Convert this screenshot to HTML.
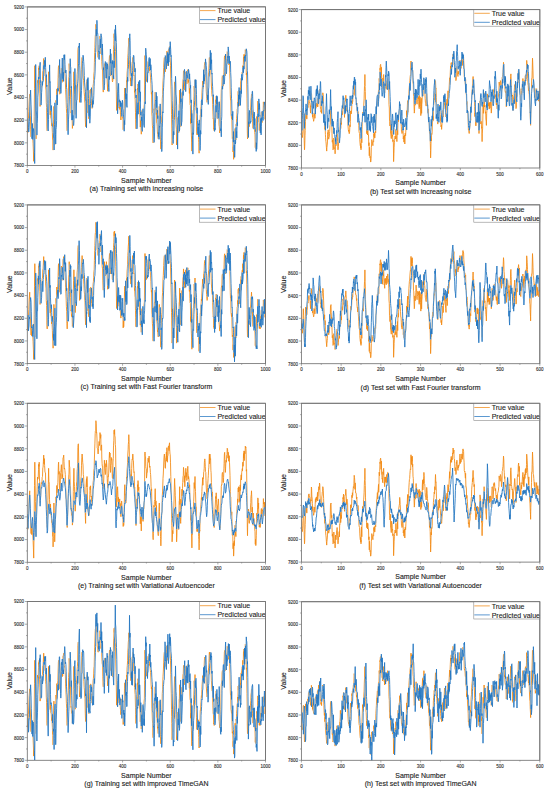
<!DOCTYPE html>
<html><head><meta charset="utf-8"><title>Figure</title>
<style>
html,body{margin:0;padding:0;background:#fff;width:550px;height:794px;overflow:hidden}
svg{display:block}
text{font-family:"Liberation Sans", sans-serif;fill:#222}
.tk{font-size:4.5px;stroke:#3a3a3a;stroke-width:0.1px}
.lb{font-size:7px;stroke:#222;stroke-width:0.12px}
.lg{font-size:7px;stroke:#222;stroke-width:0.1px}
</style></head><body>
<svg width="550" height="794" viewBox="0 0 550 794">
<rect width="550" height="794" fill="#fff"/>
<clipPath id="ca"><rect x="27.3" y="6.9" width="238.2" height="158.6"/></clipPath><g clip-path="url(#ca)">
<path d="M27 118.6 27.3 121.8 27.5 130.1 27.8 132.6 28 130.8 28.4 119.6 28.8 111.3 29.2 101.2 29.7 94.2 30 107.1 30.4 115.3 30.7 129.2 31.1 136.9 31.4 127 31.8 138 32.2 128.9 32.5 126.7 32.8 138.1 33.1 143.5 33.4 151.2 33.7 161.3 34 139.2 34.2 116.8 34.5 88.8 34.8 65.7 35.1 83.4 35.4 105 35.7 117.2 36 138.9 36.3 120.7 36.6 116.1 36.9 99.6 37.2 90.1 37.5 80.4 37.7 82.8 38 82.1 38.2 81.9 38.5 73.1 38.7 67.9 39 69.9 39.2 65.7 39.4 79.4 39.6 85.1 39.9 93.2 40.1 106.4 40.4 102.8 40.7 99 41 89.9 41.3 86 41.6 86.6 41.9 87.1 42.2 80.6 42.5 79.9 42.8 71.3 43.1 70.6 43.4 64.9 43.7 58.5 44 67.2 44.3 62.1 44.6 68.9 45 75.8 45.2 76.1 45.5 76.1 45.7 87 46 90.1 46.3 102.4 46.6 107.5 46.9 126.1 47.2 130.8 47.6 119.3 47.9 103.8 48.3 88.1 48.6 71.8 48.9 85.2 49.2 85.8 49.5 103.2 49.9 110.4 50.2 114.9 50.5 107.5 50.8 117.9 51.1 118.6 51.3 119.6 51.6 125.7 51.8 122.9 52.1 126.7 52.4 132.5 52.6 139.8 52.9 140.8 53.1 150.1 53.3 141.6 53.5 127.8 53.7 119.3 53.9 106.4 54.1 114 54.3 130 54.5 137.8 54.7 145 55.1 133.1 55.4 125.2 55.7 116.4 56 100.3 56.4 104.8 56.8 88.9 57.2 96.1 57.6 90.1 57.9 85.8 58.1 77.5 58.4 67.8 58.6 65.7 58.9 77.8 59.2 74.9 59.5 89.3 59.8 94.2 60.2 93.7 60.5 76.6 60.8 76.2 61.1 71.8 61.4 68.1 61.7 75.8 62 82.4 62.3 77.9 62.7 81.1 63 61.2 63.4 61.1 63.7 58.5 64 65.1 64.3 72.4 64.6 71.7 64.9 73.8 65.3 78 65.6 89.2 65.9 95.1 66.2 102.3 66.4 108.6 66.7 113.6 66.9 125.2 67.2 130.8 67.5 123.4 67.8 113.1 68.1 104 68.4 96.2 68.6 83 68.8 78 69 76.5 69.2 63.6 69.5 69.5 69.8 71.1 70.2 88.8 70.5 90.1 70.7 99.3 71 112.7 71.2 111.7 71.5 118.6 71.8 118.3 72.1 115.9 72.4 128.4 72.7 124.7 73 121.6 73.3 95 73.6 82.4 73.9 71.8 74.2 84.8 74.5 89.8 74.8 102.7 75.2 114.5 75.5 107 75.8 103.1 76.1 100.5 76.4 90.1 76.6 85.6 76.9 84.6 77.1 74.7 77.4 71.8 77.7 67 77.9 51.1 78.2 47.7 78.4 47.3 78.7 64.2 79 72.5 79.3 90.9 79.6 102.3 79.9 99.4 80.3 97.4 80.6 90.2 80.9 81.9 81.2 79.9 81.5 69.3 81.8 60.9 82.1 57.5 82.4 59.7 82.7 65.8 83 68.3 83.3 77.9 83.6 80.3 83.9 86.7 84.2 92.6 84.5 96.2 84.8 102.5 85 103.8 85.3 118.8 85.6 126.7 85.7 118.5 85.8 112.7 85.9 101.5 86 90.1 86.3 85 86.5 82.1 86.8 90.4 87 79.9 87.3 91 87.5 103.5 87.8 112.8 88 112.5 88.3 110.8 88.6 117.1 88.8 118.9 89.1 118.6 89.3 113.7 89.6 106.5 89.8 98 90.1 90.1 90.3 93.3 90.6 89.2 90.8 97.1 91.1 100.3 91.4 99.3 91.6 104.8 91.9 104.5 92.1 108.4 92.4 105.3 92.6 100.5 92.9 92.8 93.1 86 93.4 83.7 93.7 79.3 93.9 73.6 94.2 71.8 94.4 62.5 94.7 52.5 94.9 47.4 95.2 37.2 95.4 34.7 95.7 34.4 95.9 24.3 96.2 27 96.5 36.6 96.7 36.2 97 42.4 97.2 51.4 97.5 52.2 97.7 52.2 98 57.1 98.2 57.5 98.5 52.2 98.8 47.2 99 45 99.3 45.3 99.5 49 99.8 42.4 100 36.1 100.3 39.2 100.5 41.8 100.8 38.1 101 53.9 101.3 49.4 101.6 48.4 101.8 61.5 102.1 66.8 102.3 69.7 102.6 69.6 102.8 82.1 103.1 90.5 103.3 92.1 103.6 86.8 103.9 78.9 104.1 74.5 104.4 63.6 104.6 67.8 104.9 72.1 105.1 73.8 105.4 77.9 105.6 76.8 105.9 67 106.1 70.3 106.4 63.6 106.7 67.2 106.9 70.5 107.2 81.9 107.4 86 107.7 91.2 107.9 86.8 108.2 79.4 108.4 79.9 108.7 76.6 109 65.9 109.2 61.1 109.5 55.5 109.7 60.9 110 56.5 110.2 71.5 110.5 75.8 110.7 68.7 111 67 111.2 60.8 111.5 63.6 111.8 62.2 112 69 112.3 80.6 112.5 81.9 112.8 80.4 113 65.6 113.3 61.8 113.5 49.4 113.8 44.3 114.1 33.7 114.3 37.8 114.6 33.1 114.8 39.4 115.1 40.6 115.3 48 115.6 51.4 115.8 68.4 116.1 77.5 116.3 89.8 116.6 110.4 116.9 104.5 117.1 99.4 117.4 93.8 117.6 90.1 117.9 98.1 118.1 105.1 118.4 100.6 118.6 106.4 118.9 108.1 119.2 108.1 119.4 106.1 119.7 102.3 119.9 109.5 120.2 106.9 120.4 114.4 120.7 114.5 120.9 120 121.2 112.6 121.5 104.4 121.7 104.3 122 110.3 122.2 116.5 122.5 116.5 122.7 118.6 123 118.9 123.2 129.8 123.5 121.3 123.7 128.8 124 120.6 124.3 108.3 124.5 93.5 124.8 88 125 97.5 125.3 98.6 125.5 97.2 125.8 106.4 126 102.6 126.3 92.4 126.6 80.5 126.8 81.9 127.1 73.1 127.3 70.8 127.6 66.1 127.8 57.5 128.1 53.3 128.3 48 128.6 44.9 128.8 38.2 129.1 45.7 129.4 59.6 129.6 64 129.9 71.8 130.1 76.5 130.4 81 130.6 78.3 130.9 86 131.1 78.1 131.4 81.9 131.7 72.1 131.9 65.7 132.2 62.5 132.4 62.9 132.7 57.6 132.9 57.5 133.2 63.2 133.4 64 133.7 72.4 133.9 75.8 134.2 75.2 134.5 92.3 134.7 90.6 135 98.2 135.2 99.6 135.5 112.6 135.7 119.6 136 128.8 136.2 122.7 136.5 111 136.8 110.5 137 102.3 137.3 112.1 137.5 88.1 137.8 89.9 138 84 138.3 87.3 138.5 93.9 138.8 90.5 139 102.3 139.3 101.8 139.6 112.3 139.8 114.4 140.1 118.6 140.3 127.1 140.6 119.9 140.8 125.4 141.1 126.7 141.3 134.2 141.6 115.5 141.9 110.9 142.1 110.4 142.4 113.9 142.6 117.4 142.9 124.5 143.1 124.7 143.4 120.6 143.6 112.5 143.9 111.8 144.1 106.4 144.4 104.1 144.6 86 144.8 57.2 145 55.5 145.3 59 145.5 60.2 145.8 70.2 146 71.8 146.3 72.1 146.5 81.5 146.8 78.5 147 75.8 147.3 75.8 147.6 69.5 147.8 65 148.1 61.6 148.3 62.4 148.6 65.7 148.8 62.2 149.1 59.6 149.3 61.2 149.6 70.7 149.8 69.5 150.1 71.8 150.4 76 150.6 77.8 150.9 83.3 151.1 90.1 151.4 94.2 151.6 92.2 151.9 114 152.1 116.5 152.4 125.4 152.7 128.9 152.9 140.5 153.2 143 153.4 136.6 153.7 128.2 153.9 108.8 154.2 110.4 154.4 104.9 154.7 103.4 154.9 103.1 155.2 92.1 155.5 105 155.7 109 156 104.3 156.2 114.5 156.5 108.8 156.7 122.9 157 123.8 157.2 126.7 157.5 133.6 157.8 132.3 158 136.7 158.3 138.9 158.5 124.8 158.8 124.4 159 112.7 159.3 106.4 159.5 114.9 159.8 122.4 160 127.3 160.3 134.9 160.5 139.7 160.6 141.9 160.8 148.6 160.9 149.1 161.1 143 161.3 130.7 161.5 122.3 161.7 116.5 162 114.8 162.3 98.8 162.6 94.5 163 81.9 163.3 77.4 163.7 67.5 164 60.7 164.4 57.5 164.6 61.6 164.9 65.7 165.1 70.6 165.4 71.8 165.7 62.7 165.9 61.3 166.2 59.2 166.4 55.5 166.7 64.4 166.9 51.2 167.2 64.9 167.4 65.7 167.7 59.4 168 59.2 168.2 51.5 168.5 49.4 168.7 50.1 169 54.1 169.2 48.5 169.5 46.3 169.7 52.9 170 57.5 170.2 57.9 170.5 65.7 170.8 80 171 89.3 171.3 99.1 171.5 114.5 171.7 122 171.8 128.9 172 140.4 172.1 145 172.4 140.3 172.6 133.8 172.9 137.1 173.2 126.7 173.5 119.4 173.9 109.4 174.2 95.5 174.6 81.9 174.8 87.6 175.1 92.5 175.3 99.2 175.6 106.4 175.9 119.8 176.1 126.1 176.4 129.5 176.6 145 176.9 138.3 177.1 126.2 177.4 125.8 177.6 118.6 177.9 117.4 178.2 120.7 178.4 129.7 178.7 132.8 178.9 121.8 179.2 104.9 179.4 103.7 179.7 90.1 179.9 107.8 180.2 102.5 180.5 124.8 180.7 126.7 181 117.9 181.2 112.5 181.5 107.7 181.7 102.3 182 92.5 182.2 99.3 182.5 92 182.7 86 183 80 183.3 78.8 183.5 70.8 183.8 73.8 184 76.5 184.3 85.7 184.5 79.2 184.8 90.1 185 83.8 185.3 81.5 185.6 80.5 185.8 71.8 186.1 80.2 186.3 76.1 186.6 78 186.8 84 187.1 82.2 187.3 75.4 187.6 72.1 187.8 69.7 188.1 77.1 188.4 82.5 188.6 79.9 188.9 81.9 189.1 85.8 189.4 93.4 189.6 88.2 189.9 100.3 190.1 104.8 190.4 105.2 190.7 123.5 190.9 118.6 191.2 129.6 191.4 135.4 191.7 142.2 191.9 151.1 192.2 133 192.4 137.7 192.7 133.2 192.9 118.6 193.2 110.1 193.5 110.1 193.7 104.7 194 96.2 194.2 86 194.5 91.8 194.7 89.3 195 79.9 195.2 88.4 195.5 94.9 195.8 105.9 196 110.4 196.3 110.4 196.5 123 196.8 132.9 197 134.9 197.3 127.9 197.5 134.7 197.8 127.1 198 126.7 198.3 125.1 198.6 139.5 198.8 142.7 199.1 153.2 199.3 146.8 199.6 133.3 199.8 134.4 200.1 122.6 200.3 115.6 200.6 115.9 200.9 108.1 201.1 106.4 201.4 101 201.6 102.9 201.9 95 202.1 90.1 202.4 86.5 202.6 81.1 202.9 88.6 203.1 81.9 203.4 82.3 203.7 75.6 203.9 75.3 204.2 71.8 204.4 65.6 204.6 63.7 204.8 62.4 205 63.6 205.3 70.1 205.5 75 205.8 75.9 206 84 206.3 91.5 206.6 96.2 206.8 98.4 207.1 102.3 207.3 101.3 207.6 91 207.8 86.6 208.1 81.9 208.3 79.2 208.6 72.6 208.8 71.4 209.1 63.6 209.4 57.6 209.6 67.2 209.9 57.5 210.1 59.6 210.4 63 210.6 62.2 210.9 74.1 211.1 75.8 211.4 86 211.7 90.3 211.9 94.4 212.2 96.2 212.4 95.6 212.7 104.3 212.9 111.1 213.2 118.6 213.4 117.9 213.7 129.1 213.9 128.5 214.2 130.8 214.5 125.6 214.7 122.5 215 111.7 215.2 110.4 215.5 103.3 215.7 99.8 216 101.7 216.2 96.2 216.5 103.1 216.8 109.7 217 117.3 217.3 118.6 217.5 109.1 217.8 108.2 218 106.9 218.3 102.3 218.5 103.1 218.8 112.4 219 124.6 219.3 126.7 219.6 132.1 219.8 133 220.1 129.9 220.3 130.8 220.6 119.8 220.8 114.7 221.1 98.8 221.3 90.1 221.6 87.9 221.9 88.2 222.1 77.9 222.4 75.8 222.6 76 222.9 80.9 223.1 85.8 223.4 86 223.6 80.8 223.9 72.4 224.1 66.8 224.4 57.5 224.7 55.8 224.9 63.3 225.2 71.9 225.4 75.8 225.7 69.6 225.9 65.4 226.2 63.4 226.4 65.7 226.7 58.7 227 58.3 227.2 51.7 227.5 52.4 227.7 54.6 228 61.7 228.2 55.7 228.5 57.5 228.7 64.6 229 62.7 229.2 59.2 229.5 65.7 229.8 73.3 230 79.1 230.3 94.7 230.5 100.3 230.8 100.3 231 114.7 231.3 116.3 231.5 118.6 231.8 115.1 232.1 130.8 232.3 138.5 232.6 136.9 232.8 139.4 233.1 152 233.3 146.6 233.6 159.3 233.8 156.2 234.1 144.6 234.3 149 234.6 143 234.9 133.9 235.1 128.5 235.4 138.5 235.6 134.9 235.9 139.9 236.1 124.4 236.4 125.9 236.6 118.6 236.9 114.9 237.2 109.2 237.4 108.8 237.7 102.3 237.9 105.8 238.2 91.3 238.4 95.4 238.7 90.1 238.9 94.5 239.2 90.5 239.5 105.6 239.7 102.3 240 104.9 240.2 88.3 240.5 93.9 240.7 81.9 241 80.6 241.2 78.2 241.5 83.3 241.7 75.8 242 74.2 242.3 72 242.5 74.2 242.8 65.7 243 69.8 243.3 67.2 243.5 57.1 243.8 61.6 244 54.3 244.3 64 244.6 54.9 244.8 57.5 245.1 56.3 245.3 49.7 245.6 51.4 245.8 50.4 246.1 54.2 246.3 74.7 246.6 73.1 246.8 86 247 98.8 247.2 111.7 247.3 130.5 247.5 138.9 247.7 126.7 248 125.6 248.2 118.3 248.5 112.5 248.7 118.1 248.9 121.5 249.1 121.3 249.3 126.7 249.6 123.6 249.9 117.1 250.2 116.4 250.5 110.4 250.8 106 251 99.7 251.3 98.1 251.5 94.2 251.8 101.7 252 115.3 252.3 110.5 252.6 118.6 252.8 121.8 253.1 128.4 253.3 116.4 253.6 126.7 253.9 121.8 254.3 126.1 254.7 132.4 255 134.9 255.3 147.6 255.5 142.5 255.8 148.8 256 147.1 256.3 139.1 256.5 123.1 256.8 116.5 257 118.6 257.3 118.5 257.6 111.2 257.8 101.2 258.1 102.3 258.3 111.8 258.6 106.4 258.8 122.1 259.1 122.6 259.3 130.4 259.6 123.7 259.9 124.4 260.1 130.8 260.4 130.1 260.6 118.3 260.9 122 261.1 114.5 261.4 111.8 261.6 121.8 261.9 121 262.1 122.6 262.4 117.9 262.7 113 262.9 114.4 263.2 110.4 263.4 101.9 263.7 107.3 263.9 105.8 264.2 106.4 264.5 111.1 264.8 105.5 265.1 119.3 265.4 114.5" fill="none" stroke="#f28c18" stroke-width="0.88" stroke-linejoin="round"/>
<path d="M28 118.3 28.2 121.6 28.5 127.7 28.7 132 29 129.8 29.4 121.7 29.8 106.8 30.2 97.2 30.6 90.1 31 104.1 31.3 111 31.7 126 32 138.8 32.4 123.5 32.7 139.5 33.1 132.9 33.5 128.5 33.8 131.9 34.1 145.1 34.4 152.5 34.7 163.5 34.9 133.9 35.2 116.9 35.5 82 35.7 64.5 36 82.8 36.3 110.2 36.6 115 36.9 135.1 37.2 123.4 37.5 118.1 37.8 97.2 38.2 92 38.4 79.9 38.7 76.9 38.9 79 39.2 78.7 39.4 70.4 39.7 65.7 39.9 65.3 40.2 62.3 40.4 79.1 40.6 83.2 40.8 91.2 41 105.1 41.3 101.8 41.6 92.6 41.9 88.9 42.2 81.4 42.5 85.4 42.8 81.4 43.2 81.5 43.5 78.9 43.8 65.4 44.1 69.3 44.4 60.4 44.7 61 45 66.5 45.3 57.3 45.6 67.3 45.9 73.7 46.2 77.3 46.4 74.7 46.7 86.6 46.9 85.1 47.2 103.5 47.5 112.6 47.8 128.1 48.2 131 48.5 119.3 48.9 99.5 49.2 86 49.6 64.9 49.9 82.4 50.2 81.7 50.5 98.9 50.8 110.6 51.1 109.4 51.4 105.6 51.7 112.8 52 122.2 52.3 123.5 52.5 126.5 52.8 126.4 53 126.7 53.3 132.7 53.6 137.6 53.8 137.3 54.1 150 54.3 139 54.5 124.7 54.7 118.9 54.9 102.8 55.1 106.9 55.3 127.9 55.5 134.8 55.7 144 56 129.3 56.3 127.6 56.6 120.5 56.9 94.9 57.3 105 57.7 88.2 58.1 91.3 58.6 88.5 58.8 87.9 59.1 77.6 59.3 69.6 59.6 59.5 59.9 73.7 60.2 73.7 60.5 89.2 60.8 93.4 61.1 91.8 61.4 73.6 61.7 72.6 62 71 62.3 58 62.6 78.6 62.9 79.6 63.3 72.3 63.6 81.4 64 54.8 64.3 59.7 64.7 54.7 65 64.4 65.3 72.5 65.6 73 65.9 70 66.2 74.8 66.5 87.3 66.8 89.3 67.1 102.5 67.4 107.7 67.6 108.8 67.9 128.3 68.1 134.7 68.5 119.2 68.8 113.8 69.1 106.1 69.4 96.8 69.6 77.6 69.8 71.2 70 73.4 70.2 58.7 70.5 66.3 70.8 67.8 71.1 88.2 71.4 86.4 71.7 97.1 71.9 120.1 72.2 110.1 72.4 119.8 72.7 118.2 73 115.4 73.3 125.4 73.7 125.5 74 120.6 74.3 94.8 74.6 85.1 74.9 68.5 75.2 84.1 75.5 84.5 75.8 101.6 76.1 118.3 76.4 106 76.7 100.3 77 100.1 77.3 88 77.6 83.3 77.8 81.9 78.1 78.3 78.3 67.1 78.6 63.3 78.9 46.1 79.1 47.7 79.4 43 79.7 65.4 80 70.9 80.3 89.9 80.6 97.9 80.9 102.5 81.2 98.4 81.5 90.4 81.8 80 82.1 76.9 82.4 63.3 82.7 60.7 83 55.2 83.3 55.8 83.7 61.4 84 66.2 84.3 75.6 84.6 82.9 84.9 87 85.2 89.1 85.5 91.3 85.7 100.3 86 99.8 86.3 118.4 86.5 127.7 86.6 119.6 86.7 112.8 86.8 99.2 87 89.3 87.2 79.6 87.5 78.9 87.7 90.2 88 77.6 88.2 84.9 88.5 98.4 88.7 107 89 116.4 89.2 105 89.5 115.6 89.8 123.2 90 120.7 90.3 116.1 90.5 103.3 90.8 97.9 91 96.1 91.3 90.8 91.5 87.7 91.8 94.1 92.1 98.4 92.3 98.6 92.6 107.5 92.8 100.7 93.1 103.4 93.3 104.3 93.6 99.8 93.8 95.3 94.1 86.3 94.3 80.3 94.6 79.3 94.9 75.1 95.1 71.1 95.4 59.8 95.6 52.4 95.9 44.2 96.1 29.3 96.4 35.9 96.6 28.2 96.9 20.3 97.2 23.3 97.4 33.5 97.7 33.2 97.9 36.4 98.2 51.6 98.4 50.9 98.7 51 98.9 59 99.2 59.5 99.4 54.5 99.7 50.6 100 44.4 100.2 39 100.5 47.9 100.7 40.4 101 33.8 101.2 35.2 101.5 37 101.7 37.8 102 54.9 102.3 44 102.5 47.5 102.8 59.1 103 64 103.3 70 103.5 67.7 103.8 79.4 104 89.9 104.3 85.7 104.6 84 104.8 76 105.1 68.6 105.3 61.5 105.6 66.3 105.8 68.3 106.1 71.5 106.3 78.2 106.6 78.2 106.8 62.6 107.1 69.2 107.4 64 107.6 64.7 107.9 66.1 108.1 78.1 108.4 83.9 108.6 87.4 108.9 91.5 109.1 76.3 109.4 79.5 109.7 75.4 109.9 65.4 110.2 57.4 110.4 49 110.7 63.2 110.9 53.7 111.2 70.2 111.4 75.1 111.7 70.5 111.9 67.2 112.2 61.9 112.5 63.8 112.7 60.4 113 68 113.2 77.6 113.5 75.7 113.7 79.1 114 61.1 114.2 67.7 114.5 51.6 114.8 45.1 115 29.5 115.3 40.8 115.5 25 115.8 33.1 116 35.3 116.3 42.6 116.5 49.1 116.8 67.1 117 81.4 117.3 91.6 117.6 113.8 117.8 104.9 118.1 97.7 118.3 89.9 118.6 83.4 118.8 93.6 119.1 102.3 119.3 100.8 119.6 99.8 119.9 102.6 120.1 106.9 120.4 101.2 120.6 101 120.9 106.5 121.1 102.7 121.4 109 121.6 112.6 121.9 116.5 122.1 109 122.4 100.2 122.7 102.3 122.9 108.5 123.2 109.6 123.4 114.1 123.7 118 123.9 120.3 124.2 131.2 124.4 120.5 124.7 124.7 125 117.1 125.2 109 125.5 88.7 125.7 88 126 98.9 126.2 93.6 126.5 96.6 126.7 105 127 107.4 127.2 93.4 127.5 77.1 127.8 81.4 128 68.5 128.3 68.5 128.5 64.7 128.8 55.6 129 51.7 129.3 42.7 129.5 36.7 129.8 33.8 130.1 40.3 130.3 55.5 130.6 68.1 130.8 73.6 131.1 74.7 131.3 75.9 131.6 73.2 131.8 86.1 132.1 79.7 132.3 79.8 132.6 70.6 132.9 64.2 133.1 63.2 133.4 55.2 133.6 55.4 133.9 55.9 134.1 63.4 134.4 62.7 134.6 67 134.9 72 135.2 68.4 135.4 91.2 135.7 89.1 135.9 97.9 136.2 95 136.4 108.1 136.7 123.1 136.9 128.9 137.2 126.9 137.5 110.8 137.7 104.8 138 102.6 138.2 114.2 138.5 84 138.7 81.7 139 82.9 139.2 84.2 139.5 92.3 139.7 80.2 140 101.6 140.3 91.8 140.5 108.1 140.8 115.2 141 111.9 141.3 120.7 141.5 117 141.8 128.7 142 129.9 142.3 131.4 142.6 116.2 142.8 110.1 143.1 108.7 143.3 112.7 143.6 113.4 143.8 125.4 144.1 126.7 144.3 127.4 144.6 113.9 144.8 103.7 145.1 101.7 145.3 103.9 145.5 84.1 145.7 48.2 146 51.5 146.2 54.8 146.5 57 146.7 67.6 147 72.5 147.2 74.5 147.5 82.3 147.7 74 148 71.9 148.2 72.4 148.5 67.4 148.8 61.6 149 58.2 149.3 57.5 149.5 66.3 149.8 62.3 150 59.8 150.3 58.6 150.5 70.1 150.8 64.7 151.1 66.7 151.3 72.3 151.6 77.2 151.8 80.6 152.1 84.7 152.3 92.2 152.6 90.8 152.8 112.9 153.1 113.1 153.3 124.4 153.6 126.7 153.9 139.2 154.1 142.4 154.4 138 154.6 132.1 154.9 110.8 155.1 110 155.4 101.2 155.6 100 155.9 99.8 156.2 92.3 156.4 94.9 156.7 107.7 156.9 96.2 157.2 112.6 157.4 110.2 157.7 118.6 157.9 115.6 158.2 128.8 158.4 136.7 158.7 132.5 159 139.3 159.2 135.6 159.5 126.2 159.7 127.2 160 111.8 160.2 103.9 160.5 115.7 160.7 123.2 161 123 161.3 137.2 161.4 140.5 161.6 141.3 161.7 151.6 161.9 151.2 162.1 144.3 162.3 127.9 162.5 123.1 162.7 111.7 163 113 163.3 91.9 163.6 87.7 163.9 80.8 164.3 74.7 164.6 65 165 59.4 165.3 55.6 165.6 56.6 165.8 63.9 166.1 68.9 166.4 68.9 166.6 60.4 166.9 58.3 167.1 55.3 167.4 52.3 167.6 63.4 167.9 54.7 168.1 61 168.4 65.8 168.7 53.6 168.9 62.1 169.2 48.4 169.4 47.5 169.7 51.5 169.9 54.8 170.2 41.7 170.4 45.1 170.7 49.6 170.9 56.6 171.2 55.4 171.5 65 171.7 78.5 172 86.8 172.2 100.6 172.5 108.8 172.6 119.6 172.8 125.2 172.9 139.5 173.1 143.5 173.3 139.2 173.6 131.4 173.9 134.9 174.1 120.7 174.5 117.6 174.8 108 175.2 90.8 175.5 76.3 175.8 82.3 176 94.1 176.3 96.9 176.6 105.1 176.8 117.4 177.1 123.5 177.3 125.9 177.6 149.1 177.8 132.5 178.1 125.3 178.3 124 178.6 115.6 178.9 110.7 179.1 115.2 179.4 131.3 179.6 129.8 179.9 122.7 180.1 104.2 180.4 102.8 180.6 88.9 180.9 102.1 181.1 98.7 181.4 125.7 181.7 122.4 181.9 121.5 182.2 109.6 182.4 106 182.7 97.6 182.9 91.3 183.2 95.5 183.4 89.4 183.7 80.6 184 81 184.2 71.8 184.5 69.4 184.7 72 185 75.5 185.2 81.1 185.5 80.2 185.7 91.6 186 82.6 186.2 80.6 186.5 78.2 186.8 71.2 187 76 187.3 75.6 187.5 77.2 187.8 78.4 188 73 188.3 73 188.5 69.3 188.8 70.7 189.1 75 189.3 79.1 189.6 73.8 189.8 79.4 190.1 81.9 190.3 88.3 190.6 85.3 190.8 101.2 191.1 102.9 191.3 99.9 191.6 123 191.9 113.5 192.1 123.7 192.4 135.7 192.6 139.9 192.9 154.1 193.1 132.6 193.4 134.4 193.6 132.7 193.9 120.4 194.2 107.4 194.4 105.1 194.7 100.6 194.9 91.4 195.2 79.6 195.4 85.6 195.7 87.9 195.9 79.8 196.2 84.6 196.5 94.7 196.7 106.5 197 113.4 197.2 107.9 197.5 120.6 197.7 133.2 198 134 198.2 127 198.5 136.8 198.7 123.7 199 125.1 199.3 119.9 199.5 137.5 199.8 139.5 200 150.5 200.3 145.4 200.5 130.5 200.8 134.2 201 123 201.3 109.2 201.6 116.8 201.8 99.5 202.1 105 202.3 100.9 202.6 99.3 202.8 92.3 203.1 85.7 203.3 86.9 203.6 69.7 203.8 84.1 204.1 74.5 204.4 81.1 204.6 77.3 204.9 76.8 205.1 71.6 205.3 63.9 205.5 58.9 205.8 63.2 206 62.7 206.2 65.3 206.5 69.1 206.7 71.9 207 85.3 207.2 93.7 207.5 99.7 207.8 95.1 208 100.4 208.3 104.4 208.5 90.1 208.8 87.1 209 76.3 209.3 76.3 209.5 70.4 209.8 68.3 210.1 60 210.3 50.3 210.6 69.8 210.8 55.2 211.1 52.8 211.3 63.6 211.6 59.8 211.8 74.2 212.1 73.2 212.3 82 212.6 86.4 212.9 93.7 213.1 96.5 213.4 94.8 213.6 104.2 213.9 112.9 214.1 118 214.4 119.3 214.6 131.4 214.9 128.4 215.2 129.7 215.4 123.2 215.7 117.8 215.9 105.4 216.2 112.2 216.4 100.8 216.7 95.7 216.9 103.9 217.2 96.4 217.4 101.2 217.7 110.9 218 115.6 218.2 118.5 218.5 112.5 218.7 109.3 219 104 219.2 101.7 219.5 103.8 219.7 110 220 122.1 220.3 130.9 220.5 130.5 220.8 128.7 221 129.7 221.3 136.8 221.5 120.5 221.8 116.2 222 90.6 222.3 86.2 222.6 89.1 222.8 85.1 223.1 79.3 223.3 75 223.6 75.1 223.8 84.3 224.1 83.4 224.3 83.8 224.6 80 224.8 71.4 225.1 60.2 225.4 58.7 225.6 54 225.9 60.9 226.1 72.4 226.4 73.8 226.6 71.9 226.9 64.3 227.1 64.1 227.4 61.9 227.7 56.2 227.9 57.7 228.2 46.9 228.4 48.6 228.7 52.6 228.9 63.4 229.2 56 229.4 58.2 229.7 63.9 229.9 63.4 230.2 61.2 230.5 63.9 230.7 72.5 231 78.8 231.2 87.7 231.5 98.7 231.7 99.9 232 115.8 232.2 114.1 232.5 119.9 232.8 111.3 233 128.9 233.3 142.1 233.5 131.6 233.8 137.7 234 150.8 234.3 145.1 234.5 157.3 234.8 157.3 235 140 235.3 144 235.6 142.9 235.8 128.5 236.1 127.4 236.3 137.1 236.6 131.5 236.8 138 237.1 122.4 237.3 125.8 237.6 115.1 237.9 112.7 238.1 103.2 238.4 106.3 238.6 94.8 238.9 103.9 239.1 87.5 239.4 99.3 239.6 91.4 239.9 92.2 240.1 91.2 240.4 105.4 240.7 97.9 240.9 97.1 241.2 89.7 241.4 93.6 241.7 74.3 241.9 80.4 242.2 78.8 242.4 79.7 242.7 76.2 243 67.4 243.2 69.6 243.5 72.7 243.7 65.9 244 69.2 244.2 66.1 244.5 56.4 244.7 57.9 245 56.4 245.2 61.5 245.5 55 245.8 55.6 246 53.5 246.3 48.8 246.5 50 246.8 51.2 247 54.1 247.3 70.8 247.5 71.9 247.8 84.3 248 95 248.1 107.6 248.3 131 248.4 137.5 248.7 121.8 248.9 124.1 249.2 117 249.4 110.4 249.6 112.7 249.8 118 250 123.5 250.2 123.3 250.6 121.4 250.9 122.1 251.2 115.8 251.5 107.1 251.7 98.2 252 98 252.2 91.4 252.5 91.2 252.7 96.7 253 108.9 253.3 113.2 253.5 116.6 253.8 122.9 254 129.2 254.3 112.1 254.5 125.1 254.9 118.5 255.2 126.7 255.6 131.8 256 132.2 256.2 151.4 256.5 142.8 256.7 149.3 257 144.1 257.2 139 257.5 116.8 257.7 115.5 258 113.7 258.3 117 258.5 107.9 258.8 98.9 259 100.5 259.3 109.4 259.5 103.6 259.8 116.1 260 115.6 260.3 132.9 260.6 123.8 260.8 118.5 261.1 134.9 261.3 126.6 261.6 117.6 261.8 121.3 262.1 112.5 262.3 111.2 262.6 116.2 262.8 119.2 263.1 120.4 263.4 116.5 263.6 110.3 263.9 110.8 264.1 106.3 264.4 101.9 264.6 102.7 264.9 104.6 265.1 105.2 265.4 108.9 265.8 104.4 266.1 119.4 266.4 111.3" fill="none" stroke="#fff" stroke-width="1.0" stroke-linejoin="round"/>
<path d="M28 118.3 28.2 121.6 28.5 127.7 28.7 132 29 129.8 29.4 121.7 29.8 106.8 30.2 97.2 30.6 90.1 31 104.1 31.3 111 31.7 126 32 138.8 32.4 123.5 32.7 139.5 33.1 132.9 33.5 128.5 33.8 131.9 34.1 145.1 34.4 152.5 34.7 163.5 34.9 133.9 35.2 116.9 35.5 82 35.7 64.5 36 82.8 36.3 110.2 36.6 115 36.9 135.1 37.2 123.4 37.5 118.1 37.8 97.2 38.2 92 38.4 79.9 38.7 76.9 38.9 79 39.2 78.7 39.4 70.4 39.7 65.7 39.9 65.3 40.2 62.3 40.4 79.1 40.6 83.2 40.8 91.2 41 105.1 41.3 101.8 41.6 92.6 41.9 88.9 42.2 81.4 42.5 85.4 42.8 81.4 43.2 81.5 43.5 78.9 43.8 65.4 44.1 69.3 44.4 60.4 44.7 61 45 66.5 45.3 57.3 45.6 67.3 45.9 73.7 46.2 77.3 46.4 74.7 46.7 86.6 46.9 85.1 47.2 103.5 47.5 112.6 47.8 128.1 48.2 131 48.5 119.3 48.9 99.5 49.2 86 49.6 64.9 49.9 82.4 50.2 81.7 50.5 98.9 50.8 110.6 51.1 109.4 51.4 105.6 51.7 112.8 52 122.2 52.3 123.5 52.5 126.5 52.8 126.4 53 126.7 53.3 132.7 53.6 137.6 53.8 137.3 54.1 150 54.3 139 54.5 124.7 54.7 118.9 54.9 102.8 55.1 106.9 55.3 127.9 55.5 134.8 55.7 144 56 129.3 56.3 127.6 56.6 120.5 56.9 94.9 57.3 105 57.7 88.2 58.1 91.3 58.6 88.5 58.8 87.9 59.1 77.6 59.3 69.6 59.6 59.5 59.9 73.7 60.2 73.7 60.5 89.2 60.8 93.4 61.1 91.8 61.4 73.6 61.7 72.6 62 71 62.3 58 62.6 78.6 62.9 79.6 63.3 72.3 63.6 81.4 64 54.8 64.3 59.7 64.7 54.7 65 64.4 65.3 72.5 65.6 73 65.9 70 66.2 74.8 66.5 87.3 66.8 89.3 67.1 102.5 67.4 107.7 67.6 108.8 67.9 128.3 68.1 134.7 68.5 119.2 68.8 113.8 69.1 106.1 69.4 96.8 69.6 77.6 69.8 71.2 70 73.4 70.2 58.7 70.5 66.3 70.8 67.8 71.1 88.2 71.4 86.4 71.7 97.1 71.9 120.1 72.2 110.1 72.4 119.8 72.7 118.2 73 115.4 73.3 125.4 73.7 125.5 74 120.6 74.3 94.8 74.6 85.1 74.9 68.5 75.2 84.1 75.5 84.5 75.8 101.6 76.1 118.3 76.4 106 76.7 100.3 77 100.1 77.3 88 77.6 83.3 77.8 81.9 78.1 78.3 78.3 67.1 78.6 63.3 78.9 46.1 79.1 47.7 79.4 43 79.7 65.4 80 70.9 80.3 89.9 80.6 97.9 80.9 102.5 81.2 98.4 81.5 90.4 81.8 80 82.1 76.9 82.4 63.3 82.7 60.7 83 55.2 83.3 55.8 83.7 61.4 84 66.2 84.3 75.6 84.6 82.9 84.9 87 85.2 89.1 85.5 91.3 85.7 100.3 86 99.8 86.3 118.4 86.5 127.7 86.6 119.6 86.7 112.8 86.8 99.2 87 89.3 87.2 79.6 87.5 78.9 87.7 90.2 88 77.6 88.2 84.9 88.5 98.4 88.7 107 89 116.4 89.2 105 89.5 115.6 89.8 123.2 90 120.7 90.3 116.1 90.5 103.3 90.8 97.9 91 96.1 91.3 90.8 91.5 87.7 91.8 94.1 92.1 98.4 92.3 98.6 92.6 107.5 92.8 100.7 93.1 103.4 93.3 104.3 93.6 99.8 93.8 95.3 94.1 86.3 94.3 80.3 94.6 79.3 94.9 75.1 95.1 71.1 95.4 59.8 95.6 52.4 95.9 44.2 96.1 29.3 96.4 35.9 96.6 28.2 96.9 20.3 97.2 23.3 97.4 33.5 97.7 33.2 97.9 36.4 98.2 51.6 98.4 50.9 98.7 51 98.9 59 99.2 59.5 99.4 54.5 99.7 50.6 100 44.4 100.2 39 100.5 47.9 100.7 40.4 101 33.8 101.2 35.2 101.5 37 101.7 37.8 102 54.9 102.3 44 102.5 47.5 102.8 59.1 103 64 103.3 70 103.5 67.7 103.8 79.4 104 89.9 104.3 85.7 104.6 84 104.8 76 105.1 68.6 105.3 61.5 105.6 66.3 105.8 68.3 106.1 71.5 106.3 78.2 106.6 78.2 106.8 62.6 107.1 69.2 107.4 64 107.6 64.7 107.9 66.1 108.1 78.1 108.4 83.9 108.6 87.4 108.9 91.5 109.1 76.3 109.4 79.5 109.7 75.4 109.9 65.4 110.2 57.4 110.4 49 110.7 63.2 110.9 53.7 111.2 70.2 111.4 75.1 111.7 70.5 111.9 67.2 112.2 61.9 112.5 63.8 112.7 60.4 113 68 113.2 77.6 113.5 75.7 113.7 79.1 114 61.1 114.2 67.7 114.5 51.6 114.8 45.1 115 29.5 115.3 40.8 115.5 25 115.8 33.1 116 35.3 116.3 42.6 116.5 49.1 116.8 67.1 117 81.4 117.3 91.6 117.6 113.8 117.8 104.9 118.1 97.7 118.3 89.9 118.6 83.4 118.8 93.6 119.1 102.3 119.3 100.8 119.6 99.8 119.9 102.6 120.1 106.9 120.4 101.2 120.6 101 120.9 106.5 121.1 102.7 121.4 109 121.6 112.6 121.9 116.5 122.1 109 122.4 100.2 122.7 102.3 122.9 108.5 123.2 109.6 123.4 114.1 123.7 118 123.9 120.3 124.2 131.2 124.4 120.5 124.7 124.7 125 117.1 125.2 109 125.5 88.7 125.7 88 126 98.9 126.2 93.6 126.5 96.6 126.7 105 127 107.4 127.2 93.4 127.5 77.1 127.8 81.4 128 68.5 128.3 68.5 128.5 64.7 128.8 55.6 129 51.7 129.3 42.7 129.5 36.7 129.8 33.8 130.1 40.3 130.3 55.5 130.6 68.1 130.8 73.6 131.1 74.7 131.3 75.9 131.6 73.2 131.8 86.1 132.1 79.7 132.3 79.8 132.6 70.6 132.9 64.2 133.1 63.2 133.4 55.2 133.6 55.4 133.9 55.9 134.1 63.4 134.4 62.7 134.6 67 134.9 72 135.2 68.4 135.4 91.2 135.7 89.1 135.9 97.9 136.2 95 136.4 108.1 136.7 123.1 136.9 128.9 137.2 126.9 137.5 110.8 137.7 104.8 138 102.6 138.2 114.2 138.5 84 138.7 81.7 139 82.9 139.2 84.2 139.5 92.3 139.7 80.2 140 101.6 140.3 91.8 140.5 108.1 140.8 115.2 141 111.9 141.3 120.7 141.5 117 141.8 128.7 142 129.9 142.3 131.4 142.6 116.2 142.8 110.1 143.1 108.7 143.3 112.7 143.6 113.4 143.8 125.4 144.1 126.7 144.3 127.4 144.6 113.9 144.8 103.7 145.1 101.7 145.3 103.9 145.5 84.1 145.7 48.2 146 51.5 146.2 54.8 146.5 57 146.7 67.6 147 72.5 147.2 74.5 147.5 82.3 147.7 74 148 71.9 148.2 72.4 148.5 67.4 148.8 61.6 149 58.2 149.3 57.5 149.5 66.3 149.8 62.3 150 59.8 150.3 58.6 150.5 70.1 150.8 64.7 151.1 66.7 151.3 72.3 151.6 77.2 151.8 80.6 152.1 84.7 152.3 92.2 152.6 90.8 152.8 112.9 153.1 113.1 153.3 124.4 153.6 126.7 153.9 139.2 154.1 142.4 154.4 138 154.6 132.1 154.9 110.8 155.1 110 155.4 101.2 155.6 100 155.9 99.8 156.2 92.3 156.4 94.9 156.7 107.7 156.9 96.2 157.2 112.6 157.4 110.2 157.7 118.6 157.9 115.6 158.2 128.8 158.4 136.7 158.7 132.5 159 139.3 159.2 135.6 159.5 126.2 159.7 127.2 160 111.8 160.2 103.9 160.5 115.7 160.7 123.2 161 123 161.3 137.2 161.4 140.5 161.6 141.3 161.7 151.6 161.9 151.2 162.1 144.3 162.3 127.9 162.5 123.1 162.7 111.7 163 113 163.3 91.9 163.6 87.7 163.9 80.8 164.3 74.7 164.6 65 165 59.4 165.3 55.6 165.6 56.6 165.8 63.9 166.1 68.9 166.4 68.9 166.6 60.4 166.9 58.3 167.1 55.3 167.4 52.3 167.6 63.4 167.9 54.7 168.1 61 168.4 65.8 168.7 53.6 168.9 62.1 169.2 48.4 169.4 47.5 169.7 51.5 169.9 54.8 170.2 41.7 170.4 45.1 170.7 49.6 170.9 56.6 171.2 55.4 171.5 65 171.7 78.5 172 86.8 172.2 100.6 172.5 108.8 172.6 119.6 172.8 125.2 172.9 139.5 173.1 143.5 173.3 139.2 173.6 131.4 173.9 134.9 174.1 120.7 174.5 117.6 174.8 108 175.2 90.8 175.5 76.3 175.8 82.3 176 94.1 176.3 96.9 176.6 105.1 176.8 117.4 177.1 123.5 177.3 125.9 177.6 149.1 177.8 132.5 178.1 125.3 178.3 124 178.6 115.6 178.9 110.7 179.1 115.2 179.4 131.3 179.6 129.8 179.9 122.7 180.1 104.2 180.4 102.8 180.6 88.9 180.9 102.1 181.1 98.7 181.4 125.7 181.7 122.4 181.9 121.5 182.2 109.6 182.4 106 182.7 97.6 182.9 91.3 183.2 95.5 183.4 89.4 183.7 80.6 184 81 184.2 71.8 184.5 69.4 184.7 72 185 75.5 185.2 81.1 185.5 80.2 185.7 91.6 186 82.6 186.2 80.6 186.5 78.2 186.8 71.2 187 76 187.3 75.6 187.5 77.2 187.8 78.4 188 73 188.3 73 188.5 69.3 188.8 70.7 189.1 75 189.3 79.1 189.6 73.8 189.8 79.4 190.1 81.9 190.3 88.3 190.6 85.3 190.8 101.2 191.1 102.9 191.3 99.9 191.6 123 191.9 113.5 192.1 123.7 192.4 135.7 192.6 139.9 192.9 154.1 193.1 132.6 193.4 134.4 193.6 132.7 193.9 120.4 194.2 107.4 194.4 105.1 194.7 100.6 194.9 91.4 195.2 79.6 195.4 85.6 195.7 87.9 195.9 79.8 196.2 84.6 196.5 94.7 196.7 106.5 197 113.4 197.2 107.9 197.5 120.6 197.7 133.2 198 134 198.2 127 198.5 136.8 198.7 123.7 199 125.1 199.3 119.9 199.5 137.5 199.8 139.5 200 150.5 200.3 145.4 200.5 130.5 200.8 134.2 201 123 201.3 109.2 201.6 116.8 201.8 99.5 202.1 105 202.3 100.9 202.6 99.3 202.8 92.3 203.1 85.7 203.3 86.9 203.6 69.7 203.8 84.1 204.1 74.5 204.4 81.1 204.6 77.3 204.9 76.8 205.1 71.6 205.3 63.9 205.5 58.9 205.8 63.2 206 62.7 206.2 65.3 206.5 69.1 206.7 71.9 207 85.3 207.2 93.7 207.5 99.7 207.8 95.1 208 100.4 208.3 104.4 208.5 90.1 208.8 87.1 209 76.3 209.3 76.3 209.5 70.4 209.8 68.3 210.1 60 210.3 50.3 210.6 69.8 210.8 55.2 211.1 52.8 211.3 63.6 211.6 59.8 211.8 74.2 212.1 73.2 212.3 82 212.6 86.4 212.9 93.7 213.1 96.5 213.4 94.8 213.6 104.2 213.9 112.9 214.1 118 214.4 119.3 214.6 131.4 214.9 128.4 215.2 129.7 215.4 123.2 215.7 117.8 215.9 105.4 216.2 112.2 216.4 100.8 216.7 95.7 216.9 103.9 217.2 96.4 217.4 101.2 217.7 110.9 218 115.6 218.2 118.5 218.5 112.5 218.7 109.3 219 104 219.2 101.7 219.5 103.8 219.7 110 220 122.1 220.3 130.9 220.5 130.5 220.8 128.7 221 129.7 221.3 136.8 221.5 120.5 221.8 116.2 222 90.6 222.3 86.2 222.6 89.1 222.8 85.1 223.1 79.3 223.3 75 223.6 75.1 223.8 84.3 224.1 83.4 224.3 83.8 224.6 80 224.8 71.4 225.1 60.2 225.4 58.7 225.6 54 225.9 60.9 226.1 72.4 226.4 73.8 226.6 71.9 226.9 64.3 227.1 64.1 227.4 61.9 227.7 56.2 227.9 57.7 228.2 46.9 228.4 48.6 228.7 52.6 228.9 63.4 229.2 56 229.4 58.2 229.7 63.9 229.9 63.4 230.2 61.2 230.5 63.9 230.7 72.5 231 78.8 231.2 87.7 231.5 98.7 231.7 99.9 232 115.8 232.2 114.1 232.5 119.9 232.8 111.3 233 128.9 233.3 142.1 233.5 131.6 233.8 137.7 234 150.8 234.3 145.1 234.5 157.3 234.8 157.3 235 140 235.3 144 235.6 142.9 235.8 128.5 236.1 127.4 236.3 137.1 236.6 131.5 236.8 138 237.1 122.4 237.3 125.8 237.6 115.1 237.9 112.7 238.1 103.2 238.4 106.3 238.6 94.8 238.9 103.9 239.1 87.5 239.4 99.3 239.6 91.4 239.9 92.2 240.1 91.2 240.4 105.4 240.7 97.9 240.9 97.1 241.2 89.7 241.4 93.6 241.7 74.3 241.9 80.4 242.2 78.8 242.4 79.7 242.7 76.2 243 67.4 243.2 69.6 243.5 72.7 243.7 65.9 244 69.2 244.2 66.1 244.5 56.4 244.7 57.9 245 56.4 245.2 61.5 245.5 55 245.8 55.6 246 53.5 246.3 48.8 246.5 50 246.8 51.2 247 54.1 247.3 70.8 247.5 71.9 247.8 84.3 248 95 248.1 107.6 248.3 131 248.4 137.5 248.7 121.8 248.9 124.1 249.2 117 249.4 110.4 249.6 112.7 249.8 118 250 123.5 250.2 123.3 250.6 121.4 250.9 122.1 251.2 115.8 251.5 107.1 251.7 98.2 252 98 252.2 91.4 252.5 91.2 252.7 96.7 253 108.9 253.3 113.2 253.5 116.6 253.8 122.9 254 129.2 254.3 112.1 254.5 125.1 254.9 118.5 255.2 126.7 255.6 131.8 256 132.2 256.2 151.4 256.5 142.8 256.7 149.3 257 144.1 257.2 139 257.5 116.8 257.7 115.5 258 113.7 258.3 117 258.5 107.9 258.8 98.9 259 100.5 259.3 109.4 259.5 103.6 259.8 116.1 260 115.6 260.3 132.9 260.6 123.8 260.8 118.5 261.1 134.9 261.3 126.6 261.6 117.6 261.8 121.3 262.1 112.5 262.3 111.2 262.6 116.2 262.8 119.2 263.1 120.4 263.4 116.5 263.6 110.3 263.9 110.8 264.1 106.3 264.4 101.9 264.6 102.7 264.9 104.6 265.1 105.2 265.4 108.9 265.8 104.4 266.1 119.4 266.4 111.3" fill="none" stroke="#2677c2" stroke-width="0.88" stroke-linejoin="round"/>
</g>
<rect x="27.3" y="6.9" width="238.2" height="158.6" fill="none" stroke="#737373" stroke-width="0.85"/>
<line x1="24.9" y1="165.5" x2="27.3" y2="165.5" stroke="#737373" stroke-width="0.6"/>
<text x="24" y="167.4" text-anchor="end" class="tk">7800</text>
<line x1="26" y1="154.17" x2="27.3" y2="154.17" stroke="#737373" stroke-width="0.6"/>
<line x1="24.9" y1="142.84" x2="27.3" y2="142.84" stroke="#737373" stroke-width="0.6"/>
<text x="24" y="144.74" text-anchor="end" class="tk">8000</text>
<line x1="26" y1="131.51" x2="27.3" y2="131.51" stroke="#737373" stroke-width="0.6"/>
<line x1="24.9" y1="120.19" x2="27.3" y2="120.19" stroke="#737373" stroke-width="0.6"/>
<text x="24" y="122.09" text-anchor="end" class="tk">8200</text>
<line x1="26" y1="108.86" x2="27.3" y2="108.86" stroke="#737373" stroke-width="0.6"/>
<line x1="24.9" y1="97.53" x2="27.3" y2="97.53" stroke="#737373" stroke-width="0.6"/>
<text x="24" y="99.43" text-anchor="end" class="tk">8400</text>
<line x1="26" y1="86.2" x2="27.3" y2="86.2" stroke="#737373" stroke-width="0.6"/>
<line x1="24.9" y1="74.87" x2="27.3" y2="74.87" stroke="#737373" stroke-width="0.6"/>
<text x="24" y="76.77" text-anchor="end" class="tk">8600</text>
<line x1="26" y1="63.54" x2="27.3" y2="63.54" stroke="#737373" stroke-width="0.6"/>
<line x1="24.9" y1="52.21" x2="27.3" y2="52.21" stroke="#737373" stroke-width="0.6"/>
<text x="24" y="54.11" text-anchor="end" class="tk">8800</text>
<line x1="26" y1="40.89" x2="27.3" y2="40.89" stroke="#737373" stroke-width="0.6"/>
<line x1="24.9" y1="29.56" x2="27.3" y2="29.56" stroke="#737373" stroke-width="0.6"/>
<text x="24" y="31.46" text-anchor="end" class="tk">9000</text>
<line x1="26" y1="18.23" x2="27.3" y2="18.23" stroke="#737373" stroke-width="0.6"/>
<line x1="24.9" y1="6.9" x2="27.3" y2="6.9" stroke="#737373" stroke-width="0.6"/>
<text x="24" y="8.8" text-anchor="end" class="tk">9200</text>
<line x1="27.3" y1="165.5" x2="27.3" y2="167.7" stroke="#737373" stroke-width="0.6"/>
<text x="27.3" y="173" text-anchor="middle" class="tk">0</text>
<line x1="51.12" y1="165.5" x2="51.12" y2="166.7" stroke="#737373" stroke-width="0.6"/>
<line x1="74.94" y1="165.5" x2="74.94" y2="167.7" stroke="#737373" stroke-width="0.6"/>
<text x="74.94" y="173" text-anchor="middle" class="tk">200</text>
<line x1="98.76" y1="165.5" x2="98.76" y2="166.7" stroke="#737373" stroke-width="0.6"/>
<line x1="122.58" y1="165.5" x2="122.58" y2="167.7" stroke="#737373" stroke-width="0.6"/>
<text x="122.58" y="173" text-anchor="middle" class="tk">400</text>
<line x1="146.4" y1="165.5" x2="146.4" y2="166.7" stroke="#737373" stroke-width="0.6"/>
<line x1="170.22" y1="165.5" x2="170.22" y2="167.7" stroke="#737373" stroke-width="0.6"/>
<text x="170.22" y="173" text-anchor="middle" class="tk">600</text>
<line x1="194.04" y1="165.5" x2="194.04" y2="166.7" stroke="#737373" stroke-width="0.6"/>
<line x1="217.86" y1="165.5" x2="217.86" y2="167.7" stroke="#737373" stroke-width="0.6"/>
<text x="217.86" y="173" text-anchor="middle" class="tk">800</text>
<line x1="241.68" y1="165.5" x2="241.68" y2="166.7" stroke="#737373" stroke-width="0.6"/>
<line x1="265.5" y1="165.5" x2="265.5" y2="167.7" stroke="#737373" stroke-width="0.6"/>
<text x="265.5" y="173" text-anchor="middle" class="tk">1000</text>
<text x="146.4" y="182.8" text-anchor="middle" class="lb">Sample Number</text>
<text x="146.4" y="191.3" text-anchor="middle" class="lb">(a) Training set with increasing noise</text>
<text x="11.9" y="86.2" text-anchor="middle" class="lb" transform="rotate(-90 11.9 86.2)">Value</text>
<rect x="199.5" y="6.9" width="66" height="16.8" fill="#fff" stroke="#8a8a8a" stroke-width="0.6"/>
<line x1="200" y1="10.6" x2="215.5" y2="10.6" stroke="#f28c18" stroke-width="1" opacity="0.75"/>
<line x1="200" y1="19.6" x2="215.5" y2="19.6" stroke="#2677c2" stroke-width="1" opacity="0.75"/>
<text x="217.4" y="13.3" class="lg">True value</text>
<text x="217.4" y="22.3" class="lg">Predicted value</text>
<path d="M27.3 6.9H265.5V165.5" fill="none" stroke="#737373" stroke-width="0.85"/>
<clipPath id="cb"><rect x="301.4" y="9.6" width="238.4" height="158.4"/></clipPath><g clip-path="url(#cb)">
<path d="M301.4 125.3 301.7 128.4 301.9 135.6 302.2 137.4 302.4 137.6 302.7 134.3 302.9 131.8 303.2 114.5 303.4 113.1 303.7 119.8 304 126.2 304.2 140.2 304.5 149.8 304.7 146.6 305 135.4 305.2 130.4 305.5 121.3 305.7 111.7 306 117.8 306.3 111.6 306.5 113.1 306.8 119.1 307 114.6 307.3 113.8 307.5 109.1 307.8 106.8 308 107.4 308.3 105.6 308.5 100.9 308.8 100.1 309.1 100 309.3 102 309.6 103 309.8 103.1 310.1 105.7 310.3 109.5 310.6 113.1 310.8 105.7 311.1 107 311.4 93.1 311.6 94.8 311.9 103.7 312.1 103.5 312.4 109.4 312.6 117.2 312.9 112.9 313.1 118.7 313.4 119.3 313.6 121.3 313.9 120 314.2 115.1 314.4 115.5 314.7 113.1 314.9 118.3 315.2 110.7 315.4 104.8 315.7 105 315.9 108.3 316.2 103.5 316.5 105.8 316.7 103 317 106.4 317.2 103.4 317.5 98.4 317.7 107 318 102.1 318.2 102.1 318.5 94.8 318.8 92.8 319 94 319.3 95.6 319.5 89.1 319.8 90.7 320 100.2 320.3 106.3 320.5 108.8 320.8 109.1 321 112.2 321.3 110.4 321.6 113.4 321.8 103 322.1 101.2 322.3 97.9 322.6 97.7 322.8 92.8 323.1 94.3 323.3 96.8 323.6 104.6 323.9 113.1 324.1 118.7 324.4 123.1 324.6 119.3 324.9 129.4 325.1 125 325.4 134.3 325.6 137.8 325.9 141.6 326.1 143 326.4 147.3 326.7 151.1 326.9 147.7 327.2 145.1 327.4 143 327.7 132.7 327.9 133.5 328.2 129.8 328.4 136.5 328.7 139.2 329 137.6 329.2 137.4 329.5 133.8 329.7 131.5 330 125.3 330.2 124.5 330.5 110.3 330.7 110.2 331 109.1 331.2 117 331.5 123.6 331.8 121.4 332 133.5 332.3 142.2 332.5 139.9 332.8 144.8 333 149.8 333.3 148.8 333.5 148.7 333.8 138 334.1 141.6 334.3 148.6 334.6 148 334.8 147.7 335.1 153.8 335.3 150.7 335.6 141.1 335.8 145.2 336.1 145.7 336.3 143.4 336.6 136.8 336.9 135.2 337.1 133.5 337.4 137 337.6 141.8 337.9 149.7 338.1 149.8 338.4 146.6 338.6 142.6 338.9 142.7 339.2 137.6 339.4 142.7 339.7 130.1 339.9 130.4 340.2 125.3 340.4 118.1 340.7 128.6 340.9 124.9 341.2 121.3 341.4 124.5 341.7 117 342 111 342.2 113.1 342.5 114.6 342.7 112 343 103.6 343.2 105 343.5 100.2 343.7 108.8 344 107.4 344.3 109.1 344.5 117.4 344.8 102.6 345 100.9 345.3 100.9 345.5 101 345.8 95.3 346 98.9 346.3 103 346.5 111 346.8 105.5 347.1 105.1 347.3 109.1 347.6 109.1 347.8 121.5 348.1 126.9 348.3 129.4 348.6 131.4 348.8 129.9 349.1 133.7 349.4 133.5 349.6 131.9 349.9 124.7 350.1 126.8 350.4 121.3 350.6 110.9 350.9 112.1 351.1 114 351.4 113.1 351.7 109.1 351.9 101.4 352.2 103.8 352.4 98.9 352.7 101.5 352.9 97.6 353.2 95.2 353.4 92.8 353.7 93.8 353.9 89.8 354.2 81.4 354.5 83.6 354.7 86.1 355 95.4 355.2 89 355.5 96.9 355.7 99.1 356 99.4 356.2 99.4 356.5 105 356.8 103 357 109.5 357.3 112.3 357.5 113.1 357.8 116.4 358 111.5 358.3 118.1 358.5 121.3 358.8 125.7 359 131.1 359.3 133.1 359.6 133.5 359.8 139.8 360.1 143.9 360.3 145.9 360.6 145.7 360.7 143.5 360.8 148 360.9 145.9 361 149.8 361.3 135.2 361.5 132.9 361.8 142.8 362 129.4 362.3 120.9 362.6 112.4 362.8 114.9 363.1 113.1 363.3 115.6 363.6 105.8 363.8 104.1 364.1 98.9 364.3 91.7 364.5 86.3 364.7 85.6 364.9 74.5 365.1 86.3 365.3 91.4 365.5 103.9 365.7 109.1 366 119.4 366.2 120.4 366.5 128.4 366.7 133.5 367 133.5 367.2 128.8 367.5 135 367.8 129.4 368 132.8 368.3 135.1 368.5 135 368.8 145.7 369 142.7 369.3 155.8 369.5 147.3 369.8 153.8 370 157.6 370.3 156.5 370.6 162 370.8 162 371.1 158.8 371.3 147.7 371.6 144 371.8 139.6 372.1 141.5 372.3 143.1 372.6 144.1 372.9 145.7 373.1 141.4 373.4 142.1 373.6 141.8 373.9 133.5 374.1 136.6 374.4 132.6 374.6 138.1 374.9 137.6 375.1 133.7 375.4 131.2 375.7 132.7 375.9 121.3 376.2 116.4 376.4 113.1 376.7 105.6 376.9 105 377.2 101.8 377.4 98.7 377.7 105.2 378 96.9 378.2 96 378.5 90.5 378.7 98.4 379 88.7 379.2 78.4 379.5 81.9 379.7 77.5 380 68.4 380.1 69.6 380.3 65.3 380.5 64.8 380.6 64.3 380.9 67 381.1 75.5 381.4 67.3 381.6 80.6 381.9 80.6 382.1 85.2 382.4 84.4 382.6 88.7 382.9 78 383.2 80.6 383.4 75 383.7 74.5 383.9 82.2 384.2 89.2 384.4 88.5 384.7 92.8 384.9 83.1 385.2 87.9 385.5 83 385.7 84.6 386 86.3 386.2 89.3 386.5 82.8 386.7 80.6 387 88.1 387.2 85.6 387.5 81.8 387.7 78.5 388 78.7 388.3 86.5 388.5 83.9 388.8 92.8 389 104.5 389.3 108 389.5 120.1 389.8 121.3 390 126 390.3 120.2 390.6 133.6 390.8 133.5 391.1 136.7 391.3 138.6 391.6 127.2 391.8 129.4 392.1 129.4 392.3 136.4 392.6 135 392.8 141.6 393.1 139.8 393.4 144 393.6 161.6 393.9 153.8 394.1 147.8 394.4 142.2 394.6 140.3 394.9 137.6 395.1 136 395.4 139 395.7 135.6 395.9 129.4 396.2 136 396.4 136.1 396.7 139.6 396.9 141.6 397.2 134.4 397.4 125.9 397.7 134.8 397.9 121.3 398.2 117.8 398.5 121.6 398.7 114.3 399 113.1 399.2 111.6 399.5 109.9 399.7 103.5 400 107 400.2 110.7 400.5 116 400.8 121.4 401 121.3 401.3 126.7 401.5 131.8 401.8 132 402 133.5 402.3 132.8 402.5 124 402.8 128.7 403.1 129.4 403.3 139 403.6 136.3 403.8 142.1 404.1 141.6 404.3 139.1 404.6 135.2 404.8 144 405.1 133.5 405.3 133.2 405.6 135.7 405.9 129.8 406.1 125.3 406.4 121.5 406.6 110.7 406.9 116.9 407.1 113.1 407.4 105.2 407.6 100.6 407.9 112.3 408.2 105 408.4 104.1 408.7 99.7 408.9 93.3 409.2 88.7 409.4 85.8 409.7 84.6 409.9 80.5 410.2 76.5 410.4 75.1 410.7 75.7 411 61 411.2 68.4 411.5 70.7 411.7 63.1 412 67.5 412.2 62.3 412.5 72.8 412.7 70.4 413 82.5 413.3 84.6 413.5 95.1 413.8 96.3 414 104.1 414.3 113.1 414.5 111.7 414.8 100.3 415 105.3 415.3 105 415.5 102.8 415.8 97.2 416.1 89.6 416.3 92.8 416.6 93.3 416.8 102.9 417.1 104.2 417.3 100.9 417.6 99.5 417.8 95.7 418.1 97.8 418.4 96.9 418.5 99 418.7 98.3 418.8 101.7 419 105 419.1 107.5 419.2 108.7 419.3 95.3 419.4 105 419.5 106.9 419.7 101.5 419.9 103.5 420 96.9 420.3 100.9 420.5 106.8 420.8 115.6 421 113.1 421.3 98.3 421.6 113.3 421.8 104.7 422.1 100.9 422.3 91.7 422.6 86.3 422.8 96.1 423.1 92.8 423.3 85.2 423.5 89.6 423.7 83 423.9 78.5 424.2 81.6 424.4 89.6 424.7 90 424.9 92.8 425.2 98.8 425.4 102.2 425.7 103.2 425.9 105 426.2 106.1 426.4 104.1 426.7 93.5 427 96.9 427.2 99.8 427.5 104.5 427.7 107.6 428 113.1 428.2 108.9 428.5 115 428.7 120.6 429 121.3 429.3 125.1 429.5 133.4 429.8 128 430 133.5 430.2 137.9 430.3 143.4 430.5 150.6 430.6 157.9 430.9 149.4 431.1 138.3 431.4 141 431.6 133.5 431.9 134.4 432.2 131.8 432.4 120 432.7 121.3 432.9 116.4 433.2 120.5 433.4 108.6 433.7 105 433.9 103.3 434.2 98.3 434.5 99.8 434.7 92.8 434.9 93.6 435.1 95.9 435.3 85.6 435.5 80.6 435.8 88.5 436 88 436.3 97.3 436.5 105 436.8 106.3 437.1 111.8 437.3 112 437.6 121.3 437.8 124.1 438.1 113 438.3 116.3 438.6 113.1 438.8 106.1 439.1 110.4 439.4 113.6 439.6 105 439.9 105.8 440.1 114.6 440.4 116.9 440.6 121.3 440.9 124.4 441.1 127 441.4 124.9 441.6 129.4 441.9 125.7 442.2 121 442.4 117 442.7 117.2 442.9 110.3 443.2 117 443.4 108.2 443.7 109.1 443.9 108.6 444.2 105.2 444.5 96 444.7 96.9 445 105.1 445.2 101.6 445.5 111.6 445.7 113.1 446 116.9 446.2 106.2 446.5 103.4 446.7 105 447 99.2 447.3 110 447.5 97.4 447.8 96.9 448 90.8 448.3 98 448.5 93.1 448.8 92.8 449 90.6 449.3 84.7 449.6 77.8 449.8 84.6 450.1 77.7 450.3 72.3 450.6 66 450.8 68.4 451.1 63 451.3 62.5 451.6 68.5 451.8 64.3 452.1 66 452.4 64.3 452.6 59.1 452.9 60.2 453.1 54.2 453.4 59.3 453.6 58.9 453.9 56.1 454.1 64.7 454.4 65.2 454.7 69.3 454.9 74.5 455.2 77.2 455.4 73.8 455.7 75.8 455.9 80.6 456.2 79.5 456.4 68.4 456.7 69.5 456.9 66.3 457.2 71.9 457.5 72.3 457.7 75.6 458 76.5 458.2 71.1 458.5 73.9 458.7 72.4 459 72.4 459.2 71.8 459.5 68 459.8 63.4 460 60.2 460.3 69.8 460.5 66.5 460.8 65.2 461 68.4 461.3 63.9 461.5 64.2 461.8 60 462.1 60.2 462.3 65.5 462.6 60 462.8 55.2 463.1 55.1 463.3 55.9 463.6 57.6 463.8 64 464.1 68.4 464.3 76.7 464.6 77.9 464.9 77.4 465.1 80.6 465.4 84.3 465.6 79.4 465.9 92.8 466.1 92.8 466.4 95.1 466.6 104.4 466.9 101.4 467.2 105 467.4 107.3 467.7 114.1 467.9 114.8 468.2 121.3 468.4 129.8 468.7 128.7 468.9 132 469.2 133.5 469.4 131.9 469.7 126.1 470 126.4 470.2 121.3 470.5 118.1 470.7 120.3 471 109.5 471.2 105 471.5 102.6 471.7 95.3 472 91.5 472.3 88.7 472.5 84.7 472.7 88 472.9 80.2 473.1 76.5 473.3 84.7 473.6 83.9 473.8 87.6 474.1 92.8 474.3 90.6 474.6 106.6 474.9 116.6 475.1 113.1 475.4 115.6 475.6 125.3 475.9 126 476.1 125.3 476.4 120 476.6 122.6 476.9 113 477.1 113.1 477.4 112.3 477.6 118.4 477.8 114.2 478 113.1 478.3 114 478.5 129.3 478.8 124.4 479 133.5 479.3 125.1 479.5 116.2 479.8 108.8 480 100.9 480.3 103 480.6 105 480.8 123.9 481.1 121.3 481.3 123 481.6 128.3 481.8 127.3 482.1 141.6 482.3 133.2 482.6 128.8 482.8 120.1 483.1 105 483.4 113.3 483.6 105.2 483.9 97.9 484.1 92.8 484.4 97.4 484.6 107 484.9 105.3 485.1 109.1 485.4 113.3 485.7 111.8 485.9 119 486.2 121.3 486.4 125.4 486.7 113.3 486.9 111.1 487.2 105 487.4 93.9 487.7 106.7 487.9 100.8 488.2 96.9 488.5 105.9 488.7 104.3 489 103 489.2 109.1 489.5 102.5 489.7 108.3 490 104.7 490.2 103 490.5 101.9 490.8 108.1 491 108.3 491.3 113.1 491.5 111.1 491.8 101.5 492 93.2 492.3 92.8 492.5 94.6 492.8 94.8 493 104.8 493.3 100.9 493.6 96.1 493.8 89.6 494.1 91.6 494.3 88.7 494.6 89.7 494.8 93.8 495.1 95.6 495.3 96.9 495.6 94.7 495.9 100.6 496.1 102.4 496.4 105 496.6 101.1 496.9 104.6 497.1 108.7 497.4 109.1 497.6 99.5 497.9 98.5 498.1 97.8 498.4 96.9 498.7 93.2 498.9 92.5 499.2 82 499.4 84.6 499.7 84.5 499.9 84.8 500.2 87.4 500.4 80.6 500.7 81.6 501 82.7 501.2 83.3 501.5 92.8 501.7 90.6 502 89.4 502.2 77.5 502.5 76.5 502.7 74.4 503 72.5 503.2 69.3 503.5 62.3 503.8 66 504 75.8 504.3 78.7 504.5 84.6 504.8 82.8 505 89.7 505.3 92.1 505.5 92.8 505.8 91 506.1 98.6 506.3 106.8 506.6 100.9 506.8 91 507.1 95.6 507.3 92.4 507.6 84.6 507.8 87 508.1 90.1 508.3 89.8 508.6 92.8 508.9 101.3 509.1 95.2 509.4 101.4 509.6 105 509.9 90.2 510.1 92 510.4 85.1 510.6 76.5 510.9 73.9 511.2 81.1 511.4 90.5 511.7 92.8 511.9 94.8 512.2 96 512.4 95 512.7 109.1 512.9 107.2 513.2 110.5 513.5 97.9 513.7 96.9 514 95.3 514.2 92.2 514.5 87.2 514.7 84.6 515 88.9 515.2 93 515.5 93.2 515.7 100.9 516 108.6 516.3 107.4 516.5 95.8 516.8 92.8 517 96.6 517.3 83.2 517.5 82.5 517.8 80.6 518 82.8 518.3 71.7 518.6 69.1 518.8 72.4 519.1 77.7 519.3 72.5 519.6 91.3 519.8 88.7 520.1 94.6 520.3 95.6 520.6 100.4 520.8 100.9 521.1 94.2 521.4 91 521.6 95 521.9 88.7 522.1 89.8 522.4 84.1 522.6 80.8 522.9 78.5 523.1 79.9 523.4 91.1 523.7 83.3 523.9 92.8 524.2 87.3 524.4 86.6 524.7 80.6 524.9 84.6 525.2 76.8 525.4 75.5 525.7 81 525.9 74.5 526.2 79.1 526.5 70.8 526.7 60.4 527 64.3 527.2 67 527.5 73.9 527.7 78.5 528 84.6 528.2 85.2 528.5 90.8 528.8 83.1 529 92.8 529.3 94.6 529.5 101.8 529.8 107.8 530 109.1 530.2 114.3 530.3 117.3 530.5 120.8 530.6 125.3 530.8 113.6 531 107.4 531.3 97.1 531.5 88.7 531.7 78.4 532 78.3 532.2 70.6 532.5 58.2 532.7 62.4 533 71.9 533.2 79.8 533.5 80.6 533.8 84.8 534 87.3 534.3 91.8 534.5 92.8 534.8 88.4 535 91.4 535.3 101.1 535.5 100.9 535.8 99.1 536 100.4 536.3 90 536.6 88.7 536.8 94.3 537.1 95.1 537.3 99.8 537.6 92.8 537.8 91.8 538.1 95.6 538.3 100.2 538.6 100.9 538.8 101.2 539 95.1 539.2 95.8 539.4 96.9" fill="none" stroke="#f28c18" stroke-width="0.88" stroke-linejoin="round"/>
<path d="M301 114.1 301.3 112.5 301.5 118.5 301.8 127.9 302 130.4 302.3 119.7 302.5 115.2 302.8 107.6 303 95.7 303.3 96.6 303.6 113 303.8 113.3 304.1 122.3 304.3 128.5 304.6 121.1 304.8 114 305.1 114.1 305.3 112.3 305.6 109.8 305.8 107.7 306.1 103.9 306.4 110.9 306.6 109.1 306.9 115.1 307.1 110 307.4 110 307.6 104.2 307.9 96.3 308.1 99.8 308.4 90.3 308.7 94 308.9 92.6 309.2 86.6 309.4 95.6 309.7 90.8 309.9 96.8 310.2 99.8 310.4 95.1 310.7 95.1 310.9 86.2 311.2 93.7 311.5 101.7 311.7 101 312 108.7 312.2 114.1 312.5 113.3 312.7 110.3 313 101.2 313.2 103.9 313.5 108.4 313.8 103.8 314 101.3 314.3 97.8 314.5 99.2 314.8 99.6 315 103.6 315.3 114.1 315.5 107.1 315.8 102.5 316 92.9 316.3 89.6 316.6 95.8 316.8 88.8 317.1 90.5 317.3 85.5 317.6 93.7 317.8 90.5 318.1 103.2 318.3 103.9 318.6 103.1 318.9 93.8 319.1 99.1 319.4 93.7 319.6 94.9 319.9 91.4 320.1 88.7 320.4 81.5 320.6 82 320.9 92.7 321.1 97.7 321.4 105.9 321.7 103.6 321.9 101.3 322.2 102.7 322.4 95.7 322.7 103.3 322.9 101.6 323.2 113.1 323.4 114.1 323.7 122.6 324 119.4 324.2 114.3 324.5 122.3 324.7 121.7 325 125.6 325.2 121.9 325.5 130.4 325.7 120.7 326 107 326.2 106 326.5 93.7 326.8 105.1 327 110.7 327.3 114.7 327.5 128.4 327.8 127 328 120.8 328.3 118 328.5 118.2 328.8 121.6 329.1 113.1 329.3 109.7 329.6 114.1 329.8 111.1 330.1 108.9 330.3 102.1 330.6 89.6 330.8 98.8 331.1 110.1 331.3 106.6 331.6 114.1 331.9 124.8 332.1 126.5 332.4 118.9 332.6 122.3 332.9 125.9 333.1 121.2 333.4 124.3 333.6 130.4 333.9 133.7 334.2 127.9 334.4 134.3 334.7 134.5 334.9 137.4 335.2 137.1 335.4 141.4 335.7 138.6 335.9 144.3 336.2 135.3 336.5 136.5 336.7 130.4 337 133.4 337.2 122.6 337.5 118.7 337.7 118.2 338 111.7 338.2 126.1 338.5 131.6 338.7 130.4 339 134.3 339.3 142.9 339.5 142.7 339.8 138.6 340 137.8 340.3 130.4 340.5 123 340.8 122.3 341 119.7 341.3 118.2 341.6 112.9 341.8 110 342.1 107.4 342.3 105.5 342.6 108.3 342.8 103.9 343.1 95.7 343.3 99.7 343.6 99.7 343.8 97.8 344.1 104.7 344.4 108.8 344.6 109.2 344.9 114.1 345.1 109.9 345.4 105.5 345.6 112.7 345.9 105.9 346.1 106.8 346.4 103.8 346.7 98.6 346.9 99.8 347.2 99 347.4 111.7 347.7 110.6 347.9 114.1 348.2 118.1 348.4 125.4 348.7 114.3 348.9 122.3 349.2 113.2 349.5 111.6 349.7 106.5 350 97.8 350.2 95.8 350.5 101.7 350.7 101.6 351 105.9 351.2 101.2 351.5 102.5 351.8 99.2 352 95.7 352.3 99 352.5 95.2 352.8 97.2 353 89.6 353.3 85.5 353.5 89.3 353.8 81 354 85.5 354.3 77.5 354.6 77 354.8 83.8 355.1 79.4 355.3 84.8 355.6 82.1 355.8 98.4 356.1 97.8 356.3 104.7 356.6 103.2 356.9 106 357.1 110 357.4 111 357.6 107.2 357.9 122.4 358.1 114.1 358.4 114.3 358.6 117.4 358.9 118.9 359.1 122.3 359.4 121.6 359.7 122.7 359.9 129.7 360.2 130.4 360.4 127.5 360.6 130.3 360.8 133.3 361 138.6 361.3 137.7 361.5 126.4 361.8 122.4 362 122.3 362.3 121.5 362.6 113.6 362.8 114.8 363.1 114.1 363.3 115.6 363.6 111.6 363.8 108.1 364.1 105.9 364.3 116 364.6 112.4 364.8 115.7 365.1 122.3 365.4 109.6 365.6 111.1 365.9 107.9 366.1 99.8 366.4 104.8 366.6 122.5 366.9 126.8 367.1 130.4 367.4 130 367.7 117.4 367.9 119.3 368.2 114.1 368.4 119.6 368.7 114.1 368.9 126.2 369.2 130.4 369.4 128.4 369.7 121.4 369.9 129.3 370.2 126.3 370.5 131.4 370.7 123.1 371 113.7 371.2 114.1 371.5 115.1 371.7 122.6 372 116.9 372.2 122.3 372.5 125.7 372.8 126.4 373 129.1 373.3 130.4 373.5 132.9 373.8 116.2 374 122.8 374.3 114.1 374.5 119.2 374.8 121.9 375 119.7 375.3 130.4 375.6 127.5 375.8 120.6 376.1 106.5 376.3 114.1 376.6 104 376.8 100.1 377.1 96.3 377.3 95.7 377.6 94.8 377.9 95.4 378.1 106.5 378.4 101.9 378.6 101.5 378.9 92.3 379.1 93.6 379.4 83.5 379.6 89.9 379.9 81.3 380.1 72.1 380.4 75.3 380.7 79.4 380.9 86.1 381.2 79 381.4 85.5 381.7 87.5 381.9 93.3 382.2 96.3 382.4 93.7 382.7 94 383 89 383.2 83.9 383.5 81.5 383.7 83.3 384 93.6 384.2 97.4 384.5 97.8 384.7 90.2 385 83.8 385.2 85.9 385.5 75.3 385.8 76.7 386 67.2 386.3 61.1 386.5 65.1 386.8 71.7 387 80.6 387.3 87.3 387.5 89.6 387.8 88.3 388.1 74.3 388.3 76 388.6 71.2 388.8 72.3 389.1 73.4 389.3 89.3 389.6 81.5 389.8 88.6 390.1 96.7 390.3 101.7 390.6 110 390.9 117.8 391.1 124.8 391.4 124.2 391.6 130.4 391.9 126.2 392.1 120.5 392.4 114.1 392.6 114.1 392.9 118.4 393.2 125.6 393.4 129.4 393.7 134.5 393.9 130.4 394.2 120.9 394.4 126.6 394.7 122.3 394.9 120.8 395.2 124.2 395.5 113.5 395.7 114.1 396 112.6 396.2 114.5 396.5 123.7 396.7 130.4 397 127 397.2 125.2 397.5 114.9 397.7 118.2 398 114.8 398.3 120 398.5 115.3 398.8 114.1 399 110.6 399.3 108.4 399.5 101.6 399.8 105.9 400 104.3 400.3 111.9 400.6 122.9 400.8 122.3 401.1 123.7 401.3 115.4 401.6 115.4 401.8 110 402.1 116.7 402.3 124.7 402.6 122.4 402.8 130.4 403.1 129.3 403.4 130 403.6 119.2 403.9 122.3 404.1 122.9 404.4 125.2 404.6 126.9 404.9 126.3 405.1 126.3 405.4 124.5 405.7 124.1 405.9 118.2 406.2 124.7 406.4 121.7 406.7 129.9 406.9 122.3 407.2 117.3 407.4 115.3 407.7 114.3 407.9 110 408.2 103.8 408.5 98 408.7 95.6 409 97.8 409.2 99.3 409.5 89.1 409.7 83.3 410 85.5 410.2 90.5 410.5 81.9 410.8 78.6 411 75.3 411.3 68.2 411.5 69.8 411.8 63.3 412 62.1 412.3 66.8 412.5 69.6 412.8 72.6 413 77.4 413.3 82.2 413.6 81.9 413.8 87.9 414.1 93.7 414.3 93 414.6 100.3 414.8 104.1 415.1 103.9 415.3 103.4 415.6 89 415.9 99.9 416.1 89.6 416.4 90.7 416.6 93.1 416.9 95.5 417.1 97.8 417.4 92.9 417.6 93.5 417.9 84.4 418.1 79.4 418.4 84.1 418.6 90.2 418.8 95.3 419 93.7 419.3 87.6 419.5 84.7 419.8 79.9 420 85.5 420.3 73.9 420.5 78.5 420.8 73.6 421 69.2 421.3 75.2 421.6 82.7 421.8 88.7 422.1 93.7 422.3 96.4 422.6 96.3 422.8 84.4 423.1 85.5 423.3 89.9 423.6 86.7 423.8 77.8 424.1 79.4 424.4 83.7 424.6 84.9 424.9 83.5 425.1 93.7 425.4 89.8 425.6 79.2 425.9 81.7 426.1 77.4 426.4 79.4 426.7 88.4 426.9 99 427.2 101.9 427.4 105.4 427.7 104.9 427.9 112 428.2 114.1 428.4 118.9 428.7 122.1 428.9 117 429.2 122.3 429.5 130.9 429.7 129.8 430 132.4 430.2 138.6 430.4 141.2 430.5 137 430.7 135.2 430.8 130.4 431 129 431.2 119.3 431.4 126.2 431.6 122.3 431.9 121.5 432.2 115.8 432.4 119.8 432.7 110 432.9 107.6 433.2 110.7 433.4 105.6 433.7 97.8 433.9 90.6 434.2 85.5 434.5 82.9 434.7 79.4 435 85 435.2 93.5 435.5 94 435.7 101.9 436 101.9 436.2 118.6 436.5 114.4 436.8 118.2 437 117.5 437.3 121.2 437.5 112.7 437.8 110 438 104.1 438.3 118.3 438.5 117 438.8 122.3 439 122.3 439.3 107.2 439.6 111 439.8 105.9 440.1 108.3 440.3 109.7 440.6 107 440.8 101.9 441.1 110.9 441.3 112.3 441.6 117.3 441.9 122.3 442.1 116.5 442.4 122.3 442.6 122.5 442.9 114.1 443.1 112.7 443.4 102.8 443.6 96.6 443.9 97.8 444.1 95 444.4 102.2 444.7 95.7 444.9 93.7 445.2 95.3 445.4 102.8 445.7 112.5 445.9 114.1 446.2 113.8 446.4 116.6 446.7 118.4 447 122.3 447.2 114.4 447.5 121 447.7 105.6 448 103.9 448.2 103.7 448.5 105.8 448.7 99.2 449 97.8 449.2 93.4 449.5 91.3 449.8 88.9 450 85.5 450.3 80.9 450.5 75.9 450.8 72.1 451 69.2 451.3 68.9 451.5 74.4 451.8 64.8 452.1 65.1 452.3 67.1 452.6 61.6 452.8 57.1 453.1 59 453.3 53.8 453.6 58.6 453.8 51.1 454.1 54.9 454.3 62.1 454.6 64.1 454.9 77.2 455.1 75.3 455.4 68 455.6 72.8 455.9 70.4 456.1 61 456.4 60.5 456.6 51.1 456.9 50.5 457.2 44.7 457.4 51.7 457.7 56.7 457.9 67 458.2 69.2 458.4 67.2 458.7 66.4 458.9 67.7 459.2 61 459.4 64.6 459.7 67.1 460 72.9 460.2 75.3 460.5 71.2 460.7 61.5 461 66 461.2 65.1 461.5 62.8 461.7 56.8 462 52 462.3 57 462.5 58.6 462.8 53.7 463 58.3 463.3 54.9 463.5 60.6 463.8 68.4 464 68.3 464.3 69.2 464.5 76.2 464.8 81.1 465.1 77.4 465.3 81.5 465.6 89.2 465.8 92.6 466.1 83.9 466.3 93.7 466.6 93.9 466.8 102.8 467.1 113 467.4 110 467.6 112.1 467.9 111.4 468.1 113.3 468.4 122.3 468.6 125.8 468.9 127.5 469.1 126.1 469.4 130.4 469.7 127.8 469.9 121 470.2 122.9 470.4 114.1 470.7 106.8 470.9 108.4 471.2 112.6 471.4 105.9 471.7 99.6 471.9 94.6 472.2 92.7 472.5 89.6 472.7 94.5 473 85.8 473.2 87.7 473.5 79.4 473.7 79.5 474 85.9 474.2 93 474.5 93.7 474.8 99.9 475 102 475.3 100.4 475.5 114.1 475.8 118.4 476 121.3 476.3 122.2 476.5 122.3 476.8 113.7 477 112.7 477.3 113.9 477.6 114.1 477.7 112.2 477.8 122.4 477.9 116 478 122.3 478.1 116.9 478.3 109.8 478.4 103.2 478.6 105.9 478.7 116 478.8 118.8 478.9 121.5 479 130.4 479.3 125.4 479.5 111.7 479.8 121.3 480 110 480.3 101.9 480.6 94.3 480.8 93.6 481.1 93.7 481.3 97.6 481.6 99.8 481.8 105.5 482.1 105.9 482.3 106.6 482.6 102 482.8 103.9 483.1 97.8 483.4 89.6 483.6 97.6 483.9 96.6 484.1 93.7 484.4 97.1 484.6 97.1 484.9 97.7 485.1 101.9 485.4 97.4 485.7 91.1 485.9 93.7 486.2 93.7 486.4 102 486.7 107.5 486.9 104 487.2 110 487.4 104.8 487.7 101.9 487.9 100.2 488.2 97.8 488.5 95.7 488.7 95.5 489 97.2 489.2 89.6 489.5 80.6 489.7 83.3 490 84.6 490.2 85.5 490.5 88.3 490.8 93.2 491 101.7 491.3 97.8 491.5 92 491.8 96.2 492 91.3 492.3 89.6 492.5 93.9 492.8 99 493 105.2 493.3 105.9 493.6 103.4 493.8 95.5 494.1 98.6 494.3 93.7 494.6 90 494.8 76.4 495.1 78.6 495.3 71.2 495.6 76.6 495.9 81.8 496.1 88.4 496.4 93.7 496.6 102.6 496.9 91.2 497.1 100.5 497.4 101.9 497.6 98.6 497.9 110.1 498.1 117.7 498.4 118.2 498.7 104.9 498.9 110.4 499.2 101.7 499.4 93.7 499.7 91.2 499.9 88.9 500.2 87.6 500.4 85.5 500.7 88.9 501 91.6 501.2 98.9 501.5 97.8 501.7 96.4 502 85.2 502.2 88.4 502.5 79.4 502.7 83.2 503 78.9 503.2 70.1 503.5 65.1 503.8 64.3 504 73.6 504.3 80.2 504.5 85.5 504.8 83.5 505 76 505.3 82.1 505.5 77.4 505.8 88.4 506.1 86.7 506.3 96.2 506.6 105.9 506.8 99.3 507.1 100.4 507.3 101.7 507.6 93.7 507.8 83.9 508.1 96.3 508.3 91.9 508.6 85.5 508.9 86 509.1 102.7 509.4 106 509.6 105.9 509.9 102 510.1 94.5 510.4 83 510.6 79.4 510.9 86.5 511.2 85.9 511.4 94 511.7 97.8 511.9 105.5 512.2 103 512.4 105 512.7 110 512.9 110.6 513.2 110.3 513.5 108.4 513.7 101.9 514 99.5 514.2 103.8 514.5 102.8 514.7 93.7 515 90.9 515.2 92.5 515.5 81.1 515.7 85.5 516 89.5 516.3 90.1 516.5 98.8 516.8 101.9 517 94.3 517.3 81.9 517.5 87.9 517.8 79.4 518 73.3 518.3 79.5 518.6 78 518.8 69.2 519.1 78.1 519.3 81.6 519.6 89 519.8 93.7 520.1 95.2 520.3 107.8 520.6 117.9 520.8 120.2 521.1 116.8 521.4 103.3 521.6 106.8 521.9 93.7 522.1 93.1 522.4 84.3 522.6 86.7 522.9 81.5 523.1 81.2 523.4 86.1 523.7 91.2 523.9 93.7 524.2 99.4 524.4 99.9 524.7 82 524.9 85.5 525.2 83.1 525.4 80.2 525.7 80.8 525.9 75.3 526.2 75.6 526.5 70.2 526.7 72.3 527 69.2 527.2 65.9 527.5 64.2 527.7 68.6 528 65.1 528.2 71.2 528.5 73.2 528.8 83.2 529 85.5 529.3 89.3 529.5 92.9 529.8 100.6 530 105.9 530.2 112.6 530.3 111.9 530.5 124.1 530.6 122.3 530.8 114.4 531 109.3 531.3 104.1 531.5 93.7 531.7 91.8 532 87.3 532.2 86.9 532.5 85.5 532.7 87.9 533 87.6 533.2 83.6 533.5 79.4 533.8 82.4 534 85 534.3 91.1 534.5 97.8 534.8 98.2 535 103 535.3 104 535.5 105.9 535.8 99 536 100.7 536.3 91.1 536.6 89.6 536.8 92.2 537.1 91 537.3 100.1 537.6 97.8 537.8 98.6 538.1 96.7 538.3 99.3 538.6 93.7 538.8 98.7 539 90.9 539.2 97.8 539.4 97.8" fill="none" stroke="#fff" stroke-width="1.0" stroke-linejoin="round"/>
<path d="M301 114.1 301.3 112.5 301.5 118.5 301.8 127.9 302 130.4 302.3 119.7 302.5 115.2 302.8 107.6 303 95.7 303.3 96.6 303.6 113 303.8 113.3 304.1 122.3 304.3 128.5 304.6 121.1 304.8 114 305.1 114.1 305.3 112.3 305.6 109.8 305.8 107.7 306.1 103.9 306.4 110.9 306.6 109.1 306.9 115.1 307.1 110 307.4 110 307.6 104.2 307.9 96.3 308.1 99.8 308.4 90.3 308.7 94 308.9 92.6 309.2 86.6 309.4 95.6 309.7 90.8 309.9 96.8 310.2 99.8 310.4 95.1 310.7 95.1 310.9 86.2 311.2 93.7 311.5 101.7 311.7 101 312 108.7 312.2 114.1 312.5 113.3 312.7 110.3 313 101.2 313.2 103.9 313.5 108.4 313.8 103.8 314 101.3 314.3 97.8 314.5 99.2 314.8 99.6 315 103.6 315.3 114.1 315.5 107.1 315.8 102.5 316 92.9 316.3 89.6 316.6 95.8 316.8 88.8 317.1 90.5 317.3 85.5 317.6 93.7 317.8 90.5 318.1 103.2 318.3 103.9 318.6 103.1 318.9 93.8 319.1 99.1 319.4 93.7 319.6 94.9 319.9 91.4 320.1 88.7 320.4 81.5 320.6 82 320.9 92.7 321.1 97.7 321.4 105.9 321.7 103.6 321.9 101.3 322.2 102.7 322.4 95.7 322.7 103.3 322.9 101.6 323.2 113.1 323.4 114.1 323.7 122.6 324 119.4 324.2 114.3 324.5 122.3 324.7 121.7 325 125.6 325.2 121.9 325.5 130.4 325.7 120.7 326 107 326.2 106 326.5 93.7 326.8 105.1 327 110.7 327.3 114.7 327.5 128.4 327.8 127 328 120.8 328.3 118 328.5 118.2 328.8 121.6 329.1 113.1 329.3 109.7 329.6 114.1 329.8 111.1 330.1 108.9 330.3 102.1 330.6 89.6 330.8 98.8 331.1 110.1 331.3 106.6 331.6 114.1 331.9 124.8 332.1 126.5 332.4 118.9 332.6 122.3 332.9 125.9 333.1 121.2 333.4 124.3 333.6 130.4 333.9 133.7 334.2 127.9 334.4 134.3 334.7 134.5 334.9 137.4 335.2 137.1 335.4 141.4 335.7 138.6 335.9 144.3 336.2 135.3 336.5 136.5 336.7 130.4 337 133.4 337.2 122.6 337.5 118.7 337.7 118.2 338 111.7 338.2 126.1 338.5 131.6 338.7 130.4 339 134.3 339.3 142.9 339.5 142.7 339.8 138.6 340 137.8 340.3 130.4 340.5 123 340.8 122.3 341 119.7 341.3 118.2 341.6 112.9 341.8 110 342.1 107.4 342.3 105.5 342.6 108.3 342.8 103.9 343.1 95.7 343.3 99.7 343.6 99.7 343.8 97.8 344.1 104.7 344.4 108.8 344.6 109.2 344.9 114.1 345.1 109.9 345.4 105.5 345.6 112.7 345.9 105.9 346.1 106.8 346.4 103.8 346.7 98.6 346.9 99.8 347.2 99 347.4 111.7 347.7 110.6 347.9 114.1 348.2 118.1 348.4 125.4 348.7 114.3 348.9 122.3 349.2 113.2 349.5 111.6 349.7 106.5 350 97.8 350.2 95.8 350.5 101.7 350.7 101.6 351 105.9 351.2 101.2 351.5 102.5 351.8 99.2 352 95.7 352.3 99 352.5 95.2 352.8 97.2 353 89.6 353.3 85.5 353.5 89.3 353.8 81 354 85.5 354.3 77.5 354.6 77 354.8 83.8 355.1 79.4 355.3 84.8 355.6 82.1 355.8 98.4 356.1 97.8 356.3 104.7 356.6 103.2 356.9 106 357.1 110 357.4 111 357.6 107.2 357.9 122.4 358.1 114.1 358.4 114.3 358.6 117.4 358.9 118.9 359.1 122.3 359.4 121.6 359.7 122.7 359.9 129.7 360.2 130.4 360.4 127.5 360.6 130.3 360.8 133.3 361 138.6 361.3 137.7 361.5 126.4 361.8 122.4 362 122.3 362.3 121.5 362.6 113.6 362.8 114.8 363.1 114.1 363.3 115.6 363.6 111.6 363.8 108.1 364.1 105.9 364.3 116 364.6 112.4 364.8 115.7 365.1 122.3 365.4 109.6 365.6 111.1 365.9 107.9 366.1 99.8 366.4 104.8 366.6 122.5 366.9 126.8 367.1 130.4 367.4 130 367.7 117.4 367.9 119.3 368.2 114.1 368.4 119.6 368.7 114.1 368.9 126.2 369.2 130.4 369.4 128.4 369.7 121.4 369.9 129.3 370.2 126.3 370.5 131.4 370.7 123.1 371 113.7 371.2 114.1 371.5 115.1 371.7 122.6 372 116.9 372.2 122.3 372.5 125.7 372.8 126.4 373 129.1 373.3 130.4 373.5 132.9 373.8 116.2 374 122.8 374.3 114.1 374.5 119.2 374.8 121.9 375 119.7 375.3 130.4 375.6 127.5 375.8 120.6 376.1 106.5 376.3 114.1 376.6 104 376.8 100.1 377.1 96.3 377.3 95.7 377.6 94.8 377.9 95.4 378.1 106.5 378.4 101.9 378.6 101.5 378.9 92.3 379.1 93.6 379.4 83.5 379.6 89.9 379.9 81.3 380.1 72.1 380.4 75.3 380.7 79.4 380.9 86.1 381.2 79 381.4 85.5 381.7 87.5 381.9 93.3 382.2 96.3 382.4 93.7 382.7 94 383 89 383.2 83.9 383.5 81.5 383.7 83.3 384 93.6 384.2 97.4 384.5 97.8 384.7 90.2 385 83.8 385.2 85.9 385.5 75.3 385.8 76.7 386 67.2 386.3 61.1 386.5 65.1 386.8 71.7 387 80.6 387.3 87.3 387.5 89.6 387.8 88.3 388.1 74.3 388.3 76 388.6 71.2 388.8 72.3 389.1 73.4 389.3 89.3 389.6 81.5 389.8 88.6 390.1 96.7 390.3 101.7 390.6 110 390.9 117.8 391.1 124.8 391.4 124.2 391.6 130.4 391.9 126.2 392.1 120.5 392.4 114.1 392.6 114.1 392.9 118.4 393.2 125.6 393.4 129.4 393.7 134.5 393.9 130.4 394.2 120.9 394.4 126.6 394.7 122.3 394.9 120.8 395.2 124.2 395.5 113.5 395.7 114.1 396 112.6 396.2 114.5 396.5 123.7 396.7 130.4 397 127 397.2 125.2 397.5 114.9 397.7 118.2 398 114.8 398.3 120 398.5 115.3 398.8 114.1 399 110.6 399.3 108.4 399.5 101.6 399.8 105.9 400 104.3 400.3 111.9 400.6 122.9 400.8 122.3 401.1 123.7 401.3 115.4 401.6 115.4 401.8 110 402.1 116.7 402.3 124.7 402.6 122.4 402.8 130.4 403.1 129.3 403.4 130 403.6 119.2 403.9 122.3 404.1 122.9 404.4 125.2 404.6 126.9 404.9 126.3 405.1 126.3 405.4 124.5 405.7 124.1 405.9 118.2 406.2 124.7 406.4 121.7 406.7 129.9 406.9 122.3 407.2 117.3 407.4 115.3 407.7 114.3 407.9 110 408.2 103.8 408.5 98 408.7 95.6 409 97.8 409.2 99.3 409.5 89.1 409.7 83.3 410 85.5 410.2 90.5 410.5 81.9 410.8 78.6 411 75.3 411.3 68.2 411.5 69.8 411.8 63.3 412 62.1 412.3 66.8 412.5 69.6 412.8 72.6 413 77.4 413.3 82.2 413.6 81.9 413.8 87.9 414.1 93.7 414.3 93 414.6 100.3 414.8 104.1 415.1 103.9 415.3 103.4 415.6 89 415.9 99.9 416.1 89.6 416.4 90.7 416.6 93.1 416.9 95.5 417.1 97.8 417.4 92.9 417.6 93.5 417.9 84.4 418.1 79.4 418.4 84.1 418.6 90.2 418.8 95.3 419 93.7 419.3 87.6 419.5 84.7 419.8 79.9 420 85.5 420.3 73.9 420.5 78.5 420.8 73.6 421 69.2 421.3 75.2 421.6 82.7 421.8 88.7 422.1 93.7 422.3 96.4 422.6 96.3 422.8 84.4 423.1 85.5 423.3 89.9 423.6 86.7 423.8 77.8 424.1 79.4 424.4 83.7 424.6 84.9 424.9 83.5 425.1 93.7 425.4 89.8 425.6 79.2 425.9 81.7 426.1 77.4 426.4 79.4 426.7 88.4 426.9 99 427.2 101.9 427.4 105.4 427.7 104.9 427.9 112 428.2 114.1 428.4 118.9 428.7 122.1 428.9 117 429.2 122.3 429.5 130.9 429.7 129.8 430 132.4 430.2 138.6 430.4 141.2 430.5 137 430.7 135.2 430.8 130.4 431 129 431.2 119.3 431.4 126.2 431.6 122.3 431.9 121.5 432.2 115.8 432.4 119.8 432.7 110 432.9 107.6 433.2 110.7 433.4 105.6 433.7 97.8 433.9 90.6 434.2 85.5 434.5 82.9 434.7 79.4 435 85 435.2 93.5 435.5 94 435.7 101.9 436 101.9 436.2 118.6 436.5 114.4 436.8 118.2 437 117.5 437.3 121.2 437.5 112.7 437.8 110 438 104.1 438.3 118.3 438.5 117 438.8 122.3 439 122.3 439.3 107.2 439.6 111 439.8 105.9 440.1 108.3 440.3 109.7 440.6 107 440.8 101.9 441.1 110.9 441.3 112.3 441.6 117.3 441.9 122.3 442.1 116.5 442.4 122.3 442.6 122.5 442.9 114.1 443.1 112.7 443.4 102.8 443.6 96.6 443.9 97.8 444.1 95 444.4 102.2 444.7 95.7 444.9 93.7 445.2 95.3 445.4 102.8 445.7 112.5 445.9 114.1 446.2 113.8 446.4 116.6 446.7 118.4 447 122.3 447.2 114.4 447.5 121 447.7 105.6 448 103.9 448.2 103.7 448.5 105.8 448.7 99.2 449 97.8 449.2 93.4 449.5 91.3 449.8 88.9 450 85.5 450.3 80.9 450.5 75.9 450.8 72.1 451 69.2 451.3 68.9 451.5 74.4 451.8 64.8 452.1 65.1 452.3 67.1 452.6 61.6 452.8 57.1 453.1 59 453.3 53.8 453.6 58.6 453.8 51.1 454.1 54.9 454.3 62.1 454.6 64.1 454.9 77.2 455.1 75.3 455.4 68 455.6 72.8 455.9 70.4 456.1 61 456.4 60.5 456.6 51.1 456.9 50.5 457.2 44.7 457.4 51.7 457.7 56.7 457.9 67 458.2 69.2 458.4 67.2 458.7 66.4 458.9 67.7 459.2 61 459.4 64.6 459.7 67.1 460 72.9 460.2 75.3 460.5 71.2 460.7 61.5 461 66 461.2 65.1 461.5 62.8 461.7 56.8 462 52 462.3 57 462.5 58.6 462.8 53.7 463 58.3 463.3 54.9 463.5 60.6 463.8 68.4 464 68.3 464.3 69.2 464.5 76.2 464.8 81.1 465.1 77.4 465.3 81.5 465.6 89.2 465.8 92.6 466.1 83.9 466.3 93.7 466.6 93.9 466.8 102.8 467.1 113 467.4 110 467.6 112.1 467.9 111.4 468.1 113.3 468.4 122.3 468.6 125.8 468.9 127.5 469.1 126.1 469.4 130.4 469.7 127.8 469.9 121 470.2 122.9 470.4 114.1 470.7 106.8 470.9 108.4 471.2 112.6 471.4 105.9 471.7 99.6 471.9 94.6 472.2 92.7 472.5 89.6 472.7 94.5 473 85.8 473.2 87.7 473.5 79.4 473.7 79.5 474 85.9 474.2 93 474.5 93.7 474.8 99.9 475 102 475.3 100.4 475.5 114.1 475.8 118.4 476 121.3 476.3 122.2 476.5 122.3 476.8 113.7 477 112.7 477.3 113.9 477.6 114.1 477.7 112.2 477.8 122.4 477.9 116 478 122.3 478.1 116.9 478.3 109.8 478.4 103.2 478.6 105.9 478.7 116 478.8 118.8 478.9 121.5 479 130.4 479.3 125.4 479.5 111.7 479.8 121.3 480 110 480.3 101.9 480.6 94.3 480.8 93.6 481.1 93.7 481.3 97.6 481.6 99.8 481.8 105.5 482.1 105.9 482.3 106.6 482.6 102 482.8 103.9 483.1 97.8 483.4 89.6 483.6 97.6 483.9 96.6 484.1 93.7 484.4 97.1 484.6 97.1 484.9 97.7 485.1 101.9 485.4 97.4 485.7 91.1 485.9 93.7 486.2 93.7 486.4 102 486.7 107.5 486.9 104 487.2 110 487.4 104.8 487.7 101.9 487.9 100.2 488.2 97.8 488.5 95.7 488.7 95.5 489 97.2 489.2 89.6 489.5 80.6 489.7 83.3 490 84.6 490.2 85.5 490.5 88.3 490.8 93.2 491 101.7 491.3 97.8 491.5 92 491.8 96.2 492 91.3 492.3 89.6 492.5 93.9 492.8 99 493 105.2 493.3 105.9 493.6 103.4 493.8 95.5 494.1 98.6 494.3 93.7 494.6 90 494.8 76.4 495.1 78.6 495.3 71.2 495.6 76.6 495.9 81.8 496.1 88.4 496.4 93.7 496.6 102.6 496.9 91.2 497.1 100.5 497.4 101.9 497.6 98.6 497.9 110.1 498.1 117.7 498.4 118.2 498.7 104.9 498.9 110.4 499.2 101.7 499.4 93.7 499.7 91.2 499.9 88.9 500.2 87.6 500.4 85.5 500.7 88.9 501 91.6 501.2 98.9 501.5 97.8 501.7 96.4 502 85.2 502.2 88.4 502.5 79.4 502.7 83.2 503 78.9 503.2 70.1 503.5 65.1 503.8 64.3 504 73.6 504.3 80.2 504.5 85.5 504.8 83.5 505 76 505.3 82.1 505.5 77.4 505.8 88.4 506.1 86.7 506.3 96.2 506.6 105.9 506.8 99.3 507.1 100.4 507.3 101.7 507.6 93.7 507.8 83.9 508.1 96.3 508.3 91.9 508.6 85.5 508.9 86 509.1 102.7 509.4 106 509.6 105.9 509.9 102 510.1 94.5 510.4 83 510.6 79.4 510.9 86.5 511.2 85.9 511.4 94 511.7 97.8 511.9 105.5 512.2 103 512.4 105 512.7 110 512.9 110.6 513.2 110.3 513.5 108.4 513.7 101.9 514 99.5 514.2 103.8 514.5 102.8 514.7 93.7 515 90.9 515.2 92.5 515.5 81.1 515.7 85.5 516 89.5 516.3 90.1 516.5 98.8 516.8 101.9 517 94.3 517.3 81.9 517.5 87.9 517.8 79.4 518 73.3 518.3 79.5 518.6 78 518.8 69.2 519.1 78.1 519.3 81.6 519.6 89 519.8 93.7 520.1 95.2 520.3 107.8 520.6 117.9 520.8 120.2 521.1 116.8 521.4 103.3 521.6 106.8 521.9 93.7 522.1 93.1 522.4 84.3 522.6 86.7 522.9 81.5 523.1 81.2 523.4 86.1 523.7 91.2 523.9 93.7 524.2 99.4 524.4 99.9 524.7 82 524.9 85.5 525.2 83.1 525.4 80.2 525.7 80.8 525.9 75.3 526.2 75.6 526.5 70.2 526.7 72.3 527 69.2 527.2 65.9 527.5 64.2 527.7 68.6 528 65.1 528.2 71.2 528.5 73.2 528.8 83.2 529 85.5 529.3 89.3 529.5 92.9 529.8 100.6 530 105.9 530.2 112.6 530.3 111.9 530.5 124.1 530.6 122.3 530.8 114.4 531 109.3 531.3 104.1 531.5 93.7 531.7 91.8 532 87.3 532.2 86.9 532.5 85.5 532.7 87.9 533 87.6 533.2 83.6 533.5 79.4 533.8 82.4 534 85 534.3 91.1 534.5 97.8 534.8 98.2 535 103 535.3 104 535.5 105.9 535.8 99 536 100.7 536.3 91.1 536.6 89.6 536.8 92.2 537.1 91 537.3 100.1 537.6 97.8 537.8 98.6 538.1 96.7 538.3 99.3 538.6 93.7 538.8 98.7 539 90.9 539.2 97.8 539.4 97.8" fill="none" stroke="#2677c2" stroke-width="0.88" stroke-linejoin="round"/>
</g>
<rect x="301.4" y="9.6" width="238.4" height="158.4" fill="none" stroke="#737373" stroke-width="0.85"/>
<line x1="299" y1="168" x2="301.4" y2="168" stroke="#737373" stroke-width="0.6"/>
<text x="298.1" y="169.9" text-anchor="end" class="tk">7800</text>
<line x1="300.1" y1="156.69" x2="301.4" y2="156.69" stroke="#737373" stroke-width="0.6"/>
<line x1="299" y1="145.37" x2="301.4" y2="145.37" stroke="#737373" stroke-width="0.6"/>
<text x="298.1" y="147.27" text-anchor="end" class="tk">8000</text>
<line x1="300.1" y1="134.06" x2="301.4" y2="134.06" stroke="#737373" stroke-width="0.6"/>
<line x1="299" y1="122.74" x2="301.4" y2="122.74" stroke="#737373" stroke-width="0.6"/>
<text x="298.1" y="124.64" text-anchor="end" class="tk">8200</text>
<line x1="300.1" y1="111.43" x2="301.4" y2="111.43" stroke="#737373" stroke-width="0.6"/>
<line x1="299" y1="100.11" x2="301.4" y2="100.11" stroke="#737373" stroke-width="0.6"/>
<text x="298.1" y="102.01" text-anchor="end" class="tk">8400</text>
<line x1="300.1" y1="88.8" x2="301.4" y2="88.8" stroke="#737373" stroke-width="0.6"/>
<line x1="299" y1="77.49" x2="301.4" y2="77.49" stroke="#737373" stroke-width="0.6"/>
<text x="298.1" y="79.39" text-anchor="end" class="tk">8600</text>
<line x1="300.1" y1="66.17" x2="301.4" y2="66.17" stroke="#737373" stroke-width="0.6"/>
<line x1="299" y1="54.86" x2="301.4" y2="54.86" stroke="#737373" stroke-width="0.6"/>
<text x="298.1" y="56.76" text-anchor="end" class="tk">8800</text>
<line x1="300.1" y1="43.54" x2="301.4" y2="43.54" stroke="#737373" stroke-width="0.6"/>
<line x1="299" y1="32.23" x2="301.4" y2="32.23" stroke="#737373" stroke-width="0.6"/>
<text x="298.1" y="34.13" text-anchor="end" class="tk">9000</text>
<line x1="300.1" y1="20.91" x2="301.4" y2="20.91" stroke="#737373" stroke-width="0.6"/>
<line x1="299" y1="9.6" x2="301.4" y2="9.6" stroke="#737373" stroke-width="0.6"/>
<text x="298.1" y="11.5" text-anchor="end" class="tk">9200</text>
<line x1="301.4" y1="168" x2="301.4" y2="170.2" stroke="#737373" stroke-width="0.6"/>
<text x="301.4" y="175.5" text-anchor="middle" class="tk">0</text>
<line x1="321.27" y1="168" x2="321.27" y2="169.2" stroke="#737373" stroke-width="0.6"/>
<line x1="341.13" y1="168" x2="341.13" y2="170.2" stroke="#737373" stroke-width="0.6"/>
<text x="341.13" y="175.5" text-anchor="middle" class="tk">100</text>
<line x1="361" y1="168" x2="361" y2="169.2" stroke="#737373" stroke-width="0.6"/>
<line x1="380.87" y1="168" x2="380.87" y2="170.2" stroke="#737373" stroke-width="0.6"/>
<text x="380.87" y="175.5" text-anchor="middle" class="tk">200</text>
<line x1="400.73" y1="168" x2="400.73" y2="169.2" stroke="#737373" stroke-width="0.6"/>
<line x1="420.6" y1="168" x2="420.6" y2="170.2" stroke="#737373" stroke-width="0.6"/>
<text x="420.6" y="175.5" text-anchor="middle" class="tk">300</text>
<line x1="440.47" y1="168" x2="440.47" y2="169.2" stroke="#737373" stroke-width="0.6"/>
<line x1="460.33" y1="168" x2="460.33" y2="170.2" stroke="#737373" stroke-width="0.6"/>
<text x="460.33" y="175.5" text-anchor="middle" class="tk">400</text>
<line x1="480.2" y1="168" x2="480.2" y2="169.2" stroke="#737373" stroke-width="0.6"/>
<line x1="500.07" y1="168" x2="500.07" y2="170.2" stroke="#737373" stroke-width="0.6"/>
<text x="500.07" y="175.5" text-anchor="middle" class="tk">500</text>
<line x1="519.93" y1="168" x2="519.93" y2="169.2" stroke="#737373" stroke-width="0.6"/>
<line x1="539.8" y1="168" x2="539.8" y2="170.2" stroke="#737373" stroke-width="0.6"/>
<text x="539.8" y="175.5" text-anchor="middle" class="tk">600</text>
<text x="420.6" y="185.3" text-anchor="middle" class="lb">Sample Number</text>
<text x="420.6" y="193.8" text-anchor="middle" class="lb">(b) Test set with increasing noise</text>
<text x="286" y="88.8" text-anchor="middle" class="lb" transform="rotate(-90 286 88.8)">Value</text>
<rect x="473.8" y="9.6" width="66" height="16.6" fill="#fff" stroke="#8a8a8a" stroke-width="0.6"/>
<line x1="474.3" y1="13.3" x2="489.8" y2="13.3" stroke="#f28c18" stroke-width="1" opacity="0.75"/>
<line x1="474.3" y1="22.3" x2="489.8" y2="22.3" stroke="#2677c2" stroke-width="1" opacity="0.75"/>
<text x="491.7" y="16" class="lg">True value</text>
<text x="491.7" y="25" class="lg">Predicted value</text>
<path d="M301.4 9.6H539.8V168" fill="none" stroke="#737373" stroke-width="0.85"/>
<clipPath id="cc"><rect x="27.3" y="204.9" width="238.2" height="158.7"/></clipPath><g clip-path="url(#cc)">
<path d="M27 316.6 27.3 319.8 27.5 328.1 27.8 330.7 28 328.9 28.4 317.7 28.8 309.4 29.2 299.3 29.7 292.2 30 305.2 30.4 313.4 30.7 327.2 31.1 335 31.4 325.1 31.8 336.1 32.2 327 32.5 324.8 32.8 336.1 33.1 341.6 33.4 349.3 33.7 359.4 34 337.3 34.2 314.8 34.5 286.8 34.8 263.7 35.1 281.4 35.4 303.1 35.7 315.2 36 337 36.3 318.8 36.6 314.1 36.9 297.7 37.2 288.1 37.5 278.5 37.7 280.8 38 280.2 38.2 280 38.5 271.2 38.7 265.9 39 267.9 39.2 263.7 39.4 277.4 39.6 283.1 39.9 291.3 40.1 304.4 40.4 300.9 40.7 297.1 41 288 41.3 284.1 41.6 284.7 41.9 285.1 42.2 278.7 42.5 278 42.8 269.4 43.1 268.6 43.4 262.9 43.7 256.6 44 265.3 44.3 260.1 44.6 266.9 45 273.9 45.2 274.1 45.5 274.1 45.7 285.1 46 288.1 46.3 300.4 46.6 305.6 46.9 324.2 47.2 328.9 47.6 317.4 47.9 301.8 48.3 286.2 48.6 269.8 48.9 283.3 49.2 283.9 49.5 301.3 49.9 308.5 50.2 312.9 50.5 305.6 50.8 316 51.1 316.6 51.3 317.7 51.6 323.8 51.8 321 52.1 324.8 52.4 330.6 52.6 337.9 52.9 338.9 53.1 348.2 53.3 339.6 53.5 325.9 53.7 317.3 53.9 304.4 54.1 312 54.3 328.1 54.5 335.8 54.7 343.1 55.1 331.2 55.4 323.2 55.7 314.5 56 298.3 56.4 302.9 56.8 287 57.2 294.2 57.6 288.1 57.9 283.9 58.1 275.5 58.4 265.8 58.6 263.7 58.9 275.8 59.2 272.9 59.5 287.3 59.8 292.2 60.2 291.8 60.5 274.7 60.8 274.2 61.1 269.8 61.4 266.1 61.7 273.8 62 280.4 62.3 275.9 62.7 279.1 63 259.2 63.4 259.1 63.7 256.6 64 263.2 64.3 270.5 64.6 269.7 64.9 271.8 65.3 276 65.6 287.3 65.9 293.2 66.2 300.4 66.4 306.7 66.7 311.7 66.9 323.3 67.2 328.9 67.5 321.4 67.8 311.2 68.1 302 68.4 294.2 68.6 281 68.8 276 69 274.6 69.2 261.7 69.5 267.5 69.8 269.2 70.2 286.8 70.5 288.1 70.7 297.4 71 310.8 71.2 309.8 71.5 316.6 71.8 316.3 72.1 314 72.4 326.5 72.7 322.8 73 319.7 73.3 293 73.6 280.5 73.9 269.8 74.2 282.9 74.5 287.9 74.8 300.8 75.2 312.6 75.5 305.1 75.8 301.1 76.1 298.6 76.4 288.1 76.6 283.6 76.9 282.6 77.1 272.7 77.4 269.8 77.7 265 77.9 249.1 78.2 245.7 78.4 245.4 78.7 262.3 79 270.5 79.3 288.9 79.6 300.4 79.9 297.4 80.3 295.4 80.6 288.3 80.9 280 81.2 277.9 81.5 267.3 81.8 258.9 82.1 255.6 82.4 257.7 82.7 263.8 83 266.3 83.3 275.9 83.6 278.3 83.9 284.7 84.2 290.7 84.5 294.2 84.8 300.5 85 301.9 85.3 316.9 85.6 324.8 85.7 316.5 85.8 310.8 85.9 299.6 86 288.1 86.3 283 86.5 280.2 86.8 288.5 87 278 87.3 289.1 87.5 301.5 87.8 310.8 88 310.5 88.3 308.8 88.6 315.1 88.8 316.9 89.1 316.6 89.3 311.7 89.6 304.5 89.8 296.1 90.1 288.1 90.3 291.4 90.6 287.3 90.8 295.1 91.1 298.3 91.4 297.4 91.6 302.9 91.9 302.6 92.1 306.5 92.4 303.3 92.6 298.5 92.9 290.9 93.1 284.1 93.4 281.8 93.7 277.3 93.9 271.6 94.2 269.8 94.4 260.5 94.7 250.5 94.9 245.4 95.2 235.2 95.4 232.7 95.7 232.4 95.9 222.3 96.2 225 96.5 234.6 96.7 234.2 97 240.4 97.2 249.4 97.5 250.2 97.7 250.3 98 255.2 98.2 255.6 98.5 250.2 98.8 245.2 99 243 99.3 243.3 99.5 247 99.8 240.5 100 234.1 100.3 237.2 100.5 239.8 100.8 236.1 101 252 101.3 247.4 101.6 246.4 101.8 259.5 102.1 264.8 102.3 267.8 102.6 267.6 102.8 280.2 103.1 288.5 103.3 290.2 103.6 284.9 103.9 277 104.1 272.6 104.4 261.7 104.6 265.9 104.9 270.1 105.1 271.9 105.4 275.9 105.6 274.9 105.9 265.1 106.1 268.4 106.4 261.7 106.7 265.3 106.9 268.5 107.2 279.9 107.4 284.1 107.7 289.3 107.9 284.8 108.2 277.4 108.4 278 108.7 274.6 109 263.9 109.2 259.1 109.5 253.5 109.7 259 110 254.5 110.2 269.5 110.5 273.9 110.7 266.7 111 265 111.2 258.9 111.5 261.7 111.8 260.2 112 267.1 112.3 278.7 112.5 280 112.8 278.5 113 263.6 113.3 259.9 113.5 247.4 113.8 242.3 114.1 231.7 114.3 235.8 114.6 231.1 114.8 237.5 115.1 238.6 115.3 246.1 115.6 249.4 115.8 266.5 116.1 275.5 116.3 287.9 116.6 308.5 116.9 302.5 117.1 297.5 117.4 291.8 117.6 288.1 117.9 296.1 118.1 303.1 118.4 298.7 118.6 304.4 118.9 306.2 119.2 306.1 119.4 304.2 119.7 300.4 119.9 307.6 120.2 304.9 120.4 312.5 120.7 312.6 120.9 318.1 121.2 310.7 121.5 302.5 121.7 302.4 122 308.4 122.2 314.5 122.5 314.5 122.7 316.6 123 317 123.2 327.9 123.5 319.3 123.7 326.8 124 318.6 124.3 306.4 124.5 291.5 124.8 286.1 125 295.5 125.3 296.6 125.5 295.2 125.8 304.4 126 300.7 126.3 290.5 126.6 278.5 126.8 280 127.1 271.1 127.3 268.8 127.6 264.2 127.8 255.6 128.1 251.4 128.3 246.1 128.6 242.9 128.8 236.2 129.1 243.8 129.4 257.7 129.6 262 129.9 269.8 130.1 274.5 130.4 279.1 130.6 276.3 130.9 284.1 131.1 276.2 131.4 279.9 131.7 270.1 131.9 263.7 132.2 260.5 132.4 261 132.7 255.7 132.9 255.6 133.2 261.2 133.4 262.1 133.7 270.4 133.9 273.9 134.2 273.2 134.5 290.4 134.7 288.6 135 296.3 135.2 297.6 135.5 310.7 135.7 317.7 136 326.8 136.2 320.8 136.5 309 136.8 308.5 137 300.4 137.3 310.1 137.5 286.1 137.8 287.9 138 282 138.3 285.4 138.5 292 138.8 288.6 139 300.4 139.3 299.9 139.6 310.3 139.8 312.4 140.1 316.6 140.3 325.2 140.6 317.9 140.8 323.4 141.1 324.8 141.3 332.3 141.6 313.6 141.9 309 142.1 308.5 142.4 311.9 142.6 315.5 142.9 322.5 143.1 322.8 143.4 318.7 143.6 310.6 143.9 309.8 144.1 304.4 144.4 302.2 144.6 284 144.8 255.2 145 253.5 145.3 257 145.5 258.2 145.8 268.2 146 269.8 146.3 270.1 146.5 279.5 146.8 276.6 147 273.9 147.3 273.8 147.6 267.5 147.8 263 148.1 259.6 148.3 260.5 148.6 263.7 148.8 260.2 149.1 257.6 149.3 259.3 149.6 268.8 149.8 267.5 150.1 269.8 150.4 274.1 150.6 275.8 150.9 281.3 151.1 288.1 151.4 292.2 151.6 290.3 151.9 312 152.1 314.6 152.4 323.5 152.7 327 152.9 338.6 153.2 341.1 153.4 334.7 153.7 326.3 153.9 306.8 154.2 308.5 154.4 303 154.7 301.4 154.9 301.1 155.2 290.2 155.5 303.1 155.7 307 156 302.4 156.2 312.6 156.5 306.9 156.7 320.9 157 321.8 157.2 324.8 157.5 331.7 157.8 330.4 158 334.8 158.3 337 158.5 322.9 158.8 322.5 159 310.8 159.3 304.4 159.5 312.9 159.8 320.5 160 325.3 160.3 332.9 160.5 337.8 160.6 340 160.8 346.6 160.9 347.2 161.1 341 161.3 328.7 161.5 320.4 161.7 314.6 162 312.9 162.3 296.9 162.6 292.6 163 280 163.3 275.4 163.7 265.5 164 258.7 164.4 255.6 164.6 259.6 164.9 263.7 165.1 268.7 165.4 269.8 165.7 260.7 165.9 259.3 166.2 257.2 166.4 253.5 166.7 262.4 166.9 249.2 167.2 262.9 167.4 263.7 167.7 257.5 168 257.3 168.2 249.5 168.5 247.4 168.7 248.1 169 252.1 169.2 246.5 169.5 244.4 169.7 250.9 170 255.5 170.2 255.9 170.5 263.7 170.8 278.1 171 287.3 171.3 297.1 171.5 312.6 171.7 320.1 171.8 326.9 172 338.5 172.1 343.1 172.4 338.4 172.6 331.9 172.9 335.2 173.2 324.8 173.5 317.5 173.9 307.4 174.2 293.6 174.6 280 174.8 285.7 175.1 290.5 175.3 297.2 175.6 304.4 175.9 317.9 176.1 324.2 176.4 327.6 176.6 343.1 176.9 336.3 177.1 324.3 177.4 323.9 177.6 316.6 177.9 315.4 178.2 318.8 178.4 327.8 178.7 330.9 178.9 319.9 179.2 302.9 179.4 301.8 179.7 288.1 179.9 305.9 180.2 300.6 180.5 322.8 180.7 324.8 181 316 181.2 310.6 181.5 305.8 181.7 300.4 182 290.5 182.2 297.4 182.5 290.1 182.7 284.1 183 278 183.3 276.9 183.5 268.9 183.8 271.8 184 274.5 184.3 283.7 184.5 277.3 184.8 288.1 185 281.8 185.3 279.6 185.6 278.5 185.8 269.8 186.1 278.2 186.3 274.1 186.6 276 186.8 282 187.1 280.2 187.3 273.5 187.6 270.1 187.8 267.8 188.1 275.1 188.4 280.6 188.6 278 188.9 280 189.1 283.8 189.4 291.4 189.6 286.2 189.9 298.3 190.1 302.8 190.4 303.3 190.7 321.5 190.9 316.6 191.2 327.6 191.4 333.5 191.7 340.3 191.9 349.2 192.2 331.1 192.4 335.8 192.7 331.3 192.9 316.6 193.2 308.2 193.5 308.2 193.7 302.7 194 294.2 194.2 284 194.5 289.8 194.7 287.4 195 278 195.2 286.5 195.5 293 195.8 304 196 308.5 196.3 308.5 196.5 321.1 196.8 331 197 332.9 197.3 326 197.5 332.8 197.8 325.2 198 324.8 198.3 323.2 198.6 337.6 198.8 340.8 199.1 351.3 199.3 344.9 199.6 331.3 199.8 332.5 200.1 320.7 200.3 313.7 200.6 314 200.9 306.1 201.1 304.4 201.4 299.1 201.6 301 201.9 293.1 202.1 288.1 202.4 284.5 202.6 279.1 202.9 286.6 203.1 280 203.4 280.4 203.7 273.6 203.9 273.3 204.2 269.8 204.4 263.7 204.6 261.7 204.8 260.4 205 261.7 205.3 268.2 205.5 273 205.8 274 206 282 206.3 289.5 206.6 294.3 206.8 296.5 207.1 300.4 207.3 299.4 207.6 289 207.8 284.6 208.1 280 208.3 277.3 208.6 270.7 208.8 269.4 209.1 261.7 209.4 255.7 209.6 265.3 209.9 255.5 210.1 257.6 210.4 261 210.6 260.3 210.9 272.2 211.1 273.9 211.4 284 211.7 288.3 211.9 292.5 212.2 294.2 212.4 293.7 212.7 302.3 212.9 309.2 213.2 316.6 213.4 316 213.7 327.2 213.9 326.5 214.2 328.9 214.5 323.7 214.7 320.6 215 309.8 215.2 308.5 215.5 301.3 215.7 297.9 216 299.8 216.2 294.2 216.5 301.2 216.8 307.7 217 315.3 217.3 316.6 217.5 307.2 217.8 306.3 218 305 218.3 300.4 218.5 301.1 218.8 310.5 219 322.7 219.3 324.8 219.6 330.2 219.8 331.1 220.1 328 220.3 328.9 220.6 317.8 220.8 312.8 221.1 296.8 221.3 288.1 221.6 285.9 221.9 286.3 222.1 276 222.4 273.9 222.6 274 222.9 278.9 223.1 283.9 223.4 284.1 223.6 278.8 223.9 270.4 224.1 264.9 224.4 255.6 224.7 253.8 224.9 261.3 225.2 269.9 225.4 273.9 225.7 267.7 225.9 263.5 226.2 261.5 226.4 263.7 226.7 256.7 227 256.4 227.2 249.7 227.5 250.5 227.7 252.7 228 259.7 228.2 253.7 228.5 255.6 228.7 262.6 229 260.8 229.2 257.2 229.5 263.7 229.8 271.3 230 277.1 230.3 292.7 230.5 298.3 230.8 298.3 231 312.7 231.3 314.4 231.5 316.6 231.8 313.2 232.1 328.9 232.3 336.6 232.6 335 232.8 337.4 233.1 350.1 233.3 344.6 233.6 357.4 233.8 354.3 234.1 342.6 234.3 347.1 234.6 341.1 234.9 332 235.1 326.6 235.4 336.5 235.6 332.9 235.9 337.9 236.1 322.4 236.4 324 236.6 316.6 236.9 313 237.2 307.2 237.4 306.9 237.7 300.4 237.9 303.8 238.2 289.3 238.4 293.4 238.7 288.1 238.9 292.6 239.2 288.6 239.5 303.7 239.7 300.4 240 303 240.2 286.4 240.5 292 240.7 280 241 278.7 241.2 276.3 241.5 281.4 241.7 273.9 242 272.2 242.3 270.1 242.5 272.3 242.8 263.7 243 267.8 243.3 265.2 243.5 255.1 243.8 259.6 244 252.4 244.3 262.1 244.6 252.9 244.8 255.6 245.1 254.4 245.3 247.7 245.6 249.5 245.8 248.4 246.1 252.3 246.3 272.7 246.6 271.1 246.8 284.1 247 296.8 247.2 309.8 247.3 328.6 247.5 337 247.7 324.8 248 323.6 248.2 316.3 248.5 310.5 248.7 316.2 248.9 319.5 249.1 319.4 249.3 324.8 249.6 321.7 249.9 315.2 250.2 314.4 250.5 308.5 250.8 304 251 297.8 251.3 296.2 251.5 292.2 251.8 299.8 252 313.4 252.3 308.6 252.6 316.6 252.8 319.9 253.1 326.5 253.3 314.5 253.6 324.8 253.9 319.9 254.3 324.1 254.7 330.4 255 332.9 255.3 345.7 255.5 340.6 255.8 346.9 256 345.2 256.3 337.1 256.5 321.1 256.8 314.6 257 316.6 257.3 316.6 257.6 309.2 257.8 299.3 258.1 300.4 258.3 309.9 258.6 304.4 258.8 320.1 259.1 320.7 259.3 328.5 259.6 321.8 259.9 322.4 260.1 328.9 260.4 328.1 260.6 316.4 260.9 320.1 261.1 312.6 261.4 309.9 261.6 319.8 261.9 319.1 262.1 320.7 262.4 315.9 262.7 311.1 262.9 312.5 263.2 308.5 263.4 300 263.7 305.4 263.9 303.9 264.2 304.4 264.5 309.2 264.8 303.5 265.1 317.3 265.4 312.6" fill="none" stroke="#f28c18" stroke-width="0.88" stroke-linejoin="round"/>
<path d="M28 316.7 28.2 315.2 28.5 330.8 28.7 328.5 29 326.1 29.4 317 29.8 318.9 30.2 302.5 30.6 297.5 31 301.1 31.3 311.2 31.7 328 32 326.5 32.4 330.6 32.7 336.6 33.1 327 33.5 324.2 33.8 334.4 34.1 338.2 34.4 353 34.7 359.5 34.9 341.3 35.2 313.9 35.5 285.4 35.7 273 36 278.7 36.3 301 36.6 317.4 36.9 338.8 37.2 311.8 37.5 311.5 37.8 297.4 38.2 287.8 38.4 275.8 38.7 284.2 38.9 278.5 39.2 279.3 39.4 262.7 39.7 266.6 39.9 260.9 40.2 267.9 40.4 279.8 40.6 281 40.8 291.4 41 303.3 41.3 299 41.6 297.6 41.9 287.1 42.2 282 42.5 281.2 42.8 291.7 43.2 279.4 43.5 277.7 43.8 272.7 44.1 267.3 44.4 262 44.7 260.4 45 270 45.3 263.8 45.6 261.4 45.9 274.4 46.2 274.6 46.4 276.8 46.7 281.6 46.9 283.9 47.2 299.2 47.5 300.9 47.8 317.6 48.2 326.2 48.5 319.7 48.9 302.2 49.2 291.8 49.6 268 49.9 287.6 50.2 285.3 50.5 297.9 50.8 306.5 51.1 308.8 51.4 304.7 51.7 312.5 52 321.6 52.3 316.3 52.5 317.9 52.8 320.4 53 326.4 53.3 328.8 53.6 340.4 53.8 334.2 54.1 343.2 54.3 345.5 54.5 326.1 54.7 320.3 54.9 308.1 55.1 315.4 55.3 328 55.5 334 55.7 345.7 56 328 56.3 322.8 56.6 316.8 56.9 297.2 57.3 296.6 57.7 289.7 58.1 298.6 58.6 289.3 58.8 277.3 59.1 278.9 59.3 275 59.6 258.7 59.9 265.1 60.2 272.3 60.5 286.9 60.8 294.3 61.1 294 61.4 275.1 61.7 276.5 62 271.6 62.3 267.2 62.6 273.6 62.9 279.2 63.3 278.4 63.6 280.1 64 258.2 64.3 264.3 64.7 254.7 65 263 65.3 271.4 65.6 262.6 65.9 271 66.2 280.1 66.5 290.7 66.8 288.3 67.1 296.7 67.4 301.7 67.6 309.8 67.9 321.3 68.1 320.4 68.5 321.1 68.8 310.5 69.1 301.3 69.4 291.5 69.6 281.1 69.8 270 70 276.7 70.2 264.5 70.5 268.7 70.8 265.9 71.1 292.2 71.4 293 71.7 289.7 71.9 311.6 72.2 309.7 72.4 305.2 72.7 317.4 73 315.8 73.3 327.7 73.7 322 74 316 74.3 291.7 74.6 284.1 74.9 276.8 75.2 282.1 75.5 287.5 75.8 303.2 76.1 302.5 76.4 305.7 76.7 299.2 77 288.8 77.3 290.9 77.6 279.8 77.8 285.5 78.1 278.6 78.3 265.2 78.6 260.9 78.9 250.9 79.1 240.7 79.4 250.4 79.7 263.9 80 274.7 80.3 280.5 80.6 299.3 80.9 297.6 81.2 286.7 81.5 290.9 81.8 274.2 82.1 278.6 82.4 262.8 82.7 263.4 83 263.9 83.3 259.3 83.7 264.9 84 272.4 84.3 274.5 84.6 278.9 84.9 288.2 85.2 292.4 85.5 300.6 85.7 305.1 86 309.3 86.3 315.6 86.5 327.6 86.6 312.1 86.7 313.7 86.8 306.8 87 298.7 87.2 279.5 87.5 281.2 87.7 292.5 88 276.3 88.2 292.4 88.5 303.9 88.7 308.5 89 308.1 89.2 304.9 89.5 315.8 89.8 321.4 90 317.2 90.3 322.7 90.5 298.9 90.8 294.6 91 292.2 91.3 287.9 91.5 290 91.8 299.1 92.1 299.4 92.3 296.8 92.6 306.5 92.8 304 93.1 308.8 93.3 305.1 93.6 295.5 93.8 286.5 94.1 282.8 94.3 282.6 94.6 276.7 94.9 275.6 95.1 270.8 95.4 264.7 95.6 251.6 95.9 243.2 96.1 239.8 96.4 236 96.6 230.1 96.9 222.4 97.2 237.8 97.4 221.7 97.7 239.6 97.9 241 98.2 248.9 98.4 248.7 98.7 248 98.9 264.3 99.2 253.3 99.4 248.9 99.7 248.7 100 245 100.2 243 100.5 245.9 100.7 235.6 101 239.5 101.2 233.7 101.5 230.6 101.7 241.5 102 255.1 102.3 249.4 102.5 245.2 102.8 264.5 103 260.4 103.3 258.8 103.5 268.3 103.8 282.8 104 289.9 104.3 297.5 104.6 287.6 104.8 276 105.1 272 105.3 266.3 105.6 266.3 105.8 269.9 106.1 264.7 106.3 274.4 106.6 269.4 106.8 266.6 107.1 269.3 107.4 265.5 107.6 273.3 107.9 268.3 108.1 285.5 108.4 278.7 108.6 288.7 108.9 287.9 109.1 285 109.4 273 109.7 273.4 109.9 265.1 110.2 259.6 110.4 250.7 110.7 252.9 110.9 250.3 111.2 268.9 111.4 267.8 111.7 274 111.9 270.2 112.2 251.6 112.5 260 112.7 266.1 113 273 113.2 282.2 113.5 272.8 113.7 275.5 114 268.4 114.2 260 114.5 246 114.8 245.1 115 237.3 115.3 237.6 115.5 233.7 115.8 243.2 116 237.6 116.3 243.3 116.5 253.6 116.8 261.6 117 277.3 117.3 284 117.6 310 117.8 296.4 118.1 301.6 118.3 293.1 118.6 287.5 118.8 292.8 119.1 302.3 119.3 295.1 119.6 299.3 119.9 310.4 120.1 308.5 120.4 309.4 120.6 295.2 120.9 299.5 121.1 298.5 121.4 314.8 121.6 315.6 121.9 309.8 122.1 314.9 122.4 301.3 122.7 298.2 122.9 308.5 123.2 316.9 123.4 313.7 123.7 315.7 123.9 313.1 124.2 320.7 124.4 317.1 124.7 318.9 125 320.4 125.2 303 125.5 298 125.7 280.8 126 301.7 126.2 293 126.5 291.4 126.7 304.6 127 303.4 127.2 289.7 127.5 277.1 127.8 287.9 128 273.3 128.3 263.8 128.5 263.2 128.8 263.1 129 253.4 129.3 250.4 129.5 252.5 129.8 235.4 130.1 246.5 130.3 255.2 130.6 262 130.8 271.6 131.1 268.3 131.3 278.7 131.6 276.2 131.8 287.3 132.1 273.2 132.3 273.9 132.6 271.6 132.9 259.4 133.1 261.8 133.4 263.8 133.6 253 133.9 256 134.1 257.6 134.4 251 134.6 264.6 134.9 265.5 135.2 273.9 135.4 285.6 135.7 288.1 135.9 295.9 136.2 301.9 136.4 308.4 136.7 314.8 136.9 327.1 137.2 326.1 137.5 308.2 137.7 309.5 138 299.6 138.2 306.6 138.5 280.7 138.7 288.4 139 282.1 139.2 285.3 139.5 300.7 139.7 288 140 301.8 140.3 298.6 140.5 314.9 140.8 310.9 141 323.8 141.3 323.1 141.5 320.7 141.8 327 142 323.2 142.3 334.8 142.6 314.2 142.8 306.5 143.1 306.3 143.3 313.6 143.6 322.8 143.8 319.8 144.1 323.9 144.3 314.2 144.6 310.8 144.8 303.4 145.1 300.3 145.3 301.3 145.5 281.1 145.7 256.1 146 259.6 146.2 258 146.5 256.4 146.7 263.4 147 267.6 147.2 274.7 147.5 278.2 147.7 275.2 148 276.3 148.2 276.8 148.5 271.6 148.8 261.8 149 256.3 149.3 254 149.5 261.1 149.8 259.1 150 261.2 150.3 261.1 150.5 266.4 150.8 271.4 151.1 264.9 151.3 270 151.6 271.4 151.8 277.1 152.1 287.3 152.3 289.1 152.6 287.9 152.8 317.1 153.1 308.1 153.3 318.3 153.6 325 153.9 338.7 154.1 341.2 154.4 332.1 154.6 323.9 154.9 306.3 155.1 311.9 155.4 299.9 155.6 292.4 155.9 302.6 156.2 286.7 156.4 303.2 156.7 312.9 156.9 303.3 157.2 320.1 157.4 300.9 157.7 321.6 157.9 323.1 158.2 327.8 158.4 327.8 158.7 330.3 159 334.3 159.2 336.3 159.5 317.3 159.7 315.5 160 314.1 160.2 307.4 160.5 314.2 160.7 323.7 161 330 161.3 327.8 161.4 340.2 161.6 345.2 161.7 349.4 161.9 348.1 162.1 342.7 162.3 322.2 162.5 318.1 162.7 318.6 163 318.5 163.3 299.1 163.6 290.9 163.9 280.1 164.3 279.7 164.6 275 165 263.3 165.3 254.7 165.6 262.9 165.8 265.8 166.1 278.3 166.4 271.8 166.6 261 166.9 259.2 167.1 252.5 167.4 249.8 167.6 260.4 167.9 246.7 168.1 263.4 168.4 263.7 168.7 261.3 168.9 263.4 169.2 250.6 169.4 247.2 169.7 241 169.9 254.1 170.2 250.2 170.4 242.4 170.7 250.3 170.9 253.6 171.2 261.6 171.5 267.5 171.7 283.8 172 282.8 172.2 308.2 172.5 308.5 172.6 315.1 172.8 326.8 172.9 334.7 173.1 348.9 173.3 335.3 173.6 328.1 173.9 338 174.1 329.3 174.5 314 174.8 306 175.2 293.6 175.5 281.7 175.8 294.7 176 297.4 176.3 302.7 176.6 310.3 176.8 317.6 177.1 327.1 177.3 326.4 177.6 338.3 177.8 342.2 178.1 316.9 178.3 323.9 178.6 314.7 178.9 309 179.1 317.3 179.4 327.4 179.6 331.8 179.9 316.2 180.1 306.9 180.4 303.9 180.6 293.2 180.9 298.4 181.1 299.4 181.4 319.3 181.7 325.8 181.9 312 182.2 307.8 182.4 300.6 182.7 295.3 182.9 287.1 183.2 301.1 183.4 285.8 183.7 274.3 184 279.8 184.2 275.5 184.5 272.1 184.7 274.7 185 273.6 185.2 281.6 185.5 274.9 185.7 287.3 186 278.2 186.2 280.2 186.5 284.1 186.8 267.6 187 275.5 187.3 271.6 187.5 278.6 187.8 284.3 188 285.8 188.3 276.6 188.5 271.1 188.8 270.4 189.1 270 189.3 282.9 189.6 279.1 189.8 289 190.1 289.8 190.3 288.1 190.6 284.6 190.8 302.1 191.1 294.5 191.3 299.9 191.6 322.5 191.9 319.3 192.1 327.8 192.4 337.3 192.6 337.9 192.9 347.7 193.1 329.6 193.4 330.2 193.6 330.5 193.9 314.3 194.2 308.8 194.4 297.5 194.7 303.4 194.9 292.6 195.2 282.7 195.4 290.7 195.7 286.3 195.9 283.3 196.2 292.7 196.5 297.3 196.7 308 197 309.9 197.2 308.7 197.5 315.2 197.7 328.4 198 337 198.2 329 198.5 330.4 198.7 325.9 199 329.6 199.3 323.1 199.5 343.9 199.8 336.9 200 352.9 200.3 346.5 200.5 331.6 200.8 333.1 201 323 201.3 304.7 201.6 316 201.8 311.2 202.1 306.2 202.3 304 202.6 296 202.8 292.9 203.1 289.8 203.3 283.8 203.6 284.5 203.8 288.4 204.1 277.9 204.4 283.5 204.6 277.1 204.9 271.6 205.1 272.6 205.3 265.9 205.5 264 205.8 256.2 206 267.9 206.2 271.4 206.5 273.3 206.7 275.8 207 283.3 207.2 287.7 207.5 291.1 207.8 295.9 208 296.7 208.3 296.2 208.5 283.7 208.8 283.3 209 284.1 209.3 278.2 209.5 271.2 209.8 268.3 210.1 260.5 210.3 250.4 210.6 272.3 210.8 253.5 211.1 252.3 211.3 263.3 211.6 262.2 211.8 270.2 212.1 268.1 212.3 278.2 212.6 294.6 212.9 291.8 213.1 291.6 213.4 301.7 213.6 300.2 213.9 305.2 214.1 318.3 214.4 317.1 214.6 332.5 214.9 319.1 215.2 328.9 215.4 315.9 215.7 321.9 215.9 307.3 216.2 306.8 216.4 299 216.7 302.2 216.9 307.1 217.2 294.8 217.4 300.5 217.7 305.5 218 316.7 218.2 311.6 218.5 321.8 218.7 305.5 219 312.5 219.2 301.9 219.5 296.5 219.7 304.4 220 320.5 220.3 321.1 220.5 328 220.8 325 221 336.5 221.3 336.3 221.5 309.6 221.8 314.2 222 302.1 222.3 287.5 222.6 285.7 222.8 291.2 223.1 279.1 223.3 269.6 223.6 279.5 223.8 276.7 224.1 290.8 224.3 279.3 224.6 268.8 224.8 270.8 225.1 270.2 225.4 258.6 225.6 255.4 225.9 257.8 226.1 273.3 226.4 265.3 226.6 270.4 226.9 258.1 227.1 258.7 227.4 257.8 227.7 253 227.9 262.6 228.2 245.3 228.4 251.6 228.7 249.5 228.9 263.7 229.2 248.2 229.4 255.8 229.7 266.3 229.9 270.4 230.2 253 230.5 260.6 230.7 271.5 231 283.5 231.2 287.9 231.5 301.2 231.7 295.5 232 307.5 232.2 307.1 232.5 316.8 232.8 317.6 233 328 233.3 326.9 233.5 332.2 233.8 341 234 352.5 234.3 345 234.5 361.9 234.8 347.7 235 337 235.3 356.2 235.6 343.4 235.8 331.2 236.1 324.8 236.3 325.2 236.6 335.9 236.8 328.1 237.1 313.9 237.3 323.2 237.6 322.6 237.9 311 238.1 308.7 238.4 304.8 238.6 302.1 238.9 296.5 239.1 298.7 239.4 289.5 239.6 290.8 239.9 283.9 240.1 296.1 240.4 304.4 240.7 307.8 240.9 298.9 241.2 290.5 241.4 290.5 241.7 279.8 241.9 284.1 242.2 272.6 242.4 284 242.7 281.9 243 279.4 243.2 274.3 243.5 273.2 243.7 259.6 244 273.4 244.2 262 244.5 260.4 244.7 258.1 245 252.6 245.2 261.5 245.5 255.6 245.8 253.7 246 255.2 246.3 246.3 246.5 252.6 246.8 250.9 247 255.5 247.3 269.4 247.5 273.2 247.8 284.3 248 298.7 248.1 308.9 248.3 322.3 248.4 337.7 248.7 320.7 248.9 323.9 249.2 307.4 249.4 313 249.6 319 249.8 315.4 250 321.5 250.2 322.3 250.6 326.6 250.9 317.4 251.2 308.7 251.5 307.5 251.7 296.8 252 297.1 252.2 299.3 252.5 296.7 252.7 299.8 253 312 253.3 309.2 253.5 313.6 253.8 320.7 254 330.4 254.3 315.6 254.5 328.2 254.9 317 255.2 322.3 255.6 331.7 256 341 256.2 348.6 256.5 346.8 256.7 345.7 257 349 257.2 329.2 257.5 323.5 257.7 306.3 258 322.1 258.3 318.8 258.5 314.8 258.8 302.2 259 299.4 259.3 307.2 259.5 306 259.8 326.1 260 323 260.3 325.4 260.6 319 260.8 319.1 261.1 327.3 261.3 327.2 261.6 314.6 261.8 320.1 262.1 306.5 262.3 317 262.6 320.7 262.8 325.2 263.1 321.5 263.4 314.9 263.6 311.5 263.9 313.3 264.1 305.9 264.4 299.2 264.6 313.8 264.9 308.3 265.1 302.7 265.4 311.4 265.8 300.5 266.1 322.7 266.4 308.2" fill="none" stroke="#fff" stroke-width="1.0" stroke-linejoin="round"/>
<path d="M28 316.7 28.2 315.2 28.5 330.8 28.7 328.5 29 326.1 29.4 317 29.8 318.9 30.2 302.5 30.6 297.5 31 301.1 31.3 311.2 31.7 328 32 326.5 32.4 330.6 32.7 336.6 33.1 327 33.5 324.2 33.8 334.4 34.1 338.2 34.4 353 34.7 359.5 34.9 341.3 35.2 313.9 35.5 285.4 35.7 273 36 278.7 36.3 301 36.6 317.4 36.9 338.8 37.2 311.8 37.5 311.5 37.8 297.4 38.2 287.8 38.4 275.8 38.7 284.2 38.9 278.5 39.2 279.3 39.4 262.7 39.7 266.6 39.9 260.9 40.2 267.9 40.4 279.8 40.6 281 40.8 291.4 41 303.3 41.3 299 41.6 297.6 41.9 287.1 42.2 282 42.5 281.2 42.8 291.7 43.2 279.4 43.5 277.7 43.8 272.7 44.1 267.3 44.4 262 44.7 260.4 45 270 45.3 263.8 45.6 261.4 45.9 274.4 46.2 274.6 46.4 276.8 46.7 281.6 46.9 283.9 47.2 299.2 47.5 300.9 47.8 317.6 48.2 326.2 48.5 319.7 48.9 302.2 49.2 291.8 49.6 268 49.9 287.6 50.2 285.3 50.5 297.9 50.8 306.5 51.1 308.8 51.4 304.7 51.7 312.5 52 321.6 52.3 316.3 52.5 317.9 52.8 320.4 53 326.4 53.3 328.8 53.6 340.4 53.8 334.2 54.1 343.2 54.3 345.5 54.5 326.1 54.7 320.3 54.9 308.1 55.1 315.4 55.3 328 55.5 334 55.7 345.7 56 328 56.3 322.8 56.6 316.8 56.9 297.2 57.3 296.6 57.7 289.7 58.1 298.6 58.6 289.3 58.8 277.3 59.1 278.9 59.3 275 59.6 258.7 59.9 265.1 60.2 272.3 60.5 286.9 60.8 294.3 61.1 294 61.4 275.1 61.7 276.5 62 271.6 62.3 267.2 62.6 273.6 62.9 279.2 63.3 278.4 63.6 280.1 64 258.2 64.3 264.3 64.7 254.7 65 263 65.3 271.4 65.6 262.6 65.9 271 66.2 280.1 66.5 290.7 66.8 288.3 67.1 296.7 67.4 301.7 67.6 309.8 67.9 321.3 68.1 320.4 68.5 321.1 68.8 310.5 69.1 301.3 69.4 291.5 69.6 281.1 69.8 270 70 276.7 70.2 264.5 70.5 268.7 70.8 265.9 71.1 292.2 71.4 293 71.7 289.7 71.9 311.6 72.2 309.7 72.4 305.2 72.7 317.4 73 315.8 73.3 327.7 73.7 322 74 316 74.3 291.7 74.6 284.1 74.9 276.8 75.2 282.1 75.5 287.5 75.8 303.2 76.1 302.5 76.4 305.7 76.7 299.2 77 288.8 77.3 290.9 77.6 279.8 77.8 285.5 78.1 278.6 78.3 265.2 78.6 260.9 78.9 250.9 79.1 240.7 79.4 250.4 79.7 263.9 80 274.7 80.3 280.5 80.6 299.3 80.9 297.6 81.2 286.7 81.5 290.9 81.8 274.2 82.1 278.6 82.4 262.8 82.7 263.4 83 263.9 83.3 259.3 83.7 264.9 84 272.4 84.3 274.5 84.6 278.9 84.9 288.2 85.2 292.4 85.5 300.6 85.7 305.1 86 309.3 86.3 315.6 86.5 327.6 86.6 312.1 86.7 313.7 86.8 306.8 87 298.7 87.2 279.5 87.5 281.2 87.7 292.5 88 276.3 88.2 292.4 88.5 303.9 88.7 308.5 89 308.1 89.2 304.9 89.5 315.8 89.8 321.4 90 317.2 90.3 322.7 90.5 298.9 90.8 294.6 91 292.2 91.3 287.9 91.5 290 91.8 299.1 92.1 299.4 92.3 296.8 92.6 306.5 92.8 304 93.1 308.8 93.3 305.1 93.6 295.5 93.8 286.5 94.1 282.8 94.3 282.6 94.6 276.7 94.9 275.6 95.1 270.8 95.4 264.7 95.6 251.6 95.9 243.2 96.1 239.8 96.4 236 96.6 230.1 96.9 222.4 97.2 237.8 97.4 221.7 97.7 239.6 97.9 241 98.2 248.9 98.4 248.7 98.7 248 98.9 264.3 99.2 253.3 99.4 248.9 99.7 248.7 100 245 100.2 243 100.5 245.9 100.7 235.6 101 239.5 101.2 233.7 101.5 230.6 101.7 241.5 102 255.1 102.3 249.4 102.5 245.2 102.8 264.5 103 260.4 103.3 258.8 103.5 268.3 103.8 282.8 104 289.9 104.3 297.5 104.6 287.6 104.8 276 105.1 272 105.3 266.3 105.6 266.3 105.8 269.9 106.1 264.7 106.3 274.4 106.6 269.4 106.8 266.6 107.1 269.3 107.4 265.5 107.6 273.3 107.9 268.3 108.1 285.5 108.4 278.7 108.6 288.7 108.9 287.9 109.1 285 109.4 273 109.7 273.4 109.9 265.1 110.2 259.6 110.4 250.7 110.7 252.9 110.9 250.3 111.2 268.9 111.4 267.8 111.7 274 111.9 270.2 112.2 251.6 112.5 260 112.7 266.1 113 273 113.2 282.2 113.5 272.8 113.7 275.5 114 268.4 114.2 260 114.5 246 114.8 245.1 115 237.3 115.3 237.6 115.5 233.7 115.8 243.2 116 237.6 116.3 243.3 116.5 253.6 116.8 261.6 117 277.3 117.3 284 117.6 310 117.8 296.4 118.1 301.6 118.3 293.1 118.6 287.5 118.8 292.8 119.1 302.3 119.3 295.1 119.6 299.3 119.9 310.4 120.1 308.5 120.4 309.4 120.6 295.2 120.9 299.5 121.1 298.5 121.4 314.8 121.6 315.6 121.9 309.8 122.1 314.9 122.4 301.3 122.7 298.2 122.9 308.5 123.2 316.9 123.4 313.7 123.7 315.7 123.9 313.1 124.2 320.7 124.4 317.1 124.7 318.9 125 320.4 125.2 303 125.5 298 125.7 280.8 126 301.7 126.2 293 126.5 291.4 126.7 304.6 127 303.4 127.2 289.7 127.5 277.1 127.8 287.9 128 273.3 128.3 263.8 128.5 263.2 128.8 263.1 129 253.4 129.3 250.4 129.5 252.5 129.8 235.4 130.1 246.5 130.3 255.2 130.6 262 130.8 271.6 131.1 268.3 131.3 278.7 131.6 276.2 131.8 287.3 132.1 273.2 132.3 273.9 132.6 271.6 132.9 259.4 133.1 261.8 133.4 263.8 133.6 253 133.9 256 134.1 257.6 134.4 251 134.6 264.6 134.9 265.5 135.2 273.9 135.4 285.6 135.7 288.1 135.9 295.9 136.2 301.9 136.4 308.4 136.7 314.8 136.9 327.1 137.2 326.1 137.5 308.2 137.7 309.5 138 299.6 138.2 306.6 138.5 280.7 138.7 288.4 139 282.1 139.2 285.3 139.5 300.7 139.7 288 140 301.8 140.3 298.6 140.5 314.9 140.8 310.9 141 323.8 141.3 323.1 141.5 320.7 141.8 327 142 323.2 142.3 334.8 142.6 314.2 142.8 306.5 143.1 306.3 143.3 313.6 143.6 322.8 143.8 319.8 144.1 323.9 144.3 314.2 144.6 310.8 144.8 303.4 145.1 300.3 145.3 301.3 145.5 281.1 145.7 256.1 146 259.6 146.2 258 146.5 256.4 146.7 263.4 147 267.6 147.2 274.7 147.5 278.2 147.7 275.2 148 276.3 148.2 276.8 148.5 271.6 148.8 261.8 149 256.3 149.3 254 149.5 261.1 149.8 259.1 150 261.2 150.3 261.1 150.5 266.4 150.8 271.4 151.1 264.9 151.3 270 151.6 271.4 151.8 277.1 152.1 287.3 152.3 289.1 152.6 287.9 152.8 317.1 153.1 308.1 153.3 318.3 153.6 325 153.9 338.7 154.1 341.2 154.4 332.1 154.6 323.9 154.9 306.3 155.1 311.9 155.4 299.9 155.6 292.4 155.9 302.6 156.2 286.7 156.4 303.2 156.7 312.9 156.9 303.3 157.2 320.1 157.4 300.9 157.7 321.6 157.9 323.1 158.2 327.8 158.4 327.8 158.7 330.3 159 334.3 159.2 336.3 159.5 317.3 159.7 315.5 160 314.1 160.2 307.4 160.5 314.2 160.7 323.7 161 330 161.3 327.8 161.4 340.2 161.6 345.2 161.7 349.4 161.9 348.1 162.1 342.7 162.3 322.2 162.5 318.1 162.7 318.6 163 318.5 163.3 299.1 163.6 290.9 163.9 280.1 164.3 279.7 164.6 275 165 263.3 165.3 254.7 165.6 262.9 165.8 265.8 166.1 278.3 166.4 271.8 166.6 261 166.9 259.2 167.1 252.5 167.4 249.8 167.6 260.4 167.9 246.7 168.1 263.4 168.4 263.7 168.7 261.3 168.9 263.4 169.2 250.6 169.4 247.2 169.7 241 169.9 254.1 170.2 250.2 170.4 242.4 170.7 250.3 170.9 253.6 171.2 261.6 171.5 267.5 171.7 283.8 172 282.8 172.2 308.2 172.5 308.5 172.6 315.1 172.8 326.8 172.9 334.7 173.1 348.9 173.3 335.3 173.6 328.1 173.9 338 174.1 329.3 174.5 314 174.8 306 175.2 293.6 175.5 281.7 175.8 294.7 176 297.4 176.3 302.7 176.6 310.3 176.8 317.6 177.1 327.1 177.3 326.4 177.6 338.3 177.8 342.2 178.1 316.9 178.3 323.9 178.6 314.7 178.9 309 179.1 317.3 179.4 327.4 179.6 331.8 179.9 316.2 180.1 306.9 180.4 303.9 180.6 293.2 180.9 298.4 181.1 299.4 181.4 319.3 181.7 325.8 181.9 312 182.2 307.8 182.4 300.6 182.7 295.3 182.9 287.1 183.2 301.1 183.4 285.8 183.7 274.3 184 279.8 184.2 275.5 184.5 272.1 184.7 274.7 185 273.6 185.2 281.6 185.5 274.9 185.7 287.3 186 278.2 186.2 280.2 186.5 284.1 186.8 267.6 187 275.5 187.3 271.6 187.5 278.6 187.8 284.3 188 285.8 188.3 276.6 188.5 271.1 188.8 270.4 189.1 270 189.3 282.9 189.6 279.1 189.8 289 190.1 289.8 190.3 288.1 190.6 284.6 190.8 302.1 191.1 294.5 191.3 299.9 191.6 322.5 191.9 319.3 192.1 327.8 192.4 337.3 192.6 337.9 192.9 347.7 193.1 329.6 193.4 330.2 193.6 330.5 193.9 314.3 194.2 308.8 194.4 297.5 194.7 303.4 194.9 292.6 195.2 282.7 195.4 290.7 195.7 286.3 195.9 283.3 196.2 292.7 196.5 297.3 196.7 308 197 309.9 197.2 308.7 197.5 315.2 197.7 328.4 198 337 198.2 329 198.5 330.4 198.7 325.9 199 329.6 199.3 323.1 199.5 343.9 199.8 336.9 200 352.9 200.3 346.5 200.5 331.6 200.8 333.1 201 323 201.3 304.7 201.6 316 201.8 311.2 202.1 306.2 202.3 304 202.6 296 202.8 292.9 203.1 289.8 203.3 283.8 203.6 284.5 203.8 288.4 204.1 277.9 204.4 283.5 204.6 277.1 204.9 271.6 205.1 272.6 205.3 265.9 205.5 264 205.8 256.2 206 267.9 206.2 271.4 206.5 273.3 206.7 275.8 207 283.3 207.2 287.7 207.5 291.1 207.8 295.9 208 296.7 208.3 296.2 208.5 283.7 208.8 283.3 209 284.1 209.3 278.2 209.5 271.2 209.8 268.3 210.1 260.5 210.3 250.4 210.6 272.3 210.8 253.5 211.1 252.3 211.3 263.3 211.6 262.2 211.8 270.2 212.1 268.1 212.3 278.2 212.6 294.6 212.9 291.8 213.1 291.6 213.4 301.7 213.6 300.2 213.9 305.2 214.1 318.3 214.4 317.1 214.6 332.5 214.9 319.1 215.2 328.9 215.4 315.9 215.7 321.9 215.9 307.3 216.2 306.8 216.4 299 216.7 302.2 216.9 307.1 217.2 294.8 217.4 300.5 217.7 305.5 218 316.7 218.2 311.6 218.5 321.8 218.7 305.5 219 312.5 219.2 301.9 219.5 296.5 219.7 304.4 220 320.5 220.3 321.1 220.5 328 220.8 325 221 336.5 221.3 336.3 221.5 309.6 221.8 314.2 222 302.1 222.3 287.5 222.6 285.7 222.8 291.2 223.1 279.1 223.3 269.6 223.6 279.5 223.8 276.7 224.1 290.8 224.3 279.3 224.6 268.8 224.8 270.8 225.1 270.2 225.4 258.6 225.6 255.4 225.9 257.8 226.1 273.3 226.4 265.3 226.6 270.4 226.9 258.1 227.1 258.7 227.4 257.8 227.7 253 227.9 262.6 228.2 245.3 228.4 251.6 228.7 249.5 228.9 263.7 229.2 248.2 229.4 255.8 229.7 266.3 229.9 270.4 230.2 253 230.5 260.6 230.7 271.5 231 283.5 231.2 287.9 231.5 301.2 231.7 295.5 232 307.5 232.2 307.1 232.5 316.8 232.8 317.6 233 328 233.3 326.9 233.5 332.2 233.8 341 234 352.5 234.3 345 234.5 361.9 234.8 347.7 235 337 235.3 356.2 235.6 343.4 235.8 331.2 236.1 324.8 236.3 325.2 236.6 335.9 236.8 328.1 237.1 313.9 237.3 323.2 237.6 322.6 237.9 311 238.1 308.7 238.4 304.8 238.6 302.1 238.9 296.5 239.1 298.7 239.4 289.5 239.6 290.8 239.9 283.9 240.1 296.1 240.4 304.4 240.7 307.8 240.9 298.9 241.2 290.5 241.4 290.5 241.7 279.8 241.9 284.1 242.2 272.6 242.4 284 242.7 281.9 243 279.4 243.2 274.3 243.5 273.2 243.7 259.6 244 273.4 244.2 262 244.5 260.4 244.7 258.1 245 252.6 245.2 261.5 245.5 255.6 245.8 253.7 246 255.2 246.3 246.3 246.5 252.6 246.8 250.9 247 255.5 247.3 269.4 247.5 273.2 247.8 284.3 248 298.7 248.1 308.9 248.3 322.3 248.4 337.7 248.7 320.7 248.9 323.9 249.2 307.4 249.4 313 249.6 319 249.8 315.4 250 321.5 250.2 322.3 250.6 326.6 250.9 317.4 251.2 308.7 251.5 307.5 251.7 296.8 252 297.1 252.2 299.3 252.5 296.7 252.7 299.8 253 312 253.3 309.2 253.5 313.6 253.8 320.7 254 330.4 254.3 315.6 254.5 328.2 254.9 317 255.2 322.3 255.6 331.7 256 341 256.2 348.6 256.5 346.8 256.7 345.7 257 349 257.2 329.2 257.5 323.5 257.7 306.3 258 322.1 258.3 318.8 258.5 314.8 258.8 302.2 259 299.4 259.3 307.2 259.5 306 259.8 326.1 260 323 260.3 325.4 260.6 319 260.8 319.1 261.1 327.3 261.3 327.2 261.6 314.6 261.8 320.1 262.1 306.5 262.3 317 262.6 320.7 262.8 325.2 263.1 321.5 263.4 314.9 263.6 311.5 263.9 313.3 264.1 305.9 264.4 299.2 264.6 313.8 264.9 308.3 265.1 302.7 265.4 311.4 265.8 300.5 266.1 322.7 266.4 308.2" fill="none" stroke="#2677c2" stroke-width="0.88" stroke-linejoin="round"/>
</g>
<rect x="27.3" y="204.9" width="238.2" height="158.7" fill="none" stroke="#737373" stroke-width="0.85"/>
<line x1="24.9" y1="363.6" x2="27.3" y2="363.6" stroke="#737373" stroke-width="0.6"/>
<text x="24" y="365.5" text-anchor="end" class="tk">7800</text>
<line x1="26" y1="352.26" x2="27.3" y2="352.26" stroke="#737373" stroke-width="0.6"/>
<line x1="24.9" y1="340.93" x2="27.3" y2="340.93" stroke="#737373" stroke-width="0.6"/>
<text x="24" y="342.83" text-anchor="end" class="tk">8000</text>
<line x1="26" y1="329.59" x2="27.3" y2="329.59" stroke="#737373" stroke-width="0.6"/>
<line x1="24.9" y1="318.26" x2="27.3" y2="318.26" stroke="#737373" stroke-width="0.6"/>
<text x="24" y="320.16" text-anchor="end" class="tk">8200</text>
<line x1="26" y1="306.92" x2="27.3" y2="306.92" stroke="#737373" stroke-width="0.6"/>
<line x1="24.9" y1="295.59" x2="27.3" y2="295.59" stroke="#737373" stroke-width="0.6"/>
<text x="24" y="297.49" text-anchor="end" class="tk">8400</text>
<line x1="26" y1="284.25" x2="27.3" y2="284.25" stroke="#737373" stroke-width="0.6"/>
<line x1="24.9" y1="272.91" x2="27.3" y2="272.91" stroke="#737373" stroke-width="0.6"/>
<text x="24" y="274.81" text-anchor="end" class="tk">8600</text>
<line x1="26" y1="261.58" x2="27.3" y2="261.58" stroke="#737373" stroke-width="0.6"/>
<line x1="24.9" y1="250.24" x2="27.3" y2="250.24" stroke="#737373" stroke-width="0.6"/>
<text x="24" y="252.14" text-anchor="end" class="tk">8800</text>
<line x1="26" y1="238.91" x2="27.3" y2="238.91" stroke="#737373" stroke-width="0.6"/>
<line x1="24.9" y1="227.57" x2="27.3" y2="227.57" stroke="#737373" stroke-width="0.6"/>
<text x="24" y="229.47" text-anchor="end" class="tk">9000</text>
<line x1="26" y1="216.24" x2="27.3" y2="216.24" stroke="#737373" stroke-width="0.6"/>
<line x1="24.9" y1="204.9" x2="27.3" y2="204.9" stroke="#737373" stroke-width="0.6"/>
<text x="24" y="206.8" text-anchor="end" class="tk">9200</text>
<line x1="27.3" y1="363.6" x2="27.3" y2="365.8" stroke="#737373" stroke-width="0.6"/>
<text x="27.3" y="371.1" text-anchor="middle" class="tk">0</text>
<line x1="51.12" y1="363.6" x2="51.12" y2="364.8" stroke="#737373" stroke-width="0.6"/>
<line x1="74.94" y1="363.6" x2="74.94" y2="365.8" stroke="#737373" stroke-width="0.6"/>
<text x="74.94" y="371.1" text-anchor="middle" class="tk">200</text>
<line x1="98.76" y1="363.6" x2="98.76" y2="364.8" stroke="#737373" stroke-width="0.6"/>
<line x1="122.58" y1="363.6" x2="122.58" y2="365.8" stroke="#737373" stroke-width="0.6"/>
<text x="122.58" y="371.1" text-anchor="middle" class="tk">400</text>
<line x1="146.4" y1="363.6" x2="146.4" y2="364.8" stroke="#737373" stroke-width="0.6"/>
<line x1="170.22" y1="363.6" x2="170.22" y2="365.8" stroke="#737373" stroke-width="0.6"/>
<text x="170.22" y="371.1" text-anchor="middle" class="tk">600</text>
<line x1="194.04" y1="363.6" x2="194.04" y2="364.8" stroke="#737373" stroke-width="0.6"/>
<line x1="217.86" y1="363.6" x2="217.86" y2="365.8" stroke="#737373" stroke-width="0.6"/>
<text x="217.86" y="371.1" text-anchor="middle" class="tk">800</text>
<line x1="241.68" y1="363.6" x2="241.68" y2="364.8" stroke="#737373" stroke-width="0.6"/>
<line x1="265.5" y1="363.6" x2="265.5" y2="365.8" stroke="#737373" stroke-width="0.6"/>
<text x="265.5" y="371.1" text-anchor="middle" class="tk">1000</text>
<text x="146.4" y="380.9" text-anchor="middle" class="lb">Sample Number</text>
<text x="146.4" y="389.4" text-anchor="middle" class="lb">(c) Training set with Fast Fourier transform</text>
<text x="11.9" y="284.25" text-anchor="middle" class="lb" transform="rotate(-90 11.9 284.25)">Value</text>
<rect x="199.5" y="204.9" width="66" height="17.3" fill="#fff" stroke="#8a8a8a" stroke-width="0.6"/>
<line x1="200" y1="209.1" x2="215.5" y2="209.1" stroke="#f28c18" stroke-width="1" opacity="0.75"/>
<line x1="200" y1="218.1" x2="215.5" y2="218.1" stroke="#2677c2" stroke-width="1" opacity="0.75"/>
<text x="217.4" y="211.8" class="lg">True value</text>
<text x="217.4" y="220.8" class="lg">Predicted value</text>
<path d="M27.3 204.9H265.5V363.6" fill="none" stroke="#737373" stroke-width="0.85"/>
<clipPath id="cd"><rect x="301.4" y="204.9" width="238.4" height="158.8"/></clipPath><g clip-path="url(#cd)">
<path d="M301.4 320.9 301.7 324 301.9 331.2 302.2 333.1 302.4 333.2 302.7 329.9 302.9 327.4 303.2 310 303.4 308.7 303.7 315.4 304 321.8 304.2 335.8 304.5 345.4 304.7 342.2 305 331.1 305.2 326 305.5 316.9 305.7 307.2 306 313.4 306.3 307.1 306.5 308.7 306.8 314.7 307 310.2 307.3 309.4 307.5 304.6 307.8 302.3 308 303 308.3 301.1 308.5 296.5 308.8 295.6 309.1 295.5 309.3 297.5 309.6 298.5 309.8 298.6 310.1 301.2 310.3 305 310.6 308.7 310.8 301.2 311.1 302.6 311.4 288.6 311.6 290.3 311.9 299.2 312.1 299.1 312.4 305 312.6 312.8 312.9 308.4 313.1 314.2 313.4 314.9 313.6 316.9 313.9 315.6 314.2 310.7 314.4 311.1 314.7 308.7 314.9 313.9 315.2 306.2 315.4 300.3 315.7 300.5 315.9 303.8 316.2 299 316.5 301.4 316.7 298.5 317 301.9 317.2 299 317.5 293.9 317.7 302.6 318 297.6 318.2 297.6 318.5 290.4 318.8 288.3 319 289.5 319.3 291.2 319.5 284.6 319.8 286.3 320 295.7 320.3 301.9 320.5 304.3 320.8 304.6 321 307.7 321.3 305.9 321.6 309 321.8 298.5 322.1 296.7 322.3 293.4 322.6 293.2 322.8 288.3 323.1 289.8 323.3 292.3 323.6 300.1 323.9 308.7 324.1 314.3 324.4 318.7 324.6 314.8 324.9 325 325.1 320.6 325.4 329.9 325.6 333.5 325.9 337.3 326.1 338.6 326.4 343 326.7 346.7 326.9 343.4 327.2 340.7 327.4 338.7 327.7 328.3 327.9 329.1 328.2 325.4 328.4 332.1 328.7 334.8 329 333.2 329.2 333 329.5 329.4 329.7 327.1 330 320.9 330.2 320.1 330.5 305.8 330.7 305.8 331 304.6 331.2 312.5 331.5 319.2 331.8 317 332 329.1 332.3 337.8 332.5 335.5 332.8 340.4 333 345.4 333.3 344.5 333.5 344.3 333.8 333.6 334.1 337.3 334.3 344.3 334.6 343.7 334.8 343.4 335.1 349.5 335.3 346.4 335.6 336.7 335.8 340.8 336.1 341.3 336.3 339 336.6 332.4 336.9 330.9 337.1 329.1 337.4 332.6 337.6 337.5 337.9 345.4 338.1 345.4 338.4 342.3 338.6 338.3 338.9 338.4 339.2 333.2 339.4 338.4 339.7 325.7 339.9 326 340.2 320.9 340.4 313.7 340.7 324.2 340.9 320.5 341.2 316.9 341.4 320.1 341.7 312.5 342 306.6 342.2 308.7 342.5 310.2 342.7 307.6 343 299.1 343.2 300.5 343.5 295.7 343.7 304.4 344 302.9 344.3 304.6 344.5 312.9 344.8 298.1 345 296.4 345.3 296.5 345.5 296.5 345.8 290.9 346 294.5 346.3 298.5 346.5 306.6 346.8 301 347.1 300.7 347.3 304.6 347.6 304.7 347.8 317.1 348.1 322.5 348.3 325 348.6 327.1 348.8 325.5 349.1 329.3 349.4 329.1 349.6 327.6 349.9 320.3 350.1 322.4 350.4 316.9 350.6 306.4 350.9 307.7 351.1 309.5 351.4 308.7 351.7 304.7 351.9 296.9 352.2 299.3 352.4 294.4 352.7 297.1 352.9 293.1 353.2 290.7 353.4 288.3 353.7 289.3 353.9 285.3 354.2 276.9 354.5 279.1 354.7 281.6 355 290.9 355.2 284.5 355.5 292.4 355.7 294.7 356 294.9 356.2 294.9 356.5 300.5 356.8 298.6 357 305 357.3 307.9 357.5 308.7 357.8 312 358 307 358.3 313.7 358.5 316.9 358.8 321.3 359 326.7 359.3 328.7 359.6 329.1 359.8 335.5 360.1 339.6 360.3 341.6 360.6 341.3 360.7 339.1 360.8 343.6 360.9 341.6 361 345.4 361.3 330.9 361.5 328.5 361.8 338.4 362 325 362.3 316.5 362.6 308 362.8 310.5 363.1 308.7 363.3 311.2 363.6 301.4 363.8 299.6 364.1 294.4 364.3 287.2 364.5 281.8 364.7 281.1 364.9 269.9 365.1 281.8 365.3 286.9 365.5 299.5 365.7 304.6 366 315 366.2 316 366.5 324 366.7 329.1 367 329.1 367.2 324.4 367.5 330.6 367.8 325 368 328.4 368.3 330.7 368.5 330.6 368.8 341.3 369 338.4 369.3 351.5 369.5 342.9 369.8 349.5 370 353.2 370.3 352.1 370.6 357.7 370.8 357.7 371.1 354.4 371.3 343.4 371.6 339.7 371.8 335.2 372.1 337.1 372.3 338.7 372.6 339.7 372.9 341.3 373.1 337 373.4 337.7 373.6 337.4 373.9 329.1 374.1 332.3 374.4 328.2 374.6 333.7 374.9 333.2 375.1 329.3 375.4 326.9 375.7 328.3 375.9 316.9 376.2 311.9 376.4 308.7 376.7 301.1 376.9 300.5 377.2 297.3 377.4 294.2 377.7 300.8 378 292.4 378.2 291.5 378.5 286 378.7 293.9 379 284.2 379.2 273.8 379.5 277.4 379.7 272.9 380 263.8 380.1 265.1 380.3 260.7 380.5 260.2 380.6 259.7 380.9 262.4 381.1 271 381.4 262.7 381.6 276.1 381.9 276.1 382.1 280.7 382.4 279.9 382.6 284.2 382.9 273.4 383.2 276.1 383.4 270.5 383.7 269.9 383.9 277.7 384.2 284.7 384.4 284 384.7 288.3 384.9 278.6 385.2 283.4 385.5 278.5 385.7 280.1 386 281.8 386.2 284.8 386.5 278.3 386.7 276.1 387 283.6 387.2 281 387.5 277.3 387.7 274 388 274.2 388.3 282 388.5 279.4 388.8 288.3 389 300 389.3 303.5 389.5 315.7 389.8 316.9 390 321.6 390.3 315.8 390.6 329.2 390.8 329.1 391.1 332.3 391.3 334.2 391.6 322.8 391.8 325 392.1 325 392.3 332 392.6 330.6 392.8 337.3 393.1 335.4 393.4 339.6 393.6 357.3 393.9 349.5 394.1 343.4 394.4 337.8 394.6 335.9 394.9 333.2 395.1 331.6 395.4 334.6 395.7 331.2 395.9 325 396.2 331.6 396.4 331.7 396.7 335.2 396.9 337.3 397.2 330 397.4 321.5 397.7 330.5 397.9 316.9 398.2 313.4 398.5 317.2 398.7 309.9 399 308.7 399.2 307.2 399.5 305.4 399.7 299 400 302.6 400.2 306.2 400.5 311.6 400.8 316.9 401 316.9 401.3 322.2 401.5 327.4 401.8 327.6 402 329.1 402.3 328.4 402.5 319.6 402.8 324.3 403.1 325 403.3 334.6 403.6 332 403.8 337.7 404.1 337.3 404.3 334.7 404.6 330.8 404.8 339.6 405.1 329.1 405.3 328.8 405.6 331.3 405.9 325.4 406.1 320.9 406.4 317 406.6 306.2 406.9 312.4 407.1 308.7 407.4 300.8 407.6 296.1 407.9 307.8 408.2 300.5 408.4 299.6 408.7 295.2 408.9 288.8 409.2 284.2 409.4 281.3 409.7 280.1 409.9 276 410.2 272 410.4 270.5 410.7 271.1 411 256.4 411.2 263.8 411.5 266.1 411.7 258.5 412 262.9 412.2 257.7 412.5 268.3 412.7 265.8 413 277.9 413.3 280.1 413.5 290.6 413.8 291.8 414 299.6 414.3 308.7 414.5 307.2 414.8 295.9 415 300.9 415.3 300.5 415.5 298.3 415.8 292.7 416.1 285.1 416.3 288.3 416.6 288.8 416.8 298.4 417.1 299.7 417.3 296.5 417.6 295 417.8 291.2 418.1 293.4 418.4 292.4 418.5 294.5 418.7 293.8 418.8 297.2 419 300.5 419.1 303 419.2 304.3 419.3 290.9 419.4 300.5 419.5 302.4 419.7 297 419.9 299 420 292.4 420.3 296.4 420.5 302.3 420.8 311.1 421 308.7 421.3 293.9 421.6 308.9 421.8 300.3 422.1 296.5 422.3 287.2 422.6 281.8 422.8 291.6 423.1 288.3 423.3 280.7 423.5 285.2 423.7 278.4 423.9 274 424.2 277.1 424.4 285.1 424.7 285.5 424.9 288.3 425.2 294.3 425.4 297.7 425.7 298.8 425.9 300.5 426.2 301.6 426.4 299.6 426.7 289 427 292.4 427.2 295.4 427.5 300.1 427.7 303.1 428 308.7 428.2 304.4 428.5 310.5 428.7 316.2 429 316.9 429.3 320.7 429.5 329 429.8 323.6 430 329.1 430.2 333.5 430.3 339.1 430.5 346.2 430.6 353.6 430.9 345.1 431.1 333.9 431.4 336.6 431.6 329.1 431.9 330 432.2 327.4 432.4 315.6 432.7 316.9 432.9 312 433.2 316 433.4 304.2 433.7 300.5 433.9 298.9 434.2 293.8 434.5 295.4 434.7 288.3 434.9 289.1 435.1 291.4 435.3 281.1 435.5 276.1 435.8 284 436 283.5 436.3 292.8 436.5 300.5 436.8 301.8 437.1 307.4 437.3 307.6 437.6 316.9 437.8 319.6 438.1 308.6 438.3 311.8 438.6 308.7 438.8 301.7 439.1 306 439.4 309.2 439.6 300.5 439.9 301.4 440.1 310.1 440.4 312.5 440.6 316.9 440.9 320 441.1 322.6 441.4 320.5 441.6 325 441.9 321.2 442.2 316.6 442.4 312.6 442.7 312.8 442.9 305.9 443.2 312.5 443.4 303.7 443.7 304.6 443.9 304.2 444.2 300.7 444.5 291.5 444.7 292.4 445 300.6 445.2 297.1 445.5 307.1 445.7 308.7 446 312.4 446.2 301.8 446.5 298.9 446.7 300.5 447 294.8 447.3 305.6 447.5 292.9 447.8 292.4 448 286.3 448.3 293.6 448.5 288.6 448.8 288.3 449 286.1 449.3 280.2 449.6 273.3 449.8 280.1 450.1 273.1 450.3 267.8 450.6 261.4 450.8 263.8 451.1 258.4 451.3 258 451.6 263.9 451.8 259.7 452.1 261.5 452.4 259.7 452.6 254.5 452.9 255.6 453.1 249.6 453.4 254.7 453.6 254.4 453.9 251.6 454.1 260.1 454.4 260.6 454.7 264.8 454.9 269.9 455.2 272.6 455.4 269.3 455.7 271.3 455.9 276.1 456.2 275 456.4 263.9 456.7 265 456.9 261.8 457.2 267.4 457.5 267.8 457.7 271.1 458 272 458.2 266.5 458.5 269.4 458.7 267.8 459 267.9 459.2 267.2 459.5 263.4 459.8 258.8 460 255.6 460.3 265.2 460.5 261.9 460.8 260.7 461 263.8 461.3 259.4 461.5 259.6 461.8 255.5 462.1 255.6 462.3 260.9 462.6 255.4 462.8 250.7 463.1 250.5 463.3 251.3 463.6 253 463.8 259.5 464.1 263.8 464.3 272.2 464.6 273.4 464.9 272.9 465.1 276.1 465.4 279.8 465.6 274.9 465.9 288.4 466.1 288.3 466.4 290.6 466.6 300 466.9 296.9 467.2 300.5 467.4 302.8 467.7 309.7 467.9 310.4 468.2 316.9 468.4 325.4 468.7 324.3 468.9 327.6 469.2 329.1 469.4 327.5 469.7 321.7 470 322 470.2 316.9 470.5 313.6 470.7 315.8 471 305 471.2 300.5 471.5 298.1 471.7 290.8 472 287 472.3 284.2 472.5 280.2 472.7 283.5 472.9 275.6 473.1 272 473.3 280.2 473.6 279.4 473.8 283.1 474.1 288.3 474.3 286.1 474.6 302.1 474.9 312.1 475.1 308.7 475.4 311.2 475.6 320.9 475.9 321.6 476.1 320.9 476.4 315.5 476.6 318.2 476.9 308.6 477.1 308.7 477.4 307.9 477.6 313.9 477.8 309.7 478 308.7 478.3 309.5 478.5 324.9 478.8 320 479 329.1 479.3 320.7 479.5 311.8 479.8 304.4 480 296.5 480.3 298.6 480.6 300.6 480.8 319.5 481.1 316.9 481.3 318.6 481.6 323.9 481.8 322.9 482.1 337.3 482.3 328.8 482.6 324.4 482.8 315.7 483.1 300.5 483.4 308.8 483.6 300.8 483.9 293.4 484.1 288.3 484.4 292.9 484.6 302.6 484.9 300.8 485.1 304.6 485.4 308.9 485.7 307.4 485.9 314.6 486.2 316.9 486.4 321 486.7 308.8 486.9 306.6 487.2 300.5 487.4 289.4 487.7 302.2 487.9 296.3 488.2 292.4 488.5 301.4 488.7 299.8 489 298.6 489.2 304.6 489.5 298 489.7 303.9 490 300.2 490.2 298.5 490.5 297.5 490.8 303.6 491 303.9 491.3 308.7 491.5 306.7 491.8 297.1 492 288.7 492.3 288.3 492.5 290.1 492.8 290.3 493 300.4 493.3 296.5 493.6 291.6 493.8 285.1 494.1 287.1 494.3 284.2 494.6 285.2 494.8 289.3 495.1 291.1 495.3 292.4 495.6 290.2 495.9 296.1 496.1 298 496.4 300.5 496.6 296.7 496.9 300.2 497.1 304.2 497.4 304.6 497.6 295.1 497.9 294 498.1 293.4 498.4 292.4 498.7 288.7 498.9 288 499.2 277.5 499.4 280.1 499.7 280 499.9 280.3 500.2 282.9 500.4 276.1 500.7 277.1 501 278.2 501.2 278.8 501.5 288.3 501.7 286.1 502 284.9 502.2 273 502.5 272 502.7 269.8 503 268 503.2 264.8 503.5 257.7 503.8 261.5 504 271.3 504.3 274.2 504.5 280.1 504.8 278.3 505 285.2 505.3 287.6 505.5 288.3 505.8 286.5 506.1 294.1 506.3 302.4 506.6 296.5 506.8 286.5 507.1 291.1 507.3 287.9 507.6 280.1 507.8 282.4 508.1 285.6 508.3 285.3 508.6 288.3 508.9 296.8 509.1 290.7 509.4 297 509.6 300.5 509.9 285.7 510.1 287.5 510.4 280.6 510.6 272 510.9 269.4 511.2 276.6 511.4 286 511.7 288.3 511.9 290.3 512.2 291.5 512.4 290.5 512.7 304.6 512.9 302.8 513.2 306 513.5 293.4 513.7 292.4 514 290.8 514.2 287.7 514.5 282.7 514.7 280.1 515 284.4 515.2 288.5 515.5 288.7 515.7 296.5 516 304.1 516.3 303 516.5 291.4 516.8 288.3 517 292.1 517.3 278.7 517.5 278 517.8 276.1 518 278.3 518.3 267.2 518.6 264.6 518.8 267.9 519.1 273.1 519.3 268 519.6 286.8 519.8 284.2 520.1 290.1 520.3 291.2 520.6 295.9 520.8 296.5 521.1 289.7 521.4 286.5 521.6 290.5 521.9 284.2 522.1 285.3 522.4 279.6 522.6 276.3 522.9 274 523.1 275.4 523.4 286.7 523.7 278.8 523.9 288.3 524.2 282.8 524.4 282.1 524.7 276.1 524.9 280.1 525.2 272.3 525.4 270.9 525.7 276.5 525.9 269.9 526.2 274.5 526.5 266.2 526.7 255.8 527 259.7 527.2 262.4 527.5 269.4 527.7 274 528 280.1 528.2 280.7 528.5 286.3 528.8 278.5 529 288.3 529.3 290.1 529.5 297.3 529.8 303.4 530 304.6 530.2 309.9 530.3 312.9 530.5 316.3 530.6 320.9 530.8 309.2 531 303 531.3 292.7 531.5 284.2 531.7 273.8 532 273.8 532.2 266.1 532.5 253.6 532.7 257.9 533 267.4 533.2 275.3 533.5 276.1 533.8 280.3 534 282.8 534.3 287.4 534.5 288.3 534.8 283.9 535 286.9 535.3 296.7 535.5 296.5 535.8 294.7 536 295.9 536.3 285.5 536.6 284.2 536.8 289.8 537.1 290.6 537.3 295.3 537.6 288.3 537.8 287.3 538.1 291.2 538.3 295.7 538.6 296.5 538.8 296.7 539 290.7 539.2 291.3 539.4 292.4" fill="none" stroke="#f28c18" stroke-width="0.88" stroke-linejoin="round"/>
<path d="M301.4 323.3 301.7 328.4 301.9 323.6 302.2 328.7 302.4 328.1 302.7 326.4 302.9 322.8 303.2 319.1 303.4 320.5 303.7 327.7 304 330.6 304.2 335 304.5 342.4 304.7 346.8 305 344.4 305.2 346.9 305.5 337.7 305.7 328.8 306 321.6 306.3 316.6 306.5 307.5 306.8 307.1 307 303.1 307.3 300.7 307.5 292.4 307.8 289.3 308 293.3 308.3 288.2 308.5 289.4 308.8 285.5 309.1 283.5 309.3 284.8 309.6 288.9 309.8 288.1 310.1 293.7 310.3 293.2 310.6 296.3 310.8 293.8 311.1 300 311.4 294.9 311.6 296.9 311.9 311 312.1 305.9 312.4 303.7 312.6 298.6 312.9 289.4 313.1 277.9 313.4 279.9 313.6 284.8 313.9 286.4 314.2 295.5 314.4 299.2 314.7 296.4 314.9 301.1 315.2 295.3 315.4 293.9 315.7 299.7 315.9 305.8 316.2 302.5 316.5 307.2 316.7 309.9 317 312.1 317.2 313.6 317.5 311 317.7 304.3 318 302.3 318.2 291.5 318.5 290.2 318.8 285.2 319 281.2 319.3 277.1 319.5 275.7 319.8 277.5 320 285.2 320.3 287 320.5 292.6 320.8 291 321 296.6 321.3 299.2 321.6 307.9 321.8 299.5 322.1 304.5 322.3 310.8 322.6 309.2 322.8 307.8 323.1 313.6 323.3 314 323.6 320.6 323.9 320.9 324.1 327.1 324.4 331.1 324.6 331.3 324.9 331.7 325.1 336.1 325.4 335 325.6 334.2 325.9 334.2 326.1 334.8 326.4 333.8 326.7 336.1 326.9 333.6 327.2 332.3 327.4 330.6 327.7 332.4 327.9 325 328.2 325.8 328.4 332.5 328.7 330 329 322.1 329.2 323.2 329.5 319.3 329.7 314.3 330 322.3 330.2 325.8 330.5 321.3 330.7 318.7 331 320.8 331.2 321.7 331.5 326.9 331.8 319.5 332 323.8 332.3 322.2 332.5 319.5 332.8 318.5 333 320.3 333.3 312.2 333.5 310.9 333.8 313 334.1 316.6 334.3 326.6 334.6 328.6 334.8 330.7 335.1 339.4 335.3 340.3 335.6 338.5 335.8 340.2 336.1 349.1 336.3 345.8 336.6 347 336.9 343.2 337.1 340.6 337.4 334.3 337.6 331.4 337.9 331 338.1 326.4 338.4 323 338.6 321.2 338.9 322.4 339.2 321.5 339.4 335.3 339.7 324.8 339.9 326.3 340.2 326.6 340.4 311 340.7 315.5 340.9 309.5 341.2 302.7 341.4 300.1 341.7 294.2 342 293.4 342.2 295.2 342.5 289.6 342.7 292.9 343 289 343.2 296.5 343.5 295.4 343.7 299.4 344 300.6 344.3 304.3 344.5 314.4 344.8 313.7 345 306.9 345.3 306.5 345.5 306.3 345.8 299.6 346 303 346.3 307.1 346.5 312.3 346.8 309.6 347.1 314.2 347.3 319.9 347.6 318.9 347.8 329.2 348.1 332 348.3 332.6 348.6 341 348.8 336.8 349.1 343.1 349.4 341.3 349.6 331.7 349.9 325.6 350.1 327.3 350.4 323.6 350.6 313 350.9 310.5 351.1 310.2 351.4 305.1 351.7 296.3 351.9 292.3 352.2 292.8 352.4 287 352.7 292.4 352.9 287.8 353.2 289 353.4 281.6 353.7 283.1 353.9 278.9 354.2 281.7 354.5 283.7 354.7 286.5 355 290.6 355.2 283.7 355.5 284.2 355.7 276.7 356 278 356.2 275.3 356.5 278.5 356.8 275 357 284 357.3 283.8 357.5 282.5 357.8 291 358 289.3 358.3 293.9 358.5 301.9 358.8 306.9 359 310.6 359.3 315.8 359.6 322 359.8 326.4 360.1 330 360.3 328.5 360.6 330.2 360.7 331 360.8 334.9 360.9 331.8 361 334.8 361.3 329.2 361.5 323 361.8 325.7 362 316.4 362.3 310 362.6 310 362.8 307.1 363.1 300.3 363.3 297.3 363.6 298 363.8 295.9 364.1 292.3 364.3 292.3 364.5 288.6 364.7 293.3 364.9 294.6 365.1 299.2 365.3 304 365.5 307.2 365.7 309.3 366 317.7 366.2 315.8 366.5 319.4 366.7 322.6 367 322.1 367.2 322.3 367.5 325.4 367.8 315.4 368 318.6 368.3 318.9 368.5 324.4 368.8 326.7 369 332 369.3 339.6 369.5 336.4 369.8 337.2 370 342.8 370.3 338.8 370.6 341 370.8 339.8 371.1 330 371.3 322.5 371.6 315.1 371.8 304.4 372.1 301.4 372.3 295.4 372.6 303.8 372.9 308.5 373.1 319.9 373.4 325.2 373.6 334.5 373.9 336.8 374.1 340.6 374.4 342.1 374.6 339.5 374.9 337.8 375.1 327.4 375.4 324.8 375.7 323.2 375.9 315.4 376.2 313 376.4 309.1 376.7 300.9 376.9 302.7 377.2 305.4 377.4 295.7 377.7 302.7 378 297.2 378.2 288.4 378.5 286.9 378.7 286.5 379 286.2 379.2 276.6 379.5 278.3 379.7 278.6 380 273.7 380.1 274.8 380.3 274.9 380.5 273.4 380.6 271.7 380.9 277.2 381.1 283.9 381.4 273 381.6 275.3 381.9 272.7 382.1 275.7 382.4 272.5 382.6 274.3 382.9 264.1 383.2 267.5 383.4 264.2 383.7 266.8 383.9 266 384.2 261.4 384.4 266.2 384.7 270.4 384.9 268.1 385.2 262.6 385.5 269.4 385.7 270.2 386 269.6 386.2 267.8 386.5 258.9 386.7 261.6 387 267.5 387.2 269.8 387.5 269.2 387.7 263 388 262.3 388.3 257 388.5 250.4 388.8 258.1 389 268.6 389.3 271.1 389.5 284.2 389.8 287.5 390 290.2 390.3 294.5 390.6 303.5 390.8 305.7 391.1 308.5 391.3 319.7 391.6 316.3 391.8 314.5 392.1 324.4 392.3 329.1 392.6 327.3 392.8 331 393.1 330.7 393.4 325.2 393.6 332.7 393.9 331.7 394.1 325.9 394.4 327 394.6 329.6 394.9 330.2 395.1 329.3 395.4 324.7 395.7 318.9 395.9 317.3 396.2 317.2 396.4 316.9 396.7 314.4 396.9 314.2 397.2 309 397.4 304.8 397.7 307.2 397.9 299.3 398.2 303.2 398.5 308.8 398.7 299.3 399 291.8 399.2 295.8 399.5 297.4 399.7 286.7 400 289.7 400.2 289.6 400.5 288.2 400.8 288.1 401 292.6 401.3 293.3 401.5 298.2 401.8 304.9 402 303.6 402.3 305.2 402.5 311.2 402.8 320.3 403.1 319.3 403.3 325.6 403.6 322.2 403.8 328 404.1 337.8 404.3 339.3 404.6 340.7 404.8 347.1 405.1 337.6 405.3 333.2 405.6 330.9 405.9 328.4 406.1 321.6 406.4 319.1 406.6 315.2 406.9 317.2 407.1 314.5 407.4 310.3 407.6 307 407.9 308.1 408.2 310.9 408.4 312.4 408.7 314.7 408.9 316.9 409.2 311 409.4 310.6 409.7 303.3 409.9 298.3 410.2 293.4 410.4 289.8 410.7 289.2 411 278.6 411.2 279.9 411.5 275.6 411.7 268.2 412 267.5 412.2 266.6 412.5 266.5 412.7 267 413 270.1 413.3 271 413.5 273.3 413.8 275.9 414 277.3 414.3 282.3 414.5 275.5 414.8 269.7 415 273.9 415.3 278.1 415.5 276.1 415.8 267 416.1 265.3 416.3 271.4 416.6 264.9 416.8 272.1 417.1 277.2 417.3 275 417.6 271.7 417.8 277.6 418.1 278.6 418.4 279.7 418.5 277.1 418.7 280.2 418.8 285.9 419 286.2 419.1 287.7 419.2 284.7 419.3 281.3 419.4 281.8 419.5 284.7 419.7 279.2 419.9 276.2 420 277.5 420.3 274.6 420.5 280.9 420.8 290.3 421 287.2 421.3 280 421.6 294.1 421.8 292.2 422.1 292.9 422.3 289.8 422.6 290.4 422.8 288.5 423.1 291.8 423.3 282.3 423.5 284.6 423.7 275.4 423.9 274.7 424.2 279.1 424.4 280.3 424.7 272.6 424.9 272.1 425.2 273.4 425.4 271.6 425.7 269.8 425.9 273.2 426.2 278.1 426.4 282.2 426.7 281.6 427 282.5 427.2 289.2 427.5 292.9 427.7 298 428 305.9 428.2 306.5 428.5 307.1 428.7 311.4 429 312.2 429.3 316 429.5 321.2 429.8 319.5 430 321.6 430.2 322 430.3 322.7 430.5 328.9 430.6 339.4 430.9 333 431.1 331.4 431.4 333.9 431.6 328.7 431.9 334.1 432.2 327.2 432.4 318.8 432.7 317.1 432.9 317.4 433.2 315 433.4 306.3 433.7 300.2 433.9 294.2 434.2 290.7 434.5 283 434.7 285.1 434.9 271 435.1 273.7 435.3 268.8 435.5 273.8 435.8 283.5 436 290.4 436.3 299.9 436.5 306.9 436.8 311.4 437.1 316 437.3 318.5 437.6 318.9 437.8 316.7 438.1 302.9 438.3 302.2 438.6 305.4 438.8 301.5 439.1 309.3 439.4 310.3 439.6 308.9 439.9 311.3 440.1 316.3 440.4 318.2 440.6 318.4 440.9 311.8 441.1 307.9 441.4 305.7 441.6 302.7 441.9 304.2 442.2 304.5 442.4 300.5 442.7 301 442.9 296.4 443.2 300.4 443.4 293.2 443.7 293.8 443.9 288.3 444.2 295.4 444.5 295.1 444.7 293.2 445 293.7 445.2 292.7 445.5 289.9 445.7 293.1 446 299.3 446.2 293.8 446.5 297.4 446.7 297.7 447 291.3 447.3 297.4 447.5 291.4 447.8 288.6 448 289.4 448.3 288.7 448.5 283.4 448.8 280 449 281.4 449.3 281.2 449.6 273.3 449.8 279.1 450.1 274.7 450.3 268.6 450.6 264.5 450.8 268.7 451.1 259.1 451.3 262.4 451.6 259.3 451.8 258.3 452.1 252.5 452.4 249.1 452.6 246.1 452.9 245 453.1 249 453.4 255.1 453.6 260.5 453.9 264.3 454.1 272.6 454.4 277.2 454.7 281.9 454.9 290 455.2 291.9 455.4 293.5 455.7 297.7 455.9 291.9 456.2 284.7 456.4 275.7 456.7 268.9 456.9 268.3 457.2 260.1 457.5 264.3 457.7 266 458 264 458.2 263.4 458.5 263.9 458.7 263.9 459 266.2 459.2 261.2 459.5 257.8 459.8 261.7 460 260.5 460.3 266.6 460.5 265.9 460.8 266.7 461 265.2 461.3 264.3 461.5 263.1 461.8 256.3 462.1 259.6 462.3 265.2 462.6 261.4 462.8 264.9 463.1 263.8 463.3 268 463.6 270.6 463.8 266.2 464.1 268.5 464.3 277.3 464.6 276.4 464.9 278.3 465.1 284.9 465.4 282.6 465.6 284.3 465.9 289.5 466.1 290.3 466.4 296 466.6 303.1 466.9 306.1 467.2 307.5 467.4 312 467.7 315.6 467.9 311.3 468.2 317.8 468.4 322.4 468.7 324.9 468.9 323 469.2 324.1 469.4 318.1 469.7 308.8 470 310.4 470.2 308 470.5 303.1 470.7 306.9 471 299.5 471.2 296.8 471.5 294 471.7 290.7 472 289.8 472.3 286.7 472.5 281.5 472.7 285.6 472.9 281.8 473.1 280.1 473.3 286.7 473.6 283.7 473.8 291.2 474.1 289.2 474.3 290.2 474.6 298.3 474.9 309.6 475.1 305.5 475.4 306.9 475.6 311.8 475.9 318.9 476.1 317.4 476.4 319.7 476.6 325.9 476.9 321.1 477.1 325.3 477.4 319.8 477.6 328.9 477.8 321.3 478 324.1 478.3 327.7 478.5 338 478.8 342.8 479 339.8 479.3 330.3 479.5 311.9 479.8 299.7 480 282.4 480.3 288.4 480.6 292.8 480.8 305.7 481.1 310.5 481.3 311.3 481.6 325 481.8 326 482.1 341.7 482.3 327.7 482.6 325 482.8 315.2 483.1 306.2 483.4 310.5 483.6 300.9 483.9 295.4 484.1 289.8 484.4 291.9 484.6 286 484.9 284.5 485.1 280.4 485.4 270.9 485.7 263 485.9 263 486.2 271.5 486.4 272 486.7 275.5 486.9 277.7 487.2 283.4 487.4 277.4 487.7 290.8 487.9 292 488.2 288.5 488.5 293.9 488.7 296 489 293.5 489.2 291.4 489.5 284.5 489.7 287.9 490 286.8 490.2 290.7 490.5 292.6 490.8 291.6 491 299.5 491.3 304.2 491.5 306.8 491.8 305.1 492 301.5 492.3 301.1 492.5 297.9 492.8 290.1 493 296.5 493.3 285.9 493.6 287.8 493.8 285.4 494.1 290.1 494.3 286.5 494.6 294 494.8 295.2 495.1 289.9 495.3 282.5 495.6 281.6 495.9 277.8 496.1 273.5 496.4 272.7 496.6 274.2 496.9 266 497.1 275.3 497.4 281.1 497.6 282.9 497.9 283 498.1 288.4 498.4 297.1 498.7 299.5 498.9 304 499.2 291.2 499.4 292.8 499.7 292.7 499.9 288.4 500.2 285 500.4 282.7 500.7 276.5 501 276.9 501.2 277.3 501.5 279 501.7 274.7 502 274.6 502.2 266.8 502.5 271.6 502.7 278.1 503 283.8 503.2 282 503.5 278.1 503.8 282.3 504 293.9 504.3 296.1 504.5 294.3 504.8 298 505 303.6 505.3 301.2 505.5 292.3 505.8 287.4 506.1 289.5 506.3 288.5 506.6 282.3 506.8 278.6 507.1 288.6 507.3 292.7 507.6 292 507.8 294.4 508.1 298.1 508.3 301.5 508.6 307.8 508.9 316.3 509.1 311 509.4 321.8 509.6 325.1 509.9 310.8 510.1 312.1 510.4 301.8 510.6 291.6 510.9 285.4 511.2 293.6 511.4 288.2 511.7 289.4 511.9 287.9 512.2 291.8 512.4 296.5 512.7 301.9 512.9 303.1 513.2 308.9 513.5 305.7 513.7 311.2 514 303 514.2 306.4 514.5 298.5 514.7 291.8 515 295.7 515.2 294.2 515.5 288.6 515.7 290.6 516 287 516.3 283.6 516.5 278.7 516.8 281.7 517 281.7 517.3 272.2 517.5 268.3 517.8 268.3 518 275.6 518.3 269 518.6 270 518.8 277.2 519.1 282.4 519.3 280.8 519.6 295.1 519.8 293.2 520.1 288.5 520.3 283.1 520.6 291 520.8 286.4 521.1 281.7 521.4 279 521.6 281.7 521.9 276.3 522.1 281.4 522.4 282.1 522.6 283.7 522.9 287.1 523.1 288.4 523.4 298.7 523.7 298.7 523.9 305 524.2 299.9 524.4 294.9 524.7 291.5 524.9 293 525.2 284.8 525.4 281.1 525.7 279 525.9 270.9 526.2 278.3 526.5 273.6 526.7 273.6 527 280.3 527.2 279.5 527.5 275 527.7 273.1 528 276.1 528.2 278.5 528.5 283.4 528.8 280.9 529 286.6 529.3 290 529.5 293.8 529.8 297.2 530 298.4 530.2 294.9 530.3 294.9 530.5 290 530.6 292.1 530.8 284.4 531 276.8 531.3 279.1 531.5 281.9 531.7 284.1 532 290.4 532.2 293.5 532.5 286.9 532.7 290.1 533 297.5 533.2 294.1 533.5 291.3 533.8 286.5 534 285.9 534.3 285 534.5 286.5 534.8 289.4 535 289.1 535.3 295.8 535.5 287 535.8 283.3 536 281.7 536.3 278.8 536.6 275.5 536.8 283.7 537.1 283.3 537.3 282.7 537.6 275.9 537.8 275 538.1 275.9 538.3 279 538.6 277.8 538.8 283.7 539 283.9 539.2 291.2 539.4 289.8" fill="none" stroke="#fff" stroke-width="1.0" stroke-linejoin="round"/>
<path d="M301.4 323.3 301.7 328.4 301.9 323.6 302.2 328.7 302.4 328.1 302.7 326.4 302.9 322.8 303.2 319.1 303.4 320.5 303.7 327.7 304 330.6 304.2 335 304.5 342.4 304.7 346.8 305 344.4 305.2 346.9 305.5 337.7 305.7 328.8 306 321.6 306.3 316.6 306.5 307.5 306.8 307.1 307 303.1 307.3 300.7 307.5 292.4 307.8 289.3 308 293.3 308.3 288.2 308.5 289.4 308.8 285.5 309.1 283.5 309.3 284.8 309.6 288.9 309.8 288.1 310.1 293.7 310.3 293.2 310.6 296.3 310.8 293.8 311.1 300 311.4 294.9 311.6 296.9 311.9 311 312.1 305.9 312.4 303.7 312.6 298.6 312.9 289.4 313.1 277.9 313.4 279.9 313.6 284.8 313.9 286.4 314.2 295.5 314.4 299.2 314.7 296.4 314.9 301.1 315.2 295.3 315.4 293.9 315.7 299.7 315.9 305.8 316.2 302.5 316.5 307.2 316.7 309.9 317 312.1 317.2 313.6 317.5 311 317.7 304.3 318 302.3 318.2 291.5 318.5 290.2 318.8 285.2 319 281.2 319.3 277.1 319.5 275.7 319.8 277.5 320 285.2 320.3 287 320.5 292.6 320.8 291 321 296.6 321.3 299.2 321.6 307.9 321.8 299.5 322.1 304.5 322.3 310.8 322.6 309.2 322.8 307.8 323.1 313.6 323.3 314 323.6 320.6 323.9 320.9 324.1 327.1 324.4 331.1 324.6 331.3 324.9 331.7 325.1 336.1 325.4 335 325.6 334.2 325.9 334.2 326.1 334.8 326.4 333.8 326.7 336.1 326.9 333.6 327.2 332.3 327.4 330.6 327.7 332.4 327.9 325 328.2 325.8 328.4 332.5 328.7 330 329 322.1 329.2 323.2 329.5 319.3 329.7 314.3 330 322.3 330.2 325.8 330.5 321.3 330.7 318.7 331 320.8 331.2 321.7 331.5 326.9 331.8 319.5 332 323.8 332.3 322.2 332.5 319.5 332.8 318.5 333 320.3 333.3 312.2 333.5 310.9 333.8 313 334.1 316.6 334.3 326.6 334.6 328.6 334.8 330.7 335.1 339.4 335.3 340.3 335.6 338.5 335.8 340.2 336.1 349.1 336.3 345.8 336.6 347 336.9 343.2 337.1 340.6 337.4 334.3 337.6 331.4 337.9 331 338.1 326.4 338.4 323 338.6 321.2 338.9 322.4 339.2 321.5 339.4 335.3 339.7 324.8 339.9 326.3 340.2 326.6 340.4 311 340.7 315.5 340.9 309.5 341.2 302.7 341.4 300.1 341.7 294.2 342 293.4 342.2 295.2 342.5 289.6 342.7 292.9 343 289 343.2 296.5 343.5 295.4 343.7 299.4 344 300.6 344.3 304.3 344.5 314.4 344.8 313.7 345 306.9 345.3 306.5 345.5 306.3 345.8 299.6 346 303 346.3 307.1 346.5 312.3 346.8 309.6 347.1 314.2 347.3 319.9 347.6 318.9 347.8 329.2 348.1 332 348.3 332.6 348.6 341 348.8 336.8 349.1 343.1 349.4 341.3 349.6 331.7 349.9 325.6 350.1 327.3 350.4 323.6 350.6 313 350.9 310.5 351.1 310.2 351.4 305.1 351.7 296.3 351.9 292.3 352.2 292.8 352.4 287 352.7 292.4 352.9 287.8 353.2 289 353.4 281.6 353.7 283.1 353.9 278.9 354.2 281.7 354.5 283.7 354.7 286.5 355 290.6 355.2 283.7 355.5 284.2 355.7 276.7 356 278 356.2 275.3 356.5 278.5 356.8 275 357 284 357.3 283.8 357.5 282.5 357.8 291 358 289.3 358.3 293.9 358.5 301.9 358.8 306.9 359 310.6 359.3 315.8 359.6 322 359.8 326.4 360.1 330 360.3 328.5 360.6 330.2 360.7 331 360.8 334.9 360.9 331.8 361 334.8 361.3 329.2 361.5 323 361.8 325.7 362 316.4 362.3 310 362.6 310 362.8 307.1 363.1 300.3 363.3 297.3 363.6 298 363.8 295.9 364.1 292.3 364.3 292.3 364.5 288.6 364.7 293.3 364.9 294.6 365.1 299.2 365.3 304 365.5 307.2 365.7 309.3 366 317.7 366.2 315.8 366.5 319.4 366.7 322.6 367 322.1 367.2 322.3 367.5 325.4 367.8 315.4 368 318.6 368.3 318.9 368.5 324.4 368.8 326.7 369 332 369.3 339.6 369.5 336.4 369.8 337.2 370 342.8 370.3 338.8 370.6 341 370.8 339.8 371.1 330 371.3 322.5 371.6 315.1 371.8 304.4 372.1 301.4 372.3 295.4 372.6 303.8 372.9 308.5 373.1 319.9 373.4 325.2 373.6 334.5 373.9 336.8 374.1 340.6 374.4 342.1 374.6 339.5 374.9 337.8 375.1 327.4 375.4 324.8 375.7 323.2 375.9 315.4 376.2 313 376.4 309.1 376.7 300.9 376.9 302.7 377.2 305.4 377.4 295.7 377.7 302.7 378 297.2 378.2 288.4 378.5 286.9 378.7 286.5 379 286.2 379.2 276.6 379.5 278.3 379.7 278.6 380 273.7 380.1 274.8 380.3 274.9 380.5 273.4 380.6 271.7 380.9 277.2 381.1 283.9 381.4 273 381.6 275.3 381.9 272.7 382.1 275.7 382.4 272.5 382.6 274.3 382.9 264.1 383.2 267.5 383.4 264.2 383.7 266.8 383.9 266 384.2 261.4 384.4 266.2 384.7 270.4 384.9 268.1 385.2 262.6 385.5 269.4 385.7 270.2 386 269.6 386.2 267.8 386.5 258.9 386.7 261.6 387 267.5 387.2 269.8 387.5 269.2 387.7 263 388 262.3 388.3 257 388.5 250.4 388.8 258.1 389 268.6 389.3 271.1 389.5 284.2 389.8 287.5 390 290.2 390.3 294.5 390.6 303.5 390.8 305.7 391.1 308.5 391.3 319.7 391.6 316.3 391.8 314.5 392.1 324.4 392.3 329.1 392.6 327.3 392.8 331 393.1 330.7 393.4 325.2 393.6 332.7 393.9 331.7 394.1 325.9 394.4 327 394.6 329.6 394.9 330.2 395.1 329.3 395.4 324.7 395.7 318.9 395.9 317.3 396.2 317.2 396.4 316.9 396.7 314.4 396.9 314.2 397.2 309 397.4 304.8 397.7 307.2 397.9 299.3 398.2 303.2 398.5 308.8 398.7 299.3 399 291.8 399.2 295.8 399.5 297.4 399.7 286.7 400 289.7 400.2 289.6 400.5 288.2 400.8 288.1 401 292.6 401.3 293.3 401.5 298.2 401.8 304.9 402 303.6 402.3 305.2 402.5 311.2 402.8 320.3 403.1 319.3 403.3 325.6 403.6 322.2 403.8 328 404.1 337.8 404.3 339.3 404.6 340.7 404.8 347.1 405.1 337.6 405.3 333.2 405.6 330.9 405.9 328.4 406.1 321.6 406.4 319.1 406.6 315.2 406.9 317.2 407.1 314.5 407.4 310.3 407.6 307 407.9 308.1 408.2 310.9 408.4 312.4 408.7 314.7 408.9 316.9 409.2 311 409.4 310.6 409.7 303.3 409.9 298.3 410.2 293.4 410.4 289.8 410.7 289.2 411 278.6 411.2 279.9 411.5 275.6 411.7 268.2 412 267.5 412.2 266.6 412.5 266.5 412.7 267 413 270.1 413.3 271 413.5 273.3 413.8 275.9 414 277.3 414.3 282.3 414.5 275.5 414.8 269.7 415 273.9 415.3 278.1 415.5 276.1 415.8 267 416.1 265.3 416.3 271.4 416.6 264.9 416.8 272.1 417.1 277.2 417.3 275 417.6 271.7 417.8 277.6 418.1 278.6 418.4 279.7 418.5 277.1 418.7 280.2 418.8 285.9 419 286.2 419.1 287.7 419.2 284.7 419.3 281.3 419.4 281.8 419.5 284.7 419.7 279.2 419.9 276.2 420 277.5 420.3 274.6 420.5 280.9 420.8 290.3 421 287.2 421.3 280 421.6 294.1 421.8 292.2 422.1 292.9 422.3 289.8 422.6 290.4 422.8 288.5 423.1 291.8 423.3 282.3 423.5 284.6 423.7 275.4 423.9 274.7 424.2 279.1 424.4 280.3 424.7 272.6 424.9 272.1 425.2 273.4 425.4 271.6 425.7 269.8 425.9 273.2 426.2 278.1 426.4 282.2 426.7 281.6 427 282.5 427.2 289.2 427.5 292.9 427.7 298 428 305.9 428.2 306.5 428.5 307.1 428.7 311.4 429 312.2 429.3 316 429.5 321.2 429.8 319.5 430 321.6 430.2 322 430.3 322.7 430.5 328.9 430.6 339.4 430.9 333 431.1 331.4 431.4 333.9 431.6 328.7 431.9 334.1 432.2 327.2 432.4 318.8 432.7 317.1 432.9 317.4 433.2 315 433.4 306.3 433.7 300.2 433.9 294.2 434.2 290.7 434.5 283 434.7 285.1 434.9 271 435.1 273.7 435.3 268.8 435.5 273.8 435.8 283.5 436 290.4 436.3 299.9 436.5 306.9 436.8 311.4 437.1 316 437.3 318.5 437.6 318.9 437.8 316.7 438.1 302.9 438.3 302.2 438.6 305.4 438.8 301.5 439.1 309.3 439.4 310.3 439.6 308.9 439.9 311.3 440.1 316.3 440.4 318.2 440.6 318.4 440.9 311.8 441.1 307.9 441.4 305.7 441.6 302.7 441.9 304.2 442.2 304.5 442.4 300.5 442.7 301 442.9 296.4 443.2 300.4 443.4 293.2 443.7 293.8 443.9 288.3 444.2 295.4 444.5 295.1 444.7 293.2 445 293.7 445.2 292.7 445.5 289.9 445.7 293.1 446 299.3 446.2 293.8 446.5 297.4 446.7 297.7 447 291.3 447.3 297.4 447.5 291.4 447.8 288.6 448 289.4 448.3 288.7 448.5 283.4 448.8 280 449 281.4 449.3 281.2 449.6 273.3 449.8 279.1 450.1 274.7 450.3 268.6 450.6 264.5 450.8 268.7 451.1 259.1 451.3 262.4 451.6 259.3 451.8 258.3 452.1 252.5 452.4 249.1 452.6 246.1 452.9 245 453.1 249 453.4 255.1 453.6 260.5 453.9 264.3 454.1 272.6 454.4 277.2 454.7 281.9 454.9 290 455.2 291.9 455.4 293.5 455.7 297.7 455.9 291.9 456.2 284.7 456.4 275.7 456.7 268.9 456.9 268.3 457.2 260.1 457.5 264.3 457.7 266 458 264 458.2 263.4 458.5 263.9 458.7 263.9 459 266.2 459.2 261.2 459.5 257.8 459.8 261.7 460 260.5 460.3 266.6 460.5 265.9 460.8 266.7 461 265.2 461.3 264.3 461.5 263.1 461.8 256.3 462.1 259.6 462.3 265.2 462.6 261.4 462.8 264.9 463.1 263.8 463.3 268 463.6 270.6 463.8 266.2 464.1 268.5 464.3 277.3 464.6 276.4 464.9 278.3 465.1 284.9 465.4 282.6 465.6 284.3 465.9 289.5 466.1 290.3 466.4 296 466.6 303.1 466.9 306.1 467.2 307.5 467.4 312 467.7 315.6 467.9 311.3 468.2 317.8 468.4 322.4 468.7 324.9 468.9 323 469.2 324.1 469.4 318.1 469.7 308.8 470 310.4 470.2 308 470.5 303.1 470.7 306.9 471 299.5 471.2 296.8 471.5 294 471.7 290.7 472 289.8 472.3 286.7 472.5 281.5 472.7 285.6 472.9 281.8 473.1 280.1 473.3 286.7 473.6 283.7 473.8 291.2 474.1 289.2 474.3 290.2 474.6 298.3 474.9 309.6 475.1 305.5 475.4 306.9 475.6 311.8 475.9 318.9 476.1 317.4 476.4 319.7 476.6 325.9 476.9 321.1 477.1 325.3 477.4 319.8 477.6 328.9 477.8 321.3 478 324.1 478.3 327.7 478.5 338 478.8 342.8 479 339.8 479.3 330.3 479.5 311.9 479.8 299.7 480 282.4 480.3 288.4 480.6 292.8 480.8 305.7 481.1 310.5 481.3 311.3 481.6 325 481.8 326 482.1 341.7 482.3 327.7 482.6 325 482.8 315.2 483.1 306.2 483.4 310.5 483.6 300.9 483.9 295.4 484.1 289.8 484.4 291.9 484.6 286 484.9 284.5 485.1 280.4 485.4 270.9 485.7 263 485.9 263 486.2 271.5 486.4 272 486.7 275.5 486.9 277.7 487.2 283.4 487.4 277.4 487.7 290.8 487.9 292 488.2 288.5 488.5 293.9 488.7 296 489 293.5 489.2 291.4 489.5 284.5 489.7 287.9 490 286.8 490.2 290.7 490.5 292.6 490.8 291.6 491 299.5 491.3 304.2 491.5 306.8 491.8 305.1 492 301.5 492.3 301.1 492.5 297.9 492.8 290.1 493 296.5 493.3 285.9 493.6 287.8 493.8 285.4 494.1 290.1 494.3 286.5 494.6 294 494.8 295.2 495.1 289.9 495.3 282.5 495.6 281.6 495.9 277.8 496.1 273.5 496.4 272.7 496.6 274.2 496.9 266 497.1 275.3 497.4 281.1 497.6 282.9 497.9 283 498.1 288.4 498.4 297.1 498.7 299.5 498.9 304 499.2 291.2 499.4 292.8 499.7 292.7 499.9 288.4 500.2 285 500.4 282.7 500.7 276.5 501 276.9 501.2 277.3 501.5 279 501.7 274.7 502 274.6 502.2 266.8 502.5 271.6 502.7 278.1 503 283.8 503.2 282 503.5 278.1 503.8 282.3 504 293.9 504.3 296.1 504.5 294.3 504.8 298 505 303.6 505.3 301.2 505.5 292.3 505.8 287.4 506.1 289.5 506.3 288.5 506.6 282.3 506.8 278.6 507.1 288.6 507.3 292.7 507.6 292 507.8 294.4 508.1 298.1 508.3 301.5 508.6 307.8 508.9 316.3 509.1 311 509.4 321.8 509.6 325.1 509.9 310.8 510.1 312.1 510.4 301.8 510.6 291.6 510.9 285.4 511.2 293.6 511.4 288.2 511.7 289.4 511.9 287.9 512.2 291.8 512.4 296.5 512.7 301.9 512.9 303.1 513.2 308.9 513.5 305.7 513.7 311.2 514 303 514.2 306.4 514.5 298.5 514.7 291.8 515 295.7 515.2 294.2 515.5 288.6 515.7 290.6 516 287 516.3 283.6 516.5 278.7 516.8 281.7 517 281.7 517.3 272.2 517.5 268.3 517.8 268.3 518 275.6 518.3 269 518.6 270 518.8 277.2 519.1 282.4 519.3 280.8 519.6 295.1 519.8 293.2 520.1 288.5 520.3 283.1 520.6 291 520.8 286.4 521.1 281.7 521.4 279 521.6 281.7 521.9 276.3 522.1 281.4 522.4 282.1 522.6 283.7 522.9 287.1 523.1 288.4 523.4 298.7 523.7 298.7 523.9 305 524.2 299.9 524.4 294.9 524.7 291.5 524.9 293 525.2 284.8 525.4 281.1 525.7 279 525.9 270.9 526.2 278.3 526.5 273.6 526.7 273.6 527 280.3 527.2 279.5 527.5 275 527.7 273.1 528 276.1 528.2 278.5 528.5 283.4 528.8 280.9 529 286.6 529.3 290 529.5 293.8 529.8 297.2 530 298.4 530.2 294.9 530.3 294.9 530.5 290 530.6 292.1 530.8 284.4 531 276.8 531.3 279.1 531.5 281.9 531.7 284.1 532 290.4 532.2 293.5 532.5 286.9 532.7 290.1 533 297.5 533.2 294.1 533.5 291.3 533.8 286.5 534 285.9 534.3 285 534.5 286.5 534.8 289.4 535 289.1 535.3 295.8 535.5 287 535.8 283.3 536 281.7 536.3 278.8 536.6 275.5 536.8 283.7 537.1 283.3 537.3 282.7 537.6 275.9 537.8 275 538.1 275.9 538.3 279 538.6 277.8 538.8 283.7 539 283.9 539.2 291.2 539.4 289.8" fill="none" stroke="#2677c2" stroke-width="0.88" stroke-linejoin="round"/>
</g>
<rect x="301.4" y="204.9" width="238.4" height="158.8" fill="none" stroke="#737373" stroke-width="0.85"/>
<line x1="299" y1="363.7" x2="301.4" y2="363.7" stroke="#737373" stroke-width="0.6"/>
<text x="298.1" y="365.6" text-anchor="end" class="tk">7800</text>
<line x1="300.1" y1="352.36" x2="301.4" y2="352.36" stroke="#737373" stroke-width="0.6"/>
<line x1="299" y1="341.01" x2="301.4" y2="341.01" stroke="#737373" stroke-width="0.6"/>
<text x="298.1" y="342.91" text-anchor="end" class="tk">8000</text>
<line x1="300.1" y1="329.67" x2="301.4" y2="329.67" stroke="#737373" stroke-width="0.6"/>
<line x1="299" y1="318.33" x2="301.4" y2="318.33" stroke="#737373" stroke-width="0.6"/>
<text x="298.1" y="320.23" text-anchor="end" class="tk">8200</text>
<line x1="300.1" y1="306.99" x2="301.4" y2="306.99" stroke="#737373" stroke-width="0.6"/>
<line x1="299" y1="295.64" x2="301.4" y2="295.64" stroke="#737373" stroke-width="0.6"/>
<text x="298.1" y="297.54" text-anchor="end" class="tk">8400</text>
<line x1="300.1" y1="284.3" x2="301.4" y2="284.3" stroke="#737373" stroke-width="0.6"/>
<line x1="299" y1="272.96" x2="301.4" y2="272.96" stroke="#737373" stroke-width="0.6"/>
<text x="298.1" y="274.86" text-anchor="end" class="tk">8600</text>
<line x1="300.1" y1="261.61" x2="301.4" y2="261.61" stroke="#737373" stroke-width="0.6"/>
<line x1="299" y1="250.27" x2="301.4" y2="250.27" stroke="#737373" stroke-width="0.6"/>
<text x="298.1" y="252.17" text-anchor="end" class="tk">8800</text>
<line x1="300.1" y1="238.93" x2="301.4" y2="238.93" stroke="#737373" stroke-width="0.6"/>
<line x1="299" y1="227.59" x2="301.4" y2="227.59" stroke="#737373" stroke-width="0.6"/>
<text x="298.1" y="229.49" text-anchor="end" class="tk">9000</text>
<line x1="300.1" y1="216.24" x2="301.4" y2="216.24" stroke="#737373" stroke-width="0.6"/>
<line x1="299" y1="204.9" x2="301.4" y2="204.9" stroke="#737373" stroke-width="0.6"/>
<text x="298.1" y="206.8" text-anchor="end" class="tk">9200</text>
<line x1="301.4" y1="363.7" x2="301.4" y2="365.9" stroke="#737373" stroke-width="0.6"/>
<text x="301.4" y="371.2" text-anchor="middle" class="tk">0</text>
<line x1="321.27" y1="363.7" x2="321.27" y2="364.9" stroke="#737373" stroke-width="0.6"/>
<line x1="341.13" y1="363.7" x2="341.13" y2="365.9" stroke="#737373" stroke-width="0.6"/>
<text x="341.13" y="371.2" text-anchor="middle" class="tk">100</text>
<line x1="361" y1="363.7" x2="361" y2="364.9" stroke="#737373" stroke-width="0.6"/>
<line x1="380.87" y1="363.7" x2="380.87" y2="365.9" stroke="#737373" stroke-width="0.6"/>
<text x="380.87" y="371.2" text-anchor="middle" class="tk">200</text>
<line x1="400.73" y1="363.7" x2="400.73" y2="364.9" stroke="#737373" stroke-width="0.6"/>
<line x1="420.6" y1="363.7" x2="420.6" y2="365.9" stroke="#737373" stroke-width="0.6"/>
<text x="420.6" y="371.2" text-anchor="middle" class="tk">300</text>
<line x1="440.47" y1="363.7" x2="440.47" y2="364.9" stroke="#737373" stroke-width="0.6"/>
<line x1="460.33" y1="363.7" x2="460.33" y2="365.9" stroke="#737373" stroke-width="0.6"/>
<text x="460.33" y="371.2" text-anchor="middle" class="tk">400</text>
<line x1="480.2" y1="363.7" x2="480.2" y2="364.9" stroke="#737373" stroke-width="0.6"/>
<line x1="500.07" y1="363.7" x2="500.07" y2="365.9" stroke="#737373" stroke-width="0.6"/>
<text x="500.07" y="371.2" text-anchor="middle" class="tk">500</text>
<line x1="519.93" y1="363.7" x2="519.93" y2="364.9" stroke="#737373" stroke-width="0.6"/>
<line x1="539.8" y1="363.7" x2="539.8" y2="365.9" stroke="#737373" stroke-width="0.6"/>
<text x="539.8" y="371.2" text-anchor="middle" class="tk">600</text>
<text x="420.6" y="381" text-anchor="middle" class="lb">Sample Number</text>
<text x="420.6" y="389.5" text-anchor="middle" class="lb">(d) Test set with Fast Fourier transform</text>
<text x="286" y="284.3" text-anchor="middle" class="lb" transform="rotate(-90 286 284.3)">Value</text>
<rect x="473.8" y="204.9" width="66" height="17.3" fill="#fff" stroke="#8a8a8a" stroke-width="0.6"/>
<line x1="474.3" y1="209.1" x2="489.8" y2="209.1" stroke="#f28c18" stroke-width="1" opacity="0.75"/>
<line x1="474.3" y1="218.1" x2="489.8" y2="218.1" stroke="#2677c2" stroke-width="1" opacity="0.75"/>
<text x="491.7" y="211.8" class="lg">True value</text>
<text x="491.7" y="220.8" class="lg">Predicted value</text>
<path d="M301.4 204.9H539.8V363.7" fill="none" stroke="#737373" stroke-width="0.85"/>
<clipPath id="ce"><rect x="27.3" y="403.3" width="238.2" height="159"/></clipPath><g clip-path="url(#ce)">
<path d="M27 515.3 27.3 518.5 27.5 526.8 27.8 529.3 28 527.5 28.4 516.3 28.8 508 29.2 497.9 29.7 490.8 30 503.7 30.4 512 30.7 525.9 31.1 533.6 31.4 523.7 31.8 534.7 32.2 525.6 32.5 523.4 32.8 534.8 33.1 540.2 33.4 547.9 33.7 558.1 34 536 34.2 513.4 34.5 485.4 34.8 462.2 35.1 480 35.4 501.7 35.7 513.8 36 535.7 36.3 517.4 36.6 512.7 36.9 496.3 37.2 486.7 37.5 477 37.7 479.4 38 478.7 38.2 478.5 38.5 469.7 38.7 464.4 39 466.4 39.2 462.2 39.4 476 39.6 481.7 39.9 489.9 40.1 503 40.4 499.4 40.7 495.7 41 486.5 41.3 482.6 41.6 483.2 41.9 483.7 42.2 477.2 42.5 476.5 42.8 467.9 43.1 467.2 43.4 461.4 43.7 455.1 44 463.8 44.3 458.6 44.6 465.4 45 472.4 45.2 472.6 45.5 472.7 45.7 483.6 46 486.7 46.3 499 46.6 504.2 46.9 522.8 47.2 527.5 47.6 516 47.9 500.4 48.3 484.7 48.6 468.3 48.9 481.8 49.2 482.4 49.5 499.8 49.9 507.1 50.2 511.5 50.5 504.1 50.8 514.6 51.1 515.3 51.3 516.3 51.6 522.4 51.8 519.6 52.1 523.4 52.4 529.2 52.6 536.5 52.9 537.5 53.1 546.9 53.3 538.3 53.5 524.5 53.7 515.9 53.9 503 54.1 510.6 54.3 526.7 54.5 534.5 54.7 541.8 55.1 529.9 55.4 521.8 55.7 513.1 56 496.9 56.4 501.5 56.8 485.5 57.2 492.8 57.6 486.7 57.9 482.4 58.1 474.1 58.4 464.3 58.6 462.2 58.9 474.3 59.2 471.5 59.5 485.9 59.8 490.8 60.2 490.3 60.5 473.2 60.8 472.7 61.1 468.3 61.4 464.7 61.7 472.4 62 478.9 62.3 474.5 62.7 477.6 63 457.7 63.4 457.6 63.7 455.1 64 461.7 64.3 469 64.6 468.2 64.9 470.4 65.3 474.5 65.6 485.8 65.9 491.7 66.2 498.9 66.4 505.3 66.7 510.3 66.9 521.9 67.2 527.5 67.5 520.1 67.8 509.8 68.1 500.6 68.4 492.8 68.6 479.5 68.8 474.6 69 473.1 69.2 460.2 69.5 466 69.8 467.7 70.2 485.4 70.5 486.7 70.7 495.9 71 509.4 71.2 508.4 71.5 515.3 71.8 515 72.1 512.6 72.4 525.1 72.7 521.4 73 518.3 73.3 491.6 73.6 479 73.9 468.3 74.2 481.4 74.5 486.5 74.8 499.4 75.2 511.2 75.5 503.7 75.8 499.7 76.1 497.2 76.4 486.7 76.6 482.2 76.9 481.2 77.1 471.3 77.4 468.3 77.7 463.5 77.9 447.6 78.2 444.2 78.4 443.8 78.7 460.8 79 469 79.3 487.5 79.6 498.9 79.9 496 80.3 494 80.6 486.9 80.9 478.5 81.2 476.5 81.5 465.8 81.8 457.4 82.1 454 82.4 456.2 82.7 462.3 83 464.9 83.3 474.5 83.6 476.9 83.9 483.3 84.2 489.2 84.5 492.8 84.8 499.1 85 500.5 85.3 515.5 85.6 523.4 85.7 515.1 85.8 509.4 85.9 498.2 86 486.7 86.3 481.6 86.5 478.7 86.8 487 87 476.5 87.3 487.7 87.5 500.1 87.8 509.4 88 509.1 88.3 507.4 88.6 513.7 88.8 515.5 89.1 515.3 89.3 510.3 89.6 503.1 89.8 494.6 90.1 486.7 90.3 489.9 90.6 485.8 90.8 493.7 91.1 496.9 91.4 496 91.6 501.5 91.9 501.2 92.1 505.1 92.4 501.9 92.6 497.1 92.9 489.4 93.1 482.6 93.4 480.3 93.7 475.8 93.9 470.1 94.2 468.3 94.4 459 94.7 449 94.9 443.9 95.2 433.6 95.4 431.2 95.7 430.9 95.9 420.7 96.2 423.4 96.5 433.1 96.7 432.7 97 438.9 97.2 447.9 97.5 448.7 97.7 448.7 98 453.7 98.2 454 98.5 448.7 98.8 443.7 99 441.5 99.3 441.8 99.5 445.5 99.8 438.9 100 432.6 100.3 435.7 100.5 438.3 100.8 434.6 101 450.4 101.3 445.9 101.6 444.9 101.8 458 102.1 463.3 102.3 466.3 102.6 466.1 102.8 478.7 103.1 487.1 103.3 488.7 103.6 483.5 103.9 475.5 104.1 471.1 104.4 460.2 104.6 464.4 104.9 468.6 105.1 470.4 105.4 474.5 105.6 473.4 105.9 463.6 106.1 466.9 106.4 460.2 106.7 463.8 106.9 467.1 107.2 478.5 107.4 482.6 107.7 487.8 107.9 483.4 108.2 476 108.4 476.5 108.7 473.1 109 462.4 109.2 457.6 109.5 452 109.7 457.5 110 453 110.2 468.1 110.5 472.4 110.7 465.3 111 463.5 111.2 457.4 111.5 460.2 111.8 458.7 112 465.6 112.3 477.2 112.5 478.5 112.8 477 113 462.1 113.3 458.4 113.5 445.9 113.8 440.8 114.1 430.1 114.3 434.2 114.6 429.6 114.8 435.9 115.1 437 115.3 444.5 115.6 447.9 115.8 465 116.1 474.1 116.3 486.4 116.6 507.1 116.9 501.1 117.1 496.1 117.4 490.4 117.6 486.7 117.9 494.7 118.1 501.7 118.4 497.3 118.6 503 118.9 504.8 119.2 504.7 119.4 502.8 119.7 498.9 119.9 506.2 120.2 503.5 120.4 511.1 120.7 511.2 120.9 516.7 121.2 509.3 121.5 501.1 121.7 501 122 507 122.2 513.1 122.5 513.2 122.7 515.3 123 515.6 123.2 526.5 123.5 517.9 123.7 525.5 124 517.3 124.3 505 124.5 490.1 124.8 484.7 125 494.1 125.3 495.2 125.5 493.8 125.8 503 126 499.3 126.3 489.1 126.6 477.1 126.8 478.5 127.1 469.7 127.3 467.3 127.6 462.7 127.8 454 128.1 449.9 128.3 444.5 128.6 441.4 128.8 434.7 129.1 442.2 129.4 456.2 129.6 460.5 129.9 468.3 130.1 473.1 130.4 477.6 130.6 474.8 130.9 482.6 131.1 474.7 131.4 478.5 131.7 468.6 131.9 462.2 132.2 459 132.4 459.5 132.7 454.2 132.9 454 133.2 459.7 133.4 460.6 133.7 468.9 133.9 472.4 134.2 471.8 134.5 488.9 134.7 487.2 135 494.9 135.2 496.2 135.5 509.3 135.7 516.3 136 525.5 136.2 519.4 136.5 507.6 136.8 507.1 137 498.9 137.3 508.7 137.5 484.7 137.8 486.5 138 480.6 138.3 483.9 138.5 490.5 138.8 487.1 139 498.9 139.3 498.4 139.6 508.9 139.8 511 140.1 515.3 140.3 523.8 140.6 516.5 140.8 522.1 141.1 523.4 141.3 530.9 141.6 512.2 141.9 507.6 142.1 507.1 142.4 510.5 142.6 514.1 142.9 521.2 143.1 521.4 143.4 517.3 143.6 509.2 143.9 508.4 144.1 503 144.4 500.8 144.6 482.6 144.8 453.7 145 452 145.3 455.5 145.5 456.7 145.8 466.7 146 468.3 146.3 468.7 146.5 478.1 146.8 475.1 147 472.4 147.3 472.4 147.6 466 147.8 461.5 148.1 458.1 148.3 459 148.6 462.3 148.8 458.7 149.1 456.1 149.3 457.8 149.6 467.3 149.8 466 150.1 468.3 150.4 472.6 150.6 474.4 150.9 479.9 151.1 486.7 151.4 490.8 151.6 488.9 151.9 510.6 152.1 513.2 152.4 522.1 152.7 525.6 152.9 537.3 153.2 539.7 153.4 533.3 153.7 524.9 153.9 505.4 154.2 507.1 154.4 501.6 154.7 500 154.9 499.7 155.2 488.7 155.5 501.7 155.7 505.6 156 500.9 156.2 511.2 156.5 505.5 156.7 519.6 157 520.5 157.2 523.4 157.5 530.3 157.8 529 158 533.5 158.3 535.7 158.5 521.5 158.8 521.1 159 509.4 159.3 503 159.5 511.5 159.8 519.1 160 524 160.3 531.6 160.5 536.4 160.6 538.7 160.8 545.3 160.9 545.9 161.1 539.7 161.3 527.4 161.5 519 161.7 513.2 162 511.5 162.3 495.5 162.6 491.1 163 478.5 163.3 474 163.7 464 164 457.2 164.4 454 164.6 458.1 164.9 462.2 165.1 467.2 165.4 468.3 165.7 459.2 165.9 457.8 166.2 455.7 166.4 452 166.7 460.9 166.9 447.7 167.2 461.4 167.4 462.2 167.7 456 168 455.8 168.2 448 168.5 445.9 168.7 446.6 169 450.6 169.2 445 169.5 442.8 169.7 449.4 170 454 170.2 454.4 170.5 462.2 170.8 476.6 171 485.9 171.3 495.7 171.5 511.2 171.7 518.7 171.8 525.6 172 537.1 172.1 541.8 172.4 537 172.6 530.5 172.9 533.8 173.2 523.4 173.5 516.1 173.9 506 174.2 492.2 174.6 478.5 174.8 484.2 175.1 489.1 175.3 495.8 175.6 503 175.9 516.5 176.1 522.8 176.4 526.2 176.6 541.8 176.9 535 177.1 522.9 177.4 522.5 177.6 515.3 177.9 514 178.2 517.4 178.4 526.4 178.7 529.5 178.9 518.5 179.2 501.5 179.4 500.4 179.7 486.7 179.9 504.5 180.2 499.2 180.5 521.5 180.7 523.4 181 514.6 181.2 509.2 181.5 504.3 181.7 498.9 182 489.1 182.2 495.9 182.5 488.7 182.7 482.6 183 476.6 183.3 475.4 183.5 467.4 183.8 470.4 184 473.1 184.3 482.3 184.5 475.8 184.8 486.7 185 480.4 185.3 478.1 185.6 477.1 185.8 468.3 186.1 476.8 186.3 472.6 186.6 474.6 186.8 480.6 187.1 478.8 187.3 472 187.6 468.6 187.8 466.3 188.1 473.6 188.4 479.1 188.6 476.5 188.9 478.5 189.1 482.4 189.4 490 189.6 484.8 189.9 496.9 190.1 501.4 190.4 501.9 190.7 520.2 190.9 515.3 191.2 526.3 191.4 532.1 191.7 539 191.9 547.9 192.2 529.7 192.4 534.4 192.7 529.9 192.9 515.3 193.2 506.7 193.5 506.8 193.7 501.3 194 492.8 194.2 482.6 194.5 488.4 194.7 486 195 476.5 195.2 485.1 195.5 491.5 195.8 502.6 196 507.1 196.3 507.1 196.5 519.7 196.8 529.6 197 531.6 197.3 524.6 197.5 531.4 197.8 523.8 198 523.4 198.3 521.8 198.6 536.3 198.8 539.4 199.1 549.9 199.3 543.6 199.6 530 199.8 531.2 200.1 519.3 200.3 512.3 200.6 512.6 200.9 504.7 201.1 503 201.4 497.7 201.6 499.6 201.9 491.6 202.1 486.7 202.4 483.1 202.6 477.6 202.9 485.2 203.1 478.5 203.4 478.9 203.7 472.1 203.9 471.8 204.2 468.3 204.4 462.2 204.6 460.2 204.8 458.9 205 460.2 205.3 466.7 205.5 471.5 205.8 472.5 206 480.6 206.3 488.1 206.6 492.9 206.8 495 207.1 498.9 207.3 498 207.6 487.6 207.8 483.2 208.1 478.5 208.3 475.8 208.6 469.2 208.8 467.9 209.1 460.2 209.4 454.2 209.6 463.8 209.9 454 210.1 456.1 210.4 459.5 210.6 458.8 210.9 470.7 211.1 472.4 211.4 482.6 211.7 486.9 211.9 491 212.2 492.8 212.4 492.2 212.7 500.9 212.9 507.8 213.2 515.3 213.4 514.6 213.7 525.8 213.9 525.2 214.2 527.5 214.5 522.3 214.7 519.2 215 508.4 215.2 507.1 215.5 499.9 215.7 496.5 216 498.4 216.2 492.8 216.5 499.8 216.8 506.3 217 513.9 217.3 515.3 217.5 505.8 217.8 504.9 218 503.6 218.3 498.9 218.5 499.7 218.8 509.1 219 521.3 219.3 523.4 219.6 528.8 219.8 529.7 220.1 526.6 220.3 527.5 220.6 516.5 220.8 511.4 221.1 495.4 221.3 486.7 221.6 484.5 221.9 484.8 222.1 474.5 222.4 472.4 222.6 472.5 222.9 477.5 223.1 482.4 223.4 482.6 223.6 477.4 223.9 468.9 224.1 463.4 224.4 454 224.7 452.3 224.9 459.8 225.2 468.5 225.4 472.4 225.7 466.2 225.9 462 226.2 460 226.4 462.2 226.7 455.2 227 454.9 227.2 448.2 227.5 448.9 227.7 451.2 228 458.2 228.2 452.2 228.5 454 228.7 461.2 229 459.3 229.2 455.7 229.5 462.2 229.8 469.9 230 475.6 230.3 491.3 230.5 496.9 230.8 496.9 231 511.3 231.3 513 231.5 515.3 231.8 511.8 232.1 527.6 232.3 535.2 232.6 533.6 232.8 536.1 233.1 548.8 233.3 543.3 233.6 556.1 233.8 553 234.1 541.3 234.3 545.7 234.6 539.7 234.9 530.6 235.1 525.2 235.4 535.2 235.6 531.6 235.9 536.6 236.1 521.1 236.4 522.6 236.6 515.3 236.9 511.6 237.2 505.8 237.4 505.5 237.7 498.9 237.9 502.4 238.2 487.9 238.4 492 238.7 486.7 238.9 491.1 239.2 487.2 239.5 502.3 239.7 498.9 240 501.6 240.2 484.9 240.5 490.5 240.7 478.5 241 477.2 241.2 474.8 241.5 479.9 241.7 472.4 242 470.8 242.3 468.6 242.5 470.8 242.8 462.2 243 466.3 243.3 463.7 243.5 453.6 243.8 458.1 244 450.9 244.3 460.6 244.6 451.4 244.8 454 245.1 452.9 245.3 446.2 245.6 448 245.8 446.9 246.1 450.8 246.3 471.2 246.6 469.6 246.8 482.6 247 495.4 247.2 508.4 247.3 527.2 247.5 535.7 247.7 523.4 248 522.3 248.2 514.9 248.5 509.1 248.7 514.8 248.9 518.2 249.1 518 249.3 523.4 249.6 520.3 249.9 513.8 250.2 513 250.5 507.1 250.8 502.6 251 496.3 251.3 494.7 251.5 490.8 251.8 498.3 252 512 252.3 507.2 252.6 515.3 252.8 518.5 253.1 525.2 253.3 513.1 253.6 523.4 253.9 518.5 254.3 522.8 254.7 529.1 255 531.6 255.3 544.3 255.5 539.3 255.8 545.6 256 543.8 256.3 535.8 256.5 519.7 256.8 513.2 257 515.3 257.3 515.2 257.6 507.8 257.8 497.9 258.1 498.9 258.3 508.5 258.6 503 258.8 518.7 259.1 519.3 259.3 527.1 259.6 520.4 259.9 521.1 260.1 527.5 260.4 526.8 260.6 515 260.9 518.7 261.1 511.2 261.4 508.5 261.6 518.5 261.9 517.7 262.1 519.3 262.4 514.6 262.7 509.7 262.9 511.1 263.2 507.1 263.4 498.6 263.7 504 263.9 502.5 264.2 503 264.5 507.8 264.8 502.1 265.1 515.9 265.4 511.2" fill="none" stroke="#f28c18" stroke-width="0.88" stroke-linejoin="round"/>
<path d="M27 515.3 27.3 514.4 27.5 522.4 27.8 525.1 28 528.4 28.4 519.8 28.8 513.7 29.2 503.8 29.7 495 30 499.9 30.4 508.7 30.7 518.6 31.1 525.5 31.4 527.2 31.8 528.2 32.2 521.1 32.5 517.4 32.8 521.4 33.1 528 33.4 532.3 33.7 540.3 34 535.7 34.2 532.5 34.5 522.8 34.8 511.5 35.1 514.5 35.4 520.4 35.7 529.4 36 536.8 36.3 524.6 36.6 516.2 36.9 505 37.2 499 37.5 494.7 37.7 494.9 38 495.4 38.2 494.5 38.5 489.6 38.7 486.4 39 487.6 39.2 483.2 39.4 490.4 39.6 494.2 39.9 500.1 40.1 506.2 40.4 500.7 40.7 495.4 41 489 41.3 487.7 41.6 488.2 41.9 486.7 42.2 484.9 42.5 483.6 42.8 481.8 43.1 481.4 43.4 480.7 43.7 480.8 44 486.9 44.3 483.3 44.6 483.3 45 482.8 45.2 486.9 45.5 489 45.7 494.6 46 500 46.3 509.5 46.6 516.5 46.9 524.5 47.2 533.1 47.6 530.6 47.9 520.2 48.3 510.4 48.6 504.2 48.9 504 49.2 504.2 49.5 511.7 49.9 513.9 50.2 512.9 50.5 507.9 50.8 510.6 51.1 512.6 51.3 512.3 51.6 515.7 51.8 518.4 52.1 520.8 52.4 523 52.6 525.8 52.9 528.3 53.1 532.1 53.3 528.6 53.5 524.1 53.7 518.3 53.9 513.1 54.1 516.9 54.3 524.8 54.5 530.3 54.7 533 55.1 525.7 55.4 519.7 55.7 514 56 507.1 56.4 503.6 56.8 495.9 57.2 497.9 57.6 496.3 57.9 495.1 58.1 495.3 58.4 489.3 58.6 489.1 58.9 491.9 59.2 494.1 59.5 499.6 59.8 500.2 60.2 498.3 60.5 492.7 60.8 488.4 61.1 485.3 61.4 483 61.7 489.1 62 491.1 62.3 488.5 62.7 487.5 63 481.5 63.4 478.7 63.7 478 64 480.5 64.3 482.8 64.6 482.4 64.9 485 65.3 487.6 65.6 491 65.9 497.9 66.2 499.8 66.4 507.1 66.7 514.8 66.9 525 67.2 525.4 67.5 516.8 67.8 509.2 68.1 499.3 68.4 493.5 68.6 488.3 68.8 485.2 69 484.9 69.2 479.4 69.5 481.9 69.8 485.9 70.2 493.9 70.5 497 70.7 502.4 71 508.5 71.2 508.1 71.5 511.1 71.8 511.5 72.1 511.4 72.4 518.3 72.7 522.4 73 519.5 73.3 510.3 73.6 507.3 73.9 500.7 74.2 502.1 74.5 502.1 74.8 503.1 75.2 504.7 75.5 499.5 75.8 492.7 76.1 493.8 76.4 492.2 76.6 495.5 76.9 497.1 77.1 492.7 77.4 490.1 77.7 486 77.9 474.9 78.2 469 78.4 462.8 78.7 476.9 79 489.6 79.3 500 79.6 504.3 79.9 505.4 80.3 501.2 80.6 493.6 80.9 486.9 81.2 488.2 81.5 483.3 81.8 480.2 82.1 477.9 82.4 478.4 82.7 482.4 83 483.5 83.3 486.3 83.6 488.4 83.9 492.6 84.2 494 84.5 497.4 84.8 502.8 85 507.5 85.3 512.4 85.6 510.1 85.7 505.4 85.8 502.1 85.9 498.3 86 494.2 86.3 498 86.5 502.4 86.8 508.9 87 506.3 87.3 503.1 87.5 505.2 87.8 507.1 88 511.3 88.3 512.7 88.6 515.8 88.8 514.2 89.1 512 89.3 509.5 89.6 504.9 89.8 503.6 90.1 499.6 90.3 502.7 90.6 503.8 90.8 506.9 91.1 509.2 91.4 504 91.6 505.4 91.9 505.7 92.1 504.6 92.4 501.9 92.6 499.5 92.9 494.6 93.1 489.1 93.4 488 93.7 485.5 93.9 482.1 94.2 480.2 94.4 476.2 94.7 470.5 94.9 469.1 95.2 463.6 95.4 464.6 95.7 464.9 95.9 460.7 96.2 462 96.5 467.3 96.7 469.3 97 474.1 97.2 477.9 97.5 476.3 97.7 475.2 98 475.3 98.2 475.2 98.5 470.7 98.8 470.9 99 469.1 99.3 470.8 99.5 472.7 99.8 470.8 100 469.2 100.3 469.2 100.5 468.4 100.8 469.2 101 476.3 101.3 474.8 101.6 474.9 101.8 478.7 102.1 484.1 102.3 482.9 102.6 486.5 102.8 492.1 103.1 497.4 103.3 500 103.6 497 103.9 493.7 104.1 489.3 104.4 483.7 104.6 487.6 104.9 490.7 105.1 492.3 105.4 494.4 105.6 498.6 105.9 498.6 106.1 502 106.4 504.2 106.7 500.6 106.9 497.3 107.2 494.8 107.4 492.4 107.7 492.4 107.9 489.5 108.2 485.1 108.4 483.9 108.7 485.2 109 484.4 109.2 485.1 109.5 483.5 109.7 483.2 110 481.5 110.2 482.7 110.5 484 110.7 485.3 111 488.9 111.2 490.8 111.5 495 111.8 489.7 112 489.1 112.3 488.9 112.5 486.7 112.8 485.6 113 479.6 113.3 479.3 113.5 476.1 113.8 473.2 114.1 470.6 114.3 469.1 114.6 467.3 114.8 479.1 115.1 485.5 115.3 497.5 115.6 507.3 115.8 523.1 116.1 527.9 116.3 521.4 116.6 519.8 116.9 508.9 117.1 510.2 117.4 508.6 117.6 509 117.9 506.5 118.1 508.6 118.4 504.4 118.6 502 118.9 505 119.2 506.7 119.4 508 119.7 507.4 119.9 509.6 120.2 510.4 120.4 513.4 120.7 514.1 120.9 513.6 121.2 510.6 121.5 506.3 121.7 505.9 122 507.8 122.2 513 122.5 513.8 122.7 516.3 123 514.7 123.2 518.6 123.5 517.7 123.7 522.4 124 517.5 124.3 512.4 124.5 506.1 124.8 503 125 503.5 125.3 501.7 125.5 500.4 125.8 500.7 126 498.4 126.3 491.6 126.6 486.2 126.8 484.6 127.1 481.3 127.3 478.6 127.6 475.1 127.8 468.8 128.1 466 128.3 463.7 128.6 460.8 128.8 456.7 129.1 459.8 129.4 468.4 129.6 471.6 129.9 477.2 130.1 479.9 130.4 483.1 130.6 482.7 130.9 486.8 131.1 483.6 131.4 484.9 131.7 482.1 131.9 476.2 132.2 478 132.4 479.5 132.7 480.5 132.9 480.8 133.2 484.6 133.4 483.4 133.7 487.3 133.9 488.1 134.2 489.1 134.5 496.4 134.7 496.3 135 502.4 135.2 503.9 135.5 509.6 135.7 515.5 136 523.8 136.2 517.2 136.5 512.5 136.8 510.4 137 507 137.3 508.4 137.5 498.9 137.8 497.3 138 492.3 138.3 494.2 138.5 495.8 138.8 493 139 495.3 139.3 495.9 139.6 503.7 139.8 504.2 140.1 506.9 140.3 510.3 140.6 509.5 140.8 513.5 141.1 513 141.3 516.7 141.6 509.5 141.9 507.3 142.1 507.1 142.4 509.7 142.6 511.9 142.9 516.1 143.1 519.4 143.4 513.9 143.6 507.9 143.9 505 144.1 502.3 144.4 500.3 144.6 493.1 144.8 482.4 145 481.4 145.3 485.5 145.5 489.3 145.8 493.3 146 496.7 146.3 493.7 146.5 496.4 146.8 493.8 147 491.4 147.3 489.8 147.6 487.3 147.8 484.9 148.1 484 148.3 483.9 148.6 485 148.8 485.6 149.1 486.6 149.3 487.4 149.6 489 149.8 489.3 150.1 490.6 150.4 493 150.6 495.9 150.9 499.1 151.1 502 151.4 505.9 151.6 507.7 151.9 516.8 152.1 518.5 152.4 522.7 152.7 523.8 152.9 528.9 153.2 531.6 153.4 531.1 153.7 524 153.9 516 154.2 514.7 154.4 512.4 154.7 512.1 154.9 512 155.2 507.6 155.5 513.2 155.7 516 156 511.9 156.2 517.6 156.5 517.1 156.7 521.1 157 522.1 157.2 524.7 157.5 526.4 157.8 527.8 158 529 158.3 531.5 158.5 525.6 158.8 524.1 159 521 159.3 518.5 159.5 522.2 159.8 524.7 160 528.4 160.3 530.6 160.5 529.2 160.6 527.2 160.8 529.6 160.9 528.4 161.1 524.3 161.3 519.6 161.5 515.7 161.7 514.1 162 511.9 162.3 502.5 162.6 500.8 163 495.6 163.3 496.9 163.7 490.2 164 488.5 164.4 485.9 164.6 489.9 164.9 491.5 165.1 494.2 165.4 497.7 165.7 493.9 165.9 493.4 166.2 489.5 166.4 488.5 166.7 490.7 166.9 485 167.2 489.3 167.4 489.7 167.7 486.3 168 484.4 168.2 482.6 168.5 482 168.7 481.8 169 482.8 169.2 478.7 169.5 478.8 169.7 481.3 170 482.2 170.2 482.6 170.5 483.7 170.8 490.1 171 492.2 171.3 494.9 171.5 500.6 171.7 502.8 171.8 505.9 172 509 172.1 512.1 172.4 515.4 172.6 518.8 172.9 522.1 173.2 522 173.5 526.5 173.9 521.8 174.2 514.4 174.6 508.7 174.8 508.6 175.1 508.6 175.3 508.6 175.6 507 175.9 513 176.1 516.7 176.4 521.1 176.6 529.1 176.9 526.8 177.1 520.5 177.4 519.3 177.6 517.6 177.9 518.3 178.2 520.6 178.4 525.6 178.7 528.7 178.9 524.8 179.2 519.7 179.4 517.8 179.7 512.4 179.9 515.9 180.2 511.6 180.5 517.2 180.7 517 181 512.6 181.2 509.5 181.5 507.7 181.7 505.9 182 503.4 182.2 506 182.5 503 182.7 499.8 183 497 183.3 494.6 183.5 490.5 183.8 490.9 184 494 184.3 500.3 184.5 500.3 184.8 505.5 185 502.2 185.3 501.4 185.6 496.3 185.8 493.1 186.1 493.9 186.3 490.9 186.6 489.7 186.8 491 187.1 489.4 187.3 486.7 187.6 484.5 187.8 482.3 188.1 484.7 188.4 487.8 188.6 487 188.9 487.2 189.1 491.3 189.4 493.9 189.6 493.1 189.9 499 190.1 499.7 190.4 502.3 190.7 509.1 190.9 507.4 191.2 514.7 191.4 521.5 191.7 526.6 191.9 533.6 192.2 525.1 192.4 523.2 192.7 520.1 192.9 514.1 193.2 513 193.5 513.4 193.7 511.6 194 511.8 194.2 506.6 194.5 508.9 194.7 507.8 195 502.9 195.2 506.6 195.5 509.9 195.8 515.4 196 516.2 196.3 516.9 196.5 522.9 196.8 527.3 197 528.9 197.3 527 197.5 527.6 197.8 523.8 198 521 198.3 520 198.6 527.3 198.8 528.2 199.1 533.2 199.3 530 199.6 523.5 199.8 522.6 200.1 517.7 200.3 515.5 200.6 515.4 200.9 511.9 201.1 511.4 201.4 507.2 201.6 507.6 201.9 504.9 202.1 501.7 202.4 500 202.6 497.2 202.9 500.3 203.1 498.3 203.4 496.6 203.7 496.6 203.9 494.5 204.2 495.1 204.4 491.9 204.6 493.6 204.8 492.8 205 493 205.3 498.2 205.5 501.2 205.8 502.9 206 506.4 206.3 512.3 206.6 516.7 206.8 515.4 207.1 512.2 207.3 505.8 207.6 498.6 207.8 496.4 208.1 492.4 208.3 492.3 208.6 488.4 208.8 488.9 209.1 487.3 209.4 485.1 209.6 488 209.9 484.1 210.1 484 210.4 483.7 210.6 484 210.9 488.7 211.1 487.7 211.4 492.9 211.7 497.2 211.9 501.2 212.2 506.2 212.4 509.6 212.7 514.6 212.9 519 213.2 522.2 213.4 523.7 213.7 526.1 213.9 524.3 214.2 524.3 214.5 521.5 214.7 520.2 215 514.6 215.2 514.6 215.5 511.3 215.7 509.5 216 511.8 216.2 510.3 216.5 513.4 216.8 516.3 217 518.4 217.3 520.8 217.5 519.4 217.8 517.1 218 517 218.3 513.2 218.5 512.2 218.8 515.2 219 521.3 219.3 525.1 219.6 528 219.8 529.9 220.1 525.1 220.3 523.8 220.6 518.9 220.8 514.7 221.1 508.3 221.3 505.4 221.6 504 221.9 503.1 222.1 498.5 222.4 498.4 222.6 495.8 222.9 495.8 223.1 497.9 223.4 497.2 223.6 493 223.9 490.8 224.1 486.3 224.4 483.3 224.7 483.6 224.9 485.5 225.2 490 225.4 493.2 225.7 492.2 225.9 491.9 226.2 489.3 226.4 486.9 226.7 483.9 227 482.5 227.2 479.8 227.5 479.7 227.7 479.1 228 480.6 228.2 481.5 228.5 481.8 228.7 486 229 488.3 229.2 489.8 229.5 492.2 229.8 493.9 230 500.4 230.3 506.7 230.5 509.9 230.8 513.1 231 519 231.3 519.2 231.5 521.5 231.8 524 232.1 526.6 232.3 531.2 232.6 530.1 232.8 531.1 233.1 534.9 233.3 531.9 233.6 535.2 233.8 533.3 234.1 529.8 234.3 532.5 234.6 530.8 234.9 528.5 235.1 528.3 235.4 529.2 235.6 528.4 235.9 531.4 236.1 524.4 236.4 522.4 236.6 518.5 236.9 514.9 237.2 513.4 237.4 512.1 237.7 509.9 237.9 509.8 238.2 505.3 238.4 506.2 238.7 508.5 238.9 510 239.2 508.8 239.5 510.9 239.7 509 240 508.7 240.2 501.9 240.5 500.9 240.7 496.6 241 494.8 241.2 496 241.5 498 241.7 496.5 242 495.1 242.3 494.7 242.5 493.7 242.8 491.9 243 492.4 243.3 490.5 243.5 486.2 243.8 489.3 244 483.7 244.3 488.6 244.6 484.2 244.8 485.3 245.1 483.3 245.3 481.8 245.6 483.3 245.8 483.3 246.1 485.6 246.3 492.3 246.6 495.7 246.8 502.4 247 506.2 247.2 510.5 247.3 517.9 247.5 517.8 247.7 515.4 248 514.9 248.2 513 248.5 511.6 248.7 511.7 248.9 513 249.1 512.8 249.3 512.7 249.6 515.1 249.9 516.9 250.2 520.2 250.5 517.8 250.8 517.8 251 514.2 251.3 513.2 251.5 512.9 251.8 517.9 252 522.1 252.3 522.9 252.6 524 252.8 523.3 253.1 522.1 253.3 518.3 253.6 521.4 253.9 523 254.3 525 254.7 525.8 255 524.5 255.3 526.7 255.5 525.3 255.8 528.1 256 529 256.3 529.1 256.5 526.1 256.8 523.8 257 522.8 257.3 520.9 257.6 518.5 257.8 514.7 258.1 515.9 258.3 516.2 258.6 513.7 258.8 518.7 259.1 521 259.3 524.3 259.6 523.6 259.9 523.5 260.1 522.9 260.4 520.5 260.6 517.7 260.9 516.7 261.1 515.5 261.4 514.3 261.6 517.4 261.9 517.9 262.1 521.9 262.4 524 262.7 520.9 262.9 519.2 263.2 516.1 263.4 511 263.7 510.5 263.9 509 264.2 508.1 264.5 507.5 264.8 507.4 265.1 514.7 265.4 514.9" fill="none" stroke="#fff" stroke-width="1.0" stroke-linejoin="round"/>
<path d="M27 515.3 27.3 514.4 27.5 522.4 27.8 525.1 28 528.4 28.4 519.8 28.8 513.7 29.2 503.8 29.7 495 30 499.9 30.4 508.7 30.7 518.6 31.1 525.5 31.4 527.2 31.8 528.2 32.2 521.1 32.5 517.4 32.8 521.4 33.1 528 33.4 532.3 33.7 540.3 34 535.7 34.2 532.5 34.5 522.8 34.8 511.5 35.1 514.5 35.4 520.4 35.7 529.4 36 536.8 36.3 524.6 36.6 516.2 36.9 505 37.2 499 37.5 494.7 37.7 494.9 38 495.4 38.2 494.5 38.5 489.6 38.7 486.4 39 487.6 39.2 483.2 39.4 490.4 39.6 494.2 39.9 500.1 40.1 506.2 40.4 500.7 40.7 495.4 41 489 41.3 487.7 41.6 488.2 41.9 486.7 42.2 484.9 42.5 483.6 42.8 481.8 43.1 481.4 43.4 480.7 43.7 480.8 44 486.9 44.3 483.3 44.6 483.3 45 482.8 45.2 486.9 45.5 489 45.7 494.6 46 500 46.3 509.5 46.6 516.5 46.9 524.5 47.2 533.1 47.6 530.6 47.9 520.2 48.3 510.4 48.6 504.2 48.9 504 49.2 504.2 49.5 511.7 49.9 513.9 50.2 512.9 50.5 507.9 50.8 510.6 51.1 512.6 51.3 512.3 51.6 515.7 51.8 518.4 52.1 520.8 52.4 523 52.6 525.8 52.9 528.3 53.1 532.1 53.3 528.6 53.5 524.1 53.7 518.3 53.9 513.1 54.1 516.9 54.3 524.8 54.5 530.3 54.7 533 55.1 525.7 55.4 519.7 55.7 514 56 507.1 56.4 503.6 56.8 495.9 57.2 497.9 57.6 496.3 57.9 495.1 58.1 495.3 58.4 489.3 58.6 489.1 58.9 491.9 59.2 494.1 59.5 499.6 59.8 500.2 60.2 498.3 60.5 492.7 60.8 488.4 61.1 485.3 61.4 483 61.7 489.1 62 491.1 62.3 488.5 62.7 487.5 63 481.5 63.4 478.7 63.7 478 64 480.5 64.3 482.8 64.6 482.4 64.9 485 65.3 487.6 65.6 491 65.9 497.9 66.2 499.8 66.4 507.1 66.7 514.8 66.9 525 67.2 525.4 67.5 516.8 67.8 509.2 68.1 499.3 68.4 493.5 68.6 488.3 68.8 485.2 69 484.9 69.2 479.4 69.5 481.9 69.8 485.9 70.2 493.9 70.5 497 70.7 502.4 71 508.5 71.2 508.1 71.5 511.1 71.8 511.5 72.1 511.4 72.4 518.3 72.7 522.4 73 519.5 73.3 510.3 73.6 507.3 73.9 500.7 74.2 502.1 74.5 502.1 74.8 503.1 75.2 504.7 75.5 499.5 75.8 492.7 76.1 493.8 76.4 492.2 76.6 495.5 76.9 497.1 77.1 492.7 77.4 490.1 77.7 486 77.9 474.9 78.2 469 78.4 462.8 78.7 476.9 79 489.6 79.3 500 79.6 504.3 79.9 505.4 80.3 501.2 80.6 493.6 80.9 486.9 81.2 488.2 81.5 483.3 81.8 480.2 82.1 477.9 82.4 478.4 82.7 482.4 83 483.5 83.3 486.3 83.6 488.4 83.9 492.6 84.2 494 84.5 497.4 84.8 502.8 85 507.5 85.3 512.4 85.6 510.1 85.7 505.4 85.8 502.1 85.9 498.3 86 494.2 86.3 498 86.5 502.4 86.8 508.9 87 506.3 87.3 503.1 87.5 505.2 87.8 507.1 88 511.3 88.3 512.7 88.6 515.8 88.8 514.2 89.1 512 89.3 509.5 89.6 504.9 89.8 503.6 90.1 499.6 90.3 502.7 90.6 503.8 90.8 506.9 91.1 509.2 91.4 504 91.6 505.4 91.9 505.7 92.1 504.6 92.4 501.9 92.6 499.5 92.9 494.6 93.1 489.1 93.4 488 93.7 485.5 93.9 482.1 94.2 480.2 94.4 476.2 94.7 470.5 94.9 469.1 95.2 463.6 95.4 464.6 95.7 464.9 95.9 460.7 96.2 462 96.5 467.3 96.7 469.3 97 474.1 97.2 477.9 97.5 476.3 97.7 475.2 98 475.3 98.2 475.2 98.5 470.7 98.8 470.9 99 469.1 99.3 470.8 99.5 472.7 99.8 470.8 100 469.2 100.3 469.2 100.5 468.4 100.8 469.2 101 476.3 101.3 474.8 101.6 474.9 101.8 478.7 102.1 484.1 102.3 482.9 102.6 486.5 102.8 492.1 103.1 497.4 103.3 500 103.6 497 103.9 493.7 104.1 489.3 104.4 483.7 104.6 487.6 104.9 490.7 105.1 492.3 105.4 494.4 105.6 498.6 105.9 498.6 106.1 502 106.4 504.2 106.7 500.6 106.9 497.3 107.2 494.8 107.4 492.4 107.7 492.4 107.9 489.5 108.2 485.1 108.4 483.9 108.7 485.2 109 484.4 109.2 485.1 109.5 483.5 109.7 483.2 110 481.5 110.2 482.7 110.5 484 110.7 485.3 111 488.9 111.2 490.8 111.5 495 111.8 489.7 112 489.1 112.3 488.9 112.5 486.7 112.8 485.6 113 479.6 113.3 479.3 113.5 476.1 113.8 473.2 114.1 470.6 114.3 469.1 114.6 467.3 114.8 479.1 115.1 485.5 115.3 497.5 115.6 507.3 115.8 523.1 116.1 527.9 116.3 521.4 116.6 519.8 116.9 508.9 117.1 510.2 117.4 508.6 117.6 509 117.9 506.5 118.1 508.6 118.4 504.4 118.6 502 118.9 505 119.2 506.7 119.4 508 119.7 507.4 119.9 509.6 120.2 510.4 120.4 513.4 120.7 514.1 120.9 513.6 121.2 510.6 121.5 506.3 121.7 505.9 122 507.8 122.2 513 122.5 513.8 122.7 516.3 123 514.7 123.2 518.6 123.5 517.7 123.7 522.4 124 517.5 124.3 512.4 124.5 506.1 124.8 503 125 503.5 125.3 501.7 125.5 500.4 125.8 500.7 126 498.4 126.3 491.6 126.6 486.2 126.8 484.6 127.1 481.3 127.3 478.6 127.6 475.1 127.8 468.8 128.1 466 128.3 463.7 128.6 460.8 128.8 456.7 129.1 459.8 129.4 468.4 129.6 471.6 129.9 477.2 130.1 479.9 130.4 483.1 130.6 482.7 130.9 486.8 131.1 483.6 131.4 484.9 131.7 482.1 131.9 476.2 132.2 478 132.4 479.5 132.7 480.5 132.9 480.8 133.2 484.6 133.4 483.4 133.7 487.3 133.9 488.1 134.2 489.1 134.5 496.4 134.7 496.3 135 502.4 135.2 503.9 135.5 509.6 135.7 515.5 136 523.8 136.2 517.2 136.5 512.5 136.8 510.4 137 507 137.3 508.4 137.5 498.9 137.8 497.3 138 492.3 138.3 494.2 138.5 495.8 138.8 493 139 495.3 139.3 495.9 139.6 503.7 139.8 504.2 140.1 506.9 140.3 510.3 140.6 509.5 140.8 513.5 141.1 513 141.3 516.7 141.6 509.5 141.9 507.3 142.1 507.1 142.4 509.7 142.6 511.9 142.9 516.1 143.1 519.4 143.4 513.9 143.6 507.9 143.9 505 144.1 502.3 144.4 500.3 144.6 493.1 144.8 482.4 145 481.4 145.3 485.5 145.5 489.3 145.8 493.3 146 496.7 146.3 493.7 146.5 496.4 146.8 493.8 147 491.4 147.3 489.8 147.6 487.3 147.8 484.9 148.1 484 148.3 483.9 148.6 485 148.8 485.6 149.1 486.6 149.3 487.4 149.6 489 149.8 489.3 150.1 490.6 150.4 493 150.6 495.9 150.9 499.1 151.1 502 151.4 505.9 151.6 507.7 151.9 516.8 152.1 518.5 152.4 522.7 152.7 523.8 152.9 528.9 153.2 531.6 153.4 531.1 153.7 524 153.9 516 154.2 514.7 154.4 512.4 154.7 512.1 154.9 512 155.2 507.6 155.5 513.2 155.7 516 156 511.9 156.2 517.6 156.5 517.1 156.7 521.1 157 522.1 157.2 524.7 157.5 526.4 157.8 527.8 158 529 158.3 531.5 158.5 525.6 158.8 524.1 159 521 159.3 518.5 159.5 522.2 159.8 524.7 160 528.4 160.3 530.6 160.5 529.2 160.6 527.2 160.8 529.6 160.9 528.4 161.1 524.3 161.3 519.6 161.5 515.7 161.7 514.1 162 511.9 162.3 502.5 162.6 500.8 163 495.6 163.3 496.9 163.7 490.2 164 488.5 164.4 485.9 164.6 489.9 164.9 491.5 165.1 494.2 165.4 497.7 165.7 493.9 165.9 493.4 166.2 489.5 166.4 488.5 166.7 490.7 166.9 485 167.2 489.3 167.4 489.7 167.7 486.3 168 484.4 168.2 482.6 168.5 482 168.7 481.8 169 482.8 169.2 478.7 169.5 478.8 169.7 481.3 170 482.2 170.2 482.6 170.5 483.7 170.8 490.1 171 492.2 171.3 494.9 171.5 500.6 171.7 502.8 171.8 505.9 172 509 172.1 512.1 172.4 515.4 172.6 518.8 172.9 522.1 173.2 522 173.5 526.5 173.9 521.8 174.2 514.4 174.6 508.7 174.8 508.6 175.1 508.6 175.3 508.6 175.6 507 175.9 513 176.1 516.7 176.4 521.1 176.6 529.1 176.9 526.8 177.1 520.5 177.4 519.3 177.6 517.6 177.9 518.3 178.2 520.6 178.4 525.6 178.7 528.7 178.9 524.8 179.2 519.7 179.4 517.8 179.7 512.4 179.9 515.9 180.2 511.6 180.5 517.2 180.7 517 181 512.6 181.2 509.5 181.5 507.7 181.7 505.9 182 503.4 182.2 506 182.5 503 182.7 499.8 183 497 183.3 494.6 183.5 490.5 183.8 490.9 184 494 184.3 500.3 184.5 500.3 184.8 505.5 185 502.2 185.3 501.4 185.6 496.3 185.8 493.1 186.1 493.9 186.3 490.9 186.6 489.7 186.8 491 187.1 489.4 187.3 486.7 187.6 484.5 187.8 482.3 188.1 484.7 188.4 487.8 188.6 487 188.9 487.2 189.1 491.3 189.4 493.9 189.6 493.1 189.9 499 190.1 499.7 190.4 502.3 190.7 509.1 190.9 507.4 191.2 514.7 191.4 521.5 191.7 526.6 191.9 533.6 192.2 525.1 192.4 523.2 192.7 520.1 192.9 514.1 193.2 513 193.5 513.4 193.7 511.6 194 511.8 194.2 506.6 194.5 508.9 194.7 507.8 195 502.9 195.2 506.6 195.5 509.9 195.8 515.4 196 516.2 196.3 516.9 196.5 522.9 196.8 527.3 197 528.9 197.3 527 197.5 527.6 197.8 523.8 198 521 198.3 520 198.6 527.3 198.8 528.2 199.1 533.2 199.3 530 199.6 523.5 199.8 522.6 200.1 517.7 200.3 515.5 200.6 515.4 200.9 511.9 201.1 511.4 201.4 507.2 201.6 507.6 201.9 504.9 202.1 501.7 202.4 500 202.6 497.2 202.9 500.3 203.1 498.3 203.4 496.6 203.7 496.6 203.9 494.5 204.2 495.1 204.4 491.9 204.6 493.6 204.8 492.8 205 493 205.3 498.2 205.5 501.2 205.8 502.9 206 506.4 206.3 512.3 206.6 516.7 206.8 515.4 207.1 512.2 207.3 505.8 207.6 498.6 207.8 496.4 208.1 492.4 208.3 492.3 208.6 488.4 208.8 488.9 209.1 487.3 209.4 485.1 209.6 488 209.9 484.1 210.1 484 210.4 483.7 210.6 484 210.9 488.7 211.1 487.7 211.4 492.9 211.7 497.2 211.9 501.2 212.2 506.2 212.4 509.6 212.7 514.6 212.9 519 213.2 522.2 213.4 523.7 213.7 526.1 213.9 524.3 214.2 524.3 214.5 521.5 214.7 520.2 215 514.6 215.2 514.6 215.5 511.3 215.7 509.5 216 511.8 216.2 510.3 216.5 513.4 216.8 516.3 217 518.4 217.3 520.8 217.5 519.4 217.8 517.1 218 517 218.3 513.2 218.5 512.2 218.8 515.2 219 521.3 219.3 525.1 219.6 528 219.8 529.9 220.1 525.1 220.3 523.8 220.6 518.9 220.8 514.7 221.1 508.3 221.3 505.4 221.6 504 221.9 503.1 222.1 498.5 222.4 498.4 222.6 495.8 222.9 495.8 223.1 497.9 223.4 497.2 223.6 493 223.9 490.8 224.1 486.3 224.4 483.3 224.7 483.6 224.9 485.5 225.2 490 225.4 493.2 225.7 492.2 225.9 491.9 226.2 489.3 226.4 486.9 226.7 483.9 227 482.5 227.2 479.8 227.5 479.7 227.7 479.1 228 480.6 228.2 481.5 228.5 481.8 228.7 486 229 488.3 229.2 489.8 229.5 492.2 229.8 493.9 230 500.4 230.3 506.7 230.5 509.9 230.8 513.1 231 519 231.3 519.2 231.5 521.5 231.8 524 232.1 526.6 232.3 531.2 232.6 530.1 232.8 531.1 233.1 534.9 233.3 531.9 233.6 535.2 233.8 533.3 234.1 529.8 234.3 532.5 234.6 530.8 234.9 528.5 235.1 528.3 235.4 529.2 235.6 528.4 235.9 531.4 236.1 524.4 236.4 522.4 236.6 518.5 236.9 514.9 237.2 513.4 237.4 512.1 237.7 509.9 237.9 509.8 238.2 505.3 238.4 506.2 238.7 508.5 238.9 510 239.2 508.8 239.5 510.9 239.7 509 240 508.7 240.2 501.9 240.5 500.9 240.7 496.6 241 494.8 241.2 496 241.5 498 241.7 496.5 242 495.1 242.3 494.7 242.5 493.7 242.8 491.9 243 492.4 243.3 490.5 243.5 486.2 243.8 489.3 244 483.7 244.3 488.6 244.6 484.2 244.8 485.3 245.1 483.3 245.3 481.8 245.6 483.3 245.8 483.3 246.1 485.6 246.3 492.3 246.6 495.7 246.8 502.4 247 506.2 247.2 510.5 247.3 517.9 247.5 517.8 247.7 515.4 248 514.9 248.2 513 248.5 511.6 248.7 511.7 248.9 513 249.1 512.8 249.3 512.7 249.6 515.1 249.9 516.9 250.2 520.2 250.5 517.8 250.8 517.8 251 514.2 251.3 513.2 251.5 512.9 251.8 517.9 252 522.1 252.3 522.9 252.6 524 252.8 523.3 253.1 522.1 253.3 518.3 253.6 521.4 253.9 523 254.3 525 254.7 525.8 255 524.5 255.3 526.7 255.5 525.3 255.8 528.1 256 529 256.3 529.1 256.5 526.1 256.8 523.8 257 522.8 257.3 520.9 257.6 518.5 257.8 514.7 258.1 515.9 258.3 516.2 258.6 513.7 258.8 518.7 259.1 521 259.3 524.3 259.6 523.6 259.9 523.5 260.1 522.9 260.4 520.5 260.6 517.7 260.9 516.7 261.1 515.5 261.4 514.3 261.6 517.4 261.9 517.9 262.1 521.9 262.4 524 262.7 520.9 262.9 519.2 263.2 516.1 263.4 511 263.7 510.5 263.9 509 264.2 508.1 264.5 507.5 264.8 507.4 265.1 514.7 265.4 514.9" fill="none" stroke="#2677c2" stroke-width="0.88" stroke-linejoin="round"/>
</g>
<rect x="27.3" y="403.3" width="238.2" height="159" fill="none" stroke="#737373" stroke-width="0.85"/>
<line x1="24.9" y1="562.3" x2="27.3" y2="562.3" stroke="#737373" stroke-width="0.6"/>
<text x="24" y="564.2" text-anchor="end" class="tk">7800</text>
<line x1="26" y1="550.94" x2="27.3" y2="550.94" stroke="#737373" stroke-width="0.6"/>
<line x1="24.9" y1="539.59" x2="27.3" y2="539.59" stroke="#737373" stroke-width="0.6"/>
<text x="24" y="541.49" text-anchor="end" class="tk">8000</text>
<line x1="26" y1="528.23" x2="27.3" y2="528.23" stroke="#737373" stroke-width="0.6"/>
<line x1="24.9" y1="516.87" x2="27.3" y2="516.87" stroke="#737373" stroke-width="0.6"/>
<text x="24" y="518.77" text-anchor="end" class="tk">8200</text>
<line x1="26" y1="505.51" x2="27.3" y2="505.51" stroke="#737373" stroke-width="0.6"/>
<line x1="24.9" y1="494.16" x2="27.3" y2="494.16" stroke="#737373" stroke-width="0.6"/>
<text x="24" y="496.06" text-anchor="end" class="tk">8400</text>
<line x1="26" y1="482.8" x2="27.3" y2="482.8" stroke="#737373" stroke-width="0.6"/>
<line x1="24.9" y1="471.44" x2="27.3" y2="471.44" stroke="#737373" stroke-width="0.6"/>
<text x="24" y="473.34" text-anchor="end" class="tk">8600</text>
<line x1="26" y1="460.09" x2="27.3" y2="460.09" stroke="#737373" stroke-width="0.6"/>
<line x1="24.9" y1="448.73" x2="27.3" y2="448.73" stroke="#737373" stroke-width="0.6"/>
<text x="24" y="450.63" text-anchor="end" class="tk">8800</text>
<line x1="26" y1="437.37" x2="27.3" y2="437.37" stroke="#737373" stroke-width="0.6"/>
<line x1="24.9" y1="426.01" x2="27.3" y2="426.01" stroke="#737373" stroke-width="0.6"/>
<text x="24" y="427.91" text-anchor="end" class="tk">9000</text>
<line x1="26" y1="414.66" x2="27.3" y2="414.66" stroke="#737373" stroke-width="0.6"/>
<line x1="24.9" y1="403.3" x2="27.3" y2="403.3" stroke="#737373" stroke-width="0.6"/>
<text x="24" y="405.2" text-anchor="end" class="tk">9200</text>
<line x1="27.3" y1="562.3" x2="27.3" y2="564.5" stroke="#737373" stroke-width="0.6"/>
<text x="27.3" y="569.8" text-anchor="middle" class="tk">0</text>
<line x1="51.12" y1="562.3" x2="51.12" y2="563.5" stroke="#737373" stroke-width="0.6"/>
<line x1="74.94" y1="562.3" x2="74.94" y2="564.5" stroke="#737373" stroke-width="0.6"/>
<text x="74.94" y="569.8" text-anchor="middle" class="tk">200</text>
<line x1="98.76" y1="562.3" x2="98.76" y2="563.5" stroke="#737373" stroke-width="0.6"/>
<line x1="122.58" y1="562.3" x2="122.58" y2="564.5" stroke="#737373" stroke-width="0.6"/>
<text x="122.58" y="569.8" text-anchor="middle" class="tk">400</text>
<line x1="146.4" y1="562.3" x2="146.4" y2="563.5" stroke="#737373" stroke-width="0.6"/>
<line x1="170.22" y1="562.3" x2="170.22" y2="564.5" stroke="#737373" stroke-width="0.6"/>
<text x="170.22" y="569.8" text-anchor="middle" class="tk">600</text>
<line x1="194.04" y1="562.3" x2="194.04" y2="563.5" stroke="#737373" stroke-width="0.6"/>
<line x1="217.86" y1="562.3" x2="217.86" y2="564.5" stroke="#737373" stroke-width="0.6"/>
<text x="217.86" y="569.8" text-anchor="middle" class="tk">800</text>
<line x1="241.68" y1="562.3" x2="241.68" y2="563.5" stroke="#737373" stroke-width="0.6"/>
<line x1="265.5" y1="562.3" x2="265.5" y2="564.5" stroke="#737373" stroke-width="0.6"/>
<text x="265.5" y="569.8" text-anchor="middle" class="tk">1000</text>
<text x="146.4" y="579.6" text-anchor="middle" class="lb">Sample Number</text>
<text x="146.4" y="588.1" text-anchor="middle" class="lb">(e) Training set with Variational Autoencoder</text>
<text x="11.9" y="482.8" text-anchor="middle" class="lb" transform="rotate(-90 11.9 482.8)">Value</text>
<rect x="199.5" y="403.3" width="66" height="17.3" fill="#fff" stroke="#8a8a8a" stroke-width="0.6"/>
<line x1="200" y1="407.5" x2="215.5" y2="407.5" stroke="#f28c18" stroke-width="1" opacity="0.75"/>
<line x1="200" y1="416.5" x2="215.5" y2="416.5" stroke="#2677c2" stroke-width="1" opacity="0.75"/>
<text x="217.4" y="410.2" class="lg">True value</text>
<text x="217.4" y="419.2" class="lg">Predicted value</text>
<path d="M27.3 403.3H265.5V562.3" fill="none" stroke="#737373" stroke-width="0.85"/>
<clipPath id="cf"><rect x="301.4" y="403.3" width="238.4" height="158.8"/></clipPath><g clip-path="url(#cf)">
<path d="M301.4 519.3 301.7 522.4 301.9 529.6 302.2 531.5 302.4 531.6 302.7 528.3 302.9 525.8 303.2 508.4 303.4 507.1 303.7 513.8 304 520.2 304.2 534.2 304.5 543.8 304.7 540.6 305 529.5 305.2 524.4 305.5 515.3 305.7 505.6 306 511.8 306.3 505.5 306.5 507.1 306.8 513.1 307 508.6 307.3 507.8 307.5 503 307.8 500.7 308 501.4 308.3 499.5 308.5 494.9 308.8 494 309.1 493.9 309.3 495.9 309.6 496.9 309.8 497 310.1 499.6 310.3 503.4 310.6 507.1 310.8 499.6 311.1 501 311.4 487 311.6 488.7 311.9 497.6 312.1 497.5 312.4 503.4 312.6 511.2 312.9 506.8 313.1 512.6 313.4 513.3 313.6 515.3 313.9 514 314.2 509.1 314.4 509.5 314.7 507.1 314.9 512.3 315.2 504.6 315.4 498.7 315.7 498.9 315.9 502.2 316.2 497.4 316.5 499.8 316.7 496.9 317 500.3 317.2 497.4 317.5 492.3 317.7 501 318 496 318.2 496 318.5 488.8 318.8 486.7 319 487.9 319.3 489.6 319.5 483 319.8 484.7 320 494.1 320.3 500.3 320.5 502.7 320.8 503 321 506.1 321.3 504.3 321.6 507.4 321.8 496.9 322.1 495.1 322.3 491.8 322.6 491.6 322.8 486.7 323.1 488.2 323.3 490.7 323.6 498.5 323.9 507.1 324.1 512.7 324.4 517.1 324.6 513.2 324.9 523.4 325.1 519 325.4 528.3 325.6 531.9 325.9 535.7 326.1 537 326.4 541.4 326.7 545.1 326.9 541.8 327.2 539.1 327.4 537.1 327.7 526.7 327.9 527.5 328.2 523.8 328.4 530.5 328.7 533.2 329 531.6 329.2 531.4 329.5 527.8 329.7 525.5 330 519.3 330.2 518.5 330.5 504.2 330.7 504.2 331 503 331.2 510.9 331.5 517.6 331.8 515.4 332 527.5 332.3 536.2 332.5 533.9 332.8 538.8 333 543.8 333.3 542.9 333.5 542.7 333.8 532 334.1 535.7 334.3 542.7 334.6 542.1 334.8 541.8 335.1 547.9 335.3 544.8 335.6 535.1 335.8 539.2 336.1 539.7 336.3 537.4 336.6 530.8 336.9 529.3 337.1 527.5 337.4 531 337.6 535.9 337.9 543.8 338.1 543.8 338.4 540.7 338.6 536.7 338.9 536.8 339.2 531.6 339.4 536.8 339.7 524.1 339.9 524.4 340.2 519.3 340.4 512.1 340.7 522.6 340.9 518.9 341.2 515.3 341.4 518.5 341.7 510.9 342 505 342.2 507.1 342.5 508.6 342.7 506 343 497.5 343.2 498.9 343.5 494.1 343.7 502.8 344 501.3 344.3 503 344.5 511.3 344.8 496.5 345 494.8 345.3 494.9 345.5 494.9 345.8 489.3 346 492.9 346.3 496.9 346.5 505 346.8 499.4 347.1 499.1 347.3 503 347.6 503.1 347.8 515.5 348.1 520.9 348.3 523.4 348.6 525.5 348.8 523.9 349.1 527.7 349.4 527.5 349.6 526 349.9 518.7 350.1 520.8 350.4 515.3 350.6 504.8 350.9 506.1 351.1 507.9 351.4 507.1 351.7 503.1 351.9 495.3 352.2 497.7 352.4 492.8 352.7 495.5 352.9 491.5 353.2 489.1 353.4 486.7 353.7 487.7 353.9 483.7 354.2 475.3 354.5 477.5 354.7 480 355 489.3 355.2 482.9 355.5 490.8 355.7 493.1 356 493.3 356.2 493.3 356.5 498.9 356.8 497 357 503.4 357.3 506.3 357.5 507.1 357.8 510.4 358 505.4 358.3 512.1 358.5 515.3 358.8 519.7 359 525.1 359.3 527.1 359.6 527.5 359.8 533.9 360.1 538 360.3 540 360.6 539.7 360.7 537.5 360.8 542 360.9 540 361 543.8 361.3 529.3 361.5 526.9 361.8 536.8 362 523.4 362.3 514.9 362.6 506.4 362.8 508.9 363.1 507.1 363.3 509.6 363.6 499.8 363.8 498 364.1 492.8 364.3 485.6 364.5 480.2 364.7 479.5 364.9 468.3 365.1 480.2 365.3 485.3 365.5 497.9 365.7 503 366 513.4 366.2 514.4 366.5 522.4 366.7 527.5 367 527.5 367.2 522.8 367.5 529 367.8 523.4 368 526.8 368.3 529.1 368.5 529 368.8 539.7 369 536.8 369.3 549.9 369.5 541.3 369.8 547.9 370 551.6 370.3 550.5 370.6 556.1 370.8 556.1 371.1 552.8 371.3 541.8 371.6 538.1 371.8 533.6 372.1 535.5 372.3 537.1 372.6 538.1 372.9 539.7 373.1 535.4 373.4 536.1 373.6 535.8 373.9 527.5 374.1 530.7 374.4 526.6 374.6 532.1 374.9 531.6 375.1 527.7 375.4 525.3 375.7 526.7 375.9 515.3 376.2 510.3 376.4 507.1 376.7 499.5 376.9 498.9 377.2 495.7 377.4 492.6 377.7 499.2 378 490.8 378.2 489.9 378.5 484.4 378.7 492.3 379 482.6 379.2 472.2 379.5 475.8 379.7 471.3 380 462.2 380.1 463.5 380.3 459.1 380.5 458.6 380.6 458.1 380.9 460.8 381.1 469.4 381.4 461.1 381.6 474.5 381.9 474.5 382.1 479.1 382.4 478.3 382.6 482.6 382.9 471.8 383.2 474.5 383.4 468.9 383.7 468.3 383.9 476.1 384.2 483.1 384.4 482.4 384.7 486.7 384.9 477 385.2 481.8 385.5 476.9 385.7 478.5 386 480.2 386.2 483.2 386.5 476.7 386.7 474.5 387 482 387.2 479.4 387.5 475.7 387.7 472.4 388 472.6 388.3 480.4 388.5 477.8 388.8 486.7 389 498.4 389.3 501.9 389.5 514.1 389.8 515.3 390 520 390.3 514.2 390.6 527.6 390.8 527.5 391.1 530.7 391.3 532.6 391.6 521.2 391.8 523.4 392.1 523.4 392.3 530.4 392.6 529 392.8 535.7 393.1 533.8 393.4 538 393.6 555.7 393.9 547.9 394.1 541.8 394.4 536.2 394.6 534.3 394.9 531.6 395.1 530 395.4 533 395.7 529.6 395.9 523.4 396.2 530 396.4 530.1 396.7 533.6 396.9 535.7 397.2 528.4 397.4 519.9 397.7 528.9 397.9 515.3 398.2 511.8 398.5 515.6 398.7 508.3 399 507.1 399.2 505.6 399.5 503.8 399.7 497.4 400 501 400.2 504.6 400.5 510 400.8 515.3 401 515.3 401.3 520.6 401.5 525.8 401.8 526 402 527.5 402.3 526.8 402.5 518 402.8 522.7 403.1 523.4 403.3 533 403.6 530.4 403.8 536.1 404.1 535.7 404.3 533.1 404.6 529.2 404.8 538 405.1 527.5 405.3 527.2 405.6 529.7 405.9 523.8 406.1 519.3 406.4 515.4 406.6 504.6 406.9 510.8 407.1 507.1 407.4 499.2 407.6 494.5 407.9 506.2 408.2 498.9 408.4 498 408.7 493.6 408.9 487.2 409.2 482.6 409.4 479.7 409.7 478.5 409.9 474.4 410.2 470.4 410.4 468.9 410.7 469.5 411 454.8 411.2 462.2 411.5 464.5 411.7 456.9 412 461.3 412.2 456.1 412.5 466.7 412.7 464.2 413 476.3 413.3 478.5 413.5 489 413.8 490.2 414 498 414.3 507.1 414.5 505.6 414.8 494.3 415 499.3 415.3 498.9 415.5 496.7 415.8 491.1 416.1 483.5 416.3 486.7 416.6 487.2 416.8 496.8 417.1 498.1 417.3 494.9 417.6 493.4 417.8 489.6 418.1 491.8 418.4 490.8 418.5 492.9 418.7 492.2 418.8 495.6 419 498.9 419.1 501.4 419.2 502.7 419.3 489.3 419.4 498.9 419.5 500.8 419.7 495.4 419.9 497.4 420 490.8 420.3 494.8 420.5 500.7 420.8 509.5 421 507.1 421.3 492.3 421.6 507.3 421.8 498.7 422.1 494.9 422.3 485.6 422.6 480.2 422.8 490 423.1 486.7 423.3 479.1 423.5 483.6 423.7 476.8 423.9 472.4 424.2 475.5 424.4 483.5 424.7 483.9 424.9 486.7 425.2 492.7 425.4 496.1 425.7 497.2 425.9 498.9 426.2 500 426.4 498 426.7 487.4 427 490.8 427.2 493.8 427.5 498.5 427.7 501.5 428 507.1 428.2 502.8 428.5 508.9 428.7 514.6 429 515.3 429.3 519.1 429.5 527.4 429.8 522 430 527.5 430.2 531.9 430.3 537.5 430.5 544.6 430.6 552 430.9 543.5 431.1 532.3 431.4 535 431.6 527.5 431.9 528.4 432.2 525.8 432.4 514 432.7 515.3 432.9 510.4 433.2 514.4 433.4 502.6 433.7 498.9 433.9 497.3 434.2 492.2 434.5 493.8 434.7 486.7 434.9 487.5 435.1 489.8 435.3 479.5 435.5 474.5 435.8 482.4 436 481.9 436.3 491.2 436.5 498.9 436.8 500.2 437.1 505.8 437.3 506 437.6 515.3 437.8 518 438.1 507 438.3 510.2 438.6 507.1 438.8 500.1 439.1 504.4 439.4 507.6 439.6 498.9 439.9 499.8 440.1 508.5 440.4 510.9 440.6 515.3 440.9 518.4 441.1 521 441.4 518.9 441.6 523.4 441.9 519.6 442.2 515 442.4 511 442.7 511.2 442.9 504.3 443.2 510.9 443.4 502.1 443.7 503 443.9 502.6 444.2 499.1 444.5 489.9 444.7 490.8 445 499 445.2 495.5 445.5 505.5 445.7 507.1 446 510.8 446.2 500.2 446.5 497.3 446.7 498.9 447 493.2 447.3 504 447.5 491.3 447.8 490.8 448 484.7 448.3 492 448.5 487 448.8 486.7 449 484.5 449.3 478.6 449.6 471.7 449.8 478.5 450.1 471.5 450.3 466.2 450.6 459.8 450.8 462.2 451.1 456.8 451.3 456.4 451.6 462.3 451.8 458.1 452.1 459.9 452.4 458.1 452.6 452.9 452.9 454 453.1 448 453.4 453.1 453.6 452.8 453.9 450 454.1 458.5 454.4 459 454.7 463.2 454.9 468.3 455.2 471 455.4 467.7 455.7 469.7 455.9 474.5 456.2 473.4 456.4 462.3 456.7 463.4 456.9 460.2 457.2 465.8 457.5 466.2 457.7 469.5 458 470.4 458.2 464.9 458.5 467.8 458.7 466.2 459 466.3 459.2 465.6 459.5 461.8 459.8 457.2 460 454 460.3 463.6 460.5 460.3 460.8 459.1 461 462.2 461.3 457.8 461.5 458 461.8 453.9 462.1 454 462.3 459.3 462.6 453.8 462.8 449.1 463.1 448.9 463.3 449.7 463.6 451.4 463.8 457.9 464.1 462.2 464.3 470.6 464.6 471.8 464.9 471.3 465.1 474.5 465.4 478.2 465.6 473.3 465.9 486.8 466.1 486.7 466.4 489 466.6 498.4 466.9 495.3 467.2 498.9 467.4 501.2 467.7 508.1 467.9 508.8 468.2 515.3 468.4 523.8 468.7 522.7 468.9 526 469.2 527.5 469.4 525.9 469.7 520.1 470 520.4 470.2 515.3 470.5 512 470.7 514.2 471 503.4 471.2 498.9 471.5 496.5 471.7 489.2 472 485.4 472.3 482.6 472.5 478.6 472.7 481.9 472.9 474 473.1 470.4 473.3 478.6 473.6 477.8 473.8 481.5 474.1 486.7 474.3 484.5 474.6 500.5 474.9 510.5 475.1 507.1 475.4 509.6 475.6 519.3 475.9 520 476.1 519.3 476.4 513.9 476.6 516.6 476.9 507 477.1 507.1 477.4 506.3 477.6 512.3 477.8 508.1 478 507.1 478.3 507.9 478.5 523.3 478.8 518.4 479 527.5 479.3 519.1 479.5 510.2 479.8 502.8 480 494.9 480.3 497 480.6 499 480.8 517.9 481.1 515.3 481.3 517 481.6 522.3 481.8 521.3 482.1 535.7 482.3 527.2 482.6 522.8 482.8 514.1 483.1 498.9 483.4 507.2 483.6 499.2 483.9 491.8 484.1 486.7 484.4 491.3 484.6 501 484.9 499.2 485.1 503 485.4 507.3 485.7 505.8 485.9 513 486.2 515.3 486.4 519.4 486.7 507.2 486.9 505 487.2 498.9 487.4 487.8 487.7 500.6 487.9 494.7 488.2 490.8 488.5 499.8 488.7 498.2 489 497 489.2 503 489.5 496.4 489.7 502.3 490 498.6 490.2 496.9 490.5 495.9 490.8 502 491 502.3 491.3 507.1 491.5 505.1 491.8 495.5 492 487.1 492.3 486.7 492.5 488.5 492.8 488.7 493 498.8 493.3 494.9 493.6 490 493.8 483.5 494.1 485.5 494.3 482.6 494.6 483.6 494.8 487.7 495.1 489.5 495.3 490.8 495.6 488.6 495.9 494.5 496.1 496.4 496.4 498.9 496.6 495.1 496.9 498.6 497.1 502.6 497.4 503 497.6 493.5 497.9 492.4 498.1 491.8 498.4 490.8 498.7 487.1 498.9 486.4 499.2 475.9 499.4 478.5 499.7 478.4 499.9 478.7 500.2 481.3 500.4 474.5 500.7 475.5 501 476.6 501.2 477.2 501.5 486.7 501.7 484.5 502 483.3 502.2 471.4 502.5 470.4 502.7 468.2 503 466.4 503.2 463.2 503.5 456.1 503.8 459.9 504 469.7 504.3 472.6 504.5 478.5 504.8 476.7 505 483.6 505.3 486 505.5 486.7 505.8 484.9 506.1 492.5 506.3 500.8 506.6 494.9 506.8 484.9 507.1 489.5 507.3 486.3 507.6 478.5 507.8 480.8 508.1 484 508.3 483.7 508.6 486.7 508.9 495.2 509.1 489.1 509.4 495.4 509.6 498.9 509.9 484.1 510.1 485.9 510.4 479 510.6 470.4 510.9 467.8 511.2 475 511.4 484.4 511.7 486.7 511.9 488.7 512.2 489.9 512.4 488.9 512.7 503 512.9 501.2 513.2 504.4 513.5 491.8 513.7 490.8 514 489.2 514.2 486.1 514.5 481.1 514.7 478.5 515 482.8 515.2 486.9 515.5 487.1 515.7 494.9 516 502.5 516.3 501.4 516.5 489.8 516.8 486.7 517 490.5 517.3 477.1 517.5 476.4 517.8 474.5 518 476.7 518.3 465.6 518.6 463 518.8 466.3 519.1 471.5 519.3 466.4 519.6 485.2 519.8 482.6 520.1 488.5 520.3 489.6 520.6 494.3 520.8 494.9 521.1 488.1 521.4 484.9 521.6 488.9 521.9 482.6 522.1 483.7 522.4 478 522.6 474.7 522.9 472.4 523.1 473.8 523.4 485.1 523.7 477.2 523.9 486.7 524.2 481.2 524.4 480.5 524.7 474.5 524.9 478.5 525.2 470.7 525.4 469.3 525.7 474.9 525.9 468.3 526.2 472.9 526.5 464.6 526.7 454.2 527 458.1 527.2 460.8 527.5 467.8 527.7 472.4 528 478.5 528.2 479.1 528.5 484.7 528.8 476.9 529 486.7 529.3 488.5 529.5 495.7 529.8 501.8 530 503 530.2 508.3 530.3 511.3 530.5 514.7 530.6 519.3 530.8 507.6 531 501.4 531.3 491.1 531.5 482.6 531.7 472.2 532 472.2 532.2 464.5 532.5 452 532.7 456.3 533 465.8 533.2 473.7 533.5 474.5 533.8 478.7 534 481.2 534.3 485.8 534.5 486.7 534.8 482.3 535 485.3 535.3 495.1 535.5 494.9 535.8 493.1 536 494.3 536.3 483.9 536.6 482.6 536.8 488.2 537.1 489 537.3 493.7 537.6 486.7 537.8 485.7 538.1 489.6 538.3 494.1 538.6 494.9 538.8 495.1 539 489.1 539.2 489.7 539.4 490.8" fill="none" stroke="#f28c18" stroke-width="0.88" stroke-linejoin="round"/>
<path d="M301.4 517.5 301.7 516.8 301.9 517.8 302.2 517.6 302.4 516.8 302.7 516.8 302.9 514.3 303.2 506.4 303.4 505.1 303.7 506.8 304 506.4 304.2 514.4 304.5 514.4 304.7 516.1 305 509.7 305.2 506.8 305.5 505.7 305.7 501.6 306 505.7 306.3 503.2 306.5 505.4 306.8 508 307 504.1 307.3 504.3 307.5 503.4 307.8 502.1 308 500.9 308.3 504.4 308.5 498.6 308.8 498.3 309.1 498.7 309.3 501.6 309.6 503.8 309.8 502.8 310.1 504.4 310.3 507.8 310.6 510 310.8 508.5 311.1 508.8 311.4 506.5 311.6 509.4 311.9 512.8 312.1 516.9 312.4 521.6 312.6 526.4 312.9 524.7 313.1 528.6 313.4 529.7 313.6 531.8 313.9 529.9 314.2 528.1 314.4 530.7 314.7 528.5 314.9 531.1 315.2 529.5 315.4 526.2 315.7 524.8 315.9 521.8 316.2 517.1 316.5 517.1 316.7 513.8 317 510.5 317.2 507.7 317.5 505.5 317.7 509.1 318 507.1 318.2 506.9 318.5 503.8 318.8 502.8 319 505.3 319.3 503.2 319.5 502.2 319.8 499.5 320 506.1 320.3 503 320.5 506.5 320.8 503.9 321 505.8 321.3 505.6 321.6 507 321.8 506.6 322.1 504.8 322.3 503.2 322.6 505.6 322.8 504 323.1 502.5 323.3 504.5 323.6 507.3 323.9 511.8 324.1 514.1 324.4 515.2 324.6 513.1 324.9 518.5 325.1 516.5 325.4 518.9 325.6 521.7 325.9 523.7 326.1 525.5 326.4 530.6 326.7 530.3 326.9 529.9 327.2 530.5 327.4 528.9 327.7 525 327.9 526.8 328.2 524.7 328.4 527.9 328.7 530 329 529.4 329.2 528.7 329.5 527.6 329.7 528.9 330 529.2 330.2 528.2 330.5 524.5 330.7 523.7 331 521.4 331.2 520.6 331.5 524.3 331.8 520.4 332 521.2 332.3 523.9 332.5 520 332.8 520.7 333 519.8 333.3 518.5 333.5 516.5 333.8 513.6 334.1 514.8 334.3 517.1 334.6 519.8 334.8 520.7 335.1 523.5 335.3 522.1 335.6 522.1 335.8 522.6 336.1 525 336.3 522 336.6 519.7 336.9 518 337.1 516.6 337.4 519.6 337.6 517.9 337.9 522.6 338.1 520.4 338.4 516.8 338.6 516.7 338.9 516.2 339.2 514.6 339.4 515.3 339.7 512.1 339.9 511.4 340.2 509.9 340.4 506.9 340.7 511.8 340.9 511.9 341.2 509.4 341.4 508.4 341.7 507.9 342 505.1 342.2 506.5 342.5 505.8 342.7 507.3 343 503.1 343.2 504.8 343.5 501.9 343.7 505.9 344 504.3 344.3 503.4 344.5 509.2 344.8 502.6 345 502.5 345.3 504 345.5 505.2 345.8 504.1 346 507.5 346.3 511.4 346.5 517.4 346.8 514.7 347.1 515.7 347.3 515 347.6 517.4 347.8 521.5 348.1 525.8 348.3 526.8 348.6 527 348.8 527.3 349.1 529.4 349.4 526.3 349.6 523.8 349.9 523.3 350.1 524.8 350.4 518.2 350.6 515.8 350.9 514.9 351.1 516.1 351.4 515 351.7 514.7 351.9 509.5 352.2 510.5 352.4 508 352.7 510.9 352.9 508.3 353.2 507.6 353.4 507.2 353.7 506.1 353.9 505.4 354.2 500.2 354.5 501.7 354.7 501.7 355 504.2 355.2 500.8 355.5 501.7 355.7 502.6 356 502.7 356.2 503 356.5 505.8 356.8 505.2 357 509.3 357.3 510.9 357.5 510.3 357.8 515.5 358 511.8 358.3 514.4 358.5 516.8 358.8 516.2 359 519.9 359.3 520.9 359.6 520.4 359.8 523.4 360.1 524.4 360.3 524.6 360.6 524.1 360.7 522.7 360.8 523 360.9 523 361 524.7 361.3 517.8 361.5 516.9 361.8 521.7 362 517.4 362.3 514.2 362.6 508.9 362.8 510.1 363.1 510 363.3 512.2 363.6 508 363.8 507.6 364.1 506.9 364.3 505.2 364.5 505.2 364.7 505.9 364.9 501.1 365.1 506.4 365.3 508.1 365.5 511.9 365.7 514.7 366 516.5 366.2 513.1 366.5 517.4 366.7 520.1 367 520.4 367.2 517.3 367.5 518.6 367.8 514.5 368 514.4 368.3 514.3 368.5 511.8 368.8 513.7 369 510.5 369.3 514 369.5 507.3 369.8 508.2 370 509.2 370.3 509.1 370.6 510.7 370.8 517.7 371.1 516.1 371.3 515.7 371.6 514.7 371.8 517.7 372.1 520.8 372.3 523.3 372.6 523.7 372.9 524.9 373.1 524.2 373.4 523.5 373.6 524.1 373.9 520.9 374.1 521.5 374.4 522 374.6 524.5 374.9 524.8 375.1 523.2 375.4 523.2 375.7 522.6 375.9 517.1 376.2 514.2 376.4 510.7 376.7 508.4 376.9 507 377.2 504.3 377.4 502.2 377.7 505.7 378 502.1 378.2 502.8 378.5 500.2 378.7 503.6 379 501.3 379.2 496.6 379.5 499.4 379.7 498.6 380 495.2 380.1 494.6 380.3 494.5 380.5 494.4 380.6 494.9 380.9 491.8 381.1 494.6 381.4 491.7 381.6 491.1 381.9 491.5 382.1 491.4 382.4 489 382.6 496.7 382.9 497.6 383.2 502.6 383.4 508.2 383.7 513 383.9 524.7 384.2 527.2 384.4 519.6 384.7 515.9 384.9 506.9 385.2 499.3 385.5 491.7 385.7 491.2 386 490.9 386.2 490.7 386.5 485.5 386.7 484.9 387 485.6 387.2 483.6 387.5 482.6 387.7 477.9 388 476.8 388.3 476.8 388.5 473.4 388.8 477.9 389 484.8 389.3 488.3 389.5 493.4 389.8 497.8 390 500.6 390.3 500.9 390.6 509.3 390.8 509 391.1 511.4 391.3 512.8 391.6 508.8 391.8 511.7 392.1 512.6 392.3 517.6 392.6 515.5 392.8 517.4 393.1 514.7 393.4 515.6 393.6 523.8 393.9 520.8 394.1 518.5 394.4 517.5 394.6 518.3 394.9 518.7 395.1 520.2 395.4 522.2 395.7 521.3 395.9 519 396.2 519.6 396.4 519.4 396.7 521.5 396.9 521.6 397.2 516 397.4 513.9 397.7 519 397.9 512.9 398.2 512.7 398.5 511.9 398.7 510.9 399 509.5 399.2 512.3 399.5 510.1 399.7 510.5 400 509.9 400.2 511.9 400.5 513.6 400.8 514.8 401 512.3 401.3 515.9 401.5 516.5 401.8 519.1 402 517.5 402.3 517.7 402.5 513.9 402.8 518.1 403.1 518.5 403.3 522 403.6 522 403.8 522.4 404.1 521.6 404.3 522.1 404.6 518.1 404.8 521.9 405.1 516.8 405.3 518.2 405.6 520.7 405.9 518.1 406.1 515.8 406.4 517.2 406.6 513.3 406.9 513.7 407.1 513.3 407.4 510.3 407.6 507.7 407.9 512.3 408.2 510 408.4 508.2 408.7 505.8 408.9 504 409.2 502.6 409.4 499.6 409.7 500.8 409.9 496.3 410.2 497.6 410.4 495.5 410.7 494.1 411 487.9 411.2 491 411.5 491.8 411.7 487.2 412 486.8 412.2 483.5 412.5 488 412.7 485.7 413 490.5 413.3 489.9 413.5 493.4 413.8 494.4 414 496.3 414.3 497.5 414.5 498.4 414.8 492.4 415 494.8 415.3 493.7 415.5 493.8 415.8 491.6 416.1 489.7 416.3 488.3 416.6 490.4 416.8 493.3 417.1 494.2 417.3 492.8 417.6 492.9 417.8 495.6 418.1 497.2 418.4 499.5 418.5 501.5 418.7 499.7 418.8 503.5 419 506.1 419.1 507 419.2 507 419.3 501.2 419.4 504 419.5 505.8 419.7 501.7 419.9 501.5 420 497 420.3 497.3 420.5 499.4 420.8 502 421 500.2 421.3 495.2 421.6 499.1 421.8 495.2 422.1 492.1 422.3 492.4 422.6 492.7 422.8 500.1 423.1 501.1 423.3 500.9 423.5 502.9 423.7 503.5 423.9 503.2 424.2 503.6 424.4 505.7 424.7 506 424.9 506.9 425.2 507.1 425.4 508.5 425.7 509.3 425.9 509.9 426.2 510.1 426.4 506.6 426.7 501.6 427 504.9 427.2 505 427.5 507.8 427.7 509.4 428 512.2 428.2 511.7 428.5 512.1 428.7 514.7 429 517.5 429.3 518.9 429.5 519.8 429.8 517.3 430 521.3 430.2 523 430.3 525.7 430.5 526.3 430.6 528.3 430.9 523 431.1 518.1 431.4 518.7 431.6 517.5 431.9 517.9 432.2 517.9 432.4 512.7 432.7 512.6 432.9 511.9 433.2 515.1 433.4 510.1 433.7 506.8 433.9 509 434.2 505.5 434.5 508.5 434.7 504.6 434.9 504.5 435.1 507.1 435.3 500.5 435.5 499.9 435.8 500.1 436 499.4 436.3 499.7 436.5 505.1 436.8 506.4 437.1 512.9 437.3 512.8 437.6 519.7 437.8 523.5 438.1 522.9 438.3 527.6 438.6 527.9 438.8 524.8 439.1 524.4 439.4 528.2 439.6 522.3 439.9 522.6 440.1 523.3 440.4 524.1 440.6 522.4 440.9 520.3 441.1 518.5 441.4 514.6 441.6 515.3 441.9 511.9 442.2 508.4 442.4 505.9 442.7 504.4 442.9 499.9 443.2 502 443.4 496.8 443.7 496.7 443.9 494.1 444.2 489.4 444.5 485 444.7 486.7 445 492.9 445.2 494.7 445.5 501.9 445.7 505.3 446 508 446.2 506.9 446.5 509.8 446.7 510.4 447 508.2 447.3 510.4 447.5 506.7 447.8 502.7 448 498.6 448.3 501.7 448.5 498.7 448.8 499.4 449 497.2 449.3 492.8 449.6 491.5 449.8 494.6 450.1 490.1 450.3 487.9 450.6 484.2 450.8 483.7 451.1 479.4 451.3 478.5 451.6 478.4 451.8 475.9 452.1 475.8 452.4 472.6 452.6 468 452.9 477.2 453.1 484.1 453.4 494.9 453.6 505.3 453.9 513.5 454.1 522 454.4 515.7 454.7 508.9 454.9 504.8 455.2 498.7 455.4 490.4 455.7 484.2 455.9 485.1 456.2 483.2 456.4 478.7 456.7 479.6 456.9 478.2 457.2 480.2 457.5 479.3 457.7 480.4 458 479.9 458.2 478.8 458.5 479.9 458.7 479.6 459 482.3 459.2 482.2 459.5 481.5 459.8 480 460 481.4 460.3 484.9 460.5 482.9 460.8 484.4 461 485.5 461.3 483 461.5 483.8 461.8 484.5 462.1 484.3 462.3 488.1 462.6 485.8 462.8 485.4 463.1 485.5 463.3 485.6 463.6 486.2 463.8 489.1 464.1 491 464.3 493.5 464.6 496.9 464.9 494.9 465.1 496.5 465.4 499.2 465.6 498.5 465.9 504.3 466.1 503.6 466.4 506 466.6 511.8 466.9 510.3 467.2 512.5 467.4 512.2 467.7 516.9 467.9 518.3 468.2 517.8 468.4 518.2 468.7 517.8 468.9 518.2 469.2 515.4 469.4 514.9 469.7 513.5 470 513.7 470.2 510.4 470.5 507.3 470.7 511.1 471 508 471.2 508.4 471.5 506.6 471.7 503.7 472 502 472.3 500.4 472.5 499.7 472.7 501.2 472.9 498.1 473.1 497.2 473.3 499 473.6 495 473.8 496 474.1 497.3 474.3 495.6 474.6 502.1 474.9 503.1 475.1 502.7 475.4 503 475.6 506.1 475.9 507.7 476.1 507.8 476.4 506.9 476.6 510.7 476.9 508.1 477.1 509.6 477.4 512.3 477.6 513.7 477.8 513.8 478 511.8 478.3 513.6 478.5 522.3 478.8 522.7 479 529.2 479.3 523 479.5 517.7 479.8 508.9 480 501.9 480.3 501.2 480.6 501.1 480.8 510.6 481.1 507.4 481.3 510 481.6 510.7 481.8 513.2 482.1 520.7 482.3 515.7 482.6 511.3 482.8 509.2 483.1 501.8 483.4 504.1 483.6 498.2 483.9 496.2 484.1 491.5 484.4 493.3 484.6 500 484.9 499.7 485.1 501.8 485.4 503.7 485.7 503.9 485.9 507.4 486.2 508.6 486.4 504 486.7 493.5 486.9 485 487.2 477 487.4 463.8 487.7 470.6 487.9 477.9 488.2 487.4 488.5 498.6 488.7 504.9 489 511.3 489.2 520.8 489.5 525.4 489.7 526.3 490 524.4 490.2 516.6 490.5 516 490.8 515.4 491 512.7 491.3 508.8 491.5 508.5 491.8 506.6 492 501.1 492.3 500.8 492.5 500.4 492.8 500.6 493 504.1 493.3 500.8 493.6 501 493.8 500.2 494.1 498.3 494.3 498.1 494.6 499.3 494.8 501.4 495.1 502.9 495.3 503.7 495.6 501.8 495.9 502.7 496.1 500.9 496.4 501.8 496.6 498.8 496.9 500.4 497.1 502.2 497.4 501.7 497.6 500.6 497.9 500.5 498.1 503.1 498.4 506.5 498.7 505.2 498.9 504.4 499.2 502 499.4 505.9 499.7 505.6 499.9 503.3 500.2 503.9 500.4 497.9 500.7 496.4 501 494.9 501.2 495.8 501.5 497.3 501.7 493.7 502 494.1 502.2 490.8 502.5 489.1 502.7 490.8 503 488 503.2 486.4 503.5 482 503.8 484.9 504 489.6 504.3 492.2 504.5 495.6 504.8 493.7 505 497.4 505.3 496.8 505.5 498.9 505.8 495.8 506.1 495.1 506.3 495 506.6 491.8 506.8 485.9 507.1 485.4 507.3 481.4 507.6 477.5 507.8 482.6 508.1 490.5 508.3 494.3 508.6 502.5 508.9 508.3 509.1 510.1 509.4 514.6 509.6 519.1 509.9 514.5 510.1 519.3 510.4 516 510.6 507.9 510.9 504.5 511.2 504.6 511.4 503.8 511.7 499.2 511.9 502.4 512.2 500.9 512.4 500.3 512.7 505.5 512.9 507.7 513.2 509 513.5 505.2 513.7 506.1 514 507.2 514.2 502.6 514.5 501.1 514.7 500.6 515 500.4 515.2 500.6 515.5 498.7 515.7 501.3 516 501.2 516.3 499.5 516.5 494.2 516.8 491.7 517 493.5 517.3 487.8 517.5 487 517.8 485.3 518 490.7 518.3 485.7 518.6 486.4 518.8 487 519.1 489.6 519.3 489.5 519.6 498 519.8 496.5 520.1 496.5 520.3 496.4 520.6 499.4 520.8 500.8 521.1 496.6 521.4 496.3 521.6 501.2 521.9 497.9 522.1 499.9 522.4 495.2 522.6 494.3 522.9 490.8 523.1 492.1 523.4 494.3 523.7 490.2 523.9 493.4 524.2 493.2 524.4 492.5 524.7 490.6 524.9 493.5 525.2 489.9 525.4 492 525.7 493.4 525.9 494.9 526.2 495.3 526.5 491.1 526.7 483.6 527 486.5 527.2 486.3 527.5 488.5 527.7 487.3 528 490.2 528.2 488.3 528.5 490.5 528.8 486 529 492.5 529.3 490 529.5 493.2 529.8 496.1 530 497.1 530.2 496.3 530.3 496.7 530.5 498.9 530.6 502.2 530.8 499.8 531 498.8 531.3 496.1 531.5 497 531.7 496.3 532 497.9 532.2 496.8 532.5 491.3 532.7 488.2 533 492.9 533.2 494 533.5 492.6 533.8 490.7 534 489.7 534.3 489.9 534.5 488.6 534.8 487.7 535 489.3 535.3 495.6 535.5 496 535.8 496 536 498.8 536.3 496 536.6 495 536.8 497.5 537.1 498.3 537.3 501.2 537.6 498.6 537.8 498.3 538.1 500.8 538.3 502.5 538.6 501.4 538.8 504.5 539 504.2 539.2 501.1 539.4 501.5" fill="none" stroke="#fff" stroke-width="1.0" stroke-linejoin="round"/>
<path d="M301.4 517.5 301.7 516.8 301.9 517.8 302.2 517.6 302.4 516.8 302.7 516.8 302.9 514.3 303.2 506.4 303.4 505.1 303.7 506.8 304 506.4 304.2 514.4 304.5 514.4 304.7 516.1 305 509.7 305.2 506.8 305.5 505.7 305.7 501.6 306 505.7 306.3 503.2 306.5 505.4 306.8 508 307 504.1 307.3 504.3 307.5 503.4 307.8 502.1 308 500.9 308.3 504.4 308.5 498.6 308.8 498.3 309.1 498.7 309.3 501.6 309.6 503.8 309.8 502.8 310.1 504.4 310.3 507.8 310.6 510 310.8 508.5 311.1 508.8 311.4 506.5 311.6 509.4 311.9 512.8 312.1 516.9 312.4 521.6 312.6 526.4 312.9 524.7 313.1 528.6 313.4 529.7 313.6 531.8 313.9 529.9 314.2 528.1 314.4 530.7 314.7 528.5 314.9 531.1 315.2 529.5 315.4 526.2 315.7 524.8 315.9 521.8 316.2 517.1 316.5 517.1 316.7 513.8 317 510.5 317.2 507.7 317.5 505.5 317.7 509.1 318 507.1 318.2 506.9 318.5 503.8 318.8 502.8 319 505.3 319.3 503.2 319.5 502.2 319.8 499.5 320 506.1 320.3 503 320.5 506.5 320.8 503.9 321 505.8 321.3 505.6 321.6 507 321.8 506.6 322.1 504.8 322.3 503.2 322.6 505.6 322.8 504 323.1 502.5 323.3 504.5 323.6 507.3 323.9 511.8 324.1 514.1 324.4 515.2 324.6 513.1 324.9 518.5 325.1 516.5 325.4 518.9 325.6 521.7 325.9 523.7 326.1 525.5 326.4 530.6 326.7 530.3 326.9 529.9 327.2 530.5 327.4 528.9 327.7 525 327.9 526.8 328.2 524.7 328.4 527.9 328.7 530 329 529.4 329.2 528.7 329.5 527.6 329.7 528.9 330 529.2 330.2 528.2 330.5 524.5 330.7 523.7 331 521.4 331.2 520.6 331.5 524.3 331.8 520.4 332 521.2 332.3 523.9 332.5 520 332.8 520.7 333 519.8 333.3 518.5 333.5 516.5 333.8 513.6 334.1 514.8 334.3 517.1 334.6 519.8 334.8 520.7 335.1 523.5 335.3 522.1 335.6 522.1 335.8 522.6 336.1 525 336.3 522 336.6 519.7 336.9 518 337.1 516.6 337.4 519.6 337.6 517.9 337.9 522.6 338.1 520.4 338.4 516.8 338.6 516.7 338.9 516.2 339.2 514.6 339.4 515.3 339.7 512.1 339.9 511.4 340.2 509.9 340.4 506.9 340.7 511.8 340.9 511.9 341.2 509.4 341.4 508.4 341.7 507.9 342 505.1 342.2 506.5 342.5 505.8 342.7 507.3 343 503.1 343.2 504.8 343.5 501.9 343.7 505.9 344 504.3 344.3 503.4 344.5 509.2 344.8 502.6 345 502.5 345.3 504 345.5 505.2 345.8 504.1 346 507.5 346.3 511.4 346.5 517.4 346.8 514.7 347.1 515.7 347.3 515 347.6 517.4 347.8 521.5 348.1 525.8 348.3 526.8 348.6 527 348.8 527.3 349.1 529.4 349.4 526.3 349.6 523.8 349.9 523.3 350.1 524.8 350.4 518.2 350.6 515.8 350.9 514.9 351.1 516.1 351.4 515 351.7 514.7 351.9 509.5 352.2 510.5 352.4 508 352.7 510.9 352.9 508.3 353.2 507.6 353.4 507.2 353.7 506.1 353.9 505.4 354.2 500.2 354.5 501.7 354.7 501.7 355 504.2 355.2 500.8 355.5 501.7 355.7 502.6 356 502.7 356.2 503 356.5 505.8 356.8 505.2 357 509.3 357.3 510.9 357.5 510.3 357.8 515.5 358 511.8 358.3 514.4 358.5 516.8 358.8 516.2 359 519.9 359.3 520.9 359.6 520.4 359.8 523.4 360.1 524.4 360.3 524.6 360.6 524.1 360.7 522.7 360.8 523 360.9 523 361 524.7 361.3 517.8 361.5 516.9 361.8 521.7 362 517.4 362.3 514.2 362.6 508.9 362.8 510.1 363.1 510 363.3 512.2 363.6 508 363.8 507.6 364.1 506.9 364.3 505.2 364.5 505.2 364.7 505.9 364.9 501.1 365.1 506.4 365.3 508.1 365.5 511.9 365.7 514.7 366 516.5 366.2 513.1 366.5 517.4 366.7 520.1 367 520.4 367.2 517.3 367.5 518.6 367.8 514.5 368 514.4 368.3 514.3 368.5 511.8 368.8 513.7 369 510.5 369.3 514 369.5 507.3 369.8 508.2 370 509.2 370.3 509.1 370.6 510.7 370.8 517.7 371.1 516.1 371.3 515.7 371.6 514.7 371.8 517.7 372.1 520.8 372.3 523.3 372.6 523.7 372.9 524.9 373.1 524.2 373.4 523.5 373.6 524.1 373.9 520.9 374.1 521.5 374.4 522 374.6 524.5 374.9 524.8 375.1 523.2 375.4 523.2 375.7 522.6 375.9 517.1 376.2 514.2 376.4 510.7 376.7 508.4 376.9 507 377.2 504.3 377.4 502.2 377.7 505.7 378 502.1 378.2 502.8 378.5 500.2 378.7 503.6 379 501.3 379.2 496.6 379.5 499.4 379.7 498.6 380 495.2 380.1 494.6 380.3 494.5 380.5 494.4 380.6 494.9 380.9 491.8 381.1 494.6 381.4 491.7 381.6 491.1 381.9 491.5 382.1 491.4 382.4 489 382.6 496.7 382.9 497.6 383.2 502.6 383.4 508.2 383.7 513 383.9 524.7 384.2 527.2 384.4 519.6 384.7 515.9 384.9 506.9 385.2 499.3 385.5 491.7 385.7 491.2 386 490.9 386.2 490.7 386.5 485.5 386.7 484.9 387 485.6 387.2 483.6 387.5 482.6 387.7 477.9 388 476.8 388.3 476.8 388.5 473.4 388.8 477.9 389 484.8 389.3 488.3 389.5 493.4 389.8 497.8 390 500.6 390.3 500.9 390.6 509.3 390.8 509 391.1 511.4 391.3 512.8 391.6 508.8 391.8 511.7 392.1 512.6 392.3 517.6 392.6 515.5 392.8 517.4 393.1 514.7 393.4 515.6 393.6 523.8 393.9 520.8 394.1 518.5 394.4 517.5 394.6 518.3 394.9 518.7 395.1 520.2 395.4 522.2 395.7 521.3 395.9 519 396.2 519.6 396.4 519.4 396.7 521.5 396.9 521.6 397.2 516 397.4 513.9 397.7 519 397.9 512.9 398.2 512.7 398.5 511.9 398.7 510.9 399 509.5 399.2 512.3 399.5 510.1 399.7 510.5 400 509.9 400.2 511.9 400.5 513.6 400.8 514.8 401 512.3 401.3 515.9 401.5 516.5 401.8 519.1 402 517.5 402.3 517.7 402.5 513.9 402.8 518.1 403.1 518.5 403.3 522 403.6 522 403.8 522.4 404.1 521.6 404.3 522.1 404.6 518.1 404.8 521.9 405.1 516.8 405.3 518.2 405.6 520.7 405.9 518.1 406.1 515.8 406.4 517.2 406.6 513.3 406.9 513.7 407.1 513.3 407.4 510.3 407.6 507.7 407.9 512.3 408.2 510 408.4 508.2 408.7 505.8 408.9 504 409.2 502.6 409.4 499.6 409.7 500.8 409.9 496.3 410.2 497.6 410.4 495.5 410.7 494.1 411 487.9 411.2 491 411.5 491.8 411.7 487.2 412 486.8 412.2 483.5 412.5 488 412.7 485.7 413 490.5 413.3 489.9 413.5 493.4 413.8 494.4 414 496.3 414.3 497.5 414.5 498.4 414.8 492.4 415 494.8 415.3 493.7 415.5 493.8 415.8 491.6 416.1 489.7 416.3 488.3 416.6 490.4 416.8 493.3 417.1 494.2 417.3 492.8 417.6 492.9 417.8 495.6 418.1 497.2 418.4 499.5 418.5 501.5 418.7 499.7 418.8 503.5 419 506.1 419.1 507 419.2 507 419.3 501.2 419.4 504 419.5 505.8 419.7 501.7 419.9 501.5 420 497 420.3 497.3 420.5 499.4 420.8 502 421 500.2 421.3 495.2 421.6 499.1 421.8 495.2 422.1 492.1 422.3 492.4 422.6 492.7 422.8 500.1 423.1 501.1 423.3 500.9 423.5 502.9 423.7 503.5 423.9 503.2 424.2 503.6 424.4 505.7 424.7 506 424.9 506.9 425.2 507.1 425.4 508.5 425.7 509.3 425.9 509.9 426.2 510.1 426.4 506.6 426.7 501.6 427 504.9 427.2 505 427.5 507.8 427.7 509.4 428 512.2 428.2 511.7 428.5 512.1 428.7 514.7 429 517.5 429.3 518.9 429.5 519.8 429.8 517.3 430 521.3 430.2 523 430.3 525.7 430.5 526.3 430.6 528.3 430.9 523 431.1 518.1 431.4 518.7 431.6 517.5 431.9 517.9 432.2 517.9 432.4 512.7 432.7 512.6 432.9 511.9 433.2 515.1 433.4 510.1 433.7 506.8 433.9 509 434.2 505.5 434.5 508.5 434.7 504.6 434.9 504.5 435.1 507.1 435.3 500.5 435.5 499.9 435.8 500.1 436 499.4 436.3 499.7 436.5 505.1 436.8 506.4 437.1 512.9 437.3 512.8 437.6 519.7 437.8 523.5 438.1 522.9 438.3 527.6 438.6 527.9 438.8 524.8 439.1 524.4 439.4 528.2 439.6 522.3 439.9 522.6 440.1 523.3 440.4 524.1 440.6 522.4 440.9 520.3 441.1 518.5 441.4 514.6 441.6 515.3 441.9 511.9 442.2 508.4 442.4 505.9 442.7 504.4 442.9 499.9 443.2 502 443.4 496.8 443.7 496.7 443.9 494.1 444.2 489.4 444.5 485 444.7 486.7 445 492.9 445.2 494.7 445.5 501.9 445.7 505.3 446 508 446.2 506.9 446.5 509.8 446.7 510.4 447 508.2 447.3 510.4 447.5 506.7 447.8 502.7 448 498.6 448.3 501.7 448.5 498.7 448.8 499.4 449 497.2 449.3 492.8 449.6 491.5 449.8 494.6 450.1 490.1 450.3 487.9 450.6 484.2 450.8 483.7 451.1 479.4 451.3 478.5 451.6 478.4 451.8 475.9 452.1 475.8 452.4 472.6 452.6 468 452.9 477.2 453.1 484.1 453.4 494.9 453.6 505.3 453.9 513.5 454.1 522 454.4 515.7 454.7 508.9 454.9 504.8 455.2 498.7 455.4 490.4 455.7 484.2 455.9 485.1 456.2 483.2 456.4 478.7 456.7 479.6 456.9 478.2 457.2 480.2 457.5 479.3 457.7 480.4 458 479.9 458.2 478.8 458.5 479.9 458.7 479.6 459 482.3 459.2 482.2 459.5 481.5 459.8 480 460 481.4 460.3 484.9 460.5 482.9 460.8 484.4 461 485.5 461.3 483 461.5 483.8 461.8 484.5 462.1 484.3 462.3 488.1 462.6 485.8 462.8 485.4 463.1 485.5 463.3 485.6 463.6 486.2 463.8 489.1 464.1 491 464.3 493.5 464.6 496.9 464.9 494.9 465.1 496.5 465.4 499.2 465.6 498.5 465.9 504.3 466.1 503.6 466.4 506 466.6 511.8 466.9 510.3 467.2 512.5 467.4 512.2 467.7 516.9 467.9 518.3 468.2 517.8 468.4 518.2 468.7 517.8 468.9 518.2 469.2 515.4 469.4 514.9 469.7 513.5 470 513.7 470.2 510.4 470.5 507.3 470.7 511.1 471 508 471.2 508.4 471.5 506.6 471.7 503.7 472 502 472.3 500.4 472.5 499.7 472.7 501.2 472.9 498.1 473.1 497.2 473.3 499 473.6 495 473.8 496 474.1 497.3 474.3 495.6 474.6 502.1 474.9 503.1 475.1 502.7 475.4 503 475.6 506.1 475.9 507.7 476.1 507.8 476.4 506.9 476.6 510.7 476.9 508.1 477.1 509.6 477.4 512.3 477.6 513.7 477.8 513.8 478 511.8 478.3 513.6 478.5 522.3 478.8 522.7 479 529.2 479.3 523 479.5 517.7 479.8 508.9 480 501.9 480.3 501.2 480.6 501.1 480.8 510.6 481.1 507.4 481.3 510 481.6 510.7 481.8 513.2 482.1 520.7 482.3 515.7 482.6 511.3 482.8 509.2 483.1 501.8 483.4 504.1 483.6 498.2 483.9 496.2 484.1 491.5 484.4 493.3 484.6 500 484.9 499.7 485.1 501.8 485.4 503.7 485.7 503.9 485.9 507.4 486.2 508.6 486.4 504 486.7 493.5 486.9 485 487.2 477 487.4 463.8 487.7 470.6 487.9 477.9 488.2 487.4 488.5 498.6 488.7 504.9 489 511.3 489.2 520.8 489.5 525.4 489.7 526.3 490 524.4 490.2 516.6 490.5 516 490.8 515.4 491 512.7 491.3 508.8 491.5 508.5 491.8 506.6 492 501.1 492.3 500.8 492.5 500.4 492.8 500.6 493 504.1 493.3 500.8 493.6 501 493.8 500.2 494.1 498.3 494.3 498.1 494.6 499.3 494.8 501.4 495.1 502.9 495.3 503.7 495.6 501.8 495.9 502.7 496.1 500.9 496.4 501.8 496.6 498.8 496.9 500.4 497.1 502.2 497.4 501.7 497.6 500.6 497.9 500.5 498.1 503.1 498.4 506.5 498.7 505.2 498.9 504.4 499.2 502 499.4 505.9 499.7 505.6 499.9 503.3 500.2 503.9 500.4 497.9 500.7 496.4 501 494.9 501.2 495.8 501.5 497.3 501.7 493.7 502 494.1 502.2 490.8 502.5 489.1 502.7 490.8 503 488 503.2 486.4 503.5 482 503.8 484.9 504 489.6 504.3 492.2 504.5 495.6 504.8 493.7 505 497.4 505.3 496.8 505.5 498.9 505.8 495.8 506.1 495.1 506.3 495 506.6 491.8 506.8 485.9 507.1 485.4 507.3 481.4 507.6 477.5 507.8 482.6 508.1 490.5 508.3 494.3 508.6 502.5 508.9 508.3 509.1 510.1 509.4 514.6 509.6 519.1 509.9 514.5 510.1 519.3 510.4 516 510.6 507.9 510.9 504.5 511.2 504.6 511.4 503.8 511.7 499.2 511.9 502.4 512.2 500.9 512.4 500.3 512.7 505.5 512.9 507.7 513.2 509 513.5 505.2 513.7 506.1 514 507.2 514.2 502.6 514.5 501.1 514.7 500.6 515 500.4 515.2 500.6 515.5 498.7 515.7 501.3 516 501.2 516.3 499.5 516.5 494.2 516.8 491.7 517 493.5 517.3 487.8 517.5 487 517.8 485.3 518 490.7 518.3 485.7 518.6 486.4 518.8 487 519.1 489.6 519.3 489.5 519.6 498 519.8 496.5 520.1 496.5 520.3 496.4 520.6 499.4 520.8 500.8 521.1 496.6 521.4 496.3 521.6 501.2 521.9 497.9 522.1 499.9 522.4 495.2 522.6 494.3 522.9 490.8 523.1 492.1 523.4 494.3 523.7 490.2 523.9 493.4 524.2 493.2 524.4 492.5 524.7 490.6 524.9 493.5 525.2 489.9 525.4 492 525.7 493.4 525.9 494.9 526.2 495.3 526.5 491.1 526.7 483.6 527 486.5 527.2 486.3 527.5 488.5 527.7 487.3 528 490.2 528.2 488.3 528.5 490.5 528.8 486 529 492.5 529.3 490 529.5 493.2 529.8 496.1 530 497.1 530.2 496.3 530.3 496.7 530.5 498.9 530.6 502.2 530.8 499.8 531 498.8 531.3 496.1 531.5 497 531.7 496.3 532 497.9 532.2 496.8 532.5 491.3 532.7 488.2 533 492.9 533.2 494 533.5 492.6 533.8 490.7 534 489.7 534.3 489.9 534.5 488.6 534.8 487.7 535 489.3 535.3 495.6 535.5 496 535.8 496 536 498.8 536.3 496 536.6 495 536.8 497.5 537.1 498.3 537.3 501.2 537.6 498.6 537.8 498.3 538.1 500.8 538.3 502.5 538.6 501.4 538.8 504.5 539 504.2 539.2 501.1 539.4 501.5" fill="none" stroke="#2677c2" stroke-width="0.88" stroke-linejoin="round"/>
</g>
<rect x="301.4" y="403.3" width="238.4" height="158.8" fill="none" stroke="#737373" stroke-width="0.85"/>
<line x1="299" y1="562.1" x2="301.4" y2="562.1" stroke="#737373" stroke-width="0.6"/>
<text x="298.1" y="564" text-anchor="end" class="tk">7800</text>
<line x1="300.1" y1="550.76" x2="301.4" y2="550.76" stroke="#737373" stroke-width="0.6"/>
<line x1="299" y1="539.41" x2="301.4" y2="539.41" stroke="#737373" stroke-width="0.6"/>
<text x="298.1" y="541.31" text-anchor="end" class="tk">8000</text>
<line x1="300.1" y1="528.07" x2="301.4" y2="528.07" stroke="#737373" stroke-width="0.6"/>
<line x1="299" y1="516.73" x2="301.4" y2="516.73" stroke="#737373" stroke-width="0.6"/>
<text x="298.1" y="518.63" text-anchor="end" class="tk">8200</text>
<line x1="300.1" y1="505.39" x2="301.4" y2="505.39" stroke="#737373" stroke-width="0.6"/>
<line x1="299" y1="494.04" x2="301.4" y2="494.04" stroke="#737373" stroke-width="0.6"/>
<text x="298.1" y="495.94" text-anchor="end" class="tk">8400</text>
<line x1="300.1" y1="482.7" x2="301.4" y2="482.7" stroke="#737373" stroke-width="0.6"/>
<line x1="299" y1="471.36" x2="301.4" y2="471.36" stroke="#737373" stroke-width="0.6"/>
<text x="298.1" y="473.26" text-anchor="end" class="tk">8600</text>
<line x1="300.1" y1="460.01" x2="301.4" y2="460.01" stroke="#737373" stroke-width="0.6"/>
<line x1="299" y1="448.67" x2="301.4" y2="448.67" stroke="#737373" stroke-width="0.6"/>
<text x="298.1" y="450.57" text-anchor="end" class="tk">8800</text>
<line x1="300.1" y1="437.33" x2="301.4" y2="437.33" stroke="#737373" stroke-width="0.6"/>
<line x1="299" y1="425.99" x2="301.4" y2="425.99" stroke="#737373" stroke-width="0.6"/>
<text x="298.1" y="427.89" text-anchor="end" class="tk">9000</text>
<line x1="300.1" y1="414.64" x2="301.4" y2="414.64" stroke="#737373" stroke-width="0.6"/>
<line x1="299" y1="403.3" x2="301.4" y2="403.3" stroke="#737373" stroke-width="0.6"/>
<text x="298.1" y="405.2" text-anchor="end" class="tk">9200</text>
<line x1="301.4" y1="562.1" x2="301.4" y2="564.3" stroke="#737373" stroke-width="0.6"/>
<text x="301.4" y="569.6" text-anchor="middle" class="tk">0</text>
<line x1="321.27" y1="562.1" x2="321.27" y2="563.3" stroke="#737373" stroke-width="0.6"/>
<line x1="341.13" y1="562.1" x2="341.13" y2="564.3" stroke="#737373" stroke-width="0.6"/>
<text x="341.13" y="569.6" text-anchor="middle" class="tk">100</text>
<line x1="361" y1="562.1" x2="361" y2="563.3" stroke="#737373" stroke-width="0.6"/>
<line x1="380.87" y1="562.1" x2="380.87" y2="564.3" stroke="#737373" stroke-width="0.6"/>
<text x="380.87" y="569.6" text-anchor="middle" class="tk">200</text>
<line x1="400.73" y1="562.1" x2="400.73" y2="563.3" stroke="#737373" stroke-width="0.6"/>
<line x1="420.6" y1="562.1" x2="420.6" y2="564.3" stroke="#737373" stroke-width="0.6"/>
<text x="420.6" y="569.6" text-anchor="middle" class="tk">300</text>
<line x1="440.47" y1="562.1" x2="440.47" y2="563.3" stroke="#737373" stroke-width="0.6"/>
<line x1="460.33" y1="562.1" x2="460.33" y2="564.3" stroke="#737373" stroke-width="0.6"/>
<text x="460.33" y="569.6" text-anchor="middle" class="tk">400</text>
<line x1="480.2" y1="562.1" x2="480.2" y2="563.3" stroke="#737373" stroke-width="0.6"/>
<line x1="500.07" y1="562.1" x2="500.07" y2="564.3" stroke="#737373" stroke-width="0.6"/>
<text x="500.07" y="569.6" text-anchor="middle" class="tk">500</text>
<line x1="519.93" y1="562.1" x2="519.93" y2="563.3" stroke="#737373" stroke-width="0.6"/>
<line x1="539.8" y1="562.1" x2="539.8" y2="564.3" stroke="#737373" stroke-width="0.6"/>
<text x="539.8" y="569.6" text-anchor="middle" class="tk">600</text>
<text x="420.6" y="579.4" text-anchor="middle" class="lb">Sample Number</text>
<text x="420.6" y="587.9" text-anchor="middle" class="lb">(f) Test set with Variational Autoencoder</text>
<text x="286" y="482.7" text-anchor="middle" class="lb" transform="rotate(-90 286 482.7)">Value</text>
<rect x="473.8" y="403.3" width="66" height="17.3" fill="#fff" stroke="#8a8a8a" stroke-width="0.6"/>
<line x1="474.3" y1="407.5" x2="489.8" y2="407.5" stroke="#f28c18" stroke-width="1" opacity="0.75"/>
<line x1="474.3" y1="416.5" x2="489.8" y2="416.5" stroke="#2677c2" stroke-width="1" opacity="0.75"/>
<text x="491.7" y="410.2" class="lg">True value</text>
<text x="491.7" y="419.2" class="lg">Predicted value</text>
<path d="M301.4 403.3H539.8V562.1" fill="none" stroke="#737373" stroke-width="0.85"/>
<clipPath id="cg"><rect x="27.3" y="601.5" width="238.2" height="158.8"/></clipPath><g clip-path="url(#cg)">
<path d="M27 713.3 27.3 716.5 27.5 724.8 27.8 727.3 28 725.5 28.4 714.3 28.8 706 29.2 695.9 29.7 688.9 30 701.8 30.4 710 30.7 723.9 31.1 731.7 31.4 721.8 31.8 732.8 32.2 723.6 32.5 721.5 32.8 732.8 33.1 738.2 33.4 745.9 33.7 756.1 34 734 34.2 711.5 34.5 683.5 34.8 660.3 35.1 678.1 35.4 699.7 35.7 711.9 36 733.7 36.3 715.5 36.6 710.8 36.9 694.4 37.2 684.8 37.5 675.1 37.7 677.5 38 676.8 38.2 676.6 38.5 667.8 38.7 662.6 39 664.6 39.2 660.3 39.4 674.1 39.6 679.8 39.9 687.9 40.1 701.1 40.4 697.5 40.7 693.7 41 684.6 41.3 680.7 41.6 681.3 41.9 681.8 42.2 675.3 42.5 674.6 42.8 666 43.1 665.3 43.4 659.5 43.7 653.2 44 661.9 44.3 656.8 44.6 663.6 45 670.5 45.2 670.8 45.5 670.8 45.7 681.7 46 684.8 46.3 697.1 46.6 702.2 46.9 720.9 47.2 725.5 47.6 714 47.9 698.5 48.3 682.8 48.6 666.4 48.9 679.9 49.2 680.5 49.5 697.9 49.9 705.2 50.2 709.6 50.5 702.2 50.8 712.7 51.1 713.3 51.3 714.4 51.6 720.5 51.8 717.7 52.1 721.5 52.4 727.3 52.6 734.5 52.9 735.6 53.1 744.9 53.3 736.3 53.5 722.6 53.7 714 53.9 701.1 54.1 708.7 54.3 724.8 54.5 732.5 54.7 739.8 55.1 727.9 55.4 719.9 55.7 711.2 56 695 56.4 699.5 56.8 683.6 57.2 690.8 57.6 684.8 57.9 680.5 58.1 672.2 58.4 662.5 58.6 660.3 58.9 672.5 59.2 669.6 59.5 684 59.8 688.9 60.2 688.4 60.5 671.3 60.8 670.9 61.1 666.4 61.4 662.8 61.7 670.5 62 677 62.3 672.6 62.7 675.8 63 655.8 63.4 655.8 63.7 653.2 64 659.8 64.3 667.1 64.6 666.3 64.9 668.5 65.3 672.7 65.6 683.9 65.9 689.8 66.2 697 66.4 703.3 66.7 708.4 66.9 719.9 67.2 725.5 67.5 718.1 67.8 707.9 68.1 698.7 68.4 690.9 68.6 677.6 68.8 672.7 69 671.2 69.2 658.3 69.5 664.2 69.8 665.8 70.2 683.5 70.5 684.8 70.7 694 71 707.4 71.2 706.4 71.5 713.3 71.8 713 72.1 710.6 72.4 723.2 72.7 719.4 73 716.4 73.3 689.7 73.6 677.1 73.9 666.4 74.2 679.5 74.5 684.5 74.8 697.5 75.2 709.2 75.5 701.7 75.8 697.8 76.1 695.2 76.4 684.8 76.6 680.3 76.9 679.3 77.1 669.4 77.4 666.4 77.7 661.6 77.9 645.7 78.2 642.4 78.4 642 78.7 658.9 79 667.2 79.3 685.6 79.6 697 79.9 694.1 80.3 692.1 80.6 685 80.9 676.6 81.2 674.6 81.5 664 81.8 655.5 82.1 652.2 82.4 654.4 82.7 660.4 83 663 83.3 672.6 83.6 675 83.9 681.4 84.2 687.3 84.5 690.9 84.8 697.2 85 698.5 85.3 713.5 85.6 721.5 85.7 713.2 85.8 707.4 85.9 696.3 86 684.8 86.3 679.7 86.5 676.8 86.8 685.1 87 674.6 87.3 685.8 87.5 698.2 87.8 707.5 88 707.2 88.3 705.5 88.6 711.8 88.8 713.6 89.1 713.3 89.3 708.4 89.6 701.2 89.8 692.7 90.1 684.8 90.3 688 90.6 683.9 90.8 691.8 91.1 695 91.4 694 91.6 699.6 91.9 699.2 92.1 703.1 92.4 700 92.6 695.2 92.9 687.5 93.1 680.7 93.4 678.4 93.7 673.9 93.9 668.2 94.2 666.4 94.4 657.1 94.7 647.2 94.9 642 95.2 631.8 95.4 629.3 95.7 629 95.9 618.9 96.2 621.6 96.5 631.3 96.7 630.8 97 637 97.2 646.1 97.5 646.8 97.7 646.9 98 651.8 98.2 652.2 98.5 646.8 98.8 641.8 99 639.7 99.3 640 99.5 643.6 99.8 637.1 100 630.7 100.3 633.8 100.5 636.4 100.8 632.8 101 648.6 101.3 644 101.6 643.1 101.8 656.1 102.1 661.5 102.3 664.4 102.6 664.3 102.8 676.8 103.1 685.2 103.3 686.8 103.6 681.5 103.9 673.6 104.1 669.2 104.4 658.3 104.6 662.5 104.9 666.8 105.1 668.5 105.4 672.6 105.6 671.5 105.9 661.7 106.1 665 106.4 658.3 106.7 661.9 106.9 665.2 107.2 676.6 107.4 680.7 107.7 685.9 107.9 681.5 108.2 674.1 108.4 674.6 108.7 671.3 109 660.6 109.2 655.8 109.5 650.1 109.7 655.6 110 651.1 110.2 666.2 110.5 670.5 110.7 663.4 111 661.6 111.2 655.5 111.5 658.3 111.8 656.9 112 663.7 112.3 675.3 112.5 676.6 112.8 675.1 113 660.2 113.3 656.5 113.5 644 113.8 638.9 114.1 628.3 114.3 632.4 114.6 627.7 114.8 634.1 115.1 635.2 115.3 642.7 115.6 646.1 115.8 663.1 116.1 672.2 116.3 684.5 116.6 705.2 116.9 699.2 117.1 694.1 117.4 688.5 117.6 684.8 117.9 692.8 118.1 699.8 118.4 695.4 118.6 701.1 118.9 702.8 119.2 702.8 119.4 700.9 119.7 697 119.9 704.2 120.2 701.6 120.4 709.1 120.7 709.2 120.9 714.7 121.2 707.3 121.5 699.1 121.7 699.1 122 705 122.2 711.2 122.5 711.2 122.7 713.3 123 713.6 123.2 724.5 123.5 716 123.7 723.5 124 715.3 124.3 703.1 124.5 688.2 124.8 682.8 125 692.2 125.3 693.3 125.5 691.9 125.8 701.1 126 697.4 126.3 687.1 126.6 675.2 126.8 676.6 127.1 667.8 127.3 665.5 127.6 660.8 127.8 652.2 128.1 648 128.3 642.7 128.6 639.5 128.8 632.8 129.1 640.4 129.4 654.3 129.6 658.6 129.9 666.4 130.1 671.2 130.4 675.7 130.6 672.9 130.9 680.7 131.1 672.8 131.4 676.6 131.7 666.8 131.9 660.3 132.2 657.2 132.4 657.6 132.7 652.3 132.9 652.2 133.2 657.9 133.4 658.7 133.7 667 133.9 670.5 134.2 669.9 134.5 687 134.7 685.3 135 692.9 135.2 694.3 135.5 707.3 135.7 714.4 136 723.5 136.2 717.5 136.5 705.7 136.8 705.2 137 697 137.3 706.8 137.5 682.8 137.8 684.6 138 678.7 138.3 682 138.5 688.6 138.8 685.2 139 697 139.3 696.5 139.6 707 139.8 709.1 140.1 713.3 140.3 721.8 140.6 714.6 140.8 720.1 141.1 721.5 141.3 729 141.6 710.3 141.9 705.7 142.1 705.2 142.4 708.6 142.6 712.1 142.9 719.2 143.1 719.4 143.4 715.4 143.6 707.3 143.9 706.5 144.1 701.1 144.4 698.8 144.6 680.7 144.8 651.8 145 650.1 145.3 653.7 145.5 654.8 145.8 664.8 146 666.4 146.3 666.8 146.5 676.2 146.8 673.2 147 670.5 147.3 670.5 147.6 664.1 147.8 659.7 148.1 656.3 148.3 657.1 148.6 660.4 148.8 656.9 149.1 654.2 149.3 655.9 149.6 665.4 149.8 664.2 150.1 666.4 150.4 670.7 150.6 672.5 150.9 678 151.1 684.8 151.4 688.9 151.6 686.9 151.9 708.7 152.1 711.3 152.4 720.1 152.7 723.7 152.9 735.3 153.2 737.8 153.4 731.4 153.7 722.9 153.9 703.5 154.2 705.2 154.4 699.7 154.7 698.1 154.9 697.8 155.2 686.8 155.5 699.7 155.7 703.7 156 699 156.2 709.2 156.5 703.6 156.7 717.6 157 718.5 157.2 721.5 157.5 728.3 157.8 727.1 158 731.5 158.3 733.7 158.5 719.6 158.8 719.2 159 707.5 159.3 701.1 159.5 709.6 159.8 717.2 160 722 160.3 729.6 160.5 734.4 160.6 736.7 160.8 743.3 160.9 743.9 161.1 737.7 161.3 725.4 161.5 717.1 161.7 711.3 162 709.5 162.3 693.6 162.6 689.2 163 676.6 163.3 672.1 163.7 662.2 164 655.3 164.4 652.2 164.6 656.2 164.9 660.3 165.1 665.3 165.4 666.4 165.7 657.3 165.9 655.9 166.2 653.8 166.4 650.1 166.7 659 166.9 645.9 167.2 659.5 167.4 660.3 167.7 654.1 168 653.9 168.2 646.2 168.5 644 168.7 644.7 169 648.7 169.2 643.1 169.5 641 169.7 647.5 170 652.1 170.2 652.5 170.5 660.3 170.8 674.7 171 684 171.3 693.8 171.5 709.2 171.7 716.7 171.8 723.6 172 735.2 172.1 739.8 172.4 735.1 172.6 728.5 172.9 731.8 173.2 721.5 173.5 714.2 173.9 704.1 174.2 690.3 174.6 676.6 174.8 682.3 175.1 687.2 175.3 693.9 175.6 701.1 175.9 714.5 176.1 720.9 176.4 724.2 176.6 739.8 176.9 733 177.1 720.9 177.4 720.6 177.6 713.3 177.9 712.1 178.2 715.4 178.4 724.5 178.7 727.6 178.9 716.6 179.2 699.6 179.4 698.5 179.7 684.8 179.9 702.5 180.2 697.2 180.5 719.5 180.7 721.5 181 712.6 181.2 707.3 181.5 702.4 181.7 697 182 687.2 182.2 694 182.5 686.7 182.7 680.7 183 674.7 183.3 673.5 183.5 665.5 183.8 668.5 184 671.2 184.3 680.4 184.5 673.9 184.8 684.8 185 678.5 185.3 676.2 185.6 675.2 185.8 666.4 186.1 674.9 186.3 670.7 186.6 672.7 186.8 678.7 187.1 676.9 187.3 670.1 187.6 666.7 187.8 664.4 188.1 671.8 188.4 677.2 188.6 674.6 188.9 676.6 189.1 680.5 189.4 688.1 189.6 682.9 189.9 695 190.1 699.5 190.4 699.9 190.7 718.2 190.9 713.3 191.2 724.3 191.4 730.2 191.7 737 191.9 745.9 192.2 727.8 192.4 732.4 192.7 727.9 192.9 713.3 193.2 704.8 193.5 704.8 193.7 699.4 194 690.9 194.2 680.7 194.5 686.5 194.7 684.1 195 674.6 195.2 683.1 195.5 689.6 195.8 700.7 196 705.2 196.3 705.2 196.5 717.8 196.8 727.7 197 729.6 197.3 722.6 197.5 729.5 197.8 721.8 198 721.5 198.3 719.8 198.6 734.3 198.8 737.5 199.1 748 199.3 741.6 199.6 728 199.8 729.2 200.1 717.4 200.3 710.4 200.6 710.7 200.9 702.8 201.1 701.1 201.4 695.7 201.6 697.7 201.9 689.7 202.1 684.8 202.4 681.2 202.6 675.7 202.9 683.3 203.1 676.6 203.4 677 203.7 670.2 203.9 670 204.2 666.4 204.4 660.3 204.6 658.3 204.8 657.1 205 658.3 205.3 664.8 205.5 669.7 205.8 670.6 206 678.7 206.3 686.2 206.6 691 206.8 693.1 207.1 697 207.3 696 207.6 685.7 207.8 681.3 208.1 676.6 208.3 673.9 208.6 667.3 208.8 666 209.1 658.3 209.4 652.3 209.6 661.9 209.9 652.1 210.1 654.2 210.4 657.6 210.6 656.9 210.9 668.8 211.1 670.5 211.4 680.7 211.7 685 211.9 689.1 212.2 690.9 212.4 690.3 212.7 699 212.9 705.9 213.2 713.3 213.4 712.7 213.7 723.9 213.9 723.2 214.2 725.5 214.5 720.4 214.7 717.3 215 706.5 215.2 705.2 215.5 698 215.7 694.5 216 696.4 216.2 690.9 216.5 697.9 216.8 704.4 217 712 217.3 713.3 217.5 703.9 217.8 702.9 218 701.7 218.3 697 218.5 697.8 218.8 707.1 219 719.4 219.3 721.5 219.6 726.9 219.8 727.8 220.1 724.7 220.3 725.5 220.6 714.5 220.8 709.5 221.1 693.5 221.3 684.8 221.6 682.6 221.9 682.9 222.1 672.6 222.4 670.5 222.6 670.6 222.9 675.6 223.1 680.5 223.4 680.7 223.6 675.5 223.9 667.1 224.1 661.5 224.4 652.2 224.7 650.4 224.9 657.9 225.2 666.6 225.4 670.5 225.7 664.3 225.9 660.1 226.2 658.1 226.4 660.3 226.7 653.4 227 653 227.2 646.3 227.5 647.1 227.7 649.3 228 656.4 228.2 650.3 228.5 652.2 228.7 659.3 229 657.4 229.2 653.9 229.5 660.3 229.8 668 230 673.8 230.3 689.4 230.5 695 230.8 695 231 709.4 231.3 711 231.5 713.3 231.8 709.9 232.1 725.6 232.3 733.2 232.6 731.7 232.8 734.1 233.1 746.8 233.3 741.3 233.6 754.1 233.8 751 234.1 739.3 234.3 743.8 234.6 737.8 234.9 728.6 235.1 723.2 235.4 733.2 235.6 729.6 235.9 734.6 236.1 719.1 236.4 720.7 236.6 713.3 236.9 709.7 237.2 703.9 237.4 703.5 237.7 697 237.9 700.5 238.2 686 238.4 690.1 238.7 684.8 238.9 689.2 239.2 685.2 239.5 700.4 239.7 697 240 699.7 240.2 683 240.5 688.6 240.7 676.6 241 675.3 241.2 672.9 241.5 678 241.7 670.5 242 668.9 242.3 666.7 242.5 668.9 242.8 660.3 243 664.4 243.3 661.8 243.5 651.7 243.8 656.3 244 649 244.3 658.7 244.6 649.5 244.8 652.2 245.1 651 245.3 644.4 245.6 646.1 245.8 645.1 246.1 648.9 246.3 669.4 246.6 667.8 246.8 680.7 247 693.5 247.2 706.5 247.3 725.2 247.5 733.7 247.7 721.4 248 720.3 248.2 713 248.5 707.2 248.7 712.9 248.9 716.2 249.1 716.1 249.3 721.5 249.6 718.3 249.9 711.8 250.2 711.1 250.5 705.2 250.8 700.7 251 694.4 251.3 692.8 251.5 688.9 251.8 696.4 252 710.1 252.3 705.3 252.6 713.3 252.8 716.6 253.1 723.2 253.3 711.2 253.6 721.5 253.9 716.6 254.3 720.8 254.7 727.1 255 729.6 255.3 742.4 255.5 737.3 255.8 743.6 256 741.8 256.3 733.8 256.5 717.8 256.8 711.3 257 713.3 257.3 713.3 257.6 705.9 257.8 695.9 258.1 697 258.3 706.5 258.6 701.1 258.8 716.8 259.1 717.4 259.3 725.2 259.6 718.4 259.9 719.1 260.1 725.5 260.4 724.8 260.6 713 260.9 716.7 261.1 709.2 261.4 706.5 261.6 716.5 261.9 715.7 262.1 717.4 262.4 712.6 262.7 707.7 262.9 709.2 263.2 705.2 263.4 696.6 263.7 702 263.9 700.5 264.2 701.1 264.5 705.8 264.8 700.2 265.1 714 265.4 709.2" fill="none" stroke="#f28c18" stroke-width="0.88" stroke-linejoin="round"/>
<path d="M28 718.1 28.2 718.5 28.5 732.2 28.7 730.1 29 721.1 29.4 717.4 29.8 696.9 30.2 692.8 30.6 684.8 31 695.2 31.3 708.2 31.7 722.7 32 734.1 32.4 720.6 32.7 736.5 33.1 722 33.5 723.4 33.8 734.5 34.1 742 34.4 750.6 34.7 760.2 34.9 740.9 35.2 713.1 35.5 669.9 35.7 647.6 36 679.9 36.3 697.7 36.6 724.4 36.9 741 37.2 720.7 37.5 712.2 37.8 694.4 38.2 684.9 38.4 676.9 38.7 676.7 38.9 675.7 39.2 672.2 39.4 664.2 39.7 658.5 39.9 661.9 40.2 654.7 40.4 669 40.6 678.6 40.8 679.5 41 698.3 41.3 696.8 41.6 697.1 41.9 682.3 42.2 676.3 42.5 684 42.8 681.6 43.2 680.2 43.5 673.6 43.8 662.1 44.1 662.8 44.4 664.6 44.7 656.4 45 661 45.3 658.3 45.6 656.4 45.9 674.2 46.2 670.4 46.4 668.2 46.7 680.8 46.9 684.9 47.2 696.3 47.5 702.2 47.8 720.2 48.2 736.1 48.5 712.9 48.9 697.5 49.2 683.8 49.6 665.4 49.9 681.6 50.2 674.3 50.5 694.8 50.8 704.6 51.1 702.7 51.4 704.5 51.7 706.2 52 712.1 52.3 716.6 52.5 722.9 52.8 714.4 53 723.9 53.3 731.3 53.6 728.9 53.8 735.4 54.1 749.5 54.3 738.5 54.5 720.2 54.7 710.7 54.9 705.3 55.1 704 55.3 728.4 55.5 729.1 55.7 744.7 56 733.5 56.3 719.1 56.6 708.8 56.9 700.1 57.3 698 57.7 685 58.1 684.4 58.6 690.2 58.8 671.4 59.1 666.3 59.3 656.8 59.6 656.8 59.9 672.1 60.2 674.5 60.5 693.2 60.8 698.1 61.1 693.6 61.4 671.5 61.7 662.2 62 664.9 62.3 659 62.6 672.6 62.9 674 63.3 669.8 63.6 674 64 656.5 64.3 654.4 64.7 646.6 65 651.1 65.3 663.7 65.6 662.2 65.9 664.6 66.2 671.3 66.5 686.2 66.8 692.7 67.1 694.8 67.4 701.4 67.6 716 67.9 722.4 68.1 732.6 68.5 722.1 68.8 711.3 69.1 705.7 69.4 689.8 69.6 680 69.8 672.2 70 668 70.2 652.1 70.5 658.7 70.8 667.1 71.1 686.7 71.4 680.7 71.7 695.8 71.9 702.1 72.2 708.1 72.4 723.6 72.7 710.6 73 713.5 73.3 724.3 73.7 722.7 74 714.6 74.3 688.8 74.6 664.6 74.9 660.6 75.2 675.6 75.5 682.6 75.8 706.2 76.1 707.7 76.4 701.4 76.7 694.5 77 699.2 77.3 685.5 77.6 676 77.8 683.4 78.1 669.7 78.3 671.1 78.6 663 78.9 642.1 79.1 634.8 79.4 629 79.7 654.6 80 670.9 80.3 686.7 80.6 697.6 80.9 698.6 81.2 698.1 81.5 697.8 81.8 673.2 82.1 673.2 82.4 657.8 82.7 649.7 83 652.5 83.3 651 83.7 652.6 84 666.4 84.3 678.7 84.6 677.2 84.9 677 85.2 683 85.5 696 85.7 693.8 86 696.9 86.3 710.5 86.5 732.8 86.6 713.1 86.7 708.4 86.8 693.1 87 680 87.2 672.1 87.5 677.8 87.7 680.2 88 676.7 88.2 678.6 88.5 699.9 88.7 712.5 89 703.6 89.2 707.1 89.5 711.1 89.8 711 90 713.2 90.3 701.7 90.5 699.7 90.8 685.1 91 684.8 91.3 691.9 91.5 686.9 91.8 687.6 92.1 693.9 92.3 701.5 92.6 705.3 92.8 702.6 93.1 696.2 93.3 700 93.6 704.9 93.8 689.6 94.1 678.6 94.3 678.7 94.6 683.5 94.9 673.2 95.1 661.8 95.4 652.4 95.6 646.3 95.9 614.3 96.1 626.4 96.4 624.6 96.6 616.6 96.9 612.9 97.2 621.1 97.4 632.2 97.7 623.4 97.9 639.6 98.2 643.3 98.4 641.7 98.7 649.3 98.9 646.2 99.2 651.2 99.4 643.3 99.7 640.4 100 639.4 100.2 637 100.5 639.7 100.7 633.5 101 622.5 101.2 631.2 101.5 642.8 101.7 631.6 102 652.7 102.3 642.4 102.5 641 102.8 657.3 103 664 103.3 666.9 103.5 660.6 103.8 678.2 104 681.5 104.3 693.4 104.6 682.7 104.8 672.4 105.1 663.4 105.3 657.9 105.6 664.9 105.8 668 106.1 672.6 106.3 669.8 106.6 675.5 106.8 660.3 107.1 653.2 107.4 657.3 107.6 656.1 107.9 663.3 108.1 674.4 108.4 678.5 108.6 692.6 108.9 681 109.1 675.6 109.4 678.3 109.7 670 109.9 654.2 110.2 654.2 110.4 647.4 110.7 650.6 110.9 649.9 111.2 672.1 111.4 675.8 111.7 670 111.9 667.2 112.2 655.2 112.5 657.7 112.7 651.6 113 668.9 113.2 675.5 113.5 682.1 113.7 685.1 114 662 114.2 651.4 114.5 639 114.8 636 115 630.7 115.3 605.1 115.5 624 115.8 627.1 116 633.8 116.3 641.1 116.5 647.4 116.8 659.3 117 675.5 117.3 680.7 117.6 706.8 117.8 699.7 118.1 694.6 118.3 690 118.6 674 118.8 692 119.1 698.5 119.3 689.4 119.6 700.1 119.9 705.1 120.1 701.2 120.4 698.6 120.6 698.8 120.9 701.2 121.1 705.5 121.4 711.3 121.6 711.5 121.9 718.4 122.1 712.5 122.4 694.8 122.7 702.2 122.9 700.6 123.2 712.7 123.4 713.7 123.7 714.5 123.9 710 124.2 722.3 124.4 713 124.7 726 125 717.5 125.2 705.2 125.5 679.8 125.7 681.4 126 695.5 126.2 693.9 126.5 692 126.7 706.7 127 706.2 127.2 694.6 127.5 681.5 127.8 672.1 128 673.7 128.3 664.4 128.5 664.1 128.8 648.7 129 648.2 129.3 638.4 129.5 615.3 129.8 637.3 130.1 633.1 130.3 658 130.6 659 130.8 663.1 131.1 678.3 131.3 678.2 131.6 672.4 131.8 684.8 132.1 670.9 132.3 685.3 132.6 661.2 132.9 657.7 133.1 648 133.4 657.8 133.6 653.9 133.9 654.1 134.1 663 134.4 657.5 134.6 664.8 134.9 673.9 135.2 666.3 135.4 689.3 135.7 683.5 135.9 690.7 136.2 694.6 136.4 713.9 136.7 721 136.9 728.2 137.2 709.9 137.5 707.2 137.7 708.2 138 699.5 138.2 705.6 138.5 685.1 138.7 684.5 139 668.7 139.2 683.4 139.5 694.5 139.7 684.9 140 693.9 140.3 703.9 140.5 712.1 140.8 702.7 141 719.1 141.3 726 141.5 717 141.8 714.7 142 716.3 142.3 732.3 142.6 717.8 142.8 705.4 143.1 704.5 143.3 705.8 143.6 710.9 143.8 725.2 144.1 718.8 144.3 725.7 144.6 711.2 144.8 710.1 145.1 702.5 145.3 697.8 145.5 679.3 145.7 636.7 146 646.3 146.2 642.7 146.5 661.2 146.7 663.8 147 660 147.2 668.1 147.5 678.5 147.7 672.2 148 672.4 148.2 668 148.5 663.4 148.8 658 149 656.9 149.3 653.6 149.5 660.8 149.8 644 150 656.9 150.3 655 150.5 667.2 150.8 662.3 151.1 669.1 151.3 669.7 151.6 672.1 151.8 677.2 152.1 681.8 152.3 684.1 152.6 687.2 152.8 712 153.1 711.9 153.3 727.1 153.6 726.3 153.9 740.9 154.1 746.2 154.4 737.2 154.6 723.8 154.9 697.7 155.1 701.1 155.4 693.7 155.6 699.7 155.9 681.6 156.2 692.1 156.4 695.1 156.7 707.7 156.9 698.9 157.2 711.4 157.4 697 157.7 722.5 157.9 718.7 158.2 724.9 158.4 726.3 158.7 728.5 159 730.7 159.2 737.3 159.5 722.3 159.7 717.9 160 707.1 160.2 699.8 160.5 707.1 160.7 714.8 161 713.6 161.3 734.8 161.4 736.8 161.6 737.8 161.7 747.4 161.9 745.2 162.1 739.3 162.3 728.9 162.5 711.7 162.7 710.7 163 711.8 163.3 686.8 163.6 684.6 163.9 680.5 164.3 679.8 164.6 661.4 165 641.8 165.3 646.3 165.6 660.7 165.8 660 166.1 666.8 166.4 669.5 166.6 655.2 166.9 653.1 167.1 653.5 167.4 645 167.6 657.4 167.9 634.2 168.1 656.5 168.4 663.6 168.7 659.3 168.9 657.1 169.2 642.3 169.4 643.5 169.7 633.7 169.9 643.9 170.2 645.7 170.4 637.3 170.7 644.5 170.9 651.2 171.2 653.9 171.5 658.7 171.7 672.8 172 685 172.2 693.8 172.5 709.7 172.6 709.8 172.8 722.6 172.9 738.4 173.1 739.9 173.3 746.1 173.6 740.5 173.9 742 174.1 719.6 174.5 717.1 174.8 705.3 175.2 689.3 175.5 665.9 175.8 682.6 176 691.4 176.3 695.6 176.6 709.2 176.8 714.8 177.1 726.1 177.3 732.2 177.6 740.6 177.8 735.6 178.1 718.9 178.3 725.1 178.6 708.5 178.9 713.3 179.1 713.9 179.4 730.4 179.6 728.4 179.9 717.4 180.1 699.6 180.4 694.3 180.6 680 180.9 701.3 181.1 694.5 181.4 723.5 181.7 721.9 181.9 715.5 182.2 708 182.4 701.3 182.7 693.3 182.9 679.1 183.2 692 183.4 689 183.7 678.9 184 679.7 184.2 668.5 184.5 664.3 184.7 660.7 185 675 185.2 675.6 185.5 675.6 185.7 687.6 186 689.7 186.2 681.9 186.5 678.5 186.8 665.8 187 682.6 187.3 668.9 187.5 667.6 187.8 683.1 188 677.3 188.3 660.2 188.5 667.1 188.8 665 189.1 664.8 189.3 681.1 189.6 682 189.8 674.2 190.1 673.7 190.3 689.1 190.6 681 190.8 697.8 191.1 702.9 191.3 698.6 191.6 725.8 191.9 705.6 192.1 722.9 192.4 733.1 192.6 741.6 192.9 749.8 193.1 731.2 193.4 729.7 193.6 720.7 193.9 717 194.2 709.8 194.4 704.8 194.7 694.3 194.9 686.9 195.2 680.7 195.4 686 195.7 687.9 195.9 678.2 196.2 686.1 196.5 687.4 196.7 705 197 707.7 197.2 706.1 197.5 720.1 197.7 729.9 198 727.7 198.2 724.7 198.5 727.3 198.7 721.2 199 724 199.3 721.9 199.5 727.8 199.8 736.4 200 747 200.3 745.5 200.5 726.1 200.8 734.5 201 715.6 201.3 711.6 201.6 706.6 201.8 699.1 202.1 699.7 202.3 697 202.6 689.6 202.8 689.7 203.1 678.3 203.3 681.2 203.6 667.4 203.8 682.1 204.1 681.5 204.4 683.3 204.6 665.8 204.9 676.7 205.1 664.1 205.3 659 205.5 658.5 205.8 655.3 206 657.6 206.2 664.2 206.5 672.3 206.7 670.6 207 677 207.2 683.1 207.5 688.3 207.8 694.6 208 702.2 208.3 699.5 208.5 685.3 208.8 683.3 209 674.1 209.3 674.1 209.5 668.2 209.8 663.7 210.1 662.1 210.3 654.6 210.6 659.9 210.8 652.4 211.1 652.9 211.3 657.2 211.6 656.1 211.8 673.5 212.1 671 212.3 682 212.6 689 212.9 693 213.1 697.7 213.4 686.1 213.6 701.5 213.9 698.8 214.1 714.5 214.4 708.2 214.6 720.9 214.9 724.9 215.2 723.7 215.4 720.9 215.7 707.5 215.9 711.7 216.2 693.8 216.4 693.6 216.7 699.4 216.9 689.4 217.2 695.7 217.4 701.6 217.7 704.5 218 712.1 218.2 713.8 218.5 704.9 218.7 706.4 219 706.1 219.2 686.5 219.5 699.1 219.7 708.8 220 715.4 220.3 726.6 220.5 733.1 220.8 734.3 221 727 221.3 731.7 221.5 721 221.8 708 222 690.7 222.3 680.7 222.6 685.8 222.8 682 223.1 667.7 223.3 664.7 223.6 664.5 223.8 676.8 224.1 685.4 224.3 687.5 224.6 672.4 224.8 663 225.1 656.8 225.4 646.6 225.6 642 225.9 663.2 226.1 669.1 226.4 670 226.6 654.8 226.9 666 227.1 661.3 227.4 661.3 227.7 655.7 227.9 649.5 228.2 647.4 228.4 643.6 228.7 650.2 228.9 655.8 229.2 644 229.4 646.8 229.7 663.2 229.9 660.3 230.2 650.8 230.5 655.5 230.7 664.7 231 674.2 231.2 684.2 231.5 699.4 231.7 691.4 232 706 232.2 711.4 232.5 721.1 232.8 705.7 233 724.3 233.3 729.4 233.5 732.8 233.8 735.3 234 748.5 234.3 740.6 234.5 758.1 234.8 756.2 235 737.6 235.3 743.6 235.6 735.2 235.8 725.3 236.1 726.5 236.3 729.5 236.6 730.6 236.8 740.4 237.1 716.6 237.3 723.4 237.6 716.1 237.9 703.4 238.1 707 238.4 699 238.6 696.4 238.9 694 239.1 677.2 239.4 687.8 239.6 689.6 239.9 698.8 240.1 695.3 240.4 707.4 240.7 703.1 240.9 704.7 241.2 685.4 241.4 687.9 241.7 673.9 241.9 676.3 242.2 673.9 242.4 675.7 242.7 665.2 243 665.6 243.2 680.1 243.5 666.4 243.7 665.6 244 669.6 244.2 666.3 244.5 648.1 244.7 664.3 245 649.2 245.2 656.8 245.5 645.8 245.8 651.2 246 658.9 246.3 636.9 246.5 640.9 246.8 641.8 247 647.4 247.3 663.9 247.5 661.6 247.8 677.7 248 696.8 248.1 707.6 248.3 728.3 248.4 739.1 248.7 723.9 248.9 725.5 249.2 709.8 249.4 705.8 249.6 709.6 249.8 719.1 250 719.6 250.2 721.9 250.6 724.5 250.9 711.6 251.2 717.3 251.5 703.2 251.7 697.8 252 686.3 252.2 686.4 252.5 684.5 252.7 686 253 710.3 253.3 708.2 253.5 716 253.8 718 254 727.1 254.3 707.8 254.5 719.4 254.9 718.7 255.2 719.4 255.6 731.1 256 728 256.2 747.4 256.5 744 256.7 745.9 257 751.4 257.2 741.9 257.5 707.2 257.7 720.8 258 705.8 258.3 722.7 258.5 700.6 258.8 684.3 259 688.9 259.3 707.4 259.5 695 259.8 714.9 260 722.9 260.3 722.7 260.6 721.1 260.8 724.9 261.1 719.2 261.3 721.1 261.6 713.2 261.8 716.6 262.1 709.3 262.3 696.9 262.6 713.4 262.8 717.8 263.1 720.8 263.4 718.3 263.6 705.9 263.9 706.4 264.1 700.7 264.4 691 264.6 692.7 264.9 706.5 265.1 698.3 265.4 702.7 265.8 696.5 266.1 717.3 266.4 709.9" fill="none" stroke="#fff" stroke-width="1.0" stroke-linejoin="round"/>
<path d="M28 718.1 28.2 718.5 28.5 732.2 28.7 730.1 29 721.1 29.4 717.4 29.8 696.9 30.2 692.8 30.6 684.8 31 695.2 31.3 708.2 31.7 722.7 32 734.1 32.4 720.6 32.7 736.5 33.1 722 33.5 723.4 33.8 734.5 34.1 742 34.4 750.6 34.7 760.2 34.9 740.9 35.2 713.1 35.5 669.9 35.7 647.6 36 679.9 36.3 697.7 36.6 724.4 36.9 741 37.2 720.7 37.5 712.2 37.8 694.4 38.2 684.9 38.4 676.9 38.7 676.7 38.9 675.7 39.2 672.2 39.4 664.2 39.7 658.5 39.9 661.9 40.2 654.7 40.4 669 40.6 678.6 40.8 679.5 41 698.3 41.3 696.8 41.6 697.1 41.9 682.3 42.2 676.3 42.5 684 42.8 681.6 43.2 680.2 43.5 673.6 43.8 662.1 44.1 662.8 44.4 664.6 44.7 656.4 45 661 45.3 658.3 45.6 656.4 45.9 674.2 46.2 670.4 46.4 668.2 46.7 680.8 46.9 684.9 47.2 696.3 47.5 702.2 47.8 720.2 48.2 736.1 48.5 712.9 48.9 697.5 49.2 683.8 49.6 665.4 49.9 681.6 50.2 674.3 50.5 694.8 50.8 704.6 51.1 702.7 51.4 704.5 51.7 706.2 52 712.1 52.3 716.6 52.5 722.9 52.8 714.4 53 723.9 53.3 731.3 53.6 728.9 53.8 735.4 54.1 749.5 54.3 738.5 54.5 720.2 54.7 710.7 54.9 705.3 55.1 704 55.3 728.4 55.5 729.1 55.7 744.7 56 733.5 56.3 719.1 56.6 708.8 56.9 700.1 57.3 698 57.7 685 58.1 684.4 58.6 690.2 58.8 671.4 59.1 666.3 59.3 656.8 59.6 656.8 59.9 672.1 60.2 674.5 60.5 693.2 60.8 698.1 61.1 693.6 61.4 671.5 61.7 662.2 62 664.9 62.3 659 62.6 672.6 62.9 674 63.3 669.8 63.6 674 64 656.5 64.3 654.4 64.7 646.6 65 651.1 65.3 663.7 65.6 662.2 65.9 664.6 66.2 671.3 66.5 686.2 66.8 692.7 67.1 694.8 67.4 701.4 67.6 716 67.9 722.4 68.1 732.6 68.5 722.1 68.8 711.3 69.1 705.7 69.4 689.8 69.6 680 69.8 672.2 70 668 70.2 652.1 70.5 658.7 70.8 667.1 71.1 686.7 71.4 680.7 71.7 695.8 71.9 702.1 72.2 708.1 72.4 723.6 72.7 710.6 73 713.5 73.3 724.3 73.7 722.7 74 714.6 74.3 688.8 74.6 664.6 74.9 660.6 75.2 675.6 75.5 682.6 75.8 706.2 76.1 707.7 76.4 701.4 76.7 694.5 77 699.2 77.3 685.5 77.6 676 77.8 683.4 78.1 669.7 78.3 671.1 78.6 663 78.9 642.1 79.1 634.8 79.4 629 79.7 654.6 80 670.9 80.3 686.7 80.6 697.6 80.9 698.6 81.2 698.1 81.5 697.8 81.8 673.2 82.1 673.2 82.4 657.8 82.7 649.7 83 652.5 83.3 651 83.7 652.6 84 666.4 84.3 678.7 84.6 677.2 84.9 677 85.2 683 85.5 696 85.7 693.8 86 696.9 86.3 710.5 86.5 732.8 86.6 713.1 86.7 708.4 86.8 693.1 87 680 87.2 672.1 87.5 677.8 87.7 680.2 88 676.7 88.2 678.6 88.5 699.9 88.7 712.5 89 703.6 89.2 707.1 89.5 711.1 89.8 711 90 713.2 90.3 701.7 90.5 699.7 90.8 685.1 91 684.8 91.3 691.9 91.5 686.9 91.8 687.6 92.1 693.9 92.3 701.5 92.6 705.3 92.8 702.6 93.1 696.2 93.3 700 93.6 704.9 93.8 689.6 94.1 678.6 94.3 678.7 94.6 683.5 94.9 673.2 95.1 661.8 95.4 652.4 95.6 646.3 95.9 614.3 96.1 626.4 96.4 624.6 96.6 616.6 96.9 612.9 97.2 621.1 97.4 632.2 97.7 623.4 97.9 639.6 98.2 643.3 98.4 641.7 98.7 649.3 98.9 646.2 99.2 651.2 99.4 643.3 99.7 640.4 100 639.4 100.2 637 100.5 639.7 100.7 633.5 101 622.5 101.2 631.2 101.5 642.8 101.7 631.6 102 652.7 102.3 642.4 102.5 641 102.8 657.3 103 664 103.3 666.9 103.5 660.6 103.8 678.2 104 681.5 104.3 693.4 104.6 682.7 104.8 672.4 105.1 663.4 105.3 657.9 105.6 664.9 105.8 668 106.1 672.6 106.3 669.8 106.6 675.5 106.8 660.3 107.1 653.2 107.4 657.3 107.6 656.1 107.9 663.3 108.1 674.4 108.4 678.5 108.6 692.6 108.9 681 109.1 675.6 109.4 678.3 109.7 670 109.9 654.2 110.2 654.2 110.4 647.4 110.7 650.6 110.9 649.9 111.2 672.1 111.4 675.8 111.7 670 111.9 667.2 112.2 655.2 112.5 657.7 112.7 651.6 113 668.9 113.2 675.5 113.5 682.1 113.7 685.1 114 662 114.2 651.4 114.5 639 114.8 636 115 630.7 115.3 605.1 115.5 624 115.8 627.1 116 633.8 116.3 641.1 116.5 647.4 116.8 659.3 117 675.5 117.3 680.7 117.6 706.8 117.8 699.7 118.1 694.6 118.3 690 118.6 674 118.8 692 119.1 698.5 119.3 689.4 119.6 700.1 119.9 705.1 120.1 701.2 120.4 698.6 120.6 698.8 120.9 701.2 121.1 705.5 121.4 711.3 121.6 711.5 121.9 718.4 122.1 712.5 122.4 694.8 122.7 702.2 122.9 700.6 123.2 712.7 123.4 713.7 123.7 714.5 123.9 710 124.2 722.3 124.4 713 124.7 726 125 717.5 125.2 705.2 125.5 679.8 125.7 681.4 126 695.5 126.2 693.9 126.5 692 126.7 706.7 127 706.2 127.2 694.6 127.5 681.5 127.8 672.1 128 673.7 128.3 664.4 128.5 664.1 128.8 648.7 129 648.2 129.3 638.4 129.5 615.3 129.8 637.3 130.1 633.1 130.3 658 130.6 659 130.8 663.1 131.1 678.3 131.3 678.2 131.6 672.4 131.8 684.8 132.1 670.9 132.3 685.3 132.6 661.2 132.9 657.7 133.1 648 133.4 657.8 133.6 653.9 133.9 654.1 134.1 663 134.4 657.5 134.6 664.8 134.9 673.9 135.2 666.3 135.4 689.3 135.7 683.5 135.9 690.7 136.2 694.6 136.4 713.9 136.7 721 136.9 728.2 137.2 709.9 137.5 707.2 137.7 708.2 138 699.5 138.2 705.6 138.5 685.1 138.7 684.5 139 668.7 139.2 683.4 139.5 694.5 139.7 684.9 140 693.9 140.3 703.9 140.5 712.1 140.8 702.7 141 719.1 141.3 726 141.5 717 141.8 714.7 142 716.3 142.3 732.3 142.6 717.8 142.8 705.4 143.1 704.5 143.3 705.8 143.6 710.9 143.8 725.2 144.1 718.8 144.3 725.7 144.6 711.2 144.8 710.1 145.1 702.5 145.3 697.8 145.5 679.3 145.7 636.7 146 646.3 146.2 642.7 146.5 661.2 146.7 663.8 147 660 147.2 668.1 147.5 678.5 147.7 672.2 148 672.4 148.2 668 148.5 663.4 148.8 658 149 656.9 149.3 653.6 149.5 660.8 149.8 644 150 656.9 150.3 655 150.5 667.2 150.8 662.3 151.1 669.1 151.3 669.7 151.6 672.1 151.8 677.2 152.1 681.8 152.3 684.1 152.6 687.2 152.8 712 153.1 711.9 153.3 727.1 153.6 726.3 153.9 740.9 154.1 746.2 154.4 737.2 154.6 723.8 154.9 697.7 155.1 701.1 155.4 693.7 155.6 699.7 155.9 681.6 156.2 692.1 156.4 695.1 156.7 707.7 156.9 698.9 157.2 711.4 157.4 697 157.7 722.5 157.9 718.7 158.2 724.9 158.4 726.3 158.7 728.5 159 730.7 159.2 737.3 159.5 722.3 159.7 717.9 160 707.1 160.2 699.8 160.5 707.1 160.7 714.8 161 713.6 161.3 734.8 161.4 736.8 161.6 737.8 161.7 747.4 161.9 745.2 162.1 739.3 162.3 728.9 162.5 711.7 162.7 710.7 163 711.8 163.3 686.8 163.6 684.6 163.9 680.5 164.3 679.8 164.6 661.4 165 641.8 165.3 646.3 165.6 660.7 165.8 660 166.1 666.8 166.4 669.5 166.6 655.2 166.9 653.1 167.1 653.5 167.4 645 167.6 657.4 167.9 634.2 168.1 656.5 168.4 663.6 168.7 659.3 168.9 657.1 169.2 642.3 169.4 643.5 169.7 633.7 169.9 643.9 170.2 645.7 170.4 637.3 170.7 644.5 170.9 651.2 171.2 653.9 171.5 658.7 171.7 672.8 172 685 172.2 693.8 172.5 709.7 172.6 709.8 172.8 722.6 172.9 738.4 173.1 739.9 173.3 746.1 173.6 740.5 173.9 742 174.1 719.6 174.5 717.1 174.8 705.3 175.2 689.3 175.5 665.9 175.8 682.6 176 691.4 176.3 695.6 176.6 709.2 176.8 714.8 177.1 726.1 177.3 732.2 177.6 740.6 177.8 735.6 178.1 718.9 178.3 725.1 178.6 708.5 178.9 713.3 179.1 713.9 179.4 730.4 179.6 728.4 179.9 717.4 180.1 699.6 180.4 694.3 180.6 680 180.9 701.3 181.1 694.5 181.4 723.5 181.7 721.9 181.9 715.5 182.2 708 182.4 701.3 182.7 693.3 182.9 679.1 183.2 692 183.4 689 183.7 678.9 184 679.7 184.2 668.5 184.5 664.3 184.7 660.7 185 675 185.2 675.6 185.5 675.6 185.7 687.6 186 689.7 186.2 681.9 186.5 678.5 186.8 665.8 187 682.6 187.3 668.9 187.5 667.6 187.8 683.1 188 677.3 188.3 660.2 188.5 667.1 188.8 665 189.1 664.8 189.3 681.1 189.6 682 189.8 674.2 190.1 673.7 190.3 689.1 190.6 681 190.8 697.8 191.1 702.9 191.3 698.6 191.6 725.8 191.9 705.6 192.1 722.9 192.4 733.1 192.6 741.6 192.9 749.8 193.1 731.2 193.4 729.7 193.6 720.7 193.9 717 194.2 709.8 194.4 704.8 194.7 694.3 194.9 686.9 195.2 680.7 195.4 686 195.7 687.9 195.9 678.2 196.2 686.1 196.5 687.4 196.7 705 197 707.7 197.2 706.1 197.5 720.1 197.7 729.9 198 727.7 198.2 724.7 198.5 727.3 198.7 721.2 199 724 199.3 721.9 199.5 727.8 199.8 736.4 200 747 200.3 745.5 200.5 726.1 200.8 734.5 201 715.6 201.3 711.6 201.6 706.6 201.8 699.1 202.1 699.7 202.3 697 202.6 689.6 202.8 689.7 203.1 678.3 203.3 681.2 203.6 667.4 203.8 682.1 204.1 681.5 204.4 683.3 204.6 665.8 204.9 676.7 205.1 664.1 205.3 659 205.5 658.5 205.8 655.3 206 657.6 206.2 664.2 206.5 672.3 206.7 670.6 207 677 207.2 683.1 207.5 688.3 207.8 694.6 208 702.2 208.3 699.5 208.5 685.3 208.8 683.3 209 674.1 209.3 674.1 209.5 668.2 209.8 663.7 210.1 662.1 210.3 654.6 210.6 659.9 210.8 652.4 211.1 652.9 211.3 657.2 211.6 656.1 211.8 673.5 212.1 671 212.3 682 212.6 689 212.9 693 213.1 697.7 213.4 686.1 213.6 701.5 213.9 698.8 214.1 714.5 214.4 708.2 214.6 720.9 214.9 724.9 215.2 723.7 215.4 720.9 215.7 707.5 215.9 711.7 216.2 693.8 216.4 693.6 216.7 699.4 216.9 689.4 217.2 695.7 217.4 701.6 217.7 704.5 218 712.1 218.2 713.8 218.5 704.9 218.7 706.4 219 706.1 219.2 686.5 219.5 699.1 219.7 708.8 220 715.4 220.3 726.6 220.5 733.1 220.8 734.3 221 727 221.3 731.7 221.5 721 221.8 708 222 690.7 222.3 680.7 222.6 685.8 222.8 682 223.1 667.7 223.3 664.7 223.6 664.5 223.8 676.8 224.1 685.4 224.3 687.5 224.6 672.4 224.8 663 225.1 656.8 225.4 646.6 225.6 642 225.9 663.2 226.1 669.1 226.4 670 226.6 654.8 226.9 666 227.1 661.3 227.4 661.3 227.7 655.7 227.9 649.5 228.2 647.4 228.4 643.6 228.7 650.2 228.9 655.8 229.2 644 229.4 646.8 229.7 663.2 229.9 660.3 230.2 650.8 230.5 655.5 230.7 664.7 231 674.2 231.2 684.2 231.5 699.4 231.7 691.4 232 706 232.2 711.4 232.5 721.1 232.8 705.7 233 724.3 233.3 729.4 233.5 732.8 233.8 735.3 234 748.5 234.3 740.6 234.5 758.1 234.8 756.2 235 737.6 235.3 743.6 235.6 735.2 235.8 725.3 236.1 726.5 236.3 729.5 236.6 730.6 236.8 740.4 237.1 716.6 237.3 723.4 237.6 716.1 237.9 703.4 238.1 707 238.4 699 238.6 696.4 238.9 694 239.1 677.2 239.4 687.8 239.6 689.6 239.9 698.8 240.1 695.3 240.4 707.4 240.7 703.1 240.9 704.7 241.2 685.4 241.4 687.9 241.7 673.9 241.9 676.3 242.2 673.9 242.4 675.7 242.7 665.2 243 665.6 243.2 680.1 243.5 666.4 243.7 665.6 244 669.6 244.2 666.3 244.5 648.1 244.7 664.3 245 649.2 245.2 656.8 245.5 645.8 245.8 651.2 246 658.9 246.3 636.9 246.5 640.9 246.8 641.8 247 647.4 247.3 663.9 247.5 661.6 247.8 677.7 248 696.8 248.1 707.6 248.3 728.3 248.4 739.1 248.7 723.9 248.9 725.5 249.2 709.8 249.4 705.8 249.6 709.6 249.8 719.1 250 719.6 250.2 721.9 250.6 724.5 250.9 711.6 251.2 717.3 251.5 703.2 251.7 697.8 252 686.3 252.2 686.4 252.5 684.5 252.7 686 253 710.3 253.3 708.2 253.5 716 253.8 718 254 727.1 254.3 707.8 254.5 719.4 254.9 718.7 255.2 719.4 255.6 731.1 256 728 256.2 747.4 256.5 744 256.7 745.9 257 751.4 257.2 741.9 257.5 707.2 257.7 720.8 258 705.8 258.3 722.7 258.5 700.6 258.8 684.3 259 688.9 259.3 707.4 259.5 695 259.8 714.9 260 722.9 260.3 722.7 260.6 721.1 260.8 724.9 261.1 719.2 261.3 721.1 261.6 713.2 261.8 716.6 262.1 709.3 262.3 696.9 262.6 713.4 262.8 717.8 263.1 720.8 263.4 718.3 263.6 705.9 263.9 706.4 264.1 700.7 264.4 691 264.6 692.7 264.9 706.5 265.1 698.3 265.4 702.7 265.8 696.5 266.1 717.3 266.4 709.9" fill="none" stroke="#2677c2" stroke-width="0.88" stroke-linejoin="round"/>
</g>
<rect x="27.3" y="601.5" width="238.2" height="158.8" fill="none" stroke="#737373" stroke-width="0.85"/>
<line x1="24.9" y1="760.3" x2="27.3" y2="760.3" stroke="#737373" stroke-width="0.6"/>
<text x="24" y="762.2" text-anchor="end" class="tk">7800</text>
<line x1="26" y1="748.96" x2="27.3" y2="748.96" stroke="#737373" stroke-width="0.6"/>
<line x1="24.9" y1="737.61" x2="27.3" y2="737.61" stroke="#737373" stroke-width="0.6"/>
<text x="24" y="739.51" text-anchor="end" class="tk">8000</text>
<line x1="26" y1="726.27" x2="27.3" y2="726.27" stroke="#737373" stroke-width="0.6"/>
<line x1="24.9" y1="714.93" x2="27.3" y2="714.93" stroke="#737373" stroke-width="0.6"/>
<text x="24" y="716.83" text-anchor="end" class="tk">8200</text>
<line x1="26" y1="703.59" x2="27.3" y2="703.59" stroke="#737373" stroke-width="0.6"/>
<line x1="24.9" y1="692.24" x2="27.3" y2="692.24" stroke="#737373" stroke-width="0.6"/>
<text x="24" y="694.14" text-anchor="end" class="tk">8400</text>
<line x1="26" y1="680.9" x2="27.3" y2="680.9" stroke="#737373" stroke-width="0.6"/>
<line x1="24.9" y1="669.56" x2="27.3" y2="669.56" stroke="#737373" stroke-width="0.6"/>
<text x="24" y="671.46" text-anchor="end" class="tk">8600</text>
<line x1="26" y1="658.21" x2="27.3" y2="658.21" stroke="#737373" stroke-width="0.6"/>
<line x1="24.9" y1="646.87" x2="27.3" y2="646.87" stroke="#737373" stroke-width="0.6"/>
<text x="24" y="648.77" text-anchor="end" class="tk">8800</text>
<line x1="26" y1="635.53" x2="27.3" y2="635.53" stroke="#737373" stroke-width="0.6"/>
<line x1="24.9" y1="624.19" x2="27.3" y2="624.19" stroke="#737373" stroke-width="0.6"/>
<text x="24" y="626.09" text-anchor="end" class="tk">9000</text>
<line x1="26" y1="612.84" x2="27.3" y2="612.84" stroke="#737373" stroke-width="0.6"/>
<line x1="24.9" y1="601.5" x2="27.3" y2="601.5" stroke="#737373" stroke-width="0.6"/>
<text x="24" y="603.4" text-anchor="end" class="tk">9200</text>
<line x1="27.3" y1="760.3" x2="27.3" y2="762.5" stroke="#737373" stroke-width="0.6"/>
<text x="27.3" y="767.8" text-anchor="middle" class="tk">0</text>
<line x1="51.12" y1="760.3" x2="51.12" y2="761.5" stroke="#737373" stroke-width="0.6"/>
<line x1="74.94" y1="760.3" x2="74.94" y2="762.5" stroke="#737373" stroke-width="0.6"/>
<text x="74.94" y="767.8" text-anchor="middle" class="tk">200</text>
<line x1="98.76" y1="760.3" x2="98.76" y2="761.5" stroke="#737373" stroke-width="0.6"/>
<line x1="122.58" y1="760.3" x2="122.58" y2="762.5" stroke="#737373" stroke-width="0.6"/>
<text x="122.58" y="767.8" text-anchor="middle" class="tk">400</text>
<line x1="146.4" y1="760.3" x2="146.4" y2="761.5" stroke="#737373" stroke-width="0.6"/>
<line x1="170.22" y1="760.3" x2="170.22" y2="762.5" stroke="#737373" stroke-width="0.6"/>
<text x="170.22" y="767.8" text-anchor="middle" class="tk">600</text>
<line x1="194.04" y1="760.3" x2="194.04" y2="761.5" stroke="#737373" stroke-width="0.6"/>
<line x1="217.86" y1="760.3" x2="217.86" y2="762.5" stroke="#737373" stroke-width="0.6"/>
<text x="217.86" y="767.8" text-anchor="middle" class="tk">800</text>
<line x1="241.68" y1="760.3" x2="241.68" y2="761.5" stroke="#737373" stroke-width="0.6"/>
<line x1="265.5" y1="760.3" x2="265.5" y2="762.5" stroke="#737373" stroke-width="0.6"/>
<text x="265.5" y="767.8" text-anchor="middle" class="tk">1000</text>
<text x="146.4" y="777.6" text-anchor="middle" class="lb">Sample Number</text>
<text x="146.4" y="786.1" text-anchor="middle" class="lb">(g) Training set with improved TimeGAN</text>
<text x="11.9" y="680.9" text-anchor="middle" class="lb" transform="rotate(-90 11.9 680.9)">Value</text>
<rect x="199.5" y="601.5" width="66" height="17.3" fill="#fff" stroke="#8a8a8a" stroke-width="0.6"/>
<line x1="200" y1="605.7" x2="215.5" y2="605.7" stroke="#f28c18" stroke-width="1" opacity="0.75"/>
<line x1="200" y1="614.7" x2="215.5" y2="614.7" stroke="#2677c2" stroke-width="1" opacity="0.75"/>
<text x="217.4" y="608.4" class="lg">True value</text>
<text x="217.4" y="617.4" class="lg">Predicted value</text>
<path d="M27.3 601.5H265.5V760.3" fill="none" stroke="#737373" stroke-width="0.85"/>
<clipPath id="ch"><rect x="301.4" y="601.7" width="238.4" height="158.6"/></clipPath><g clip-path="url(#ch)">
<path d="M301.4 717.6 301.7 720.6 301.9 727.9 302.2 729.7 302.4 729.8 302.7 726.6 302.9 724 303.2 706.7 303.4 705.4 303.7 712 304 718.5 304.2 732.4 304.5 742 304.7 738.9 305 727.7 305.2 722.6 305.5 713.5 305.7 703.9 306 710 306.3 703.8 306.5 705.4 306.8 711.4 307 706.8 307.3 706.1 307.5 701.3 307.8 699 308 699.6 308.3 697.8 308.5 693.1 308.8 692.3 309.1 692.2 309.3 694.2 309.6 695.2 309.8 695.3 310.1 697.9 310.3 701.7 310.6 705.4 310.8 697.9 311.1 699.2 311.4 685.3 311.6 687 311.9 695.9 312.1 695.8 312.4 701.7 312.6 709.4 312.9 705.1 313.1 710.9 313.4 711.5 313.6 713.5 313.9 712.2 314.2 707.3 314.4 707.8 314.7 705.4 314.9 710.5 315.2 702.9 315.4 697 315.7 697.2 315.9 700.5 316.2 695.7 316.5 698 316.7 695.2 317 698.6 317.2 695.7 317.5 690.6 317.7 699.3 318 694.3 318.2 694.3 318.5 687 318.8 685 319 686.2 319.3 687.9 319.5 681.3 319.8 682.9 320 692.4 320.3 698.6 320.5 701 320.8 701.3 321 704.4 321.3 702.6 321.6 705.6 321.8 695.2 322.1 693.4 322.3 690.1 322.6 689.9 322.8 685 323.1 686.5 323.3 689 323.6 696.8 323.9 705.4 324.1 710.9 324.4 715.4 324.6 711.5 324.9 721.7 325.1 717.3 325.4 726.5 325.6 730.1 325.9 733.9 326.1 735.2 326.4 739.6 326.7 743.4 326.9 740 327.2 737.4 327.4 735.3 327.7 725 327.9 725.7 328.2 722.1 328.4 728.7 328.7 731.4 329 729.8 329.2 729.6 329.5 726.1 329.7 723.8 330 717.6 330.2 716.7 330.5 702.5 330.7 702.5 331 701.3 331.2 709.2 331.5 715.9 331.8 713.6 332 725.7 332.3 734.5 332.5 732.2 332.8 737 333 742 333.3 741.1 333.5 740.9 333.8 730.2 334.1 733.9 334.3 740.9 334.6 740.3 334.8 740 335.1 746.1 335.3 743 335.6 733.4 335.8 737.4 336.1 738 336.3 735.6 336.6 729 336.9 727.5 337.1 725.7 337.4 729.2 337.6 734.1 337.9 742 338.1 742 338.4 738.9 338.6 734.9 338.9 735 339.2 729.8 339.4 735 339.7 722.3 339.9 722.7 340.2 717.6 340.4 710.3 340.7 720.9 340.9 717.1 341.2 713.5 341.4 716.8 341.7 709.2 342 703.3 342.2 705.4 342.5 706.8 342.7 704.3 343 695.8 343.2 697.2 343.5 692.4 343.7 701 344 699.6 344.3 701.3 344.5 709.6 344.8 694.8 345 693.1 345.3 693.1 345.5 693.2 345.8 687.6 346 691.1 346.3 695.2 346.5 703.2 346.8 697.7 347.1 697.3 347.3 701.3 347.6 701.3 347.8 713.8 348.1 719.2 348.3 721.7 348.6 723.7 348.8 722.2 349.1 725.9 349.4 725.7 349.6 724.2 349.9 716.9 350.1 719 350.4 713.5 350.6 703.1 350.9 704.3 351.1 706.2 351.4 705.4 351.7 701.4 351.9 693.6 352.2 696 352.4 691.1 352.7 693.8 352.9 689.8 353.2 687.4 353.4 685 353.7 686 353.9 682 354.2 673.6 354.5 675.8 354.7 678.3 355 687.6 355.2 681.2 355.5 689.1 355.7 691.3 356 691.6 356.2 691.6 356.5 697.2 356.8 695.2 357 701.7 357.3 704.6 357.5 705.4 357.8 708.6 358 703.7 358.3 710.3 358.5 713.5 358.8 717.9 359 723.4 359.3 725.4 359.6 725.7 359.8 732.1 360.1 736.2 360.3 738.2 360.6 738 360.7 735.8 360.8 740.2 360.9 738.2 361 742 361.3 727.5 361.5 725.2 361.8 735 362 721.7 362.3 713.2 362.6 704.6 362.8 707.1 363.1 705.4 363.3 707.8 363.6 698.1 363.8 696.3 364.1 691.1 364.3 683.9 364.5 678.5 364.7 677.8 364.9 666.6 365.1 678.5 365.3 683.6 365.5 696.2 365.7 701.3 366 711.7 366.2 712.6 366.5 720.7 366.7 725.7 367 725.7 367.2 721.1 367.5 727.2 367.8 721.7 368 725.1 368.3 727.4 368.5 727.2 368.8 738 369 735 369.3 748.1 369.5 739.6 369.8 746.1 370 749.9 370.3 748.7 370.6 754.3 370.8 754.3 371.1 751.1 371.3 740 371.6 736.3 371.8 731.9 372.1 733.8 372.3 735.4 372.6 736.3 372.9 738 373.1 733.7 373.4 734.4 373.6 734 373.9 725.7 374.1 728.9 374.4 724.8 374.6 730.4 374.9 729.8 375.1 726 375.4 723.5 375.7 724.9 375.9 713.5 376.2 708.6 376.4 705.3 376.7 697.8 376.9 697.2 377.2 694 377.4 690.9 377.7 697.4 378 689.1 378.2 688.2 378.5 682.7 378.7 690.6 379 680.9 379.2 670.6 379.5 674.1 379.7 669.7 380 660.5 380.1 661.8 380.3 657.5 380.5 657 380.6 656.5 380.9 659.2 381.1 667.7 381.4 659.5 381.6 672.8 381.9 672.8 382.1 677.4 382.4 676.6 382.6 680.9 382.9 670.1 383.2 672.8 383.4 667.2 383.7 666.6 383.9 674.4 384.2 681.4 384.4 680.7 384.7 685 384.9 675.3 385.2 680.1 385.5 675.2 385.7 676.8 386 678.5 386.2 681.5 386.5 675 386.7 672.8 387 680.3 387.2 677.7 387.5 674 387.7 670.7 388 670.9 388.3 678.7 388.5 676.1 388.8 685 389 696.7 389.3 700.2 389.5 712.3 389.8 713.5 390 718.2 390.3 712.5 390.6 725.8 390.8 725.7 391.1 729 391.3 730.9 391.6 719.4 391.8 721.7 392.1 721.6 392.3 728.6 392.6 727.2 392.8 733.9 393.1 732.1 393.4 736.2 393.6 753.9 393.9 746.1 394.1 740.1 394.4 734.4 394.6 732.6 394.9 729.8 395.1 728.2 395.4 731.3 395.7 727.9 395.9 721.7 396.2 728.3 396.4 728.4 396.7 731.9 396.9 733.9 397.2 726.7 397.4 718.1 397.7 727.1 397.9 713.5 398.2 710.1 398.5 713.9 398.7 706.5 399 705.4 399.2 703.9 399.5 702.1 399.7 695.7 400 699.3 400.2 702.9 400.5 708.3 400.8 713.6 401 713.5 401.3 718.9 401.5 724 401.8 724.2 402 725.7 402.3 725.1 402.5 716.3 402.8 720.9 403.1 721.7 403.3 731.2 403.6 728.6 403.8 734.3 404.1 733.9 404.3 731.4 404.6 727.5 404.8 736.2 405.1 725.7 405.3 725.5 405.6 727.9 405.9 722.1 406.1 717.6 406.4 713.7 406.6 702.9 406.9 709.1 407.1 705.4 407.4 697.4 407.6 692.8 407.9 704.5 408.2 697.2 408.4 696.3 408.7 691.9 408.9 685.5 409.2 680.9 409.4 678 409.7 676.8 409.9 672.7 410.2 668.7 410.4 667.2 410.7 667.9 411 653.1 411.2 660.5 411.5 662.9 411.7 655.3 412 659.6 412.2 654.4 412.5 665 412.7 662.6 413 674.6 413.3 676.8 413.5 687.3 413.8 688.5 414 696.3 414.3 705.4 414.5 703.9 414.8 692.6 415 697.6 415.3 697.2 415.5 695 415.8 689.4 416.1 681.8 416.3 685 416.6 685.5 416.8 695.1 417.1 696.4 417.3 693.1 417.6 691.7 417.8 687.9 418.1 690 418.4 689.1 418.5 691.2 418.7 690.5 418.8 693.9 419 697.2 419.1 699.7 419.2 700.9 419.3 687.6 419.4 697.2 419.5 699.1 419.7 693.7 419.9 695.7 420 689.1 420.3 693.1 420.5 699 420.8 707.8 421 705.4 421.3 690.5 421.6 705.6 421.8 697 422.1 693.1 422.3 683.9 422.6 678.5 422.8 688.3 423.1 685 423.3 677.4 423.5 681.8 423.7 675.2 423.9 670.7 424.2 673.8 424.4 681.8 424.7 682.2 424.9 685 425.2 691 425.4 694.4 425.7 695.4 425.9 697.2 426.2 698.3 426.4 696.3 426.7 685.7 427 689.1 427.2 692.1 427.5 696.7 427.7 699.8 428 705.4 428.2 701.1 428.5 707.2 428.7 712.8 429 713.5 429.3 717.3 429.5 725.7 429.8 720.3 430 725.7 430.2 730.1 430.3 735.7 430.5 742.8 430.6 750.2 430.9 741.7 431.1 730.6 431.4 733.2 431.6 725.7 431.9 726.6 432.2 724.1 432.4 712.3 432.7 713.5 432.9 708.7 433.2 712.7 433.4 700.9 433.7 697.2 433.9 695.5 434.2 690.5 434.5 692 434.7 685 434.9 685.8 435.1 688.1 435.3 677.8 435.5 672.8 435.8 680.7 436 680.2 436.3 689.5 436.5 697.2 436.8 698.5 437.1 704.1 437.3 704.2 437.6 713.5 437.8 716.3 438.1 705.3 438.3 708.5 438.6 705.4 438.8 698.3 439.1 702.7 439.4 705.8 439.6 697.2 439.9 698 440.1 706.8 440.4 709.2 440.6 713.5 440.9 716.7 441.1 719.3 441.4 717.1 441.6 721.7 441.9 717.9 442.2 713.2 442.4 709.2 442.7 709.4 442.9 702.5 443.2 709.2 443.4 700.4 443.7 701.3 443.9 700.9 444.2 697.4 444.5 688.2 444.7 689.1 445 697.3 445.2 693.8 445.5 703.8 445.7 705.4 446 709.1 446.2 698.5 446.5 695.6 446.7 697.2 447 691.4 447.3 702.2 447.5 689.6 447.8 689.1 448 683 448.3 690.3 448.5 685.3 448.8 685 449 682.8 449.3 676.9 449.6 670 449.8 676.8 450.1 669.8 450.3 664.5 450.6 658.2 450.8 660.5 451.1 655.2 451.3 654.7 451.6 660.6 451.8 656.5 452.1 658.2 452.4 656.4 452.6 651.2 452.9 652.4 453.1 646.3 453.4 651.5 453.6 651.1 453.9 648.3 454.1 656.8 454.4 657.3 454.7 661.5 454.9 666.6 455.2 669.4 455.4 666 455.7 668 455.9 672.8 456.2 671.7 456.4 660.6 456.7 661.7 456.9 658.5 457.2 664.1 457.5 664.5 457.7 667.8 458 668.7 458.2 663.2 458.5 666.1 458.7 664.5 459 664.6 459.2 663.9 459.5 660.2 459.8 655.6 460 652.4 460.3 662 460.5 658.6 460.8 657.4 461 660.5 461.3 656.1 461.5 656.4 461.8 652.2 462.1 652.4 462.3 657.7 462.6 652.2 462.8 647.4 463.1 647.3 463.3 648.1 463.6 649.7 463.8 656.2 464.1 660.5 464.3 668.9 464.6 670.1 464.9 669.6 465.1 672.8 465.4 676.5 465.6 671.6 465.9 685.1 466.1 685 466.4 687.3 466.6 696.7 466.9 693.6 467.2 697.2 467.4 699.5 467.7 706.3 467.9 707 468.2 713.5 468.4 722 468.7 720.9 468.9 724.3 469.2 725.7 469.4 724.2 469.7 718.4 470 718.6 470.2 713.5 470.5 710.3 470.7 712.5 471 701.7 471.2 697.2 471.5 694.8 471.7 687.5 472 683.7 472.3 680.9 472.5 676.9 472.7 680.2 472.9 672.3 473.1 668.7 473.3 676.9 473.6 676.1 473.8 679.8 474.1 685 474.3 682.8 474.6 698.8 474.9 708.8 475.1 705.4 475.4 707.9 475.6 717.5 475.9 718.3 476.1 717.6 476.4 712.2 476.6 714.9 476.9 705.2 477.1 705.4 477.4 704.6 477.6 710.6 477.8 706.4 478 705.4 478.3 706.2 478.5 721.6 478.8 716.7 479 725.7 479.3 717.3 479.5 708.5 479.8 701 480 693.1 480.3 695.3 480.6 697.2 480.8 716.2 481.1 713.5 481.3 715.3 481.6 720.6 481.8 719.5 482.1 733.9 482.3 725.5 482.6 721.1 482.8 712.3 483.1 697.2 483.4 705.5 483.6 697.4 483.9 690.1 484.1 685 484.4 689.6 484.6 699.2 484.9 697.5 485.1 701.3 485.4 705.6 485.7 704 485.9 711.3 486.2 713.5 486.4 717.7 486.7 705.5 486.9 703.3 487.2 697.2 487.4 686.1 487.7 698.9 487.9 693 488.2 689.1 488.5 698.1 488.7 696.5 489 695.2 489.2 701.3 489.5 694.7 489.7 700.6 490 696.9 490.2 695.2 490.5 694.2 490.8 700.3 491 700.6 491.3 705.4 491.5 703.3 491.8 693.7 492 685.4 492.3 685 492.5 686.8 492.8 687 493 697 493.3 693.1 493.6 688.3 493.8 681.8 494.1 683.8 494.3 680.9 494.6 681.9 494.8 686 495.1 687.8 495.3 689.1 495.6 686.9 495.9 692.8 496.1 694.6 496.4 697.2 496.6 693.4 496.9 696.8 497.1 700.9 497.4 701.3 497.6 691.7 497.9 690.7 498.1 690 498.4 689.1 498.7 685.4 498.9 684.7 499.2 674.2 499.4 676.8 499.7 676.7 499.9 677 500.2 679.6 500.4 672.8 500.7 673.8 501 674.9 501.2 675.5 501.5 685 501.7 682.8 502 681.6 502.2 669.7 502.5 668.7 502.7 666.6 503 664.7 503.2 661.5 503.5 654.4 503.8 658.2 504 668 504.3 670.9 504.5 676.8 504.8 675 505 681.9 505.3 684.3 505.5 685 505.8 683.2 506.1 690.8 506.3 699 506.6 693.1 506.8 683.2 507.1 687.8 507.3 684.6 507.6 676.8 507.8 679.1 508.1 682.3 508.3 682 508.6 685 508.9 693.5 509.1 687.4 509.4 693.6 509.6 697.2 509.9 682.4 510.1 684.2 510.4 677.3 510.6 668.7 510.9 666.1 511.2 673.3 511.4 682.7 511.7 685 511.9 687 512.2 688.2 512.4 687.2 512.7 701.3 512.9 699.5 513.2 702.7 513.5 690.1 513.7 689.1 514 687.5 514.2 684.4 514.5 679.4 514.7 676.8 515 681.1 515.2 685.2 515.5 685.4 515.7 693.1 516 700.8 516.3 699.6 516.5 688 516.8 685 517 688.8 517.3 675.4 517.5 674.7 517.8 672.8 518 675 518.3 663.9 518.6 661.3 518.8 664.6 519.1 669.8 519.3 664.7 519.6 683.5 519.8 680.9 520.1 686.8 520.3 687.8 520.6 692.6 520.8 693.1 521.1 686.4 521.4 683.2 521.6 687.2 521.9 680.9 522.1 682 522.4 676.3 522.6 673 522.9 670.7 523.1 672.1 523.4 683.4 523.7 675.5 523.9 685 524.2 679.5 524.4 678.8 524.7 672.8 524.9 676.8 525.2 669 525.4 667.6 525.7 673.2 525.9 666.6 526.2 671.3 526.5 662.9 526.7 652.6 527 656.5 527.2 659.1 527.5 666.1 527.7 670.7 528 676.8 528.2 677.4 528.5 683 528.8 675.2 529 685 529.3 686.8 529.5 694 529.8 700.1 530 701.3 530.2 706.5 530.3 709.5 530.5 713 530.6 717.6 530.8 705.8 531 699.7 531.3 689.3 531.5 680.9 531.7 670.6 532 670.5 532.2 662.8 532.5 650.3 532.7 654.6 533 664.1 533.2 672 533.5 672.8 533.8 677 534 679.5 534.3 684 534.5 685 534.8 680.6 535 683.6 535.3 693.3 535.5 693.1 535.8 691.3 536 692.6 536.3 682.2 536.6 680.9 536.8 686.5 537.1 687.3 537.3 692 537.6 685 537.8 684 538.1 687.9 538.3 692.4 538.6 693.1 538.8 693.4 539 687.3 539.2 688 539.4 689.1" fill="none" stroke="#f28c18" stroke-width="0.88" stroke-linejoin="round"/>
<path d="M302.4 712.4 302.6 720 302.9 723.8 303.1 724.8 303.4 734.2 303.6 723.8 303.9 717.7 304.1 708.9 304.4 706.1 304.7 708 304.9 719.4 305.2 733.2 305.4 741.7 305.7 739.6 305.9 726.9 306.2 726.3 306.4 713.2 306.7 701.6 307 710.9 307.2 704.4 307.5 706.9 307.7 714.9 308 704.7 308.2 704.6 308.5 704 308.7 696.7 309 701.9 309.2 690.7 309.5 692.6 309.8 689.1 310 691.1 310.3 695.2 310.5 688.2 310.8 690.4 311 698 311.3 698.4 311.5 706.8 311.8 698.2 312.1 696 312.3 687.1 312.6 688.2 312.8 696.8 313.1 693.4 313.3 699.8 313.6 705.4 313.8 698.6 314.1 710.2 314.3 714.3 314.6 713.3 314.9 714.5 315.1 705.6 315.4 706.4 315.6 704 315.9 714.8 316.1 699.2 316.4 694.3 316.6 699.3 316.9 703.6 317.2 697.3 317.4 706.3 317.7 694.6 317.9 698.9 318.2 694 318.4 689.3 318.7 705.4 318.9 697.9 319.2 690.7 319.4 690.9 319.7 681.5 320 691.6 320.2 686.3 320.5 683 320.7 678 321 692.9 321.2 697.7 321.5 700.9 321.7 701.6 322 699.9 322.3 698.1 322.5 694.6 322.8 691.5 323 686.1 323.3 691 323.5 689.3 323.8 698.8 324 684 324.3 690.2 324.5 699.3 324.8 704.8 325.1 712.5 325.3 709.6 325.6 710.5 325.8 719.1 326.1 713.3 326.3 729.7 326.6 723.5 326.8 735.1 327.1 731.3 327.4 743.9 327.6 744.8 327.9 743.6 328.1 736.9 328.4 730.9 328.6 732.1 328.9 724.7 329.1 717.8 329.4 732.2 329.7 738.6 329.9 730.4 330.2 728.8 330.4 728.7 330.7 727 330.9 720.7 331.2 715.7 331.4 701.2 331.7 702.7 331.9 706.3 332.2 712.6 332.5 713.8 332.7 714.5 333 728.8 333.2 733.5 333.5 714.9 333.7 740.4 334 741.3 334.2 742.6 334.5 742.7 334.8 730.3 335 733.8 335.3 744.7 335.5 739.2 335.8 735.6 336 739.7 336.3 745.5 336.5 729.1 336.8 737.3 337 738.5 337.3 744.2 337.6 731.5 337.8 727.3 338.1 725.4 338.3 734.5 338.6 727.5 338.8 742.3 339.1 740.5 339.3 739.3 339.6 730.4 339.9 734.1 340.1 726.2 340.4 731.2 340.6 722.2 340.9 721.9 341.1 714.2 341.4 713.6 341.6 728.2 341.9 715.9 342.1 700.7 342.4 719.5 342.7 708.3 342.9 705.9 343.2 709.2 343.4 708.8 343.7 705 343.9 692.7 344.2 700.3 344.4 696 344.7 697.1 345 698.2 345.2 703.7 345.5 711.9 345.7 698.8 346 690 346.2 692.5 346.5 693.2 346.7 687.2 347 693.5 347.2 697.8 347.5 708.6 347.8 697.6 348 695.5 348.3 704 348.5 702.5 348.8 710.8 349 716.3 349.3 723.3 349.5 727.9 349.8 719.9 350.1 732.8 350.3 728.8 350.6 725.3 350.8 721.2 351.1 720.1 351.3 709.3 351.6 701.3 351.8 707.1 352.1 704.5 352.3 704.4 352.6 701.2 352.9 693.3 353.1 690 353.4 688.7 353.6 692 353.9 692.5 354.1 683.2 354.4 687.4 354.6 685.4 354.9 681.1 355.2 666.6 355.4 680 355.7 685.1 355.9 682.7 356.2 679.3 356.4 681.8 356.7 691.5 356.9 692 357.2 692 357.4 692.6 357.7 701.7 358 704.8 358.2 699.3 358.5 702.8 358.7 707.7 359 702.9 359.2 715.6 359.5 709.7 359.7 716 360 722.6 360.3 724.5 360.5 725.4 360.8 733.5 361 742.6 361.3 743.3 361.5 739.9 361.6 731.3 361.8 737.8 361.9 735.8 362 742.6 362.2 723.8 362.5 723.1 362.7 738.7 363 726 363.2 712.3 363.5 708.8 363.8 697.8 364 705.3 364.3 706.5 364.5 700.5 364.8 696 365 691.7 365.2 684.9 365.4 676.9 365.6 678.6 365.9 663 366.1 673.1 366.3 680.4 366.5 696.6 366.7 699.7 366.9 709.9 367.2 703.7 367.4 718.6 367.7 728.7 367.9 727.6 368.2 723.5 368.5 726.1 368.7 720.5 369 727 369.2 723.4 369.5 736.5 369.7 734.7 370 736.6 370.2 754 370.5 737.2 370.7 738.2 371 745.5 371.3 742 371.5 756.3 371.8 761.2 372 754.7 372.3 742.5 372.5 732.8 372.8 731.3 373 731.7 373.3 734.2 373.6 735.5 373.8 741.7 374.1 734.8 374.3 735.1 374.6 733.6 374.8 720 375.1 730.3 375.3 724.9 375.6 736.7 375.8 724.3 376.1 723.1 376.4 724.1 376.6 727.1 376.9 715.2 377.1 708.2 377.4 703.2 377.6 697.5 377.9 702.8 378.1 696.8 378.4 686.4 378.7 696.2 378.9 683.4 379.2 684.6 379.4 685.7 379.7 695.7 379.9 679 380.2 672.5 380.4 670.3 380.7 672.9 380.9 658.6 381.1 660.7 381.3 654.1 381.4 654.3 381.6 661.9 381.8 660 382.1 669.9 382.3 657.8 382.6 672.2 382.8 672.1 383.1 675.2 383.3 679.4 383.6 678.3 383.9 672.1 384.1 677.5 384.4 669.3 384.6 662.5 384.9 679.6 385.1 679 385.4 680.3 385.6 684 385.9 672.3 386.2 677 386.4 673.5 386.7 676.7 386.9 679.1 387.2 677.2 387.4 679.9 387.7 673.3 387.9 681.1 388.2 678.2 388.4 676.2 388.7 671.5 389 670.8 389.2 675.4 389.5 677.4 389.7 684.4 390 696.8 390.2 699.3 390.5 719.5 390.7 715.6 391 720.1 391.3 718 391.5 729.5 391.8 726.7 392 731.3 392.3 726.2 392.5 721.9 392.8 719.8 393 718.6 393.3 733 393.5 723.6 393.8 736.3 394.1 738 394.3 732 394.6 755 394.8 749.9 395.1 738.8 395.3 736.6 395.6 732.3 395.8 729.7 396.1 731.1 396.4 731.4 396.6 736.8 396.9 718.2 397.1 725.5 397.4 722.2 397.6 728.5 397.9 734.6 398.1 721.2 398.4 713.2 398.6 729.2 398.9 712.3 399.2 705.3 399.4 708.3 399.7 718.8 399.9 704.2 400.2 702.4 400.4 700.7 400.7 693.5 400.9 696.9 401.2 703.2 401.5 711 401.7 715.7 402 711.7 402.2 721.9 402.5 733.1 402.7 723.5 403 728.2 403.2 727.3 403.5 712 403.7 720.5 404 720 404.3 728.1 404.5 740.7 404.8 733.9 405 731.9 405.3 733.4 405.5 726.7 405.8 735.4 406 726.6 406.3 727.8 406.6 714.8 406.8 724.9 407.1 715 407.3 710.7 407.6 706.7 407.8 705.5 408.1 707.1 408.3 695.7 408.6 687.8 408.8 707 409.1 700.1 409.4 689.3 409.6 689.5 409.9 685.8 410.1 674.2 410.4 679.4 410.6 669.6 410.9 684.8 411.1 664.8 411.4 667.4 411.7 663.2 411.9 656.2 412.2 658.5 412.4 659.5 412.7 654.7 412.9 658 413.2 643.8 413.4 662.4 413.7 662.2 414 671.4 414.2 677.2 414.5 686.8 414.7 691.3 415 695.3 415.2 711.6 415.5 703.1 415.7 692.4 416 696.5 416.2 693.7 416.5 694.6 416.8 686.9 417 683.4 417.3 684.1 417.5 688 417.8 698.3 418 695.5 418.3 696.6 418.5 700.4 418.8 690.9 419.1 690.8 419.3 694.5 419.5 688.9 419.6 685.3 419.8 697.2 420 696.4 420 695.1 420.1 699.2 420.2 687.3 420.3 694 420.5 699.6 420.7 695.7 420.8 697.2 421 692.1 421.2 688.1 421.5 706.6 421.7 702 422 703.8 422.2 686.4 422.5 708.6 422.8 698.2 423 697.8 423.3 686.8 423.5 680.4 423.8 688.4 424 686.5 424.2 676 424.4 685.4 424.6 676.9 424.9 674.1 425.1 673.7 425.4 681.3 425.6 684.1 425.9 683.7 426.1 690.8 426.4 692.3 426.6 697.9 426.9 698.7 427.1 696.8 427.4 703.1 427.7 686.9 427.9 687.8 428.2 688.7 428.4 693.9 428.7 699.2 428.9 700.2 429.2 697.9 429.4 707.9 429.7 715.7 430 709.6 430.2 721 430.5 728.6 430.7 716.6 431 721.1 431.1 732.2 431.3 738.3 431.4 743.1 431.6 754.3 431.8 752.8 432.1 730.7 432.3 738.3 432.6 724.2 432.9 722.4 433.1 721 433.4 706.8 433.6 716.9 433.9 709.4 434.1 716.6 434.4 702.5 434.6 694.7 434.9 695.8 435.2 688.7 435.4 690.9 435.7 681.1 435.9 680.4 436.1 688 436.3 674.3 436.5 669.1 436.7 683 437 679.7 437.2 689.1 437.5 696.7 437.8 713.2 438 707.9 438.3 703.6 438.5 720 438.8 722 439 701.4 439.3 707.7 439.5 708.4 439.8 688.2 440.1 697.2 440.3 706.6 440.6 700.8 440.8 691.9 441.1 710 441.3 704.8 441.6 711 441.8 718.4 442.1 718.7 442.3 715.8 442.6 721.1 442.9 712.4 443.1 717.9 443.4 707.6 443.6 706 443.9 698.3 444.1 711 444.4 700.9 444.6 695.3 444.9 699 445.2 692.2 445.4 688.2 445.7 685.9 445.9 698.8 446.2 695.3 446.4 707.5 446.7 704.6 446.9 708.4 447.2 699 447.4 698.4 447.7 696 448 689.6 448.2 705.9 448.5 683.5 448.7 693.6 449 682.2 449.2 691.6 449.5 688.9 449.7 682.6 450 683.9 450.3 680.8 450.5 670.7 450.8 679.7 451 667.7 451.3 666.6 451.5 658.2 451.8 659 452 650.5 452.3 655.7 452.5 657.5 452.8 657.5 453.1 663.1 453.3 655.5 453.6 652.2 453.8 648.7 454.1 648.1 454.3 644.5 454.6 650.7 454.8 643.8 455.1 653.5 455.4 654 455.6 666.7 455.9 664.2 456.1 674.5 456.4 665.9 456.6 666.1 456.9 673.2 457.1 671.6 457.4 659.7 457.6 664.6 457.9 652.4 458.2 664.9 458.4 664.3 458.7 669.3 458.9 666.6 459.2 669 459.4 667.6 459.7 661.7 459.9 663.3 460.2 663.2 460.5 658.5 460.7 658.1 461 648.3 461.2 670.3 461.5 657.2 461.7 656.8 462 660.3 462.2 658 462.5 649.7 462.7 651.9 463 654.6 463.3 656.7 463.5 653.3 463.8 652.3 464 643.2 464.3 644.6 464.5 642.2 464.8 656.5 465 660.2 465.3 666.4 465.6 668 465.8 667.9 466.1 674.2 466.3 684.6 466.6 671.3 466.8 680.4 467.1 690.3 467.3 685.9 467.6 699.5 467.8 694.8 468.1 696.8 468.4 699.7 468.6 699.5 468.9 710.3 469.1 705.8 469.4 727.5 469.6 721.2 469.9 718.9 470.1 727.8 470.4 730.6 470.7 724.3 470.9 721 471.2 715.8 471.4 711.6 471.7 716.2 471.9 701.2 472.2 699.6 472.4 691.2 472.7 688.7 473 679.2 473.2 677 473.4 680.9 473.6 680.9 473.8 678.1 474 664.4 474.3 670.5 474.5 672.1 474.8 682.2 475 687 475.3 677.5 475.6 697.4 475.8 710.1 476.1 704.4 476.3 701.4 476.6 727.1 476.8 726.1 477.1 721.1 477.3 709.1 477.6 709.6 477.8 707.4 478.1 707.9 478.3 701.8 478.5 714.7 478.7 705.1 479 704 479.2 706.5 479.5 721.8 479.7 713.6 480 727.2 480.2 722.2 480.5 708.7 480.7 701.4 481 698 481.2 692 481.5 696 481.8 715.7 482 713.5 482.3 716.8 482.5 718.1 482.8 719.8 483 743.2 483.3 723.3 483.5 723 483.8 717.3 484.1 703.3 484.3 708.3 484.6 693.7 484.8 688.1 485.1 688 485.3 692.9 485.6 697.3 485.8 697.1 486.1 706 486.3 702.6 486.6 709.4 486.9 706.1 487.1 711 487.4 720.9 487.6 707.5 487.9 700 488.1 703 488.4 682.3 488.6 700.1 488.9 698.7 489.2 690.2 489.4 702.2 489.7 692.9 489.9 693.5 490.2 697.6 490.4 695.4 490.7 700.7 490.9 694.6 491.2 697.2 491.5 692.5 491.7 704.8 492 702.6 492.2 704.6 492.5 706.6 492.7 694.5 493 690 493.2 681.2 493.5 690 493.7 686.3 494 695 494.3 696.8 494.5 685.2 494.8 680.7 495 684.2 495.3 683 495.5 682.1 495.8 683 496 689.2 496.3 686.2 496.6 681.4 496.8 689.5 497.1 696.9 497.3 694.9 497.6 694.4 497.8 696.6 498.1 699.8 498.3 701.6 498.6 697.7 498.8 694.1 499.1 690.2 499.4 688.7 499.6 678.7 499.9 688.9 500.1 674.2 500.4 679 500.6 681.1 500.9 675.4 501.1 685.4 501.4 667 501.7 672.1 501.9 672.1 502.2 673.1 502.4 690.2 502.7 685.9 502.9 685.1 503.2 667.6 503.4 669.8 503.7 660.9 503.9 666.4 504.2 655.9 504.5 651 504.7 653.5 505 669.1 505.2 667.1 505.5 678.5 505.7 676.6 506 677.2 506.2 689.1 506.5 687.3 506.8 681.2 507 689.6 507.3 699.7 507.5 694.7 507.8 683.6 508 685.4 508.3 686.8 508.5 674.5 508.8 677.7 509 679.5 509.3 684.3 509.6 687.6 509.8 698.1 510.1 685.5 510.3 694.6 510.6 700.3 510.8 679 511.1 680.4 511.3 678.3 511.6 664.4 511.9 663.8 512.1 669.5 512.4 686.7 512.6 687.2 512.9 688.1 513.1 691.6 513.4 687.7 513.6 700.8 513.9 707.4 514.1 702.1 514.4 701.7 514.7 687.3 514.9 690 515.2 678.5 515.4 680 515.7 674.9 515.9 679.2 516.2 684.4 516.4 684.1 516.7 695.7 517 708 517.2 699 517.5 682.6 517.7 682.8 518 688.9 518.2 672 518.5 675.6 518.7 670.4 519 678.2 519.2 663.6 519.5 661.7 519.8 662.4 520 669.7 520.3 661.4 520.5 686.1 520.8 681.1 521 684.2 521.3 692.6 521.5 692.3 521.8 696.2 522.1 687 522.3 687.8 522.6 686.7 522.8 680.2 523.1 682.9 523.3 672.5 523.6 672.4 523.8 671.8 524.1 670.5 524.4 683.3 524.6 674.3 524.9 687.6 525.1 681.1 525.4 682.1 525.6 671.4 525.9 681.3 526.1 668 526.4 668.8 526.6 670.4 526.9 673.5 527.2 673.5 527.4 658.8 527.7 655.5 527.9 650.7 528.2 653.9 528.4 661.1 528.7 671 528.9 673.9 529.2 674.6 529.5 685.1 529.7 670.9 530 685.6 530.2 691.7 530.5 690.7 530.7 694.3 531 705.9 531.1 709.1 531.3 704.8 531.4 714.7 531.6 712.7 531.8 709.3 532 703.7 532.2 685.6 532.4 683.9 532.7 670.6 532.9 672.4 533.2 664.4 533.4 646.7 533.7 655.3 533.9 663.8 534.2 674 534.4 669.9 534.7 662.3 535 688.8 535.2 682.5 535.5 683.6 535.7 674.6 536 688.2 536.2 689.7 536.5 688.3 536.7 689.4 537 705.7 537.3 681.6 537.5 673.6 537.8 690.2 538 692.2 538.3 694.4 538.5 684.5 538.8 684.5 539 695.3 539.3 690.1 539.6 695.3 539.8 694 540 685.7 540.2 687.7 540.4 688.5" fill="none" stroke="#fff" stroke-width="1.0" stroke-linejoin="round"/>
<path d="M302.4 712.4 302.6 720 302.9 723.8 303.1 724.8 303.4 734.2 303.6 723.8 303.9 717.7 304.1 708.9 304.4 706.1 304.7 708 304.9 719.4 305.2 733.2 305.4 741.7 305.7 739.6 305.9 726.9 306.2 726.3 306.4 713.2 306.7 701.6 307 710.9 307.2 704.4 307.5 706.9 307.7 714.9 308 704.7 308.2 704.6 308.5 704 308.7 696.7 309 701.9 309.2 690.7 309.5 692.6 309.8 689.1 310 691.1 310.3 695.2 310.5 688.2 310.8 690.4 311 698 311.3 698.4 311.5 706.8 311.8 698.2 312.1 696 312.3 687.1 312.6 688.2 312.8 696.8 313.1 693.4 313.3 699.8 313.6 705.4 313.8 698.6 314.1 710.2 314.3 714.3 314.6 713.3 314.9 714.5 315.1 705.6 315.4 706.4 315.6 704 315.9 714.8 316.1 699.2 316.4 694.3 316.6 699.3 316.9 703.6 317.2 697.3 317.4 706.3 317.7 694.6 317.9 698.9 318.2 694 318.4 689.3 318.7 705.4 318.9 697.9 319.2 690.7 319.4 690.9 319.7 681.5 320 691.6 320.2 686.3 320.5 683 320.7 678 321 692.9 321.2 697.7 321.5 700.9 321.7 701.6 322 699.9 322.3 698.1 322.5 694.6 322.8 691.5 323 686.1 323.3 691 323.5 689.3 323.8 698.8 324 684 324.3 690.2 324.5 699.3 324.8 704.8 325.1 712.5 325.3 709.6 325.6 710.5 325.8 719.1 326.1 713.3 326.3 729.7 326.6 723.5 326.8 735.1 327.1 731.3 327.4 743.9 327.6 744.8 327.9 743.6 328.1 736.9 328.4 730.9 328.6 732.1 328.9 724.7 329.1 717.8 329.4 732.2 329.7 738.6 329.9 730.4 330.2 728.8 330.4 728.7 330.7 727 330.9 720.7 331.2 715.7 331.4 701.2 331.7 702.7 331.9 706.3 332.2 712.6 332.5 713.8 332.7 714.5 333 728.8 333.2 733.5 333.5 714.9 333.7 740.4 334 741.3 334.2 742.6 334.5 742.7 334.8 730.3 335 733.8 335.3 744.7 335.5 739.2 335.8 735.6 336 739.7 336.3 745.5 336.5 729.1 336.8 737.3 337 738.5 337.3 744.2 337.6 731.5 337.8 727.3 338.1 725.4 338.3 734.5 338.6 727.5 338.8 742.3 339.1 740.5 339.3 739.3 339.6 730.4 339.9 734.1 340.1 726.2 340.4 731.2 340.6 722.2 340.9 721.9 341.1 714.2 341.4 713.6 341.6 728.2 341.9 715.9 342.1 700.7 342.4 719.5 342.7 708.3 342.9 705.9 343.2 709.2 343.4 708.8 343.7 705 343.9 692.7 344.2 700.3 344.4 696 344.7 697.1 345 698.2 345.2 703.7 345.5 711.9 345.7 698.8 346 690 346.2 692.5 346.5 693.2 346.7 687.2 347 693.5 347.2 697.8 347.5 708.6 347.8 697.6 348 695.5 348.3 704 348.5 702.5 348.8 710.8 349 716.3 349.3 723.3 349.5 727.9 349.8 719.9 350.1 732.8 350.3 728.8 350.6 725.3 350.8 721.2 351.1 720.1 351.3 709.3 351.6 701.3 351.8 707.1 352.1 704.5 352.3 704.4 352.6 701.2 352.9 693.3 353.1 690 353.4 688.7 353.6 692 353.9 692.5 354.1 683.2 354.4 687.4 354.6 685.4 354.9 681.1 355.2 666.6 355.4 680 355.7 685.1 355.9 682.7 356.2 679.3 356.4 681.8 356.7 691.5 356.9 692 357.2 692 357.4 692.6 357.7 701.7 358 704.8 358.2 699.3 358.5 702.8 358.7 707.7 359 702.9 359.2 715.6 359.5 709.7 359.7 716 360 722.6 360.3 724.5 360.5 725.4 360.8 733.5 361 742.6 361.3 743.3 361.5 739.9 361.6 731.3 361.8 737.8 361.9 735.8 362 742.6 362.2 723.8 362.5 723.1 362.7 738.7 363 726 363.2 712.3 363.5 708.8 363.8 697.8 364 705.3 364.3 706.5 364.5 700.5 364.8 696 365 691.7 365.2 684.9 365.4 676.9 365.6 678.6 365.9 663 366.1 673.1 366.3 680.4 366.5 696.6 366.7 699.7 366.9 709.9 367.2 703.7 367.4 718.6 367.7 728.7 367.9 727.6 368.2 723.5 368.5 726.1 368.7 720.5 369 727 369.2 723.4 369.5 736.5 369.7 734.7 370 736.6 370.2 754 370.5 737.2 370.7 738.2 371 745.5 371.3 742 371.5 756.3 371.8 761.2 372 754.7 372.3 742.5 372.5 732.8 372.8 731.3 373 731.7 373.3 734.2 373.6 735.5 373.8 741.7 374.1 734.8 374.3 735.1 374.6 733.6 374.8 720 375.1 730.3 375.3 724.9 375.6 736.7 375.8 724.3 376.1 723.1 376.4 724.1 376.6 727.1 376.9 715.2 377.1 708.2 377.4 703.2 377.6 697.5 377.9 702.8 378.1 696.8 378.4 686.4 378.7 696.2 378.9 683.4 379.2 684.6 379.4 685.7 379.7 695.7 379.9 679 380.2 672.5 380.4 670.3 380.7 672.9 380.9 658.6 381.1 660.7 381.3 654.1 381.4 654.3 381.6 661.9 381.8 660 382.1 669.9 382.3 657.8 382.6 672.2 382.8 672.1 383.1 675.2 383.3 679.4 383.6 678.3 383.9 672.1 384.1 677.5 384.4 669.3 384.6 662.5 384.9 679.6 385.1 679 385.4 680.3 385.6 684 385.9 672.3 386.2 677 386.4 673.5 386.7 676.7 386.9 679.1 387.2 677.2 387.4 679.9 387.7 673.3 387.9 681.1 388.2 678.2 388.4 676.2 388.7 671.5 389 670.8 389.2 675.4 389.5 677.4 389.7 684.4 390 696.8 390.2 699.3 390.5 719.5 390.7 715.6 391 720.1 391.3 718 391.5 729.5 391.8 726.7 392 731.3 392.3 726.2 392.5 721.9 392.8 719.8 393 718.6 393.3 733 393.5 723.6 393.8 736.3 394.1 738 394.3 732 394.6 755 394.8 749.9 395.1 738.8 395.3 736.6 395.6 732.3 395.8 729.7 396.1 731.1 396.4 731.4 396.6 736.8 396.9 718.2 397.1 725.5 397.4 722.2 397.6 728.5 397.9 734.6 398.1 721.2 398.4 713.2 398.6 729.2 398.9 712.3 399.2 705.3 399.4 708.3 399.7 718.8 399.9 704.2 400.2 702.4 400.4 700.7 400.7 693.5 400.9 696.9 401.2 703.2 401.5 711 401.7 715.7 402 711.7 402.2 721.9 402.5 733.1 402.7 723.5 403 728.2 403.2 727.3 403.5 712 403.7 720.5 404 720 404.3 728.1 404.5 740.7 404.8 733.9 405 731.9 405.3 733.4 405.5 726.7 405.8 735.4 406 726.6 406.3 727.8 406.6 714.8 406.8 724.9 407.1 715 407.3 710.7 407.6 706.7 407.8 705.5 408.1 707.1 408.3 695.7 408.6 687.8 408.8 707 409.1 700.1 409.4 689.3 409.6 689.5 409.9 685.8 410.1 674.2 410.4 679.4 410.6 669.6 410.9 684.8 411.1 664.8 411.4 667.4 411.7 663.2 411.9 656.2 412.2 658.5 412.4 659.5 412.7 654.7 412.9 658 413.2 643.8 413.4 662.4 413.7 662.2 414 671.4 414.2 677.2 414.5 686.8 414.7 691.3 415 695.3 415.2 711.6 415.5 703.1 415.7 692.4 416 696.5 416.2 693.7 416.5 694.6 416.8 686.9 417 683.4 417.3 684.1 417.5 688 417.8 698.3 418 695.5 418.3 696.6 418.5 700.4 418.8 690.9 419.1 690.8 419.3 694.5 419.5 688.9 419.6 685.3 419.8 697.2 420 696.4 420 695.1 420.1 699.2 420.2 687.3 420.3 694 420.5 699.6 420.7 695.7 420.8 697.2 421 692.1 421.2 688.1 421.5 706.6 421.7 702 422 703.8 422.2 686.4 422.5 708.6 422.8 698.2 423 697.8 423.3 686.8 423.5 680.4 423.8 688.4 424 686.5 424.2 676 424.4 685.4 424.6 676.9 424.9 674.1 425.1 673.7 425.4 681.3 425.6 684.1 425.9 683.7 426.1 690.8 426.4 692.3 426.6 697.9 426.9 698.7 427.1 696.8 427.4 703.1 427.7 686.9 427.9 687.8 428.2 688.7 428.4 693.9 428.7 699.2 428.9 700.2 429.2 697.9 429.4 707.9 429.7 715.7 430 709.6 430.2 721 430.5 728.6 430.7 716.6 431 721.1 431.1 732.2 431.3 738.3 431.4 743.1 431.6 754.3 431.8 752.8 432.1 730.7 432.3 738.3 432.6 724.2 432.9 722.4 433.1 721 433.4 706.8 433.6 716.9 433.9 709.4 434.1 716.6 434.4 702.5 434.6 694.7 434.9 695.8 435.2 688.7 435.4 690.9 435.7 681.1 435.9 680.4 436.1 688 436.3 674.3 436.5 669.1 436.7 683 437 679.7 437.2 689.1 437.5 696.7 437.8 713.2 438 707.9 438.3 703.6 438.5 720 438.8 722 439 701.4 439.3 707.7 439.5 708.4 439.8 688.2 440.1 697.2 440.3 706.6 440.6 700.8 440.8 691.9 441.1 710 441.3 704.8 441.6 711 441.8 718.4 442.1 718.7 442.3 715.8 442.6 721.1 442.9 712.4 443.1 717.9 443.4 707.6 443.6 706 443.9 698.3 444.1 711 444.4 700.9 444.6 695.3 444.9 699 445.2 692.2 445.4 688.2 445.7 685.9 445.9 698.8 446.2 695.3 446.4 707.5 446.7 704.6 446.9 708.4 447.2 699 447.4 698.4 447.7 696 448 689.6 448.2 705.9 448.5 683.5 448.7 693.6 449 682.2 449.2 691.6 449.5 688.9 449.7 682.6 450 683.9 450.3 680.8 450.5 670.7 450.8 679.7 451 667.7 451.3 666.6 451.5 658.2 451.8 659 452 650.5 452.3 655.7 452.5 657.5 452.8 657.5 453.1 663.1 453.3 655.5 453.6 652.2 453.8 648.7 454.1 648.1 454.3 644.5 454.6 650.7 454.8 643.8 455.1 653.5 455.4 654 455.6 666.7 455.9 664.2 456.1 674.5 456.4 665.9 456.6 666.1 456.9 673.2 457.1 671.6 457.4 659.7 457.6 664.6 457.9 652.4 458.2 664.9 458.4 664.3 458.7 669.3 458.9 666.6 459.2 669 459.4 667.6 459.7 661.7 459.9 663.3 460.2 663.2 460.5 658.5 460.7 658.1 461 648.3 461.2 670.3 461.5 657.2 461.7 656.8 462 660.3 462.2 658 462.5 649.7 462.7 651.9 463 654.6 463.3 656.7 463.5 653.3 463.8 652.3 464 643.2 464.3 644.6 464.5 642.2 464.8 656.5 465 660.2 465.3 666.4 465.6 668 465.8 667.9 466.1 674.2 466.3 684.6 466.6 671.3 466.8 680.4 467.1 690.3 467.3 685.9 467.6 699.5 467.8 694.8 468.1 696.8 468.4 699.7 468.6 699.5 468.9 710.3 469.1 705.8 469.4 727.5 469.6 721.2 469.9 718.9 470.1 727.8 470.4 730.6 470.7 724.3 470.9 721 471.2 715.8 471.4 711.6 471.7 716.2 471.9 701.2 472.2 699.6 472.4 691.2 472.7 688.7 473 679.2 473.2 677 473.4 680.9 473.6 680.9 473.8 678.1 474 664.4 474.3 670.5 474.5 672.1 474.8 682.2 475 687 475.3 677.5 475.6 697.4 475.8 710.1 476.1 704.4 476.3 701.4 476.6 727.1 476.8 726.1 477.1 721.1 477.3 709.1 477.6 709.6 477.8 707.4 478.1 707.9 478.3 701.8 478.5 714.7 478.7 705.1 479 704 479.2 706.5 479.5 721.8 479.7 713.6 480 727.2 480.2 722.2 480.5 708.7 480.7 701.4 481 698 481.2 692 481.5 696 481.8 715.7 482 713.5 482.3 716.8 482.5 718.1 482.8 719.8 483 743.2 483.3 723.3 483.5 723 483.8 717.3 484.1 703.3 484.3 708.3 484.6 693.7 484.8 688.1 485.1 688 485.3 692.9 485.6 697.3 485.8 697.1 486.1 706 486.3 702.6 486.6 709.4 486.9 706.1 487.1 711 487.4 720.9 487.6 707.5 487.9 700 488.1 703 488.4 682.3 488.6 700.1 488.9 698.7 489.2 690.2 489.4 702.2 489.7 692.9 489.9 693.5 490.2 697.6 490.4 695.4 490.7 700.7 490.9 694.6 491.2 697.2 491.5 692.5 491.7 704.8 492 702.6 492.2 704.6 492.5 706.6 492.7 694.5 493 690 493.2 681.2 493.5 690 493.7 686.3 494 695 494.3 696.8 494.5 685.2 494.8 680.7 495 684.2 495.3 683 495.5 682.1 495.8 683 496 689.2 496.3 686.2 496.6 681.4 496.8 689.5 497.1 696.9 497.3 694.9 497.6 694.4 497.8 696.6 498.1 699.8 498.3 701.6 498.6 697.7 498.8 694.1 499.1 690.2 499.4 688.7 499.6 678.7 499.9 688.9 500.1 674.2 500.4 679 500.6 681.1 500.9 675.4 501.1 685.4 501.4 667 501.7 672.1 501.9 672.1 502.2 673.1 502.4 690.2 502.7 685.9 502.9 685.1 503.2 667.6 503.4 669.8 503.7 660.9 503.9 666.4 504.2 655.9 504.5 651 504.7 653.5 505 669.1 505.2 667.1 505.5 678.5 505.7 676.6 506 677.2 506.2 689.1 506.5 687.3 506.8 681.2 507 689.6 507.3 699.7 507.5 694.7 507.8 683.6 508 685.4 508.3 686.8 508.5 674.5 508.8 677.7 509 679.5 509.3 684.3 509.6 687.6 509.8 698.1 510.1 685.5 510.3 694.6 510.6 700.3 510.8 679 511.1 680.4 511.3 678.3 511.6 664.4 511.9 663.8 512.1 669.5 512.4 686.7 512.6 687.2 512.9 688.1 513.1 691.6 513.4 687.7 513.6 700.8 513.9 707.4 514.1 702.1 514.4 701.7 514.7 687.3 514.9 690 515.2 678.5 515.4 680 515.7 674.9 515.9 679.2 516.2 684.4 516.4 684.1 516.7 695.7 517 708 517.2 699 517.5 682.6 517.7 682.8 518 688.9 518.2 672 518.5 675.6 518.7 670.4 519 678.2 519.2 663.6 519.5 661.7 519.8 662.4 520 669.7 520.3 661.4 520.5 686.1 520.8 681.1 521 684.2 521.3 692.6 521.5 692.3 521.8 696.2 522.1 687 522.3 687.8 522.6 686.7 522.8 680.2 523.1 682.9 523.3 672.5 523.6 672.4 523.8 671.8 524.1 670.5 524.4 683.3 524.6 674.3 524.9 687.6 525.1 681.1 525.4 682.1 525.6 671.4 525.9 681.3 526.1 668 526.4 668.8 526.6 670.4 526.9 673.5 527.2 673.5 527.4 658.8 527.7 655.5 527.9 650.7 528.2 653.9 528.4 661.1 528.7 671 528.9 673.9 529.2 674.6 529.5 685.1 529.7 670.9 530 685.6 530.2 691.7 530.5 690.7 530.7 694.3 531 705.9 531.1 709.1 531.3 704.8 531.4 714.7 531.6 712.7 531.8 709.3 532 703.7 532.2 685.6 532.4 683.9 532.7 670.6 532.9 672.4 533.2 664.4 533.4 646.7 533.7 655.3 533.9 663.8 534.2 674 534.4 669.9 534.7 662.3 535 688.8 535.2 682.5 535.5 683.6 535.7 674.6 536 688.2 536.2 689.7 536.5 688.3 536.7 689.4 537 705.7 537.3 681.6 537.5 673.6 537.8 690.2 538 692.2 538.3 694.4 538.5 684.5 538.8 684.5 539 695.3 539.3 690.1 539.6 695.3 539.8 694 540 685.7 540.2 687.7 540.4 688.5" fill="none" stroke="#2677c2" stroke-width="0.88" stroke-linejoin="round"/>
</g>
<rect x="301.4" y="601.7" width="238.4" height="158.6" fill="none" stroke="#737373" stroke-width="0.85"/>
<line x1="299" y1="760.3" x2="301.4" y2="760.3" stroke="#737373" stroke-width="0.6"/>
<text x="298.1" y="762.2" text-anchor="end" class="tk">7800</text>
<line x1="300.1" y1="748.97" x2="301.4" y2="748.97" stroke="#737373" stroke-width="0.6"/>
<line x1="299" y1="737.64" x2="301.4" y2="737.64" stroke="#737373" stroke-width="0.6"/>
<text x="298.1" y="739.54" text-anchor="end" class="tk">8000</text>
<line x1="300.1" y1="726.31" x2="301.4" y2="726.31" stroke="#737373" stroke-width="0.6"/>
<line x1="299" y1="714.99" x2="301.4" y2="714.99" stroke="#737373" stroke-width="0.6"/>
<text x="298.1" y="716.89" text-anchor="end" class="tk">8200</text>
<line x1="300.1" y1="703.66" x2="301.4" y2="703.66" stroke="#737373" stroke-width="0.6"/>
<line x1="299" y1="692.33" x2="301.4" y2="692.33" stroke="#737373" stroke-width="0.6"/>
<text x="298.1" y="694.23" text-anchor="end" class="tk">8400</text>
<line x1="300.1" y1="681" x2="301.4" y2="681" stroke="#737373" stroke-width="0.6"/>
<line x1="299" y1="669.67" x2="301.4" y2="669.67" stroke="#737373" stroke-width="0.6"/>
<text x="298.1" y="671.57" text-anchor="end" class="tk">8600</text>
<line x1="300.1" y1="658.34" x2="301.4" y2="658.34" stroke="#737373" stroke-width="0.6"/>
<line x1="299" y1="647.01" x2="301.4" y2="647.01" stroke="#737373" stroke-width="0.6"/>
<text x="298.1" y="648.91" text-anchor="end" class="tk">8800</text>
<line x1="300.1" y1="635.69" x2="301.4" y2="635.69" stroke="#737373" stroke-width="0.6"/>
<line x1="299" y1="624.36" x2="301.4" y2="624.36" stroke="#737373" stroke-width="0.6"/>
<text x="298.1" y="626.26" text-anchor="end" class="tk">9000</text>
<line x1="300.1" y1="613.03" x2="301.4" y2="613.03" stroke="#737373" stroke-width="0.6"/>
<line x1="299" y1="601.7" x2="301.4" y2="601.7" stroke="#737373" stroke-width="0.6"/>
<text x="298.1" y="603.6" text-anchor="end" class="tk">9200</text>
<line x1="301.4" y1="760.3" x2="301.4" y2="762.5" stroke="#737373" stroke-width="0.6"/>
<text x="301.4" y="767.8" text-anchor="middle" class="tk">0</text>
<line x1="321.27" y1="760.3" x2="321.27" y2="761.5" stroke="#737373" stroke-width="0.6"/>
<line x1="341.13" y1="760.3" x2="341.13" y2="762.5" stroke="#737373" stroke-width="0.6"/>
<text x="341.13" y="767.8" text-anchor="middle" class="tk">100</text>
<line x1="361" y1="760.3" x2="361" y2="761.5" stroke="#737373" stroke-width="0.6"/>
<line x1="380.87" y1="760.3" x2="380.87" y2="762.5" stroke="#737373" stroke-width="0.6"/>
<text x="380.87" y="767.8" text-anchor="middle" class="tk">200</text>
<line x1="400.73" y1="760.3" x2="400.73" y2="761.5" stroke="#737373" stroke-width="0.6"/>
<line x1="420.6" y1="760.3" x2="420.6" y2="762.5" stroke="#737373" stroke-width="0.6"/>
<text x="420.6" y="767.8" text-anchor="middle" class="tk">300</text>
<line x1="440.47" y1="760.3" x2="440.47" y2="761.5" stroke="#737373" stroke-width="0.6"/>
<line x1="460.33" y1="760.3" x2="460.33" y2="762.5" stroke="#737373" stroke-width="0.6"/>
<text x="460.33" y="767.8" text-anchor="middle" class="tk">400</text>
<line x1="480.2" y1="760.3" x2="480.2" y2="761.5" stroke="#737373" stroke-width="0.6"/>
<line x1="500.07" y1="760.3" x2="500.07" y2="762.5" stroke="#737373" stroke-width="0.6"/>
<text x="500.07" y="767.8" text-anchor="middle" class="tk">500</text>
<line x1="519.93" y1="760.3" x2="519.93" y2="761.5" stroke="#737373" stroke-width="0.6"/>
<line x1="539.8" y1="760.3" x2="539.8" y2="762.5" stroke="#737373" stroke-width="0.6"/>
<text x="539.8" y="767.8" text-anchor="middle" class="tk">600</text>
<text x="420.6" y="777.6" text-anchor="middle" class="lb">Sample Number</text>
<text x="420.6" y="786.1" text-anchor="middle" class="lb">(h) Test set with improved TimeGAN</text>
<text x="286" y="681" text-anchor="middle" class="lb" transform="rotate(-90 286 681)">Value</text>
<rect x="473.8" y="601.7" width="66" height="17.3" fill="#fff" stroke="#8a8a8a" stroke-width="0.6"/>
<line x1="474.3" y1="605.9" x2="489.8" y2="605.9" stroke="#f28c18" stroke-width="1" opacity="0.75"/>
<line x1="474.3" y1="614.9" x2="489.8" y2="614.9" stroke="#2677c2" stroke-width="1" opacity="0.75"/>
<text x="491.7" y="608.6" class="lg">True value</text>
<text x="491.7" y="617.6" class="lg">Predicted value</text>
<path d="M301.4 601.7H539.8V760.3" fill="none" stroke="#737373" stroke-width="0.85"/>
</svg>
</body></html>
